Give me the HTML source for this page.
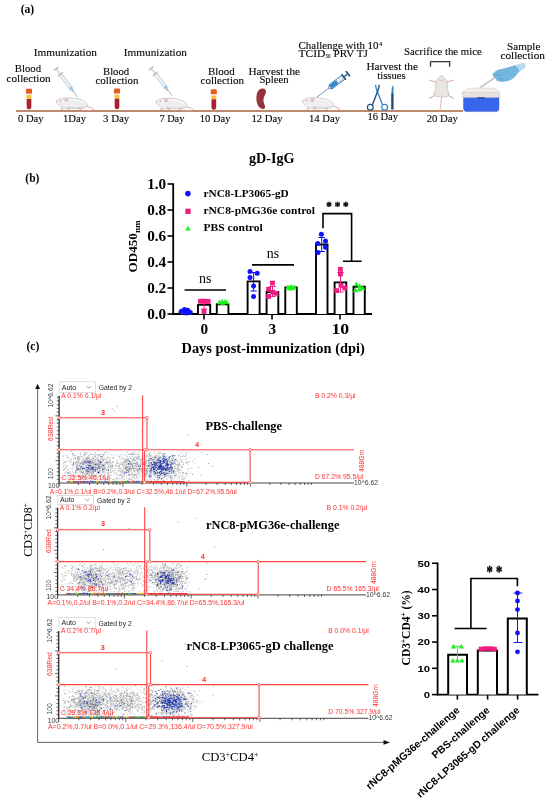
<!DOCTYPE html>
<html><head><meta charset="utf-8"><title>Figure</title>
<style>html,body{margin:0;padding:0;background:#fff;}svg{display:block;}</style></head>
<body><svg width="550" height="805" viewBox="0 0 550 805">
<rect width="550" height="805" fill="#fff"/>
<text x="20.7" y="13.2" font-family="'Liberation Serif', 'Times New Roman', serif" font-size="11.6" fill="#000" font-weight="bold" >(a)</text>
<g stroke="#222" stroke-width="0.12">
<line x1="16" y1="111.05" x2="463" y2="111.05" stroke="#a5643a" stroke-width="1.5" />
<text x="33.8" y="55.7" font-family="'Liberation Serif', 'Times New Roman', serif" font-size="10.2" fill="#000" textLength="63.2" lengthAdjust="spacingAndGlyphs" >Immunization</text>
<text x="123.8" y="55.7" font-family="'Liberation Serif', 'Times New Roman', serif" font-size="10.2" fill="#000" textLength="63.2" lengthAdjust="spacingAndGlyphs" >Immunization</text>
<text x="14.8" y="72" font-family="'Liberation Serif', 'Times New Roman', serif" font-size="10.2" fill="#000" textLength="26.2" lengthAdjust="spacingAndGlyphs" >Blood</text>
<text x="6.5" y="81.9" font-family="'Liberation Serif', 'Times New Roman', serif" font-size="10.2" fill="#000" textLength="44.1" lengthAdjust="spacingAndGlyphs" >collection</text>
<text x="103" y="75" font-family="'Liberation Serif', 'Times New Roman', serif" font-size="10.2" fill="#000" textLength="26.2" lengthAdjust="spacingAndGlyphs" >Blood</text>
<text x="95.5" y="84.3" font-family="'Liberation Serif', 'Times New Roman', serif" font-size="10.2" fill="#000" textLength="43.0" lengthAdjust="spacingAndGlyphs" >collection</text>
<text x="207.9" y="75.3" font-family="'Liberation Serif', 'Times New Roman', serif" font-size="10.2" fill="#000" textLength="26.8" lengthAdjust="spacingAndGlyphs" >Blood</text>
<text x="200.5" y="84.3" font-family="'Liberation Serif', 'Times New Roman', serif" font-size="10.2" fill="#000" textLength="43.5" lengthAdjust="spacingAndGlyphs" >collection</text>
<text x="248.5" y="74.5" font-family="'Liberation Serif', 'Times New Roman', serif" font-size="10.2" fill="#000" textLength="51.5" lengthAdjust="spacingAndGlyphs" >Harvest the</text>
<text x="259.4" y="83" font-family="'Liberation Serif', 'Times New Roman', serif" font-size="10.2" fill="#000" textLength="29.2" lengthAdjust="spacingAndGlyphs" >Spleen</text>
<text x="298.6" y="49.1" font-family="'Liberation Serif', 'Times New Roman', serif" font-size="10.2" fill="#000" textLength="79.9" lengthAdjust="spacingAndGlyphs" >Challenge with 10</text>
<text x="378.9" y="45.8" font-family="'Liberation Serif', 'Times New Roman', serif" font-size="6.4" fill="#000" >4</text>
<text x="298.6" y="56.9" font-family="'Liberation Serif', 'Times New Roman', serif" font-size="10.2" fill="#000" textLength="26.7" lengthAdjust="spacingAndGlyphs" >TCID</text>
<text x="325.4" y="57.9" font-family="'Liberation Serif', 'Times New Roman', serif" font-size="6.2" fill="#000" textLength="5.0" lengthAdjust="spacingAndGlyphs" >50</text>
<text x="333.5" y="56.9" font-family="'Liberation Serif', 'Times New Roman', serif" font-size="10.2" fill="#000" textLength="34.3" lengthAdjust="spacingAndGlyphs" >PRV TJ</text>
<text x="366.4" y="70.4" font-family="'Liberation Serif', 'Times New Roman', serif" font-size="10.2" fill="#000" textLength="51.5" lengthAdjust="spacingAndGlyphs" >Harvest the</text>
<text x="377.3" y="79" font-family="'Liberation Serif', 'Times New Roman', serif" font-size="10.2" fill="#000" textLength="28.3" lengthAdjust="spacingAndGlyphs" >tissues</text>
<text x="404" y="54.5" font-family="'Liberation Serif', 'Times New Roman', serif" font-size="10.2" fill="#000" textLength="77.8" lengthAdjust="spacingAndGlyphs" >Sacrifice the mice</text>
<text x="507" y="49.6" font-family="'Liberation Serif', 'Times New Roman', serif" font-size="10.2" fill="#000" textLength="33.4" lengthAdjust="spacingAndGlyphs" >Sample</text>
<text x="500.4" y="58.6" font-family="'Liberation Serif', 'Times New Roman', serif" font-size="10.2" fill="#000" textLength="44.6" lengthAdjust="spacingAndGlyphs" >collection</text>
<text x="18" y="121.9" font-family="'Liberation Serif', 'Times New Roman', serif" font-size="10.2" fill="#000" textLength="25.6" lengthAdjust="spacingAndGlyphs" >0 Day</text>
<text x="63" y="121.9" font-family="'Liberation Serif', 'Times New Roman', serif" font-size="10.2" fill="#000" textLength="23" lengthAdjust="spacingAndGlyphs" >1Day</text>
<text x="103" y="121.9" font-family="'Liberation Serif', 'Times New Roman', serif" font-size="10.2" fill="#000" textLength="26.3" lengthAdjust="spacingAndGlyphs" >3 Day</text>
<text x="159.4" y="121.9" font-family="'Liberation Serif', 'Times New Roman', serif" font-size="10.2" fill="#000" textLength="25" lengthAdjust="spacingAndGlyphs" >7 Day</text>
<text x="199.8" y="121.9" font-family="'Liberation Serif', 'Times New Roman', serif" font-size="10.2" fill="#000" textLength="30.6" lengthAdjust="spacingAndGlyphs" >10 Day</text>
<text x="251.5" y="121.9" font-family="'Liberation Serif', 'Times New Roman', serif" font-size="10.2" fill="#000" textLength="31.2" lengthAdjust="spacingAndGlyphs" >12 Day</text>
<text x="309" y="121.9" font-family="'Liberation Serif', 'Times New Roman', serif" font-size="10.2" fill="#000" textLength="31" lengthAdjust="spacingAndGlyphs" >14 Day</text>
<text x="367.5" y="120.2" font-family="'Liberation Serif', 'Times New Roman', serif" font-size="10.2" fill="#000" textLength="30.5" lengthAdjust="spacingAndGlyphs" >16 Day</text>
<text x="426.7" y="121.9" font-family="'Liberation Serif', 'Times New Roman', serif" font-size="10.2" fill="#000" textLength="31.1" lengthAdjust="spacingAndGlyphs" >20 Day</text>
</g>
<g>
<rect x="26" y="88.8" width="6" height="5" rx="0.8" fill="#ea5a1c"/>
<rect x="26.6" y="95.0" width="4.8" height="4" fill="#f3c430"/>
<path d="M26.6,98.89999999999999 h4.8 v8.2 a2.4,2.4 0 0 1 -4.8,0 z" fill="#ac1f2c"/>
<rect x="26.4" y="94.2" width="5.2" height="15.4" rx="2.2" fill="none" stroke="#e8d8d8" stroke-width="0.4"/>
</g>
<g>
<rect x="114" y="88.6" width="6" height="5" rx="0.8" fill="#ea5a1c"/>
<rect x="114.6" y="94.8" width="4.8" height="4" fill="#f3c430"/>
<path d="M114.6,98.69999999999999 h4.8 v8.2 a2.4,2.4 0 0 1 -4.8,0 z" fill="#ac1f2c"/>
<rect x="114.4" y="94.0" width="5.2" height="15.4" rx="2.2" fill="none" stroke="#e8d8d8" stroke-width="0.4"/>
</g>
<g>
<rect x="210.8" y="89.2" width="6" height="5" rx="0.8" fill="#ea5a1c"/>
<rect x="211.4" y="95.4" width="4.8" height="4" fill="#f3c430"/>
<path d="M211.4,99.3 h4.8 v8.2 a2.4,2.4 0 0 1 -4.8,0 z" fill="#ac1f2c"/>
<rect x="211.20000000000002" y="94.60000000000001" width="5.2" height="15.4" rx="2.2" fill="none" stroke="#e8d8d8" stroke-width="0.4"/>
</g>
<g transform="translate(56,68.5) rotate(53.03)">
<rect x="-0.2" y="-2.6" width="1.2" height="5.2" rx="0.5" fill="#c9d0d7" stroke="#97a1ab" stroke-width="0.35"/>
<rect x="1" y="-0.6" width="6" height="1.2" fill="#dde2e6" stroke="#9aa4ae" stroke-width="0.25"/>
<rect x="6.6" y="-3" width="1.1" height="6" rx="0.4" fill="#c9d0d7" stroke="#97a1ab" stroke-width="0.35"/>
<rect x="7.7" y="-1.6" width="19.22" height="3.2" fill="#edf1f4" stroke="#98a3ad" stroke-width="0.45"/>
<rect x="23.32" y="-1.4" width="2.6" height="2.8" fill="#8cc4ea"/>
<rect x="26.92" y="-0.9" width="1.4" height="1.8" fill="#a3acb5"/>
<line x1="28.32" y1="0" x2="35.42" y2="0" stroke="#6e7780" stroke-width="0.55"/>
</g>
<g transform="translate(151,68) rotate(52.73)">
<rect x="-0.2" y="-2.6" width="1.2" height="5.2" rx="0.5" fill="#c9d0d7" stroke="#97a1ab" stroke-width="0.35"/>
<rect x="1" y="-0.6" width="6" height="1.2" fill="#dde2e6" stroke="#9aa4ae" stroke-width="0.25"/>
<rect x="6.6" y="-3" width="1.1" height="6" rx="0.4" fill="#c9d0d7" stroke="#97a1ab" stroke-width="0.35"/>
<rect x="7.7" y="-1.6" width="18.66" height="3.2" fill="#edf1f4" stroke="#98a3ad" stroke-width="0.45"/>
<rect x="22.76" y="-1.4" width="2.6" height="2.8" fill="#8cc4ea"/>
<rect x="26.36" y="-0.9" width="1.4" height="1.8" fill="#a3acb5"/>
<line x1="27.76" y1="0" x2="34.68" y2="0" stroke="#6e7780" stroke-width="0.55"/>
</g>
<g transform="translate(56,97.6) scale(1.0)">
<path d="M29.5,8.4 C33.5,9.5 37,10.5 37.6,11.8 C36.2,13.2 31,13.3 26,12.9" fill="none" stroke="#e0959a" stroke-width="0.85"/>
<path d="M0,3.7 C1.6,2 4.5,0.6 8,0.3 C12,0 17,0.2 22,1.2 C27.5,2.4 31.5,5 31.4,8 C31.3,10.2 27,10.9 23,10.8 L9.5,10.8 C6,10.4 3.2,8 1.2,5.6 Z" fill="#efefef" stroke="#b4b4b4" stroke-width="0.55"/>
<path d="M11,8.6 C17,10.2 24,10 29.5,8.2 C30.5,9.6 28,10.6 23,10.6 L10,10.6 Z" fill="#d6d6d6"/>
<path d="M14,2 C19,1.6 25,3 28.5,5.5" fill="none" stroke="#fbfbfb" stroke-width="1.2"/>
<ellipse cx="10.3" cy="2.3" rx="2" ry="1.9" fill="#eeeeee" stroke="#bdbdbd" stroke-width="0.45"/>
<ellipse cx="10.4" cy="2.5" rx="1.2" ry="1.1" fill="#eea2aa"/>
<circle cx="4.6" cy="3.3" r="0.6" fill="#c86a74"/>
<circle cx="0.5" cy="4" r="0.55" fill="#e69aa0"/>
<path d="M6.5,10 l-1.8,1.6 h2.6 M12.5,10.6 l-0.6,1.1 h2.3 M23,10.6 l0.6,1.1 h2.3" fill="none" stroke="#e0959a" stroke-width="0.7"/>
</g>
<g transform="translate(155.7,97.9) scale(1.0)">
<path d="M29.5,8.4 C33.5,9.5 37,10.5 37.6,11.8 C36.2,13.2 31,13.3 26,12.9" fill="none" stroke="#e0959a" stroke-width="0.85"/>
<path d="M0,3.7 C1.6,2 4.5,0.6 8,0.3 C12,0 17,0.2 22,1.2 C27.5,2.4 31.5,5 31.4,8 C31.3,10.2 27,10.9 23,10.8 L9.5,10.8 C6,10.4 3.2,8 1.2,5.6 Z" fill="#efefef" stroke="#b4b4b4" stroke-width="0.55"/>
<path d="M11,8.6 C17,10.2 24,10 29.5,8.2 C30.5,9.6 28,10.6 23,10.6 L10,10.6 Z" fill="#d6d6d6"/>
<path d="M14,2 C19,1.6 25,3 28.5,5.5" fill="none" stroke="#fbfbfb" stroke-width="1.2"/>
<ellipse cx="10.3" cy="2.3" rx="2" ry="1.9" fill="#eeeeee" stroke="#bdbdbd" stroke-width="0.45"/>
<ellipse cx="10.4" cy="2.5" rx="1.2" ry="1.1" fill="#eea2aa"/>
<circle cx="4.6" cy="3.3" r="0.6" fill="#c86a74"/>
<circle cx="0.5" cy="4" r="0.55" fill="#e69aa0"/>
<path d="M6.5,10 l-1.8,1.6 h2.6 M12.5,10.6 l-0.6,1.1 h2.3 M23,10.6 l0.6,1.1 h2.3" fill="none" stroke="#e0959a" stroke-width="0.7"/>
</g>
<g transform="translate(302,97.5) scale(1.0)">
<path d="M29.5,8.4 C33.5,9.5 37,10.5 37.6,11.8 C36.2,13.2 31,13.3 26,12.9" fill="none" stroke="#e0959a" stroke-width="0.85"/>
<path d="M0,3.7 C1.6,2 4.5,0.6 8,0.3 C12,0 17,0.2 22,1.2 C27.5,2.4 31.5,5 31.4,8 C31.3,10.2 27,10.9 23,10.8 L9.5,10.8 C6,10.4 3.2,8 1.2,5.6 Z" fill="#efefef" stroke="#b4b4b4" stroke-width="0.55"/>
<path d="M11,8.6 C17,10.2 24,10 29.5,8.2 C30.5,9.6 28,10.6 23,10.6 L10,10.6 Z" fill="#d6d6d6"/>
<path d="M14,2 C19,1.6 25,3 28.5,5.5" fill="none" stroke="#fbfbfb" stroke-width="1.2"/>
<ellipse cx="10.3" cy="2.3" rx="2" ry="1.9" fill="#eeeeee" stroke="#bdbdbd" stroke-width="0.45"/>
<ellipse cx="10.4" cy="2.5" rx="1.2" ry="1.1" fill="#eea2aa"/>
<circle cx="4.6" cy="3.3" r="0.6" fill="#c86a74"/>
<circle cx="0.5" cy="4" r="0.55" fill="#e69aa0"/>
<path d="M6.5,10 l-1.8,1.6 h2.6 M12.5,10.6 l-0.6,1.1 h2.3 M23,10.6 l0.6,1.1 h2.3" fill="none" stroke="#e0959a" stroke-width="0.7"/>
</g>
<path d="M263,88.5 C265.6,88.7 266.6,91 265.6,93.6 C264.2,96.6 262.8,99.2 263.7,102.6 C264.6,105.6 266,107.8 264.3,108.7 C261.5,109.6 258.4,107.6 257.2,103.6 C255.9,99 256.2,93.5 258.4,90.5 C259.7,89 261.3,88.3 263,88.5 Z" fill="#93323a"/>
<path d="M259.2,93.5 C258.4,96.5 258.6,100.5 259.8,104" fill="none" stroke="#a84a50" stroke-width="0.7"/>
<g transform="translate(348.2,73.6) rotate(143.13)">
<rect x="-0.5" y="-3.4" width="1.6" height="6.8" rx="0.5" fill="#1f4f7d"/>
<rect x="1" y="-0.7" width="4.2" height="1.4" fill="#1f4f7d"/>
<rect x="4.8" y="-3.6" width="1.5" height="7.2" rx="0.4" fill="#1f4f7d"/>
<rect x="6.3" y="-2.5" width="16" height="5" fill="#e6f1fa" stroke="#1f4f7d" stroke-width="0.7"/>
<rect x="13.6" y="-2" width="8.2" height="4" fill="#2c86d6"/>
<path d="M8.2,-2.5 v1.6 M9.9,-2.5 v1.6 M11.6,-2.5 v1.6" stroke="#1f4f7d" stroke-width="0.4"/>
<rect x="22.3" y="-1.3" width="2" height="2.6" fill="#e6f1fa" stroke="#1f4f7d" stroke-width="0.5"/>
<line x1="24.3" y1="0" x2="39.00" y2="0" stroke="#3b78b0" stroke-width="0.7"/>
</g>
<circle cx="370.3" cy="107.2" r="2.9" fill="none" stroke="#1f4f7d" stroke-width="1.2"/>
<circle cx="384.6" cy="107.2" r="2.9" fill="none" stroke="#2f86c8" stroke-width="1.2"/>
<path d="M382.6,105 L376.2,88.5 L375.6,84.8" fill="none" stroke="#2f86c8" stroke-width="1.3"/>
<path d="M372.4,105 L378.6,88.5 L379.2,84.8" fill="none" stroke="#1f4f7d" stroke-width="1.4"/>
<path d="M391.2,109.6 L391.2,93.5 Q392.4,92.2 393.6,93.5 L393.6,109.6 Z" fill="#1f4f7d"/>
<path d="M391.4,93 L391.8,88 L393.2,84.6 L393.6,88.5 L393.4,93 Z" fill="#2f86c8"/>
<path d="M430.5,61.6 V66.8 M430.5,61.6 H449.6 V66.8" fill="none" stroke="#333" stroke-width="1.3"/>
<path d="M441.6,96.5 C441.2,101 440.6,106 439.8,111.6" fill="none" stroke="#dcaaa6" stroke-width="0.9"/>
<path d="M436.5,82 L429.6,80.2 M446.5,82 L453.5,80.2 M435.5,95 L429.6,98.2 M447.6,95 L453.3,98.2" fill="none" stroke="#dcb0a8" stroke-width="1.1" stroke-linecap="round"/>
<path d="M441.3,75.5 C443,76.5 445,78 446,80 C447.5,81.5 448,84 447.5,87 C447.2,89.5 448.5,91.5 449,93.5 C449.5,96 446.5,97 443,96.8 L441.5,97.2 L440,96.8 C436.5,97 433.5,96 434,93.5 C434.5,91.5 435.8,89.5 435.5,87 C435,84 435.5,81.5 437,80 C438,78 439.6,76.5 441.3,75.5 Z" fill="#e9e5e3" stroke="#bfaea6" stroke-width="0.55"/>
<path d="M438,79.5 C440,80.5 443,80.5 445,79.5" fill="none" stroke="#d4b4ac" stroke-width="0.6"/>
<path d="M463.5,97 H499 V108.5 Q499,111.6 495.5,111.6 H467 Q463.5,111.6 463.5,108.5 Z" fill="#3765ec" stroke="#2a52c8" stroke-width="0.4"/>
<path d="M462.4,92.4 H499.8 V97.4 H462.4 Z" fill="#e6e2de" stroke="#c2bcb6" stroke-width="0.45"/>
<path d="M468.4,88.2 H494.6 L499.8,92.4 H462.4 Z" fill="#f3f1ee" stroke="#c2bcb6" stroke-width="0.45"/>
<rect x="477.5" y="97.3" width="7" height="1.5" fill="#2447b0"/>
<path d="M480.2,87.6 L496.6,76.4" stroke="#a0a8b0" stroke-width="1.4" stroke-linecap="round"/>
<path d="M480.2,87.6 L496.6,76.4" stroke="#f6f8fa" stroke-width="0.6" stroke-linecap="round"/>
<path d="M511.5,66.8 C515.5,65 520,63.2 524.5,62.6 L526,67.6 C522.5,69.4 519.5,71.6 517,74 Z" fill="#a9d3ec" opacity="0.85"/>
<path d="M493,74 C495,71 499,69.6 503,69 C507,68.2 511,66.6 515,65.6 L519,70.4 C517,74 514.5,77.5 511,79.6 C507,81.6 501,82 497.5,80.8 C496,80.2 496,79.2 497,78.5 C494.5,78 492.5,76 493,74 Z" fill="#74b7de" stroke="#5a9cc6" stroke-width="0.45"/>
<path d="M497,78.5 C499.5,78 502,78.6 503.6,79.8 M495,74.6 C497.6,74.2 500,74.8 501.6,76.2" fill="none" stroke="#4f8fba" stroke-width="0.45"/>
<text x="25.3" y="182.2" font-family="'Liberation Serif', 'Times New Roman', serif" font-size="11.6" fill="#000" font-weight="bold" >(b)</text>
<text x="249" y="162.7" font-family="'Liberation Serif', 'Times New Roman', serif" font-size="14.5" fill="#000" font-weight="bold" textLength="45.5" lengthAdjust="spacingAndGlyphs" >gD-IgG</text>
<line x1="173.2" y1="183.3" x2="173.2" y2="314.8" stroke="#000" stroke-width="1.8" />
<line x1="172.3" y1="314" x2="372" y2="314" stroke="#000" stroke-width="1.8" />
<line x1="167.5" y1="314.0" x2="173.2" y2="314.0" stroke="#000" stroke-width="1.6" />
<text x="166.2" y="319.2" font-family="'Liberation Serif', 'Times New Roman', serif" font-size="13.9" fill="#000" font-weight="bold" text-anchor="end" textLength="19.0" lengthAdjust="spacingAndGlyphs" >0.0</text>
<line x1="167.5" y1="288.0" x2="173.2" y2="288.0" stroke="#000" stroke-width="1.6" />
<text x="166.2" y="293.2" font-family="'Liberation Serif', 'Times New Roman', serif" font-size="13.9" fill="#000" font-weight="bold" text-anchor="end" textLength="19.0" lengthAdjust="spacingAndGlyphs" >0.2</text>
<line x1="167.5" y1="262.0" x2="173.2" y2="262.0" stroke="#000" stroke-width="1.6" />
<text x="166.2" y="267.2" font-family="'Liberation Serif', 'Times New Roman', serif" font-size="13.9" fill="#000" font-weight="bold" text-anchor="end" textLength="19.0" lengthAdjust="spacingAndGlyphs" >0.4</text>
<line x1="167.5" y1="236.0" x2="173.2" y2="236.0" stroke="#000" stroke-width="1.6" />
<text x="166.2" y="241.2" font-family="'Liberation Serif', 'Times New Roman', serif" font-size="13.9" fill="#000" font-weight="bold" text-anchor="end" textLength="19.0" lengthAdjust="spacingAndGlyphs" >0.6</text>
<line x1="167.5" y1="210.0" x2="173.2" y2="210.0" stroke="#000" stroke-width="1.6" />
<text x="166.2" y="215.2" font-family="'Liberation Serif', 'Times New Roman', serif" font-size="13.9" fill="#000" font-weight="bold" text-anchor="end" textLength="19.0" lengthAdjust="spacingAndGlyphs" >0.8</text>
<line x1="167.5" y1="184.0" x2="173.2" y2="184.0" stroke="#000" stroke-width="1.6" />
<text x="166.2" y="189.2" font-family="'Liberation Serif', 'Times New Roman', serif" font-size="13.9" fill="#000" font-weight="bold" text-anchor="end" textLength="19.0" lengthAdjust="spacingAndGlyphs" >1.0</text>
<line x1="204" y1="314" x2="204" y2="319.6" stroke="#000" stroke-width="1.6" />
<text x="204.3" y="333.6" font-family="'Liberation Serif', 'Times New Roman', serif" font-size="14" fill="#000" font-weight="bold" text-anchor="middle" textLength="7.6" lengthAdjust="spacingAndGlyphs" >0</text>
<line x1="272" y1="314" x2="272" y2="319.6" stroke="#000" stroke-width="1.6" />
<text x="272.3" y="333.6" font-family="'Liberation Serif', 'Times New Roman', serif" font-size="14" fill="#000" font-weight="bold" text-anchor="middle" textLength="7.6" lengthAdjust="spacingAndGlyphs" >3</text>
<line x1="340" y1="314" x2="340" y2="319.6" stroke="#000" stroke-width="1.6" />
<text x="340.3" y="333.6" font-family="'Liberation Serif', 'Times New Roman', serif" font-size="14" fill="#000" font-weight="bold" text-anchor="middle" textLength="17.8" lengthAdjust="spacingAndGlyphs" >10</text>
<text x="181.5" y="353.3" font-family="'Liberation Serif', 'Times New Roman', serif" font-size="14.2" fill="#000" font-weight="bold" textLength="183.3" lengthAdjust="spacingAndGlyphs" >Days post-immunization (dpi)</text>
<text transform="translate(136.8,272.6) rotate(-90)" font-family="'Liberation Serif', 'Times New Roman', serif" font-size="13.2" fill="#000" font-weight="bold" >OD450<tspan font-size="9.2" dy="3">nm</tspan></text>
<path d="M179.6,314 V311.6 H191.4 V314" fill="#fff" stroke="#000" stroke-width="1.9"/>
<path d="M198,314 V304.9 H210.2 V314" fill="#fff" stroke="#000" stroke-width="1.9"/>
<path d="M216.8,314 V304.2 H228.4 V314" fill="#fff" stroke="#000" stroke-width="1.9"/>
<path d="M247.6,314 V281.4 H259.6 V314" fill="#fff" stroke="#000" stroke-width="1.9"/>
<path d="M266.6,314 V292.0 H278.3 V314" fill="#fff" stroke="#000" stroke-width="1.9"/>
<path d="M285.3,314 V287.5 H296.8 V314" fill="#fff" stroke="#000" stroke-width="1.9"/>
<path d="M316,314 V244.5 H327.5 V314" fill="#fff" stroke="#000" stroke-width="1.9"/>
<path d="M334.6,314 V282.4 H346.3 V314" fill="#fff" stroke="#000" stroke-width="1.9"/>
<path d="M353.5,314 V286.8 H364.8 V314" fill="#fff" stroke="#000" stroke-width="1.9"/>
<line x1="185.5" y1="309.5" x2="185.5" y2="313.5" stroke="#1010ff" stroke-width="1" />
<line x1="182.3" y1="309.5" x2="188.7" y2="309.5" stroke="#1010ff" stroke-width="1" />
<line x1="182.3" y1="313.5" x2="188.7" y2="313.5" stroke="#1010ff" stroke-width="1" />
<circle cx="181.5" cy="311.2" r="2.5" fill="#1010ff"/>
<circle cx="184.5" cy="309.6" r="2.5" fill="#1010ff"/>
<circle cx="187.8" cy="310.2" r="2.5" fill="#1010ff"/>
<circle cx="186.4" cy="313" r="2.5" fill="#1010ff"/>
<circle cx="190" cy="312.6" r="2.5" fill="#1010ff"/>
<line x1="204.1" y1="301.5" x2="204.1" y2="309" stroke="#f01c82" stroke-width="1" />
<line x1="200.9" y1="301.5" x2="207.29999999999998" y2="301.5" stroke="#f01c82" stroke-width="1" />
<line x1="200.9" y1="309" x2="207.29999999999998" y2="309" stroke="#f01c82" stroke-width="1" />
<rect x="198.0" y="298.90000000000003" width="4.8" height="4.8" fill="#f01c82"/>
<rect x="200.9" y="298.8" width="4.8" height="4.8" fill="#f01c82"/>
<rect x="203.79999999999998" y="298.90000000000003" width="4.8" height="4.8" fill="#f01c82"/>
<rect x="205.79999999999998" y="299.1" width="4.8" height="4.8" fill="#f01c82"/>
<rect x="201.6" y="309.1" width="4.8" height="4.8" fill="#f01c82"/>
<path d="M219.5,299.48 L222.20,304.18 L216.80,304.18 Z" fill="#1ef01e"/>
<path d="M222,298.88 L224.70,303.58 L219.30,303.58 Z" fill="#1ef01e"/>
<path d="M224.5,299.18 L227.20,303.88 L221.80,303.88 Z" fill="#1ef01e"/>
<path d="M226.5,299.58 L229.20,304.28 L223.80,304.28 Z" fill="#1ef01e"/>
<path d="M222.5,299.98 L225.20,304.68 L219.80,304.68 Z" fill="#1ef01e"/>
<line x1="253.6" y1="272.5" x2="253.6" y2="291" stroke="#1010ff" stroke-width="1" />
<line x1="250.4" y1="272.5" x2="256.8" y2="272.5" stroke="#1010ff" stroke-width="1" />
<line x1="250.4" y1="291" x2="256.8" y2="291" stroke="#1010ff" stroke-width="1" />
<circle cx="250" cy="271.5" r="2.5" fill="#1010ff"/>
<circle cx="257.2" cy="273.3" r="2.5" fill="#1010ff"/>
<circle cx="250" cy="277.5" r="2.5" fill="#1010ff"/>
<circle cx="253.6" cy="286" r="2.5" fill="#1010ff"/>
<circle cx="253.6" cy="296.5" r="2.5" fill="#1010ff"/>
<line x1="272.5" y1="286.5" x2="272.5" y2="296.5" stroke="#f01c82" stroke-width="1" />
<line x1="269.3" y1="286.5" x2="275.7" y2="286.5" stroke="#f01c82" stroke-width="1" />
<line x1="269.3" y1="296.5" x2="275.7" y2="296.5" stroke="#f01c82" stroke-width="1" />
<rect x="270.1" y="280.70000000000005" width="4.8" height="4.8" fill="#f01c82"/>
<rect x="266.20000000000005" y="286.8" width="4.8" height="4.8" fill="#f01c82"/>
<rect x="270.3" y="289.8" width="4.8" height="4.8" fill="#f01c82"/>
<rect x="273.6" y="290.90000000000003" width="4.8" height="4.8" fill="#f01c82"/>
<rect x="266.20000000000005" y="294.1" width="4.8" height="4.8" fill="#f01c82"/>
<path d="M288,284.58 L290.70,289.28 L285.30,289.28 Z" fill="#1ef01e"/>
<path d="M291,283.78 L293.70,288.48 L288.30,288.48 Z" fill="#1ef01e"/>
<path d="M294,284.38 L296.70,289.08 L291.30,289.08 Z" fill="#1ef01e"/>
<path d="M289.8,285.78 L292.50,290.48 L287.10,290.48 Z" fill="#1ef01e"/>
<path d="M292.6,285.58 L295.30,290.28 L289.90,290.28 Z" fill="#1ef01e"/>
<line x1="321.7" y1="237.5" x2="321.7" y2="251.5" stroke="#1010ff" stroke-width="1" />
<line x1="318.5" y1="237.5" x2="324.9" y2="237.5" stroke="#1010ff" stroke-width="1" />
<line x1="318.5" y1="251.5" x2="324.9" y2="251.5" stroke="#1010ff" stroke-width="1" />
<circle cx="321.4" cy="234.3" r="2.5" fill="#1010ff"/>
<circle cx="325.5" cy="241.1" r="2.5" fill="#1010ff"/>
<circle cx="317.7" cy="243.6" r="2.5" fill="#1010ff"/>
<circle cx="325.5" cy="247.3" r="2.5" fill="#1010ff"/>
<circle cx="318" cy="252.5" r="2.5" fill="#1010ff"/>
<line x1="340.5" y1="272.5" x2="340.5" y2="292" stroke="#f01c82" stroke-width="1" />
<line x1="337.3" y1="272.5" x2="343.7" y2="272.5" stroke="#f01c82" stroke-width="1" />
<line x1="337.3" y1="292" x2="343.7" y2="292" stroke="#f01c82" stroke-width="1" />
<rect x="338.0" y="266.90000000000003" width="4.8" height="4.8" fill="#f01c82"/>
<rect x="338.0" y="271.6" width="4.8" height="4.8" fill="#f01c82"/>
<rect x="338.6" y="283.0" width="4.8" height="4.8" fill="#f01c82"/>
<rect x="342.40000000000003" y="285.6" width="4.8" height="4.8" fill="#f01c82"/>
<rect x="334.3" y="288.20000000000005" width="4.8" height="4.8" fill="#f01c82"/>
<path d="M356.4,281.48 L359.10,286.18 L353.70,286.18 Z" fill="#1ef01e"/>
<path d="M359.7,283.38 L362.40,288.08 L357.00,288.08 Z" fill="#1ef01e"/>
<path d="M362.6,285.18 L365.30,289.88 L359.90,289.88 Z" fill="#1ef01e"/>
<path d="M355.5,287.58 L358.20,292.28 L352.80,292.28 Z" fill="#1ef01e"/>
<path d="M359.5,286.58 L362.20,291.28 L356.80,291.28 Z" fill="#1ef01e"/>
<line x1="184.6" y1="290" x2="226" y2="290" stroke="#000" stroke-width="1.6" />
<text x="205.3" y="282.7" font-family="'Liberation Serif', 'Times New Roman', serif" font-size="14.5" fill="#000" text-anchor="middle" textLength="12.4" lengthAdjust="spacingAndGlyphs" >ns</text>
<line x1="252" y1="264.9" x2="294" y2="264.9" stroke="#000" stroke-width="1.6" />
<text x="273" y="257.8" font-family="'Liberation Serif', 'Times New Roman', serif" font-size="14.5" fill="#000" text-anchor="middle" textLength="12.4" lengthAdjust="spacingAndGlyphs" >ns</text>
<path d="M323,228.2 V213.6 H351.6 V261.2 M343,261.2 H361.6" fill="none" stroke="#000" stroke-width="1.6"/>
<text x="337.5" y="209.8" font-family="'Liberation Serif', 'Times New Roman', serif" font-size="13.5" fill="#000" font-weight="bold" text-anchor="middle" textLength="22.4" lengthAdjust="spacingAndGlyphs" stroke="#000" stroke-width="0.45">* * *</text>
<circle cx="187.9" cy="193.6" r="2.8" fill="#1010ff"/>
<rect x="185.35" y="208.65" width="5.3" height="5.3" fill="#f01c82"/>
<path d="M188,225.68 L190.80,230.55 L185.20,230.55 Z" fill="#1ef01e"/>
<text x="203.5" y="196.5" font-family="'Liberation Serif', 'Times New Roman', serif" font-size="9.6" fill="#000" font-weight="bold" textLength="85.2" lengthAdjust="spacingAndGlyphs" >rNC8-LP3065-gD</text>
<text x="203.5" y="213.6" font-family="'Liberation Serif', 'Times New Roman', serif" font-size="9.6" fill="#000" font-weight="bold" textLength="111.5" lengthAdjust="spacingAndGlyphs" >rNC8-pMG36e control</text>
<text x="203.5" y="230.5" font-family="'Liberation Serif', 'Times New Roman', serif" font-size="9.6" fill="#000" font-weight="bold" textLength="59.2" lengthAdjust="spacingAndGlyphs" >PBS control</text>
<text x="26.4" y="349.6" font-family="'Liberation Serif', 'Times New Roman', serif" font-size="11.6" fill="#000" font-weight="bold" >(c)</text>
<path d="M37.6,387 V742.4 H387" fill="none" stroke="#555" stroke-width="0.9"/>
<path d="M37.6,383.8 L35.2,389 L40,389 Z" fill="#111"/>
<path d="M390,742.4 L383.5,740 L383.5,744.8 Z" fill="#111"/>
<text transform="translate(32.2,556.7) rotate(-90)" font-family="'Liberation Serif', 'Times New Roman', serif" font-size="12.2" fill="#000" textLength="53.5" lengthAdjust="spacingAndGlyphs" >CD3<tspan font-size="7.5" dy="-4.5">+</tspan><tspan dy="4.5">CD8</tspan><tspan font-size="7.5" dy="-4.5">+</tspan></text>
<text x="201.8" y="761" font-family="'Liberation Serif', 'Times New Roman', serif" font-size="12.2" fill="#000" textLength="56.6" lengthAdjust="spacingAndGlyphs" >CD3<tspan font-size="7.5" dy="-4.5">+</tspan><tspan dy="4.5">CD4</tspan><tspan font-size="7.5" dy="-4.5">+</tspan></text>
<rect x="59.2" y="381.8" width="36.2" height="10.7" fill="#fff" stroke="#c8c8c8" stroke-width="0.6" />
<text x="61.800000000000004" y="389.65000000000003" font-family="'Liberation Sans', Arial, sans-serif" font-size="7" fill="#222" >Auto</text>
<path d="M86.7,385.95000000000005 l2.2,2.2 l2.2,-2.2" fill="none" stroke="#666" stroke-width="0.6"/>
<text x="98.80000000000001" y="390.05" font-family="'Liberation Sans', Arial, sans-serif" font-size="7" fill="#222" textLength="33.2" lengthAdjust="spacingAndGlyphs" >Gated by 2</text>
<path d="M87.2,469.3h1.0v1.0h-1.0zM102.2,469.5h1.0v1.0h-1.0zM92.6,475.0h1.0v1.0h-1.0zM80.2,463.0h1.0v1.0h-1.0zM110.8,469.7h1.0v1.0h-1.0zM92.8,462.2h1.0v1.0h-1.0zM83.2,461.2h1.0v1.0h-1.0zM85.1,459.8h1.0v1.0h-1.0zM79.6,462.3h1.0v1.0h-1.0zM78.0,462.4h1.0v1.0h-1.0zM88.8,460.7h1.0v1.0h-1.0zM98.4,470.6h1.0v1.0h-1.0zM80.8,456.4h1.0v1.0h-1.0zM96.8,462.0h1.0v1.0h-1.0zM78.0,461.2h1.0v1.0h-1.0zM104.2,452.8h1.0v1.0h-1.0zM88.0,464.0h1.0v1.0h-1.0zM93.9,461.2h1.0v1.0h-1.0zM88.9,464.8h1.0v1.0h-1.0zM76.8,468.6h1.0v1.0h-1.0zM99.3,454.2h1.0v1.0h-1.0zM81.1,469.1h1.0v1.0h-1.0zM90.9,470.7h1.0v1.0h-1.0zM80.8,469.0h1.0v1.0h-1.0zM106.1,463.1h1.0v1.0h-1.0zM105.5,459.3h1.0v1.0h-1.0zM93.3,459.8h1.0v1.0h-1.0zM93.0,468.4h1.0v1.0h-1.0zM112.1,468.1h1.0v1.0h-1.0zM95.0,470.0h1.0v1.0h-1.0zM86.3,468.5h1.0v1.0h-1.0zM102.3,465.7h1.0v1.0h-1.0zM94.4,467.6h1.0v1.0h-1.0zM116.7,468.3h1.0v1.0h-1.0zM85.5,468.9h1.0v1.0h-1.0zM71.3,463.7h1.0v1.0h-1.0zM93.4,477.7h1.0v1.0h-1.0zM102.0,456.6h1.0v1.0h-1.0zM89.5,461.3h1.0v1.0h-1.0zM88.4,470.9h1.0v1.0h-1.0zM101.5,464.1h1.0v1.0h-1.0zM117.3,464.8h1.0v1.0h-1.0zM94.4,474.7h1.0v1.0h-1.0zM96.8,459.7h1.0v1.0h-1.0zM91.4,463.4h1.0v1.0h-1.0zM106.2,459.9h1.0v1.0h-1.0zM83.2,466.6h1.0v1.0h-1.0zM80.2,476.1h1.0v1.0h-1.0zM81.2,470.0h1.0v1.0h-1.0zM103.9,477.5h1.0v1.0h-1.0zM102.5,475.7h1.0v1.0h-1.0zM84.4,461.0h1.0v1.0h-1.0zM91.3,466.8h1.0v1.0h-1.0zM82.1,459.6h1.0v1.0h-1.0zM69.6,471.3h1.0v1.0h-1.0zM84.9,467.7h1.0v1.0h-1.0zM82.6,471.7h1.0v1.0h-1.0zM99.5,462.2h1.0v1.0h-1.0zM76.4,465.9h1.0v1.0h-1.0zM72.6,467.7h1.0v1.0h-1.0zM83.9,473.0h1.0v1.0h-1.0zM91.1,463.0h1.0v1.0h-1.0zM90.1,471.2h1.0v1.0h-1.0zM75.9,465.6h1.0v1.0h-1.0zM100.2,462.3h1.0v1.0h-1.0zM76.8,465.7h1.0v1.0h-1.0zM77.0,468.4h1.0v1.0h-1.0zM105.9,462.4h1.0v1.0h-1.0zM98.0,464.2h1.0v1.0h-1.0zM90.3,468.5h1.0v1.0h-1.0zM100.6,464.1h1.0v1.0h-1.0zM78.0,469.3h1.0v1.0h-1.0zM93.2,471.4h1.0v1.0h-1.0zM103.9,467.0h1.0v1.0h-1.0zM99.8,466.7h1.0v1.0h-1.0zM86.0,465.8h1.0v1.0h-1.0zM68.6,472.7h1.0v1.0h-1.0zM89.7,469.7h1.0v1.0h-1.0zM105.7,469.5h1.0v1.0h-1.0zM113.3,472.7h1.0v1.0h-1.0zM91.5,463.4h1.0v1.0h-1.0zM110.0,471.3h1.0v1.0h-1.0zM82.6,473.0h1.0v1.0h-1.0zM89.4,469.4h1.0v1.0h-1.0zM83.7,476.3h1.0v1.0h-1.0zM83.1,466.0h1.0v1.0h-1.0zM94.9,459.7h1.0v1.0h-1.0zM95.6,460.4h1.0v1.0h-1.0zM78.6,476.3h1.0v1.0h-1.0zM82.6,461.0h1.0v1.0h-1.0zM108.2,472.3h1.0v1.0h-1.0zM81.9,467.7h1.0v1.0h-1.0zM99.2,464.8h1.0v1.0h-1.0zM100.8,466.0h1.0v1.0h-1.0zM82.6,465.9h1.0v1.0h-1.0zM87.3,470.5h1.0v1.0h-1.0zM72.0,464.0h1.0v1.0h-1.0zM85.2,452.9h1.0v1.0h-1.0zM100.4,474.4h1.0v1.0h-1.0zM110.1,469.4h1.0v1.0h-1.0zM77.5,458.4h1.0v1.0h-1.0zM98.6,472.1h1.0v1.0h-1.0zM100.1,455.9h1.0v1.0h-1.0zM69.9,459.1h1.0v1.0h-1.0zM97.2,458.9h1.0v1.0h-1.0zM78.3,459.0h1.0v1.0h-1.0zM109.7,466.2h1.0v1.0h-1.0zM76.4,465.8h1.0v1.0h-1.0zM97.7,468.3h1.0v1.0h-1.0zM95.0,476.2h1.0v1.0h-1.0zM79.2,466.2h1.0v1.0h-1.0zM82.4,455.9h1.0v1.0h-1.0zM89.6,476.7h1.0v1.0h-1.0zM88.1,475.6h1.0v1.0h-1.0zM85.9,461.2h1.0v1.0h-1.0zM95.8,463.3h1.0v1.0h-1.0zM91.9,465.5h1.0v1.0h-1.0zM97.1,464.5h1.0v1.0h-1.0zM98.4,472.2h1.0v1.0h-1.0zM103.7,474.9h1.0v1.0h-1.0zM102.8,466.2h1.0v1.0h-1.0zM88.1,469.4h1.0v1.0h-1.0zM105.6,461.4h1.0v1.0h-1.0zM87.4,472.1h1.0v1.0h-1.0zM104.7,465.9h1.0v1.0h-1.0zM106.8,473.4h1.0v1.0h-1.0zM82.9,465.7h1.0v1.0h-1.0zM112.0,462.3h1.0v1.0h-1.0zM73.4,455.5h1.0v1.0h-1.0zM88.7,458.9h1.0v1.0h-1.0zM95.1,464.5h1.0v1.0h-1.0zM84.9,470.5h1.0v1.0h-1.0zM98.4,465.3h1.0v1.0h-1.0zM85.6,473.9h1.0v1.0h-1.0zM120.7,453.9h1.0v1.0h-1.0zM89.3,474.4h1.0v1.0h-1.0zM90.0,459.3h1.0v1.0h-1.0zM79.4,465.0h1.0v1.0h-1.0zM98.2,468.0h1.0v1.0h-1.0zM99.2,471.5h1.0v1.0h-1.0zM90.1,472.6h1.0v1.0h-1.0zM110.5,462.4h1.0v1.0h-1.0zM92.8,466.2h1.0v1.0h-1.0zM99.9,461.5h1.0v1.0h-1.0zM101.0,466.0h1.0v1.0h-1.0zM99.9,454.6h1.0v1.0h-1.0zM73.5,464.6h1.0v1.0h-1.0zM87.2,456.8h1.0v1.0h-1.0zM91.6,461.4h1.0v1.0h-1.0zM89.8,475.2h1.0v1.0h-1.0zM93.2,467.6h1.0v1.0h-1.0zM63.0,470.0h1.0v1.0h-1.0zM73.5,466.1h1.0v1.0h-1.0zM89.3,475.6h1.0v1.0h-1.0zM95.3,455.8h1.0v1.0h-1.0zM93.3,476.8h1.0v1.0h-1.0zM91.9,472.7h1.0v1.0h-1.0zM95.9,464.8h1.0v1.0h-1.0zM71.6,474.6h1.0v1.0h-1.0zM84.5,460.6h1.0v1.0h-1.0zM88.1,471.9h1.0v1.0h-1.0zM77.3,475.5h1.0v1.0h-1.0zM86.8,466.9h1.0v1.0h-1.0zM73.0,472.3h1.0v1.0h-1.0zM97.4,463.6h1.0v1.0h-1.0zM108.5,466.3h1.0v1.0h-1.0zM91.3,473.3h1.0v1.0h-1.0zM78.4,469.2h1.0v1.0h-1.0zM98.1,476.7h1.0v1.0h-1.0zM98.4,456.0h1.0v1.0h-1.0zM85.5,471.0h1.0v1.0h-1.0zM103.6,467.7h1.0v1.0h-1.0zM112.6,464.3h1.0v1.0h-1.0zM72.7,466.1h1.0v1.0h-1.0zM91.1,472.7h1.0v1.0h-1.0zM81.6,456.4h1.0v1.0h-1.0zM87.1,463.2h1.0v1.0h-1.0zM86.1,474.1h1.0v1.0h-1.0zM90.2,469.7h1.0v1.0h-1.0zM81.4,463.3h1.0v1.0h-1.0zM95.7,457.2h1.0v1.0h-1.0zM100.0,470.4h1.0v1.0h-1.0zM104.3,464.5h1.0v1.0h-1.0zM74.7,475.4h1.0v1.0h-1.0zM88.8,477.3h1.0v1.0h-1.0zM101.7,471.4h1.0v1.0h-1.0zM92.4,470.8h1.0v1.0h-1.0zM87.2,470.1h1.0v1.0h-1.0zM79.0,471.0h1.0v1.0h-1.0zM95.5,468.1h1.0v1.0h-1.0zM99.1,464.4h1.0v1.0h-1.0zM82.9,471.3h1.0v1.0h-1.0zM99.4,462.0h1.0v1.0h-1.0zM71.1,473.5h1.0v1.0h-1.0zM91.0,467.0h1.0v1.0h-1.0zM82.4,461.7h1.0v1.0h-1.0zM95.5,470.2h1.0v1.0h-1.0zM94.7,464.6h1.0v1.0h-1.0zM91.9,469.2h1.0v1.0h-1.0zM99.7,463.1h1.0v1.0h-1.0zM91.7,461.5h1.0v1.0h-1.0zM92.2,472.4h1.0v1.0h-1.0zM92.9,463.2h1.0v1.0h-1.0zM75.3,463.2h1.0v1.0h-1.0zM77.3,470.1h1.0v1.0h-1.0zM83.5,460.1h1.0v1.0h-1.0zM105.1,467.3h1.0v1.0h-1.0zM91.7,477.0h1.0v1.0h-1.0zM83.3,467.1h1.0v1.0h-1.0zM94.5,468.1h1.0v1.0h-1.0zM100.0,469.8h1.0v1.0h-1.0zM88.0,454.8h1.0v1.0h-1.0zM102.3,468.6h1.0v1.0h-1.0zM95.7,464.9h1.0v1.0h-1.0zM107.8,465.7h1.0v1.0h-1.0zM62.5,466.8h1.0v1.0h-1.0zM99.9,475.9h1.0v1.0h-1.0zM99.4,468.4h1.0v1.0h-1.0zM102.7,477.6h1.0v1.0h-1.0zM92.5,462.7h1.0v1.0h-1.0zM92.7,469.5h1.0v1.0h-1.0zM91.2,462.9h1.0v1.0h-1.0zM83.2,461.4h1.0v1.0h-1.0zM76.4,463.1h1.0v1.0h-1.0zM117.4,478.5h1.0v1.0h-1.0zM74.5,473.2h1.0v1.0h-1.0zM104.4,465.5h1.0v1.0h-1.0zM89.9,464.0h1.0v1.0h-1.0zM89.6,475.3h1.0v1.0h-1.0zM76.1,461.1h1.0v1.0h-1.0zM81.3,461.4h1.0v1.0h-1.0zM86.8,468.4h1.0v1.0h-1.0zM92.3,474.5h1.0v1.0h-1.0zM94.4,474.7h1.0v1.0h-1.0zM107.1,477.4h1.0v1.0h-1.0zM92.9,468.4h1.0v1.0h-1.0zM103.3,457.8h1.0v1.0h-1.0zM89.9,467.0h1.0v1.0h-1.0zM80.6,463.7h1.0v1.0h-1.0zM65.7,471.3h1.0v1.0h-1.0zM94.7,474.5h1.0v1.0h-1.0zM104.8,458.7h1.0v1.0h-1.0zM111.2,466.5h1.0v1.0h-1.0zM72.3,468.3h1.0v1.0h-1.0zM99.7,467.4h1.0v1.0h-1.0zM82.8,454.2h1.0v1.0h-1.0zM88.6,474.2h1.0v1.0h-1.0zM91.6,476.7h1.0v1.0h-1.0zM89.8,460.2h1.0v1.0h-1.0zM86.1,470.2h1.0v1.0h-1.0zM78.5,458.7h1.0v1.0h-1.0zM102.3,465.0h1.0v1.0h-1.0zM83.0,453.9h1.0v1.0h-1.0zM87.7,457.7h1.0v1.0h-1.0zM109.8,475.3h1.0v1.0h-1.0zM84.5,457.4h1.0v1.0h-1.0zM89.7,463.6h1.0v1.0h-1.0zM76.7,475.1h1.0v1.0h-1.0zM93.2,464.5h1.0v1.0h-1.0zM101.6,456.3h1.0v1.0h-1.0zM97.1,457.8h1.0v1.0h-1.0zM94.0,467.7h1.0v1.0h-1.0zM92.7,471.5h1.0v1.0h-1.0zM87.8,459.9h1.0v1.0h-1.0zM102.7,464.3h1.0v1.0h-1.0zM88.0,464.9h1.0v1.0h-1.0zM72.5,470.4h1.0v1.0h-1.0zM93.1,463.8h1.0v1.0h-1.0zM102.8,466.2h1.0v1.0h-1.0zM92.0,462.0h1.0v1.0h-1.0zM78.1,476.1h1.0v1.0h-1.0zM87.0,464.0h1.0v1.0h-1.0zM83.7,455.2h1.0v1.0h-1.0zM83.1,471.2h1.0v1.0h-1.0zM93.6,464.2h1.0v1.0h-1.0zM100.6,461.5h1.0v1.0h-1.0zM96.0,462.8h1.0v1.0h-1.0zM71.9,463.9h1.0v1.0h-1.0zM83.8,461.2h1.0v1.0h-1.0zM101.9,476.4h1.0v1.0h-1.0zM89.7,462.0h1.0v1.0h-1.0zM93.3,471.1h1.0v1.0h-1.0zM90.1,471.8h1.0v1.0h-1.0zM95.0,465.3h1.0v1.0h-1.0zM109.5,464.8h1.0v1.0h-1.0zM83.3,467.7h1.0v1.0h-1.0zM95.9,468.8h1.0v1.0h-1.0zM100.8,467.4h1.0v1.0h-1.0zM85.5,458.8h1.0v1.0h-1.0zM84.1,466.8h1.0v1.0h-1.0zM75.1,472.0h1.0v1.0h-1.0zM77.0,469.6h1.0v1.0h-1.0zM83.0,468.2h1.0v1.0h-1.0zM103.8,458.3h1.0v1.0h-1.0zM100.0,458.2h1.0v1.0h-1.0zM80.9,467.6h1.0v1.0h-1.0zM99.4,469.9h1.0v1.0h-1.0zM79.2,469.3h1.0v1.0h-1.0zM76.1,471.3h1.0v1.0h-1.0zM96.5,474.7h1.0v1.0h-1.0zM80.2,470.9h1.0v1.0h-1.0zM85.0,465.6h1.0v1.0h-1.0zM73.1,463.4h1.0v1.0h-1.0zM76.7,456.6h1.0v1.0h-1.0zM85.6,460.1h1.0v1.0h-1.0zM112.8,479.0h1.0v1.0h-1.0zM98.3,467.8h1.0v1.0h-1.0zM101.4,466.6h1.0v1.0h-1.0zM92.9,476.6h1.0v1.0h-1.0zM82.4,465.2h1.0v1.0h-1.0zM93.3,454.3h1.0v1.0h-1.0zM100.0,464.6h1.0v1.0h-1.0zM98.5,455.1h1.0v1.0h-1.0zM95.2,460.7h1.0v1.0h-1.0zM86.0,473.0h1.0v1.0h-1.0zM79.5,458.8h1.0v1.0h-1.0zM101.2,453.5h1.0v1.0h-1.0zM103.2,475.5h1.0v1.0h-1.0zM91.7,466.1h1.0v1.0h-1.0zM95.0,469.7h1.0v1.0h-1.0zM86.4,469.1h1.0v1.0h-1.0zM91.7,462.2h1.0v1.0h-1.0zM75.1,458.9h1.0v1.0h-1.0zM105.2,458.9h1.0v1.0h-1.0zM95.5,475.4h1.0v1.0h-1.0zM89.4,459.0h1.0v1.0h-1.0zM84.0,466.7h1.0v1.0h-1.0zM76.3,466.1h1.0v1.0h-1.0zM111.1,466.5h1.0v1.0h-1.0zM75.0,462.3h1.0v1.0h-1.0zM81.9,470.8h1.0v1.0h-1.0zM103.9,470.2h1.0v1.0h-1.0zM104.8,467.6h1.0v1.0h-1.0zM99.0,463.6h1.0v1.0h-1.0zM77.4,465.5h1.0v1.0h-1.0zM107.1,468.2h1.0v1.0h-1.0zM78.4,477.0h1.0v1.0h-1.0zM76.7,467.3h1.0v1.0h-1.0zM92.9,472.7h1.0v1.0h-1.0zM70.6,461.9h1.0v1.0h-1.0zM95.2,460.2h1.0v1.0h-1.0zM88.2,473.7h1.0v1.0h-1.0zM79.0,456.5h1.0v1.0h-1.0zM86.2,471.0h1.0v1.0h-1.0zM86.1,452.7h1.0v1.0h-1.0zM99.1,479.6h1.0v1.0h-1.0zM79.4,456.4h1.0v1.0h-1.0zM78.4,460.2h1.0v1.0h-1.0zM85.1,457.7h1.0v1.0h-1.0zM93.8,475.4h1.0v1.0h-1.0zM108.5,468.6h1.0v1.0h-1.0zM84.1,460.8h1.0v1.0h-1.0zM86.3,472.4h1.0v1.0h-1.0zM75.7,469.9h1.0v1.0h-1.0zM104.7,474.1h1.0v1.0h-1.0zM78.8,471.7h1.0v1.0h-1.0zM102.4,465.1h1.0v1.0h-1.0zM87.7,463.0h1.0v1.0h-1.0zM92.6,455.8h1.0v1.0h-1.0zM89.4,463.3h1.0v1.0h-1.0zM86.9,459.0h1.0v1.0h-1.0zM80.3,472.3h1.0v1.0h-1.0zM87.3,462.7h1.0v1.0h-1.0zM79.7,473.1h1.0v1.0h-1.0zM80.6,469.2h1.0v1.0h-1.0zM108.1,462.1h1.0v1.0h-1.0zM89.0,468.2h1.0v1.0h-1.0zM84.0,454.3h1.0v1.0h-1.0zM66.2,455.0h1.0v1.0h-1.0zM82.4,462.7h1.0v1.0h-1.0zM98.2,461.9h1.0v1.0h-1.0zM71.2,457.7h1.0v1.0h-1.0zM77.1,470.0h1.0v1.0h-1.0zM92.5,464.8h1.0v1.0h-1.0zM98.4,453.9h1.0v1.0h-1.0zM86.8,478.5h1.0v1.0h-1.0zM80.3,452.8h1.0v1.0h-1.0zM102.0,470.2h1.0v1.0h-1.0zM95.6,476.3h1.0v1.0h-1.0zM91.5,474.8h1.0v1.0h-1.0zM90.1,454.5h1.0v1.0h-1.0zM107.0,472.2h1.0v1.0h-1.0zM91.6,474.5h1.0v1.0h-1.0zM100.0,460.8h1.0v1.0h-1.0zM97.2,475.2h1.0v1.0h-1.0zM79.7,463.4h1.0v1.0h-1.0zM92.0,467.6h1.0v1.0h-1.0zM86.3,468.2h1.0v1.0h-1.0zM91.5,462.3h1.0v1.0h-1.0zM122.8,470.1h1.0v1.0h-1.0zM92.1,459.3h1.0v1.0h-1.0zM92.2,454.1h1.0v1.0h-1.0zM69.2,461.4h1.0v1.0h-1.0zM98.2,464.7h1.0v1.0h-1.0zM72.5,453.4h1.0v1.0h-1.0zM98.2,467.2h1.0v1.0h-1.0zM109.5,457.9h1.0v1.0h-1.0zM108.5,469.3h1.0v1.0h-1.0zM101.3,474.6h1.0v1.0h-1.0zM85.9,461.1h1.0v1.0h-1.0zM89.8,469.3h1.0v1.0h-1.0zM89.2,465.1h1.0v1.0h-1.0zM91.0,467.7h1.0v1.0h-1.0zM94.7,480.9h1.0v1.0h-1.0zM94.6,463.7h1.0v1.0h-1.0zM110.7,474.6h1.0v1.0h-1.0zM81.6,460.9h1.0v1.0h-1.0zM95.6,459.4h1.0v1.0h-1.0zM96.0,462.3h1.0v1.0h-1.0zM94.9,470.3h1.0v1.0h-1.0zM86.6,469.4h1.0v1.0h-1.0zM93.7,465.7h1.0v1.0h-1.0zM86.3,462.1h1.0v1.0h-1.0zM88.6,460.6h1.0v1.0h-1.0zM109.9,467.2h1.0v1.0h-1.0zM90.4,466.3h1.0v1.0h-1.0zM83.0,465.3h1.0v1.0h-1.0zM96.6,463.6h1.0v1.0h-1.0zM94.5,469.1h1.0v1.0h-1.0zM102.8,470.6h1.0v1.0h-1.0zM88.9,470.4h1.0v1.0h-1.0zM84.7,454.5h1.0v1.0h-1.0zM91.2,468.3h1.0v1.0h-1.0zM93.7,460.5h1.0v1.0h-1.0zM100.6,462.0h1.0v1.0h-1.0zM89.3,470.1h1.0v1.0h-1.0zM85.6,468.9h1.0v1.0h-1.0zM89.1,465.6h1.0v1.0h-1.0zM85.5,454.3h1.0v1.0h-1.0zM82.5,475.2h1.0v1.0h-1.0zM90.0,463.7h1.0v1.0h-1.0zM102.3,463.8h1.0v1.0h-1.0zM96.7,469.0h1.0v1.0h-1.0zM94.9,466.5h1.0v1.0h-1.0zM90.7,467.2h1.0v1.0h-1.0zM78.1,462.3h1.0v1.0h-1.0zM107.7,473.9h1.0v1.0h-1.0zM95.4,466.9h1.0v1.0h-1.0zM85.0,468.0h1.0v1.0h-1.0zM94.0,463.2h1.0v1.0h-1.0zM89.9,462.1h1.0v1.0h-1.0zM100.1,463.5h1.0v1.0h-1.0zM97.2,459.3h1.0v1.0h-1.0zM107.8,461.9h1.0v1.0h-1.0zM90.6,471.9h1.0v1.0h-1.0zM109.7,464.6h1.0v1.0h-1.0zM62.5,464.2h1.0v1.0h-1.0zM90.1,472.8h1.0v1.0h-1.0zM108.6,479.2h1.0v1.0h-1.0zM104.4,462.4h1.0v1.0h-1.0zM84.6,462.0h1.0v1.0h-1.0zM88.0,474.0h1.0v1.0h-1.0zM84.0,462.6h1.0v1.0h-1.0zM65.3,472.5h1.0v1.0h-1.0zM67.2,456.9h1.0v1.0h-1.0zM88.6,473.2h1.0v1.0h-1.0zM90.2,468.8h1.0v1.0h-1.0zM98.1,458.5h1.0v1.0h-1.0zM85.7,462.5h1.0v1.0h-1.0zM76.6,468.0h1.0v1.0h-1.0zM92.3,473.7h1.0v1.0h-1.0zM88.5,465.5h1.0v1.0h-1.0zM95.2,462.3h1.0v1.0h-1.0zM81.0,466.3h1.0v1.0h-1.0zM110.3,471.4h1.0v1.0h-1.0zM100.1,468.4h1.0v1.0h-1.0zM84.7,471.2h1.0v1.0h-1.0zM74.0,457.5h1.0v1.0h-1.0zM72.1,464.8h1.0v1.0h-1.0zM90.8,458.6h1.0v1.0h-1.0zM90.7,465.6h1.0v1.0h-1.0zM78.9,462.1h1.0v1.0h-1.0zM79.7,463.0h1.0v1.0h-1.0zM100.5,459.6h1.0v1.0h-1.0zM78.4,468.1h1.0v1.0h-1.0zM87.1,472.2h1.0v1.0h-1.0zM82.7,469.8h1.0v1.0h-1.0zM97.6,459.8h1.0v1.0h-1.0zM98.5,463.2h1.0v1.0h-1.0zM103.6,468.5h1.0v1.0h-1.0zM106.6,460.6h1.0v1.0h-1.0zM103.3,465.9h1.0v1.0h-1.0zM85.7,460.1h1.0v1.0h-1.0zM81.5,462.6h1.0v1.0h-1.0zM82.2,470.7h1.0v1.0h-1.0zM69.8,460.0h1.0v1.0h-1.0zM78.2,466.6h1.0v1.0h-1.0zM100.1,465.9h1.0v1.0h-1.0zM110.4,464.4h1.0v1.0h-1.0zM107.9,474.8h1.0v1.0h-1.0zM86.7,473.5h1.0v1.0h-1.0zM92.6,469.8h1.0v1.0h-1.0zM81.8,462.3h1.0v1.0h-1.0zM87.9,464.6h1.0v1.0h-1.0zM92.2,460.6h1.0v1.0h-1.0zM99.4,466.1h1.0v1.0h-1.0zM81.8,459.6h1.0v1.0h-1.0zM95.4,468.3h1.0v1.0h-1.0zM96.7,458.0h1.0v1.0h-1.0zM91.6,466.4h1.0v1.0h-1.0zM82.3,475.2h1.0v1.0h-1.0zM102.0,461.1h1.0v1.0h-1.0zM101.2,460.5h1.0v1.0h-1.0zM114.5,470.1h1.0v1.0h-1.0zM80.7,478.8h1.0v1.0h-1.0zM85.1,474.3h1.0v1.0h-1.0zM63.1,466.4h1.0v1.0h-1.0zM81.8,478.4h1.0v1.0h-1.0zM85.5,469.2h1.0v1.0h-1.0zM79.4,464.6h1.0v1.0h-1.0zM95.2,467.3h1.0v1.0h-1.0zM92.9,463.1h1.0v1.0h-1.0zM79.4,474.3h1.0v1.0h-1.0zM97.3,464.9h1.0v1.0h-1.0zM123.0,465.9h1.0v1.0h-1.0zM135.5,473.5h1.0v1.0h-1.0zM135.5,460.9h1.0v1.0h-1.0zM130.5,463.6h1.0v1.0h-1.0zM122.6,464.6h1.0v1.0h-1.0zM120.3,472.3h1.0v1.0h-1.0zM134.0,477.4h1.0v1.0h-1.0zM126.2,463.3h1.0v1.0h-1.0zM122.7,471.9h1.0v1.0h-1.0zM135.8,473.4h1.0v1.0h-1.0zM115.4,474.1h1.0v1.0h-1.0zM127.7,467.6h1.0v1.0h-1.0zM124.6,460.8h1.0v1.0h-1.0zM131.7,461.0h1.0v1.0h-1.0zM129.4,468.9h1.0v1.0h-1.0zM132.8,458.9h1.0v1.0h-1.0zM127.8,472.9h1.0v1.0h-1.0zM127.8,466.2h1.0v1.0h-1.0zM128.1,469.2h1.0v1.0h-1.0zM131.8,480.0h1.0v1.0h-1.0zM137.2,471.2h1.0v1.0h-1.0zM127.8,453.8h1.0v1.0h-1.0zM142.3,474.4h1.0v1.0h-1.0zM137.7,461.8h1.0v1.0h-1.0zM132.7,458.0h1.0v1.0h-1.0zM138.2,469.4h1.0v1.0h-1.0zM128.2,464.1h1.0v1.0h-1.0zM129.9,461.2h1.0v1.0h-1.0zM137.8,464.2h1.0v1.0h-1.0zM128.0,468.3h1.0v1.0h-1.0zM124.0,468.3h1.0v1.0h-1.0zM135.2,473.7h1.0v1.0h-1.0zM128.4,470.8h1.0v1.0h-1.0zM112.6,471.2h1.0v1.0h-1.0zM122.2,463.7h1.0v1.0h-1.0zM123.3,458.4h1.0v1.0h-1.0zM124.4,472.5h1.0v1.0h-1.0zM124.9,464.8h1.0v1.0h-1.0zM123.8,467.7h1.0v1.0h-1.0zM143.7,466.8h1.0v1.0h-1.0zM116.6,455.1h1.0v1.0h-1.0zM139.9,467.9h1.0v1.0h-1.0zM126.7,470.0h1.0v1.0h-1.0zM130.8,454.0h1.0v1.0h-1.0zM125.9,469.7h1.0v1.0h-1.0zM125.1,471.6h1.0v1.0h-1.0zM136.8,468.2h1.0v1.0h-1.0zM132.6,456.8h1.0v1.0h-1.0zM135.7,463.4h1.0v1.0h-1.0zM131.2,470.6h1.0v1.0h-1.0zM127.9,465.5h1.0v1.0h-1.0zM135.6,457.0h1.0v1.0h-1.0zM125.9,475.4h1.0v1.0h-1.0zM122.4,468.8h1.0v1.0h-1.0zM121.4,455.5h1.0v1.0h-1.0zM131.0,470.7h1.0v1.0h-1.0zM133.3,468.9h1.0v1.0h-1.0zM143.1,463.4h1.0v1.0h-1.0zM145.7,463.3h1.0v1.0h-1.0zM128.9,463.9h1.0v1.0h-1.0zM123.5,462.5h1.0v1.0h-1.0zM135.7,463.8h1.0v1.0h-1.0zM126.0,471.7h1.0v1.0h-1.0zM132.5,466.7h1.0v1.0h-1.0zM125.2,466.9h1.0v1.0h-1.0zM121.6,472.2h1.0v1.0h-1.0zM119.1,464.4h1.0v1.0h-1.0zM131.3,468.7h1.0v1.0h-1.0zM124.7,465.1h1.0v1.0h-1.0zM127.9,468.9h1.0v1.0h-1.0zM127.9,473.5h1.0v1.0h-1.0zM125.7,467.4h1.0v1.0h-1.0zM133.8,459.8h1.0v1.0h-1.0zM128.1,462.8h1.0v1.0h-1.0zM127.4,463.0h1.0v1.0h-1.0zM124.7,468.5h1.0v1.0h-1.0zM127.1,466.8h1.0v1.0h-1.0zM129.4,471.3h1.0v1.0h-1.0zM114.9,472.1h1.0v1.0h-1.0zM134.3,460.0h1.0v1.0h-1.0zM130.9,463.1h1.0v1.0h-1.0zM121.5,475.3h1.0v1.0h-1.0zM129.6,463.0h1.0v1.0h-1.0zM127.6,464.1h1.0v1.0h-1.0zM135.2,470.8h1.0v1.0h-1.0zM140.1,475.7h1.0v1.0h-1.0zM127.9,470.3h1.0v1.0h-1.0zM131.4,466.4h1.0v1.0h-1.0zM131.5,473.6h1.0v1.0h-1.0zM134.2,460.3h1.0v1.0h-1.0zM125.8,469.1h1.0v1.0h-1.0zM133.3,476.9h1.0v1.0h-1.0zM131.9,460.6h1.0v1.0h-1.0zM125.9,464.3h1.0v1.0h-1.0zM131.1,479.5h1.0v1.0h-1.0zM132.1,467.1h1.0v1.0h-1.0zM119.0,467.7h1.0v1.0h-1.0zM127.5,466.6h1.0v1.0h-1.0zM127.3,467.1h1.0v1.0h-1.0zM122.5,466.0h1.0v1.0h-1.0zM110.7,463.1h1.0v1.0h-1.0zM136.8,467.8h1.0v1.0h-1.0zM136.4,457.9h1.0v1.0h-1.0zM132.0,453.3h1.0v1.0h-1.0zM125.5,461.0h1.0v1.0h-1.0zM127.5,458.3h1.0v1.0h-1.0zM122.8,472.6h1.0v1.0h-1.0zM133.9,468.2h1.0v1.0h-1.0zM136.0,465.5h1.0v1.0h-1.0zM128.2,470.8h1.0v1.0h-1.0zM128.6,466.6h1.0v1.0h-1.0zM120.7,468.0h1.0v1.0h-1.0zM126.1,471.3h1.0v1.0h-1.0zM112.4,461.2h1.0v1.0h-1.0zM132.0,473.7h1.0v1.0h-1.0zM120.5,474.8h1.0v1.0h-1.0zM129.8,464.2h1.0v1.0h-1.0zM126.6,461.6h1.0v1.0h-1.0zM130.9,474.4h1.0v1.0h-1.0zM125.2,462.5h1.0v1.0h-1.0zM133.2,453.6h1.0v1.0h-1.0zM131.0,469.2h1.0v1.0h-1.0zM135.1,459.4h1.0v1.0h-1.0zM129.5,471.6h1.0v1.0h-1.0zM123.8,460.7h1.0v1.0h-1.0zM126.7,467.9h1.0v1.0h-1.0zM137.4,468.6h1.0v1.0h-1.0zM126.9,466.2h1.0v1.0h-1.0zM119.5,459.2h1.0v1.0h-1.0zM128.3,463.2h1.0v1.0h-1.0zM120.3,469.8h1.0v1.0h-1.0zM118.4,462.8h1.0v1.0h-1.0zM122.4,475.3h1.0v1.0h-1.0zM125.1,455.3h1.0v1.0h-1.0zM123.6,476.4h1.0v1.0h-1.0zM122.6,467.5h1.0v1.0h-1.0zM117.9,467.4h1.0v1.0h-1.0zM129.6,467.7h1.0v1.0h-1.0zM123.8,464.6h1.0v1.0h-1.0zM136.2,465.2h1.0v1.0h-1.0zM121.0,475.7h1.0v1.0h-1.0zM127.7,463.6h1.0v1.0h-1.0zM121.4,463.4h1.0v1.0h-1.0zM127.9,471.1h1.0v1.0h-1.0zM128.6,470.4h1.0v1.0h-1.0zM124.3,461.7h1.0v1.0h-1.0zM137.2,456.1h1.0v1.0h-1.0zM128.1,453.9h1.0v1.0h-1.0zM124.0,472.5h1.0v1.0h-1.0zM133.6,474.4h1.0v1.0h-1.0zM119.2,468.5h1.0v1.0h-1.0zM131.6,479.1h1.0v1.0h-1.0zM129.0,465.9h1.0v1.0h-1.0zM119.6,478.3h1.0v1.0h-1.0zM129.2,477.5h1.0v1.0h-1.0zM134.1,465.7h1.0v1.0h-1.0zM124.0,467.8h1.0v1.0h-1.0zM134.9,474.5h1.0v1.0h-1.0zM133.0,469.9h1.0v1.0h-1.0zM142.2,463.3h1.0v1.0h-1.0zM129.9,466.8h1.0v1.0h-1.0zM120.5,470.5h1.0v1.0h-1.0zM138.7,466.7h1.0v1.0h-1.0zM119.5,463.8h1.0v1.0h-1.0zM142.2,464.5h1.0v1.0h-1.0zM123.1,469.4h1.0v1.0h-1.0zM134.8,464.9h1.0v1.0h-1.0zM124.7,467.9h1.0v1.0h-1.0zM137.6,466.3h1.0v1.0h-1.0zM127.7,474.9h1.0v1.0h-1.0zM134.8,456.5h1.0v1.0h-1.0zM138.3,469.1h1.0v1.0h-1.0zM122.6,459.5h1.0v1.0h-1.0zM128.3,466.0h1.0v1.0h-1.0zM133.1,459.8h1.0v1.0h-1.0zM133.1,465.8h1.0v1.0h-1.0zM127.7,459.7h1.0v1.0h-1.0zM121.3,470.9h1.0v1.0h-1.0zM125.3,460.9h1.0v1.0h-1.0zM123.2,464.8h1.0v1.0h-1.0zM126.6,480.2h1.0v1.0h-1.0zM126.5,458.2h1.0v1.0h-1.0zM128.7,469.5h1.0v1.0h-1.0zM119.6,464.6h1.0v1.0h-1.0zM131.4,459.5h1.0v1.0h-1.0zM134.9,453.8h1.0v1.0h-1.0zM134.6,467.7h1.0v1.0h-1.0zM128.0,469.0h1.0v1.0h-1.0zM130.8,458.5h1.0v1.0h-1.0zM134.0,469.4h1.0v1.0h-1.0zM125.4,459.3h1.0v1.0h-1.0zM125.2,460.4h1.0v1.0h-1.0zM128.5,472.2h1.0v1.0h-1.0zM126.9,460.9h1.0v1.0h-1.0zM117.0,471.4h1.0v1.0h-1.0zM126.5,467.4h1.0v1.0h-1.0zM120.6,473.6h1.0v1.0h-1.0zM119.5,471.1h1.0v1.0h-1.0zM123.9,471.1h1.0v1.0h-1.0zM132.1,464.1h1.0v1.0h-1.0zM126.4,459.9h1.0v1.0h-1.0zM126.7,468.2h1.0v1.0h-1.0zM121.8,471.5h1.0v1.0h-1.0zM121.5,462.0h1.0v1.0h-1.0zM131.9,460.3h1.0v1.0h-1.0zM133.8,461.6h1.0v1.0h-1.0zM115.0,465.1h1.0v1.0h-1.0zM124.2,458.5h1.0v1.0h-1.0zM138.0,471.7h1.0v1.0h-1.0zM138.0,469.3h1.0v1.0h-1.0zM125.7,466.2h1.0v1.0h-1.0zM119.9,470.2h1.0v1.0h-1.0zM125.9,470.6h1.0v1.0h-1.0zM120.1,463.3h1.0v1.0h-1.0zM133.7,467.7h1.0v1.0h-1.0zM132.4,453.9h1.0v1.0h-1.0zM128.7,468.0h1.0v1.0h-1.0zM122.5,471.2h1.0v1.0h-1.0zM122.2,462.9h1.0v1.0h-1.0zM132.8,479.9h1.0v1.0h-1.0zM133.8,467.8h1.0v1.0h-1.0zM120.4,470.5h1.0v1.0h-1.0zM126.2,477.5h1.0v1.0h-1.0zM124.9,454.7h1.0v1.0h-1.0zM112.3,470.3h1.0v1.0h-1.0zM129.7,464.4h1.0v1.0h-1.0zM126.6,464.4h1.0v1.0h-1.0zM135.9,462.1h1.0v1.0h-1.0zM117.5,466.1h1.0v1.0h-1.0zM126.7,470.3h1.0v1.0h-1.0zM130.5,467.7h1.0v1.0h-1.0zM134.9,464.0h1.0v1.0h-1.0zM127.3,480.1h1.0v1.0h-1.0zM129.3,467.8h1.0v1.0h-1.0zM140.9,469.2h1.0v1.0h-1.0zM129.0,474.5h1.0v1.0h-1.0zM124.2,464.6h1.0v1.0h-1.0zM126.6,467.1h1.0v1.0h-1.0zM124.8,462.4h1.0v1.0h-1.0zM134.5,470.0h1.0v1.0h-1.0zM129.7,463.1h1.0v1.0h-1.0zM144.6,465.6h1.0v1.0h-1.0zM126.4,471.8h1.0v1.0h-1.0zM139.1,467.2h1.0v1.0h-1.0zM157.1,479.6h1.0v1.0h-1.0zM137.7,456.1h1.0v1.0h-1.0zM159.7,461.9h1.0v1.0h-1.0zM171.0,470.7h1.0v1.0h-1.0zM155.3,465.8h1.0v1.0h-1.0zM172.1,479.6h1.0v1.0h-1.0zM171.7,454.9h1.0v1.0h-1.0zM162.8,468.3h1.0v1.0h-1.0zM169.1,471.1h1.0v1.0h-1.0zM165.4,469.4h1.0v1.0h-1.0zM171.4,463.4h1.0v1.0h-1.0zM170.3,467.3h1.0v1.0h-1.0zM153.2,463.8h1.0v1.0h-1.0zM160.4,474.8h1.0v1.0h-1.0zM174.1,468.3h1.0v1.0h-1.0zM163.8,460.5h1.0v1.0h-1.0zM166.7,468.6h1.0v1.0h-1.0zM178.6,465.8h1.0v1.0h-1.0zM141.8,466.2h1.0v1.0h-1.0zM145.7,457.1h1.0v1.0h-1.0zM174.0,471.7h1.0v1.0h-1.0zM174.3,480.4h1.0v1.0h-1.0zM159.8,462.5h1.0v1.0h-1.0zM181.0,460.6h1.0v1.0h-1.0zM169.4,455.8h1.0v1.0h-1.0zM142.0,470.8h1.0v1.0h-1.0zM166.1,462.0h1.0v1.0h-1.0zM173.4,460.6h1.0v1.0h-1.0zM145.7,473.1h1.0v1.0h-1.0zM149.7,451.9h1.0v1.0h-1.0zM156.3,467.5h1.0v1.0h-1.0zM164.9,460.9h1.0v1.0h-1.0zM164.2,459.7h1.0v1.0h-1.0zM147.7,476.0h1.0v1.0h-1.0zM156.6,459.3h1.0v1.0h-1.0zM161.9,462.9h1.0v1.0h-1.0zM155.1,469.5h1.0v1.0h-1.0zM142.9,457.2h1.0v1.0h-1.0zM133.8,466.0h1.0v1.0h-1.0zM166.8,465.7h1.0v1.0h-1.0zM171.4,480.0h1.0v1.0h-1.0zM170.7,470.9h1.0v1.0h-1.0zM149.8,465.5h1.0v1.0h-1.0zM151.9,461.1h1.0v1.0h-1.0zM150.0,473.3h1.0v1.0h-1.0zM150.9,471.6h1.0v1.0h-1.0zM163.6,465.7h1.0v1.0h-1.0zM154.6,458.4h1.0v1.0h-1.0zM160.1,452.3h1.0v1.0h-1.0zM176.9,478.2h1.0v1.0h-1.0zM168.6,472.8h1.0v1.0h-1.0zM170.0,467.9h1.0v1.0h-1.0zM154.6,461.9h1.0v1.0h-1.0zM156.6,473.9h1.0v1.0h-1.0zM175.0,464.7h1.0v1.0h-1.0zM155.4,460.3h1.0v1.0h-1.0zM167.2,473.2h1.0v1.0h-1.0zM169.6,462.1h1.0v1.0h-1.0zM170.2,474.9h1.0v1.0h-1.0zM145.4,462.5h1.0v1.0h-1.0zM158.4,472.1h1.0v1.0h-1.0zM151.5,465.0h1.0v1.0h-1.0zM172.0,469.5h1.0v1.0h-1.0zM155.3,460.0h1.0v1.0h-1.0zM166.9,469.6h1.0v1.0h-1.0zM174.6,464.1h1.0v1.0h-1.0zM161.6,459.6h1.0v1.0h-1.0zM169.0,460.2h1.0v1.0h-1.0zM139.5,465.8h1.0v1.0h-1.0zM150.6,462.9h1.0v1.0h-1.0zM157.0,478.4h1.0v1.0h-1.0zM163.2,462.8h1.0v1.0h-1.0zM160.3,458.3h1.0v1.0h-1.0zM173.9,459.6h1.0v1.0h-1.0zM155.3,456.3h1.0v1.0h-1.0zM159.4,468.4h1.0v1.0h-1.0zM160.8,468.8h1.0v1.0h-1.0zM178.7,464.2h1.0v1.0h-1.0zM158.7,463.6h1.0v1.0h-1.0zM159.6,466.5h1.0v1.0h-1.0zM147.4,468.8h1.0v1.0h-1.0zM161.9,461.7h1.0v1.0h-1.0zM156.6,467.1h1.0v1.0h-1.0zM157.8,457.5h1.0v1.0h-1.0zM144.8,468.8h1.0v1.0h-1.0zM158.9,458.2h1.0v1.0h-1.0zM158.7,474.3h1.0v1.0h-1.0zM177.2,464.2h1.0v1.0h-1.0zM174.7,461.0h1.0v1.0h-1.0zM171.0,458.1h1.0v1.0h-1.0zM138.1,451.2h1.0v1.0h-1.0zM175.3,459.0h1.0v1.0h-1.0zM162.0,458.8h1.0v1.0h-1.0zM175.9,459.9h1.0v1.0h-1.0zM160.0,467.3h1.0v1.0h-1.0zM171.2,465.2h1.0v1.0h-1.0zM145.7,473.9h1.0v1.0h-1.0zM168.9,456.0h1.0v1.0h-1.0zM181.2,469.7h1.0v1.0h-1.0zM168.4,468.5h1.0v1.0h-1.0zM169.1,461.1h1.0v1.0h-1.0zM162.2,470.7h1.0v1.0h-1.0zM156.4,468.0h1.0v1.0h-1.0zM147.2,461.3h1.0v1.0h-1.0zM156.4,466.9h1.0v1.0h-1.0zM150.5,457.9h1.0v1.0h-1.0zM174.5,477.1h1.0v1.0h-1.0zM167.2,467.8h1.0v1.0h-1.0zM161.4,472.4h1.0v1.0h-1.0zM166.7,457.8h1.0v1.0h-1.0zM164.5,466.7h1.0v1.0h-1.0zM148.6,452.8h1.0v1.0h-1.0zM174.5,473.1h1.0v1.0h-1.0zM160.6,465.8h1.0v1.0h-1.0zM141.7,461.8h1.0v1.0h-1.0zM149.7,460.0h1.0v1.0h-1.0zM159.9,464.6h1.0v1.0h-1.0zM182.1,477.4h1.0v1.0h-1.0zM157.2,468.3h1.0v1.0h-1.0zM154.0,470.1h1.0v1.0h-1.0zM168.6,473.1h1.0v1.0h-1.0zM172.2,472.5h1.0v1.0h-1.0zM148.4,460.0h1.0v1.0h-1.0zM158.0,454.5h1.0v1.0h-1.0zM151.4,454.5h1.0v1.0h-1.0zM164.8,463.2h1.0v1.0h-1.0zM169.4,469.9h1.0v1.0h-1.0zM146.2,453.6h1.0v1.0h-1.0zM177.9,456.4h1.0v1.0h-1.0zM162.3,454.9h1.0v1.0h-1.0zM164.2,461.0h1.0v1.0h-1.0zM151.2,472.0h1.0v1.0h-1.0zM166.8,472.8h1.0v1.0h-1.0zM136.0,462.3h1.0v1.0h-1.0zM173.8,460.9h1.0v1.0h-1.0zM165.0,472.2h1.0v1.0h-1.0zM153.7,456.0h1.0v1.0h-1.0zM174.7,463.9h1.0v1.0h-1.0zM152.1,458.7h1.0v1.0h-1.0zM169.3,470.9h1.0v1.0h-1.0zM156.8,461.2h1.0v1.0h-1.0zM146.5,471.4h1.0v1.0h-1.0zM159.4,463.1h1.0v1.0h-1.0zM163.6,461.9h1.0v1.0h-1.0zM166.8,466.3h1.0v1.0h-1.0zM168.4,474.0h1.0v1.0h-1.0zM184.5,476.6h1.0v1.0h-1.0zM161.7,466.4h1.0v1.0h-1.0zM178.5,478.2h1.0v1.0h-1.0zM159.0,462.5h1.0v1.0h-1.0zM159.9,472.2h1.0v1.0h-1.0zM166.1,469.2h1.0v1.0h-1.0zM157.7,472.2h1.0v1.0h-1.0zM152.5,470.1h1.0v1.0h-1.0zM163.0,476.6h1.0v1.0h-1.0zM178.4,453.9h1.0v1.0h-1.0zM179.4,475.9h1.0v1.0h-1.0zM160.4,470.0h1.0v1.0h-1.0zM170.4,462.7h1.0v1.0h-1.0zM182.1,478.8h1.0v1.0h-1.0zM160.7,466.9h1.0v1.0h-1.0zM145.7,466.1h1.0v1.0h-1.0zM171.6,475.3h1.0v1.0h-1.0zM158.7,453.2h1.0v1.0h-1.0zM164.3,469.3h1.0v1.0h-1.0zM138.5,458.3h1.0v1.0h-1.0zM159.3,465.1h1.0v1.0h-1.0zM161.3,473.4h1.0v1.0h-1.0zM171.6,463.6h1.0v1.0h-1.0zM154.7,462.9h1.0v1.0h-1.0zM152.8,467.3h1.0v1.0h-1.0zM160.3,469.3h1.0v1.0h-1.0zM160.6,469.9h1.0v1.0h-1.0zM149.7,468.0h1.0v1.0h-1.0zM149.0,455.0h1.0v1.0h-1.0zM157.1,467.2h1.0v1.0h-1.0zM167.5,461.1h1.0v1.0h-1.0zM171.1,456.4h1.0v1.0h-1.0zM152.4,458.8h1.0v1.0h-1.0zM179.9,472.4h1.0v1.0h-1.0zM160.8,472.2h1.0v1.0h-1.0zM158.2,463.7h1.0v1.0h-1.0zM151.6,460.8h1.0v1.0h-1.0zM152.8,456.8h1.0v1.0h-1.0zM171.2,480.8h1.0v1.0h-1.0zM161.2,472.9h1.0v1.0h-1.0zM162.9,472.4h1.0v1.0h-1.0zM166.2,463.2h1.0v1.0h-1.0zM150.1,473.4h1.0v1.0h-1.0zM138.2,458.3h1.0v1.0h-1.0zM149.9,474.0h1.0v1.0h-1.0zM177.4,463.4h1.0v1.0h-1.0zM150.7,458.8h1.0v1.0h-1.0zM166.8,465.1h1.0v1.0h-1.0zM157.5,470.7h1.0v1.0h-1.0zM143.5,458.5h1.0v1.0h-1.0zM158.4,476.2h1.0v1.0h-1.0zM165.1,466.4h1.0v1.0h-1.0zM164.4,455.9h1.0v1.0h-1.0zM153.2,466.2h1.0v1.0h-1.0zM156.3,460.0h1.0v1.0h-1.0zM162.4,477.5h1.0v1.0h-1.0zM155.0,454.7h1.0v1.0h-1.0zM160.5,468.9h1.0v1.0h-1.0zM155.6,464.5h1.0v1.0h-1.0zM149.7,458.3h1.0v1.0h-1.0zM162.7,477.0h1.0v1.0h-1.0zM159.4,463.8h1.0v1.0h-1.0zM174.1,478.3h1.0v1.0h-1.0zM157.3,458.2h1.0v1.0h-1.0zM152.0,466.5h1.0v1.0h-1.0zM155.8,455.2h1.0v1.0h-1.0zM137.3,470.9h1.0v1.0h-1.0zM175.9,470.5h1.0v1.0h-1.0zM168.2,475.8h1.0v1.0h-1.0zM158.7,452.3h1.0v1.0h-1.0zM134.1,468.8h1.0v1.0h-1.0zM157.2,473.1h1.0v1.0h-1.0zM164.8,465.2h1.0v1.0h-1.0zM143.0,471.9h1.0v1.0h-1.0zM158.6,465.6h1.0v1.0h-1.0zM142.4,457.4h1.0v1.0h-1.0zM150.5,477.2h1.0v1.0h-1.0zM163.3,480.1h1.0v1.0h-1.0zM145.6,455.8h1.0v1.0h-1.0zM160.8,480.6h1.0v1.0h-1.0zM176.9,465.4h1.0v1.0h-1.0zM163.1,461.4h1.0v1.0h-1.0zM150.8,464.6h1.0v1.0h-1.0zM148.6,476.3h1.0v1.0h-1.0zM164.2,463.5h1.0v1.0h-1.0zM159.4,456.2h1.0v1.0h-1.0zM180.3,469.9h1.0v1.0h-1.0zM150.8,467.6h1.0v1.0h-1.0zM158.9,467.3h1.0v1.0h-1.0zM144.6,472.8h1.0v1.0h-1.0zM154.5,474.6h1.0v1.0h-1.0zM137.9,468.6h1.0v1.0h-1.0zM151.9,478.3h1.0v1.0h-1.0zM171.0,471.3h1.0v1.0h-1.0zM153.5,470.7h1.0v1.0h-1.0zM158.2,462.8h1.0v1.0h-1.0zM173.7,467.9h1.0v1.0h-1.0zM140.8,464.2h1.0v1.0h-1.0zM155.4,469.6h1.0v1.0h-1.0zM162.4,461.7h1.0v1.0h-1.0zM157.0,471.5h1.0v1.0h-1.0zM165.1,473.5h1.0v1.0h-1.0zM157.1,462.8h1.0v1.0h-1.0zM173.5,466.0h1.0v1.0h-1.0zM169.4,479.0h1.0v1.0h-1.0zM161.3,452.9h1.0v1.0h-1.0zM137.5,465.8h1.0v1.0h-1.0zM172.1,463.8h1.0v1.0h-1.0zM154.6,464.7h1.0v1.0h-1.0zM163.6,459.6h1.0v1.0h-1.0zM169.6,466.2h1.0v1.0h-1.0zM153.5,465.6h1.0v1.0h-1.0zM165.8,463.5h1.0v1.0h-1.0zM156.8,455.4h1.0v1.0h-1.0zM157.9,461.0h1.0v1.0h-1.0zM163.1,465.0h1.0v1.0h-1.0zM145.5,468.3h1.0v1.0h-1.0zM148.8,466.9h1.0v1.0h-1.0zM134.8,467.4h1.0v1.0h-1.0zM162.0,468.2h1.0v1.0h-1.0zM151.3,468.7h1.0v1.0h-1.0zM155.3,468.3h1.0v1.0h-1.0zM158.9,465.7h1.0v1.0h-1.0zM158.7,460.0h1.0v1.0h-1.0zM156.0,473.9h1.0v1.0h-1.0zM166.1,470.9h1.0v1.0h-1.0zM163.6,457.6h1.0v1.0h-1.0zM146.4,479.2h1.0v1.0h-1.0zM154.7,472.7h1.0v1.0h-1.0zM145.4,476.4h1.0v1.0h-1.0zM136.3,463.0h1.0v1.0h-1.0zM158.3,455.7h1.0v1.0h-1.0zM172.6,463.3h1.0v1.0h-1.0zM180.2,473.9h1.0v1.0h-1.0zM166.1,476.1h1.0v1.0h-1.0zM156.5,467.9h1.0v1.0h-1.0zM160.3,457.2h1.0v1.0h-1.0zM176.3,467.4h1.0v1.0h-1.0zM147.9,459.8h1.0v1.0h-1.0zM141.3,479.9h1.0v1.0h-1.0zM193.7,462.6h1.0v1.0h-1.0zM142.7,470.3h1.0v1.0h-1.0zM139.3,470.0h1.0v1.0h-1.0zM154.5,471.6h1.0v1.0h-1.0zM174.8,454.9h1.0v1.0h-1.0zM159.6,465.4h1.0v1.0h-1.0zM163.2,459.6h1.0v1.0h-1.0zM144.7,461.5h1.0v1.0h-1.0zM185.4,462.0h1.0v1.0h-1.0zM157.3,480.0h1.0v1.0h-1.0zM164.6,454.3h1.0v1.0h-1.0zM156.5,460.7h1.0v1.0h-1.0zM163.9,464.7h1.0v1.0h-1.0zM160.3,462.3h1.0v1.0h-1.0zM139.5,459.7h1.0v1.0h-1.0zM176.1,474.6h1.0v1.0h-1.0zM158.8,461.0h1.0v1.0h-1.0zM158.7,461.6h1.0v1.0h-1.0zM158.2,472.2h1.0v1.0h-1.0zM194.5,458.0h1.0v1.0h-1.0zM142.8,460.9h1.0v1.0h-1.0zM139.8,469.5h1.0v1.0h-1.0zM160.0,462.4h1.0v1.0h-1.0zM189.6,472.4h1.0v1.0h-1.0zM159.7,462.6h1.0v1.0h-1.0zM154.3,469.4h1.0v1.0h-1.0zM148.5,467.6h1.0v1.0h-1.0zM158.7,460.1h1.0v1.0h-1.0zM162.3,469.2h1.0v1.0h-1.0zM156.8,469.3h1.0v1.0h-1.0zM166.3,463.6h1.0v1.0h-1.0zM138.8,454.7h1.0v1.0h-1.0zM151.2,460.1h1.0v1.0h-1.0zM155.5,467.0h1.0v1.0h-1.0zM165.4,456.8h1.0v1.0h-1.0zM161.3,473.2h1.0v1.0h-1.0zM154.6,458.4h1.0v1.0h-1.0zM143.2,462.3h1.0v1.0h-1.0zM171.5,477.5h1.0v1.0h-1.0zM136.2,457.6h1.0v1.0h-1.0zM150.7,459.9h1.0v1.0h-1.0zM156.1,460.3h1.0v1.0h-1.0zM151.2,459.9h1.0v1.0h-1.0zM155.2,460.6h1.0v1.0h-1.0zM168.1,457.7h1.0v1.0h-1.0zM189.3,457.0h1.0v1.0h-1.0zM135.2,473.6h1.0v1.0h-1.0zM171.5,461.0h1.0v1.0h-1.0zM162.4,463.4h1.0v1.0h-1.0zM157.6,479.3h1.0v1.0h-1.0zM166.0,471.0h1.0v1.0h-1.0zM192.1,460.0h1.0v1.0h-1.0zM163.3,469.1h1.0v1.0h-1.0zM148.0,462.2h1.0v1.0h-1.0zM153.2,468.2h1.0v1.0h-1.0zM150.4,455.2h1.0v1.0h-1.0zM136.2,465.7h1.0v1.0h-1.0zM157.8,468.4h1.0v1.0h-1.0zM152.0,468.6h1.0v1.0h-1.0zM156.8,471.4h1.0v1.0h-1.0zM165.1,466.9h1.0v1.0h-1.0zM156.3,463.0h1.0v1.0h-1.0zM173.8,472.4h1.0v1.0h-1.0zM153.6,465.7h1.0v1.0h-1.0zM155.8,470.4h1.0v1.0h-1.0zM161.8,472.5h1.0v1.0h-1.0zM129.1,460.7h1.0v1.0h-1.0zM170.0,470.5h1.0v1.0h-1.0zM165.4,475.1h1.0v1.0h-1.0zM163.1,461.0h1.0v1.0h-1.0zM154.6,466.3h1.0v1.0h-1.0zM155.5,457.9h1.0v1.0h-1.0zM176.0,468.9h1.0v1.0h-1.0zM145.4,460.8h1.0v1.0h-1.0zM156.6,460.1h1.0v1.0h-1.0zM156.9,453.1h1.0v1.0h-1.0zM171.9,476.9h1.0v1.0h-1.0zM167.7,470.2h1.0v1.0h-1.0zM150.4,478.9h1.0v1.0h-1.0zM169.3,459.5h1.0v1.0h-1.0zM144.2,453.6h1.0v1.0h-1.0zM164.2,473.4h1.0v1.0h-1.0zM154.7,471.4h1.0v1.0h-1.0zM156.5,462.4h1.0v1.0h-1.0zM157.1,477.0h1.0v1.0h-1.0zM157.3,472.4h1.0v1.0h-1.0zM165.0,459.2h1.0v1.0h-1.0zM156.6,471.8h1.0v1.0h-1.0zM163.3,456.7h1.0v1.0h-1.0zM172.4,464.1h1.0v1.0h-1.0zM157.4,468.7h1.0v1.0h-1.0zM158.5,473.5h1.0v1.0h-1.0zM176.2,458.3h1.0v1.0h-1.0zM155.4,480.4h1.0v1.0h-1.0zM149.9,477.1h1.0v1.0h-1.0zM153.8,467.9h1.0v1.0h-1.0zM156.3,468.3h1.0v1.0h-1.0zM150.2,468.4h1.0v1.0h-1.0zM160.7,460.2h1.0v1.0h-1.0zM166.4,478.2h1.0v1.0h-1.0zM161.5,474.6h1.0v1.0h-1.0zM151.2,459.0h1.0v1.0h-1.0zM151.4,469.1h1.0v1.0h-1.0zM183.0,478.7h1.0v1.0h-1.0zM164.9,462.2h1.0v1.0h-1.0zM157.9,467.3h1.0v1.0h-1.0zM163.1,461.2h1.0v1.0h-1.0zM154.5,469.2h1.0v1.0h-1.0zM163.5,453.7h1.0v1.0h-1.0zM158.9,476.8h1.0v1.0h-1.0zM151.3,465.7h1.0v1.0h-1.0zM164.6,462.6h1.0v1.0h-1.0zM154.1,470.6h1.0v1.0h-1.0zM150.4,477.1h1.0v1.0h-1.0zM137.1,474.1h1.0v1.0h-1.0zM154.9,468.2h1.0v1.0h-1.0zM162.0,477.4h1.0v1.0h-1.0zM165.0,460.5h1.0v1.0h-1.0zM167.3,466.8h1.0v1.0h-1.0zM153.5,457.1h1.0v1.0h-1.0zM156.5,463.2h1.0v1.0h-1.0zM154.3,458.6h1.0v1.0h-1.0zM141.5,470.3h1.0v1.0h-1.0zM179.2,463.7h1.0v1.0h-1.0zM185.7,459.0h1.0v1.0h-1.0zM168.7,461.5h1.0v1.0h-1.0zM155.1,458.6h1.0v1.0h-1.0zM166.5,479.3h1.0v1.0h-1.0zM180.0,459.2h1.0v1.0h-1.0zM171.3,465.6h1.0v1.0h-1.0zM155.4,480.6h1.0v1.0h-1.0zM171.9,462.3h1.0v1.0h-1.0zM163.8,463.2h1.0v1.0h-1.0zM142.0,468.6h1.0v1.0h-1.0zM156.6,476.5h1.0v1.0h-1.0zM160.2,476.0h1.0v1.0h-1.0zM161.2,470.5h1.0v1.0h-1.0zM151.5,471.7h1.0v1.0h-1.0zM177.3,467.8h1.0v1.0h-1.0zM150.2,474.6h1.0v1.0h-1.0zM170.3,462.4h1.0v1.0h-1.0zM161.6,461.8h1.0v1.0h-1.0zM157.6,475.1h1.0v1.0h-1.0zM159.4,466.2h1.0v1.0h-1.0zM159.5,478.2h1.0v1.0h-1.0zM161.5,460.7h1.0v1.0h-1.0zM163.6,456.5h1.0v1.0h-1.0zM145.5,469.8h1.0v1.0h-1.0zM147.1,467.3h1.0v1.0h-1.0zM161.5,457.6h1.0v1.0h-1.0zM158.9,461.4h1.0v1.0h-1.0zM154.0,461.0h1.0v1.0h-1.0zM173.8,469.7h1.0v1.0h-1.0zM167.6,472.8h1.0v1.0h-1.0zM176.2,473.4h1.0v1.0h-1.0zM147.2,474.3h1.0v1.0h-1.0zM157.6,468.7h1.0v1.0h-1.0zM160.7,467.7h1.0v1.0h-1.0zM139.4,473.9h1.0v1.0h-1.0zM158.4,468.3h1.0v1.0h-1.0zM162.3,453.8h1.0v1.0h-1.0zM164.7,472.0h1.0v1.0h-1.0zM147.1,471.2h1.0v1.0h-1.0zM145.3,475.8h1.0v1.0h-1.0zM174.7,466.8h1.0v1.0h-1.0zM154.9,475.8h1.0v1.0h-1.0zM164.2,474.9h1.0v1.0h-1.0zM162.3,460.6h1.0v1.0h-1.0zM161.9,463.0h1.0v1.0h-1.0zM153.4,474.4h1.0v1.0h-1.0zM149.0,465.2h1.0v1.0h-1.0zM166.2,463.1h1.0v1.0h-1.0zM167.7,463.2h1.0v1.0h-1.0zM159.1,463.7h1.0v1.0h-1.0zM166.9,469.5h1.0v1.0h-1.0zM159.8,463.1h1.0v1.0h-1.0zM148.1,470.8h1.0v1.0h-1.0zM163.1,467.4h1.0v1.0h-1.0zM169.4,471.1h1.0v1.0h-1.0zM166.6,462.8h1.0v1.0h-1.0zM184.9,453.6h1.0v1.0h-1.0zM159.1,477.9h1.0v1.0h-1.0zM148.5,456.5h1.0v1.0h-1.0zM154.3,455.9h1.0v1.0h-1.0zM148.9,470.9h1.0v1.0h-1.0zM169.8,480.7h1.0v1.0h-1.0zM159.2,455.7h1.0v1.0h-1.0zM147.3,474.6h1.0v1.0h-1.0zM158.5,461.5h1.0v1.0h-1.0zM150.3,477.1h1.0v1.0h-1.0zM164.8,466.5h1.0v1.0h-1.0zM138.0,480.1h1.0v1.0h-1.0zM155.4,454.5h1.0v1.0h-1.0zM165.9,475.5h1.0v1.0h-1.0zM162.7,457.0h1.0v1.0h-1.0zM176.9,460.4h1.0v1.0h-1.0zM148.9,479.2h1.0v1.0h-1.0zM167.6,469.5h1.0v1.0h-1.0zM173.7,462.1h1.0v1.0h-1.0zM176.8,461.7h1.0v1.0h-1.0zM171.3,471.8h1.0v1.0h-1.0zM160.2,475.9h1.0v1.0h-1.0zM147.0,479.7h1.0v1.0h-1.0zM142.4,469.9h1.0v1.0h-1.0zM170.4,464.1h1.0v1.0h-1.0zM170.3,468.3h1.0v1.0h-1.0zM167.2,458.6h1.0v1.0h-1.0zM173.6,472.3h1.0v1.0h-1.0zM155.8,464.1h1.0v1.0h-1.0zM181.3,452.2h1.0v1.0h-1.0zM180.7,469.8h1.0v1.0h-1.0zM156.1,480.4h1.0v1.0h-1.0zM166.3,463.0h1.0v1.0h-1.0zM153.6,469.8h1.0v1.0h-1.0zM153.0,462.1h1.0v1.0h-1.0zM172.2,462.3h1.0v1.0h-1.0zM147.1,468.1h1.0v1.0h-1.0zM174.4,464.2h1.0v1.0h-1.0zM151.4,460.0h1.0v1.0h-1.0zM162.6,464.4h1.0v1.0h-1.0zM174.9,467.8h1.0v1.0h-1.0zM156.4,458.3h1.0v1.0h-1.0zM153.6,473.7h1.0v1.0h-1.0zM143.1,462.0h1.0v1.0h-1.0zM165.8,464.5h1.0v1.0h-1.0zM149.4,470.9h1.0v1.0h-1.0zM166.0,470.1h1.0v1.0h-1.0zM155.3,464.4h1.0v1.0h-1.0zM154.2,465.8h1.0v1.0h-1.0zM163.2,461.9h1.0v1.0h-1.0zM161.9,454.9h1.0v1.0h-1.0zM150.7,476.9h1.0v1.0h-1.0zM153.8,475.1h1.0v1.0h-1.0zM167.0,469.1h1.0v1.0h-1.0zM167.6,469.7h1.0v1.0h-1.0zM162.2,468.2h1.0v1.0h-1.0zM160.3,475.6h1.0v1.0h-1.0zM155.8,470.1h1.0v1.0h-1.0zM155.9,454.9h1.0v1.0h-1.0zM157.7,471.1h1.0v1.0h-1.0zM169.8,459.0h1.0v1.0h-1.0zM142.7,476.1h1.0v1.0h-1.0zM147.1,468.6h1.0v1.0h-1.0zM130.8,474.2h1.0v1.0h-1.0zM145.2,474.4h1.0v1.0h-1.0zM156.2,468.3h1.0v1.0h-1.0zM158.6,451.3h1.0v1.0h-1.0zM148.9,468.4h1.0v1.0h-1.0zM179.9,457.7h1.0v1.0h-1.0zM165.6,465.2h1.0v1.0h-1.0zM146.4,455.8h1.0v1.0h-1.0zM162.4,465.9h1.0v1.0h-1.0zM164.3,460.3h1.0v1.0h-1.0zM164.0,476.6h1.0v1.0h-1.0zM154.1,468.3h1.0v1.0h-1.0zM159.5,463.2h1.0v1.0h-1.0zM140.4,459.7h1.0v1.0h-1.0zM171.5,469.3h1.0v1.0h-1.0zM131.8,472.0h1.0v1.0h-1.0zM173.0,462.8h1.0v1.0h-1.0zM148.6,466.3h1.0v1.0h-1.0zM165.2,471.0h1.0v1.0h-1.0zM165.9,462.9h1.0v1.0h-1.0zM147.8,468.9h1.0v1.0h-1.0zM163.7,466.6h1.0v1.0h-1.0zM156.2,460.1h1.0v1.0h-1.0zM168.1,476.9h1.0v1.0h-1.0zM157.9,460.1h1.0v1.0h-1.0zM147.4,460.6h1.0v1.0h-1.0zM153.7,464.4h1.0v1.0h-1.0zM153.9,458.9h1.0v1.0h-1.0zM172.4,457.7h1.0v1.0h-1.0zM157.6,470.5h1.0v1.0h-1.0zM154.9,475.9h1.0v1.0h-1.0zM160.9,457.5h1.0v1.0h-1.0zM170.2,465.4h1.0v1.0h-1.0zM150.0,464.2h1.0v1.0h-1.0zM157.1,470.1h1.0v1.0h-1.0zM143.2,462.6h1.0v1.0h-1.0zM151.0,456.5h1.0v1.0h-1.0zM144.0,469.7h1.0v1.0h-1.0zM163.5,473.7h1.0v1.0h-1.0zM159.4,462.8h1.0v1.0h-1.0zM151.7,465.5h1.0v1.0h-1.0zM179.9,460.9h1.0v1.0h-1.0zM156.2,471.9h1.0v1.0h-1.0zM132.5,460.2h1.0v1.0h-1.0zM181.3,478.8h1.0v1.0h-1.0zM63.7,462.2h1.0v1.0h-1.0zM102.4,458.7h1.0v1.0h-1.0zM116.1,477.3h1.0v1.0h-1.0zM65.1,475.6h1.0v1.0h-1.0zM100.9,453.8h1.0v1.0h-1.0zM175.0,460.6h1.0v1.0h-1.0zM88.7,456.5h1.0v1.0h-1.0zM108.2,456.6h1.0v1.0h-1.0zM84.7,460.1h1.0v1.0h-1.0zM134.7,465.3h1.0v1.0h-1.0zM100.4,467.4h1.0v1.0h-1.0zM159.3,472.7h1.0v1.0h-1.0zM105.2,477.8h1.0v1.0h-1.0zM161.4,468.3h1.0v1.0h-1.0zM121.8,462.2h1.0v1.0h-1.0zM78.9,477.0h1.0v1.0h-1.0zM138.4,456.0h1.0v1.0h-1.0zM178.3,477.0h1.0v1.0h-1.0zM66.3,472.0h1.0v1.0h-1.0zM92.0,467.6h1.0v1.0h-1.0zM166.8,462.7h1.0v1.0h-1.0zM124.6,471.1h1.0v1.0h-1.0zM86.2,470.1h1.0v1.0h-1.0zM115.5,479.5h1.0v1.0h-1.0zM85.7,472.3h1.0v1.0h-1.0zM67.3,460.7h1.0v1.0h-1.0zM76.9,457.4h1.0v1.0h-1.0zM128.4,458.0h1.0v1.0h-1.0zM161.8,456.0h1.0v1.0h-1.0zM140.3,476.3h1.0v1.0h-1.0zM78.0,459.2h1.0v1.0h-1.0zM158.1,465.9h1.0v1.0h-1.0zM179.1,462.4h1.0v1.0h-1.0zM112.0,478.9h1.0v1.0h-1.0zM105.3,479.1h1.0v1.0h-1.0zM173.9,458.7h1.0v1.0h-1.0zM130.6,478.4h1.0v1.0h-1.0zM76.8,476.0h1.0v1.0h-1.0zM159.3,473.3h1.0v1.0h-1.0zM137.5,456.1h1.0v1.0h-1.0zM182.4,456.1h1.0v1.0h-1.0zM160.4,472.6h1.0v1.0h-1.0zM101.9,471.6h1.0v1.0h-1.0zM113.6,473.4h1.0v1.0h-1.0zM67.5,478.2h1.0v1.0h-1.0zM110.3,474.8h1.0v1.0h-1.0zM121.3,475.0h1.0v1.0h-1.0zM99.9,467.9h1.0v1.0h-1.0zM65.3,466.4h1.0v1.0h-1.0zM72.0,476.3h1.0v1.0h-1.0zM147.1,464.7h1.0v1.0h-1.0zM184.4,478.6h1.0v1.0h-1.0zM182.2,455.6h1.0v1.0h-1.0zM150.5,472.8h1.0v1.0h-1.0zM138.1,453.8h1.0v1.0h-1.0zM178.0,465.1h1.0v1.0h-1.0zM136.8,475.1h1.0v1.0h-1.0zM96.6,454.2h1.0v1.0h-1.0zM178.0,460.6h1.0v1.0h-1.0zM67.3,457.0h1.0v1.0h-1.0zM186.9,473.1h1.0v1.0h-1.0zM88.4,457.3h1.0v1.0h-1.0zM174.8,471.1h1.0v1.0h-1.0zM135.3,456.9h1.0v1.0h-1.0zM114.0,478.6h1.0v1.0h-1.0zM62.5,464.5h1.0v1.0h-1.0zM69.3,479.9h1.0v1.0h-1.0zM75.2,478.8h1.0v1.0h-1.0zM167.7,472.9h1.0v1.0h-1.0zM67.4,471.9h1.0v1.0h-1.0zM124.0,466.5h1.0v1.0h-1.0zM80.3,467.0h1.0v1.0h-1.0zM162.8,456.9h1.0v1.0h-1.0zM172.1,464.6h1.0v1.0h-1.0zM95.5,459.8h1.0v1.0h-1.0zM119.8,470.6h1.0v1.0h-1.0zM133.6,477.1h1.0v1.0h-1.0zM126.3,467.0h1.0v1.0h-1.0zM186.2,459.1h1.0v1.0h-1.0zM64.2,462.1h1.0v1.0h-1.0zM101.4,456.7h1.0v1.0h-1.0zM114.6,454.3h1.0v1.0h-1.0zM177.7,466.3h1.0v1.0h-1.0zM172.4,472.0h1.0v1.0h-1.0zM153.7,473.6h1.0v1.0h-1.0zM100.0,472.8h1.0v1.0h-1.0zM88.0,468.2h1.0v1.0h-1.0zM136.8,474.0h1.0v1.0h-1.0zM83.2,462.6h1.0v1.0h-1.0zM165.5,474.8h1.0v1.0h-1.0zM184.8,456.5h1.0v1.0h-1.0zM88.5,456.2h1.0v1.0h-1.0zM152.9,473.2h1.0v1.0h-1.0zM143.4,474.1h1.0v1.0h-1.0zM126.9,468.4h1.0v1.0h-1.0zM177.7,470.6h1.0v1.0h-1.0zM144.4,469.1h1.0v1.0h-1.0zM124.1,473.5h1.0v1.0h-1.0zM134.0,456.8h1.0v1.0h-1.0zM115.5,464.6h1.0v1.0h-1.0zM116.4,468.3h1.0v1.0h-1.0zM107.5,463.8h1.0v1.0h-1.0zM115.7,463.3h1.0v1.0h-1.0zM184.1,455.8h1.0v1.0h-1.0zM64.2,472.6h1.0v1.0h-1.0zM111.7,465.3h1.0v1.0h-1.0zM136.4,463.2h1.0v1.0h-1.0zM92.1,453.8h1.0v1.0h-1.0zM171.8,478.4h1.0v1.0h-1.0zM98.0,465.8h1.0v1.0h-1.0zM102.7,455.0h1.0v1.0h-1.0zM174.1,475.6h1.0v1.0h-1.0zM92.4,460.2h1.0v1.0h-1.0zM149.7,474.6h1.0v1.0h-1.0zM121.0,463.7h1.0v1.0h-1.0zM91.4,474.6h1.0v1.0h-1.0zM170.5,476.2h1.0v1.0h-1.0zM76.5,469.2h1.0v1.0h-1.0zM185.7,472.4h1.0v1.0h-1.0zM119.7,457.3h1.0v1.0h-1.0zM69.7,472.9h1.0v1.0h-1.0zM70.7,474.9h1.0v1.0h-1.0zM145.6,466.0h1.0v1.0h-1.0zM174.0,478.2h1.0v1.0h-1.0zM139.5,456.1h1.0v1.0h-1.0zM136.0,464.6h1.0v1.0h-1.0zM93.4,478.1h1.0v1.0h-1.0zM153.7,456.6h1.0v1.0h-1.0zM90.8,462.5h1.0v1.0h-1.0zM134.0,462.0h1.0v1.0h-1.0zM117.3,475.0h1.0v1.0h-1.0zM84.9,472.6h1.0v1.0h-1.0zM103.6,478.5h1.0v1.0h-1.0zM181.5,462.1h1.0v1.0h-1.0zM138.2,456.3h1.0v1.0h-1.0zM113.6,470.0h1.0v1.0h-1.0zM142.2,462.5h1.0v1.0h-1.0zM66.4,456.7h1.0v1.0h-1.0zM132.4,458.0h1.0v1.0h-1.0zM100.5,469.8h1.0v1.0h-1.0zM175.1,467.1h1.0v1.0h-1.0zM94.1,469.0h1.0v1.0h-1.0zM96.7,474.2h1.0v1.0h-1.0zM81.7,460.4h1.0v1.0h-1.0zM117.1,477.6h1.0v1.0h-1.0zM82.9,458.5h1.0v1.0h-1.0zM78.6,459.1h1.0v1.0h-1.0zM103.8,463.9h1.0v1.0h-1.0zM157.4,464.1h1.0v1.0h-1.0zM121.7,463.9h1.0v1.0h-1.0zM159.3,477.4h1.0v1.0h-1.0zM115.5,477.9h1.0v1.0h-1.0zM93.6,479.4h1.0v1.0h-1.0zM128.0,471.5h1.0v1.0h-1.0zM110.0,460.6h1.0v1.0h-1.0zM79.1,476.9h1.0v1.0h-1.0zM107.2,472.0h1.0v1.0h-1.0zM119.9,467.4h1.0v1.0h-1.0zM88.1,458.1h1.0v1.0h-1.0zM104.3,471.5h1.0v1.0h-1.0zM130.3,453.5h1.0v1.0h-1.0zM151.3,464.9h1.0v1.0h-1.0zM70.8,460.3h1.0v1.0h-1.0zM88.7,475.3h1.0v1.0h-1.0zM131.1,462.1h1.0v1.0h-1.0zM93.3,461.1h1.0v1.0h-1.0zM97.3,462.6h1.0v1.0h-1.0zM161.3,474.4h1.0v1.0h-1.0zM149.7,476.9h1.0v1.0h-1.0zM144.2,456.4h1.0v1.0h-1.0zM67.7,457.8h1.0v1.0h-1.0zM94.5,467.5h1.0v1.0h-1.0zM165.3,469.0h1.0v1.0h-1.0zM116.0,459.8h1.0v1.0h-1.0zM185.3,473.4h1.0v1.0h-1.0zM104.9,454.6h1.0v1.0h-1.0zM185.3,460.2h1.0v1.0h-1.0zM168.5,456.5h1.0v1.0h-1.0zM144.1,462.9h1.0v1.0h-1.0zM173.7,461.3h1.0v1.0h-1.0zM74.7,458.7h1.0v1.0h-1.0zM163.2,479.4h1.0v1.0h-1.0zM142.8,471.5h1.0v1.0h-1.0zM97.5,460.6h1.0v1.0h-1.0zM73.0,479.6h1.0v1.0h-1.0zM67.5,469.7h1.0v1.0h-1.0zM106.0,458.4h1.0v1.0h-1.0zM116.8,478.2h1.0v1.0h-1.0zM93.2,457.8h1.0v1.0h-1.0zM141.1,470.9h1.0v1.0h-1.0zM126.2,458.2h1.0v1.0h-1.0zM171.8,456.3h1.0v1.0h-1.0zM83.9,459.8h1.0v1.0h-1.0zM126.6,466.1h1.0v1.0h-1.0zM131.6,472.7h1.0v1.0h-1.0zM174.3,465.9h1.0v1.0h-1.0zM67.4,475.5h1.0v1.0h-1.0zM64.4,461.9h1.0v1.0h-1.0zM80.1,469.4h1.0v1.0h-1.0zM160.2,456.8h1.0v1.0h-1.0zM99.0,476.0h1.0v1.0h-1.0zM148.6,456.3h1.0v1.0h-1.0zM148.2,474.5h1.0v1.0h-1.0zM113.4,457.5h1.0v1.0h-1.0zM144.8,461.9h1.0v1.0h-1.0zM78.9,457.8h1.0v1.0h-1.0zM112.6,456.8h1.0v1.0h-1.0zM110.4,468.1h1.0v1.0h-1.0zM131.4,464.1h1.0v1.0h-1.0zM162.5,455.7h1.0v1.0h-1.0zM103.5,478.2h1.0v1.0h-1.0zM170.6,477.9h1.0v1.0h-1.0zM158.1,467.7h1.0v1.0h-1.0zM160.9,468.6h1.0v1.0h-1.0zM76.9,460.2h1.0v1.0h-1.0zM74.3,476.7h1.0v1.0h-1.0zM102.5,464.2h1.0v1.0h-1.0zM129.6,456.1h1.0v1.0h-1.0zM150.7,474.6h1.0v1.0h-1.0zM162.0,476.8h1.0v1.0h-1.0zM101.9,457.3h1.0v1.0h-1.0zM157.7,471.8h1.0v1.0h-1.0zM108.7,462.5h1.0v1.0h-1.0zM81.4,475.5h1.0v1.0h-1.0zM119.9,475.0h1.0v1.0h-1.0zM104.7,461.9h1.0v1.0h-1.0zM126.5,473.2h1.0v1.0h-1.0zM172.9,462.8h1.0v1.0h-1.0zM149.1,464.1h1.0v1.0h-1.0zM170.2,473.6h1.0v1.0h-1.0zM131.8,463.0h1.0v1.0h-1.0zM96.5,476.9h1.0v1.0h-1.0zM162.6,461.5h1.0v1.0h-1.0zM72.7,458.6h1.0v1.0h-1.0zM183.1,454.4h1.0v1.0h-1.0zM163.8,467.5h1.0v1.0h-1.0zM131.6,467.8h1.0v1.0h-1.0zM113.6,468.2h1.0v1.0h-1.0zM73.4,477.9h1.0v1.0h-1.0zM75.0,457.1h1.0v1.0h-1.0zM146.5,470.4h1.0v1.0h-1.0zM163.3,471.8h1.0v1.0h-1.0zM178.9,454.8h1.0v1.0h-1.0zM63.4,459.7h1.0v1.0h-1.0zM159.9,457.5h1.0v1.0h-1.0zM128.8,473.9h1.0v1.0h-1.0zM81.7,467.4h1.0v1.0h-1.0zM175.1,473.3h1.0v1.0h-1.0zM112.0,466.1h1.0v1.0h-1.0zM97.0,479.0h1.0v1.0h-1.0zM160.3,471.5h1.0v1.0h-1.0zM100.3,472.9h1.0v1.0h-1.0zM123.2,474.6h1.0v1.0h-1.0zM107.8,476.8h1.0v1.0h-1.0zM148.0,465.4h1.0v1.0h-1.0zM132.7,474.8h1.0v1.0h-1.0zM128.5,478.9h1.0v1.0h-1.0zM63.0,477.3h1.0v1.0h-1.0zM151.7,466.4h1.0v1.0h-1.0zM168.8,457.4h1.0v1.0h-1.0zM104.5,472.4h1.0v1.0h-1.0zM165.4,463.3h1.0v1.0h-1.0zM186.9,470.7h1.0v1.0h-1.0zM67.8,456.7h1.0v1.0h-1.0zM71.7,468.6h1.0v1.0h-1.0zM102.5,460.3h1.0v1.0h-1.0zM118.3,455.5h1.0v1.0h-1.0zM176.2,475.7h1.0v1.0h-1.0zM132.2,465.2h1.0v1.0h-1.0zM100.8,469.4h1.0v1.0h-1.0zM105.6,479.3h1.0v1.0h-1.0zM182.1,472.7h1.0v1.0h-1.0zM165.8,455.4h1.0v1.0h-1.0zM77.6,462.6h1.0v1.0h-1.0zM77.9,464.6h1.0v1.0h-1.0zM185.9,475.6h1.0v1.0h-1.0zM182.4,459.3h1.0v1.0h-1.0zM89.9,454.0h1.0v1.0h-1.0zM96.4,454.9h1.0v1.0h-1.0zM128.4,461.4h1.0v1.0h-1.0zM146.7,468.3h1.0v1.0h-1.0zM137.1,461.4h1.0v1.0h-1.0zM154.3,471.7h1.0v1.0h-1.0zM151.7,465.9h1.0v1.0h-1.0zM120.3,461.0h1.0v1.0h-1.0zM67.1,465.8h1.0v1.0h-1.0zM139.4,458.4h1.0v1.0h-1.0zM170.0,476.8h1.0v1.0h-1.0zM169.2,475.1h1.0v1.0h-1.0zM123.4,458.1h1.0v1.0h-1.0zM96.1,473.0h1.0v1.0h-1.0zM185.7,456.4h1.0v1.0h-1.0zM62.9,462.8h1.0v1.0h-1.0zM105.9,469.3h1.0v1.0h-1.0zM76.2,475.8h1.0v1.0h-1.0zM104.5,477.6h1.0v1.0h-1.0zM103.4,461.5h1.0v1.0h-1.0zM84.2,479.1h1.0v1.0h-1.0zM136.1,475.4h1.0v1.0h-1.0zM70.0,467.8h1.0v1.0h-1.0zM154.1,479.6h1.0v1.0h-1.0zM179.6,456.2h1.0v1.0h-1.0zM108.9,480.0h1.0v1.0h-1.0zM129.2,478.9h1.0v1.0h-1.0zM93.9,454.1h1.0v1.0h-1.0zM180.8,460.4h1.0v1.0h-1.0zM132.5,463.0h1.0v1.0h-1.0zM134.6,478.2h1.0v1.0h-1.0zM180.9,476.7h1.0v1.0h-1.0zM94.3,475.2h1.0v1.0h-1.0zM64.4,464.5h1.0v1.0h-1.0zM180.6,460.2h1.0v1.0h-1.0zM108.2,468.9h1.0v1.0h-1.0zM91.8,472.2h1.0v1.0h-1.0zM144.0,455.9h1.0v1.0h-1.0zM177.6,455.3h1.0v1.0h-1.0zM149.5,462.7h1.0v1.0h-1.0zM80.1,455.5h1.0v1.0h-1.0zM187.3,474.7h1.0v1.0h-1.0zM119.7,474.5h1.0v1.0h-1.0zM183.8,478.0h1.0v1.0h-1.0zM128.9,460.7h1.0v1.0h-1.0zM127.2,479.5h1.0v1.0h-1.0zM153.7,471.2h1.0v1.0h-1.0zM167.9,464.3h1.0v1.0h-1.0zM132.2,476.0h1.0v1.0h-1.0zM87.1,476.2h1.0v1.0h-1.0zM65.2,467.7h1.0v1.0h-1.0zM134.2,457.3h1.0v1.0h-1.0zM177.8,465.1h1.0v1.0h-1.0zM85.3,464.3h1.0v1.0h-1.0zM136.3,464.8h1.0v1.0h-1.0zM62.5,455.9h1.0v1.0h-1.0zM151.6,456.9h1.0v1.0h-1.0zM94.2,474.9h1.0v1.0h-1.0zM170.2,476.9h1.0v1.0h-1.0zM84.0,453.5h1.0v1.0h-1.0zM156.8,469.3h1.0v1.0h-1.0zM107.8,453.9h1.0v1.0h-1.0zM116.3,459.7h1.0v1.0h-1.0zM135.9,479.5h1.0v1.0h-1.0zM88.4,455.4h1.0v1.0h-1.0zM149.3,456.3h1.0v1.0h-1.0zM90.1,465.1h1.0v1.0h-1.0zM185.9,462.0h1.0v1.0h-1.0zM101.7,466.0h1.0v1.0h-1.0zM82.5,464.1h1.0v1.0h-1.0zM150.0,462.0h1.0v1.0h-1.0zM162.0,458.3h1.0v1.0h-1.0zM74.8,470.1h1.0v1.0h-1.0zM118.9,477.8h1.0v1.0h-1.0zM75.3,473.2h1.0v1.0h-1.0zM146.2,463.3h1.0v1.0h-1.0zM78.2,469.7h1.0v1.0h-1.0zM157.3,466.0h1.0v1.0h-1.0zM121.4,471.6h1.0v1.0h-1.0zM138.6,464.7h1.0v1.0h-1.0zM85.5,465.7h1.0v1.0h-1.0zM131.1,477.2h1.0v1.0h-1.0zM186.9,468.2h1.0v1.0h-1.0zM103.3,459.3h1.0v1.0h-1.0zM141.2,473.0h1.0v1.0h-1.0zM93.2,471.8h1.0v1.0h-1.0zM187.5,463.8h1.0v1.0h-1.0zM179.9,465.0h1.0v1.0h-1.0zM143.9,476.5h1.0v1.0h-1.0zM87.6,462.6h1.0v1.0h-1.0zM185.6,455.1h1.0v1.0h-1.0zM100.5,466.1h1.0v1.0h-1.0zM155.6,470.2h1.0v1.0h-1.0zM178.8,471.2h1.0v1.0h-1.0zM62.3,455.3h1.0v1.0h-1.0zM66.7,464.9h1.0v1.0h-1.0zM65.5,467.4h1.0v1.0h-1.0zM141.5,458.8h1.0v1.0h-1.0zM169.5,464.4h1.0v1.0h-1.0z" fill="#c4c4c4"/>
<path d="M71.7,471.6h1.0v1.0h-1.0zM93.4,468.6h1.0v1.0h-1.0zM93.6,466.9h1.0v1.0h-1.0zM94.7,456.3h1.0v1.0h-1.0zM90.7,462.6h1.0v1.0h-1.0zM72.7,474.3h1.0v1.0h-1.0zM96.1,465.0h1.0v1.0h-1.0zM96.9,467.8h1.0v1.0h-1.0zM88.1,478.2h1.0v1.0h-1.0zM101.1,458.4h1.0v1.0h-1.0zM91.5,470.6h1.0v1.0h-1.0zM88.9,462.1h1.0v1.0h-1.0zM92.0,470.8h1.0v1.0h-1.0zM90.9,474.6h1.0v1.0h-1.0zM101.8,466.8h1.0v1.0h-1.0zM109.7,466.3h1.0v1.0h-1.0zM109.7,461.7h1.0v1.0h-1.0zM95.0,452.5h1.0v1.0h-1.0zM86.6,456.7h1.0v1.0h-1.0zM111.3,454.6h1.0v1.0h-1.0zM110.8,465.2h1.0v1.0h-1.0zM91.6,460.9h1.0v1.0h-1.0zM74.6,461.7h1.0v1.0h-1.0zM90.4,469.1h1.0v1.0h-1.0zM97.0,467.4h1.0v1.0h-1.0zM88.5,457.8h1.0v1.0h-1.0zM64.6,468.4h1.0v1.0h-1.0zM89.5,461.0h1.0v1.0h-1.0zM85.7,461.4h1.0v1.0h-1.0zM86.7,472.9h1.0v1.0h-1.0zM103.6,464.6h1.0v1.0h-1.0zM97.0,470.6h1.0v1.0h-1.0zM106.4,470.3h1.0v1.0h-1.0zM87.2,464.0h1.0v1.0h-1.0zM78.0,467.6h1.0v1.0h-1.0zM81.7,467.6h1.0v1.0h-1.0zM103.0,459.4h1.0v1.0h-1.0zM90.1,453.6h1.0v1.0h-1.0zM97.7,464.1h1.0v1.0h-1.0zM93.2,469.4h1.0v1.0h-1.0zM100.7,461.8h1.0v1.0h-1.0zM87.4,468.4h1.0v1.0h-1.0zM95.0,462.6h1.0v1.0h-1.0zM90.1,469.1h1.0v1.0h-1.0zM84.3,461.6h1.0v1.0h-1.0zM80.5,462.8h1.0v1.0h-1.0zM88.7,465.4h1.0v1.0h-1.0zM99.3,461.1h1.0v1.0h-1.0zM90.4,467.7h1.0v1.0h-1.0zM75.4,470.7h1.0v1.0h-1.0zM82.3,477.1h1.0v1.0h-1.0zM102.3,463.7h1.0v1.0h-1.0zM98.9,463.6h1.0v1.0h-1.0zM110.2,477.8h1.0v1.0h-1.0zM72.8,476.5h1.0v1.0h-1.0zM98.0,462.5h1.0v1.0h-1.0zM104.7,463.6h1.0v1.0h-1.0zM88.0,460.5h1.0v1.0h-1.0zM100.4,464.2h1.0v1.0h-1.0zM90.9,463.4h1.0v1.0h-1.0zM89.5,461.7h1.0v1.0h-1.0zM103.1,465.6h1.0v1.0h-1.0zM103.1,453.9h1.0v1.0h-1.0zM88.5,469.2h1.0v1.0h-1.0zM92.1,472.1h1.0v1.0h-1.0zM82.3,474.7h1.0v1.0h-1.0zM82.4,468.8h1.0v1.0h-1.0zM100.5,465.9h1.0v1.0h-1.0zM74.7,455.0h1.0v1.0h-1.0zM75.1,457.7h1.0v1.0h-1.0zM101.8,456.0h1.0v1.0h-1.0zM85.8,468.2h1.0v1.0h-1.0zM86.3,452.3h1.0v1.0h-1.0zM105.1,468.3h1.0v1.0h-1.0zM96.6,463.9h1.0v1.0h-1.0zM80.0,453.5h1.0v1.0h-1.0zM91.1,459.0h1.0v1.0h-1.0zM92.9,466.0h1.0v1.0h-1.0zM94.6,463.9h1.0v1.0h-1.0zM90.2,480.1h1.0v1.0h-1.0zM79.0,464.7h1.0v1.0h-1.0zM65.2,461.1h1.0v1.0h-1.0zM77.3,456.7h1.0v1.0h-1.0zM90.8,469.0h1.0v1.0h-1.0zM93.2,458.3h1.0v1.0h-1.0zM72.1,452.9h1.0v1.0h-1.0zM91.4,465.2h1.0v1.0h-1.0zM93.6,474.8h1.0v1.0h-1.0zM112.7,458.0h1.0v1.0h-1.0zM98.4,466.7h1.0v1.0h-1.0zM86.2,458.2h1.0v1.0h-1.0zM90.3,466.3h1.0v1.0h-1.0zM98.4,464.2h1.0v1.0h-1.0zM86.0,458.7h1.0v1.0h-1.0zM97.4,466.7h1.0v1.0h-1.0zM92.1,457.5h1.0v1.0h-1.0zM67.8,469.2h1.0v1.0h-1.0zM93.5,462.9h1.0v1.0h-1.0zM95.2,470.9h1.0v1.0h-1.0zM107.6,464.4h1.0v1.0h-1.0zM86.4,457.1h1.0v1.0h-1.0zM103.4,467.9h1.0v1.0h-1.0zM67.4,474.4h1.0v1.0h-1.0zM86.7,460.3h1.0v1.0h-1.0zM84.1,468.8h1.0v1.0h-1.0zM76.1,467.6h1.0v1.0h-1.0zM86.2,473.9h1.0v1.0h-1.0zM88.8,472.3h1.0v1.0h-1.0zM88.4,460.8h1.0v1.0h-1.0zM109.5,460.5h1.0v1.0h-1.0zM81.9,464.3h1.0v1.0h-1.0zM90.4,463.0h1.0v1.0h-1.0zM93.2,457.9h1.0v1.0h-1.0zM102.7,471.6h1.0v1.0h-1.0zM108.9,472.9h1.0v1.0h-1.0zM107.4,467.2h1.0v1.0h-1.0zM78.1,456.3h1.0v1.0h-1.0zM83.3,475.7h1.0v1.0h-1.0zM89.9,466.4h1.0v1.0h-1.0zM82.7,467.0h1.0v1.0h-1.0zM84.0,463.8h1.0v1.0h-1.0zM75.8,466.7h1.0v1.0h-1.0zM89.9,467.8h1.0v1.0h-1.0zM112.8,461.4h1.0v1.0h-1.0zM81.0,462.2h1.0v1.0h-1.0zM80.6,470.4h1.0v1.0h-1.0zM123.3,461.7h1.0v1.0h-1.0zM70.7,450.9h1.0v1.0h-1.0zM90.3,462.9h1.0v1.0h-1.0zM94.0,470.2h1.0v1.0h-1.0zM86.8,458.0h1.0v1.0h-1.0zM80.1,478.8h1.0v1.0h-1.0zM88.1,470.9h1.0v1.0h-1.0zM115.0,465.8h1.0v1.0h-1.0zM84.3,479.4h1.0v1.0h-1.0zM75.3,471.7h1.0v1.0h-1.0zM77.5,468.6h1.0v1.0h-1.0zM97.7,465.1h1.0v1.0h-1.0zM81.1,466.0h1.0v1.0h-1.0zM98.5,454.4h1.0v1.0h-1.0zM84.6,474.8h1.0v1.0h-1.0zM93.4,468.7h1.0v1.0h-1.0zM87.0,472.4h1.0v1.0h-1.0zM80.7,467.1h1.0v1.0h-1.0zM84.7,476.7h1.0v1.0h-1.0zM89.5,462.9h1.0v1.0h-1.0zM107.4,463.3h1.0v1.0h-1.0zM83.7,452.1h1.0v1.0h-1.0zM93.8,471.1h1.0v1.0h-1.0zM77.1,462.1h1.0v1.0h-1.0zM104.6,452.0h1.0v1.0h-1.0zM84.0,458.9h1.0v1.0h-1.0zM92.7,462.4h1.0v1.0h-1.0zM98.8,461.6h1.0v1.0h-1.0zM76.0,461.0h1.0v1.0h-1.0zM76.0,466.1h1.0v1.0h-1.0zM79.9,463.0h1.0v1.0h-1.0zM100.3,475.1h1.0v1.0h-1.0zM75.8,469.3h1.0v1.0h-1.0zM76.5,472.6h1.0v1.0h-1.0zM92.2,461.3h1.0v1.0h-1.0zM86.4,474.1h1.0v1.0h-1.0zM85.1,469.9h1.0v1.0h-1.0zM84.8,460.9h1.0v1.0h-1.0zM88.7,463.2h1.0v1.0h-1.0zM100.3,455.9h1.0v1.0h-1.0zM128.2,474.9h1.0v1.0h-1.0zM125.4,472.0h1.0v1.0h-1.0zM133.5,468.3h1.0v1.0h-1.0zM138.3,457.3h1.0v1.0h-1.0zM122.1,457.5h1.0v1.0h-1.0zM132.0,467.0h1.0v1.0h-1.0zM124.3,474.6h1.0v1.0h-1.0zM112.0,464.9h1.0v1.0h-1.0zM123.6,478.9h1.0v1.0h-1.0zM116.7,462.7h1.0v1.0h-1.0zM129.3,453.8h1.0v1.0h-1.0zM126.4,472.0h1.0v1.0h-1.0zM133.3,468.0h1.0v1.0h-1.0zM125.7,459.2h1.0v1.0h-1.0zM139.6,465.5h1.0v1.0h-1.0zM128.0,470.9h1.0v1.0h-1.0zM137.1,453.7h1.0v1.0h-1.0zM119.0,475.0h1.0v1.0h-1.0zM137.4,470.8h1.0v1.0h-1.0zM110.6,472.0h1.0v1.0h-1.0zM135.3,467.7h1.0v1.0h-1.0zM122.0,463.7h1.0v1.0h-1.0zM129.3,474.4h1.0v1.0h-1.0zM118.7,465.3h1.0v1.0h-1.0zM116.8,461.7h1.0v1.0h-1.0zM128.4,463.8h1.0v1.0h-1.0zM132.9,458.7h1.0v1.0h-1.0zM125.4,460.1h1.0v1.0h-1.0zM121.8,470.6h1.0v1.0h-1.0zM130.1,465.8h1.0v1.0h-1.0zM125.3,461.4h1.0v1.0h-1.0zM123.6,461.4h1.0v1.0h-1.0zM136.2,461.9h1.0v1.0h-1.0zM132.5,462.9h1.0v1.0h-1.0zM132.2,466.6h1.0v1.0h-1.0zM137.2,464.0h1.0v1.0h-1.0zM118.6,466.3h1.0v1.0h-1.0zM108.9,458.5h1.0v1.0h-1.0zM131.4,468.1h1.0v1.0h-1.0zM114.3,480.9h1.0v1.0h-1.0zM125.4,468.8h1.0v1.0h-1.0zM126.8,451.4h1.0v1.0h-1.0zM139.9,468.0h1.0v1.0h-1.0zM121.2,478.6h1.0v1.0h-1.0zM116.6,473.5h1.0v1.0h-1.0zM137.3,462.9h1.0v1.0h-1.0zM129.9,474.3h1.0v1.0h-1.0zM130.6,453.3h1.0v1.0h-1.0zM127.5,467.4h1.0v1.0h-1.0zM134.7,474.6h1.0v1.0h-1.0zM133.2,474.6h1.0v1.0h-1.0zM142.4,453.7h1.0v1.0h-1.0zM136.1,467.8h1.0v1.0h-1.0zM133.9,471.2h1.0v1.0h-1.0zM133.7,463.1h1.0v1.0h-1.0zM127.4,470.0h1.0v1.0h-1.0zM128.3,470.3h1.0v1.0h-1.0zM130.0,461.6h1.0v1.0h-1.0zM129.5,463.0h1.0v1.0h-1.0zM131.5,455.5h1.0v1.0h-1.0zM127.0,466.8h1.0v1.0h-1.0zM125.8,465.0h1.0v1.0h-1.0zM128.7,478.3h1.0v1.0h-1.0zM118.9,456.3h1.0v1.0h-1.0zM128.4,462.8h1.0v1.0h-1.0zM139.4,471.6h1.0v1.0h-1.0zM133.8,454.0h1.0v1.0h-1.0zM133.6,465.6h1.0v1.0h-1.0zM136.5,469.8h1.0v1.0h-1.0zM137.5,477.5h1.0v1.0h-1.0zM121.9,477.1h1.0v1.0h-1.0zM118.5,470.2h1.0v1.0h-1.0zM111.9,466.3h1.0v1.0h-1.0zM158.8,468.4h1.0v1.0h-1.0zM169.3,472.3h1.0v1.0h-1.0zM147.8,464.3h1.0v1.0h-1.0zM145.5,461.7h1.0v1.0h-1.0zM170.1,463.5h1.0v1.0h-1.0zM135.1,462.9h1.0v1.0h-1.0zM178.1,463.7h1.0v1.0h-1.0zM152.6,467.2h1.0v1.0h-1.0zM178.9,469.1h1.0v1.0h-1.0zM162.9,461.4h1.0v1.0h-1.0zM170.3,461.8h1.0v1.0h-1.0zM156.0,456.4h1.0v1.0h-1.0zM138.6,464.7h1.0v1.0h-1.0zM168.3,467.8h1.0v1.0h-1.0zM186.3,462.6h1.0v1.0h-1.0zM150.8,480.5h1.0v1.0h-1.0zM159.3,472.5h1.0v1.0h-1.0zM148.1,457.4h1.0v1.0h-1.0zM166.3,458.6h1.0v1.0h-1.0zM159.5,460.1h1.0v1.0h-1.0zM149.0,453.8h1.0v1.0h-1.0zM157.9,468.0h1.0v1.0h-1.0zM147.2,455.3h1.0v1.0h-1.0zM162.4,475.0h1.0v1.0h-1.0zM160.4,464.5h1.0v1.0h-1.0zM146.0,465.3h1.0v1.0h-1.0zM165.3,475.6h1.0v1.0h-1.0zM164.9,469.1h1.0v1.0h-1.0zM171.2,468.4h1.0v1.0h-1.0zM152.3,456.9h1.0v1.0h-1.0zM161.5,481.0h1.0v1.0h-1.0zM176.3,464.3h1.0v1.0h-1.0zM162.2,462.4h1.0v1.0h-1.0zM163.1,467.0h1.0v1.0h-1.0zM155.8,462.4h1.0v1.0h-1.0zM148.5,465.1h1.0v1.0h-1.0zM144.6,469.6h1.0v1.0h-1.0zM157.0,471.7h1.0v1.0h-1.0zM165.1,456.8h1.0v1.0h-1.0zM149.7,455.4h1.0v1.0h-1.0zM169.0,468.5h1.0v1.0h-1.0zM170.3,469.2h1.0v1.0h-1.0zM164.3,475.2h1.0v1.0h-1.0zM157.7,465.9h1.0v1.0h-1.0zM160.6,467.7h1.0v1.0h-1.0zM155.3,472.0h1.0v1.0h-1.0zM153.7,462.9h1.0v1.0h-1.0zM163.4,468.8h1.0v1.0h-1.0zM181.6,456.1h1.0v1.0h-1.0zM166.7,475.1h1.0v1.0h-1.0zM160.4,465.1h1.0v1.0h-1.0zM157.2,462.6h1.0v1.0h-1.0zM143.5,463.7h1.0v1.0h-1.0zM150.9,465.2h1.0v1.0h-1.0zM148.5,458.9h1.0v1.0h-1.0zM160.5,471.0h1.0v1.0h-1.0zM162.8,467.1h1.0v1.0h-1.0zM147.3,465.7h1.0v1.0h-1.0zM161.6,471.6h1.0v1.0h-1.0zM156.4,463.9h1.0v1.0h-1.0zM182.9,464.3h1.0v1.0h-1.0zM145.7,467.9h1.0v1.0h-1.0zM155.9,467.1h1.0v1.0h-1.0zM140.5,463.6h1.0v1.0h-1.0zM128.5,469.8h1.0v1.0h-1.0zM159.0,472.2h1.0v1.0h-1.0zM145.3,474.5h1.0v1.0h-1.0zM164.3,453.1h1.0v1.0h-1.0zM159.6,461.7h1.0v1.0h-1.0zM148.0,465.1h1.0v1.0h-1.0zM171.4,459.4h1.0v1.0h-1.0zM171.2,465.7h1.0v1.0h-1.0zM154.0,451.5h1.0v1.0h-1.0zM159.5,471.2h1.0v1.0h-1.0zM150.8,475.5h1.0v1.0h-1.0zM162.0,469.7h1.0v1.0h-1.0zM170.4,464.6h1.0v1.0h-1.0zM169.3,462.8h1.0v1.0h-1.0zM150.7,466.8h1.0v1.0h-1.0zM145.7,458.8h1.0v1.0h-1.0zM152.9,470.7h1.0v1.0h-1.0zM171.2,461.8h1.0v1.0h-1.0zM150.4,476.5h1.0v1.0h-1.0zM177.7,470.3h1.0v1.0h-1.0zM164.1,469.1h1.0v1.0h-1.0zM153.1,462.2h1.0v1.0h-1.0zM167.6,460.1h1.0v1.0h-1.0zM157.2,463.6h1.0v1.0h-1.0zM164.9,468.9h1.0v1.0h-1.0zM141.8,467.9h1.0v1.0h-1.0zM183.1,462.5h1.0v1.0h-1.0zM162.8,469.1h1.0v1.0h-1.0zM151.7,466.2h1.0v1.0h-1.0zM188.7,461.4h1.0v1.0h-1.0zM161.4,466.4h1.0v1.0h-1.0zM173.4,472.9h1.0v1.0h-1.0zM158.0,457.9h1.0v1.0h-1.0zM161.9,462.4h1.0v1.0h-1.0zM161.0,478.1h1.0v1.0h-1.0zM170.0,470.1h1.0v1.0h-1.0zM150.9,475.5h1.0v1.0h-1.0zM171.7,468.8h1.0v1.0h-1.0zM147.6,465.9h1.0v1.0h-1.0zM162.5,458.3h1.0v1.0h-1.0zM171.2,462.5h1.0v1.0h-1.0zM162.7,472.9h1.0v1.0h-1.0zM149.3,458.5h1.0v1.0h-1.0zM178.6,463.5h1.0v1.0h-1.0zM159.0,458.5h1.0v1.0h-1.0zM149.8,468.5h1.0v1.0h-1.0zM153.4,458.1h1.0v1.0h-1.0zM164.6,465.9h1.0v1.0h-1.0zM168.5,469.4h1.0v1.0h-1.0zM130.4,464.1h1.0v1.0h-1.0zM147.8,465.5h1.0v1.0h-1.0zM152.8,459.3h1.0v1.0h-1.0zM154.2,459.9h1.0v1.0h-1.0zM150.1,458.1h1.0v1.0h-1.0zM165.9,472.8h1.0v1.0h-1.0zM154.7,464.9h1.0v1.0h-1.0zM160.2,459.8h1.0v1.0h-1.0zM157.8,478.5h1.0v1.0h-1.0zM161.8,468.8h1.0v1.0h-1.0zM163.7,477.1h1.0v1.0h-1.0zM159.9,468.8h1.0v1.0h-1.0zM160.0,471.5h1.0v1.0h-1.0zM148.7,465.5h1.0v1.0h-1.0zM146.7,468.0h1.0v1.0h-1.0zM158.8,464.9h1.0v1.0h-1.0zM153.6,473.8h1.0v1.0h-1.0zM170.8,473.0h1.0v1.0h-1.0zM150.2,470.7h1.0v1.0h-1.0zM169.2,471.5h1.0v1.0h-1.0zM170.1,464.7h1.0v1.0h-1.0zM146.2,472.8h1.0v1.0h-1.0zM162.4,467.2h1.0v1.0h-1.0zM165.0,462.9h1.0v1.0h-1.0zM157.6,466.9h1.0v1.0h-1.0zM145.7,460.6h1.0v1.0h-1.0zM153.3,466.1h1.0v1.0h-1.0zM157.2,474.5h1.0v1.0h-1.0zM158.1,459.8h1.0v1.0h-1.0zM178.4,472.2h1.0v1.0h-1.0zM157.4,463.4h1.0v1.0h-1.0zM151.4,470.3h1.0v1.0h-1.0zM140.4,468.7h1.0v1.0h-1.0zM170.8,454.4h1.0v1.0h-1.0zM162.8,458.8h1.0v1.0h-1.0zM141.7,462.3h1.0v1.0h-1.0zM152.0,464.7h1.0v1.0h-1.0zM142.8,468.6h1.0v1.0h-1.0zM163.9,468.5h1.0v1.0h-1.0zM161.9,468.3h1.0v1.0h-1.0zM171.9,466.8h1.0v1.0h-1.0zM162.6,457.5h1.0v1.0h-1.0zM155.9,473.1h1.0v1.0h-1.0zM152.4,459.9h1.0v1.0h-1.0zM132.3,452.4h1.0v1.0h-1.0zM157.2,464.4h1.0v1.0h-1.0zM151.3,471.3h1.0v1.0h-1.0zM160.2,473.8h1.0v1.0h-1.0zM149.2,475.7h1.0v1.0h-1.0zM168.3,466.6h1.0v1.0h-1.0zM167.9,459.2h1.0v1.0h-1.0zM174.0,455.5h1.0v1.0h-1.0zM163.2,455.1h1.0v1.0h-1.0zM141.1,468.5h1.0v1.0h-1.0zM158.3,462.8h1.0v1.0h-1.0zM142.0,465.9h1.0v1.0h-1.0zM155.5,473.3h1.0v1.0h-1.0zM161.8,472.2h1.0v1.0h-1.0zM145.5,462.9h1.0v1.0h-1.0zM158.8,456.9h1.0v1.0h-1.0zM160.9,465.1h1.0v1.0h-1.0zM177.6,468.5h1.0v1.0h-1.0zM106.4,451.6h1.0v1.0h-1.0zM127.5,480.3h1.0v1.0h-1.0zM200.3,474.8h1.0v1.0h-1.0zM172.6,458.4h1.0v1.0h-1.0zM163.1,453.2h1.0v1.0h-1.0zM114.0,410.8h1.0v1.0h-1.0zM197.9,467.1h1.0v1.0h-1.0zM171.1,466.6h1.0v1.0h-1.0zM180.7,465.3h1.0v1.0h-1.0zM188.7,468.1h1.0v1.0h-1.0zM182.5,449.4h1.0v1.0h-1.0zM178.4,475.5h1.0v1.0h-1.0zM80.5,480.8h1.0v1.0h-1.0zM136.3,458.6h1.0v1.0h-1.0zM139.9,463.5h1.0v1.0h-1.0zM167.6,472.5h1.0v1.0h-1.0zM108.0,469.6h1.0v1.0h-1.0zM169.7,460.8h1.0v1.0h-1.0zM186.2,452.3h1.0v1.0h-1.0zM156.9,475.9h1.0v1.0h-1.0zM134.1,474.2h1.0v1.0h-1.0zM148.6,453.7h1.0v1.0h-1.0zM149.8,464.8h1.0v1.0h-1.0zM116.6,405.7h1.0v1.0h-1.0zM94.8,455.3h1.0v1.0h-1.0zM187.9,461.3h1.0v1.0h-1.0zM185.3,472.8h1.0v1.0h-1.0zM163.1,453.0h1.0v1.0h-1.0zM63.5,468.8h1.0v1.0h-1.0zM192.1,473.9h1.0v1.0h-1.0zM72.6,463.6h1.0v1.0h-1.0zM191.4,467.4h1.0v1.0h-1.0zM187.2,434.4h1.0v1.0h-1.0zM103.2,453.9h1.0v1.0h-1.0zM73.3,463.9h1.0v1.0h-1.0zM97.5,450.1h1.0v1.0h-1.0zM141.3,431.3h1.0v1.0h-1.0zM188.3,480.1h1.0v1.0h-1.0zM157.8,477.9h1.0v1.0h-1.0zM208.1,462.9h1.0v1.0h-1.0zM96.1,464.5h1.0v1.0h-1.0zM94.6,459.1h1.0v1.0h-1.0zM170.9,480.2h1.0v1.0h-1.0zM212.4,465.9h1.0v1.0h-1.0zM101.1,456.1h1.0v1.0h-1.0zM136.2,476.5h1.0v1.0h-1.0zM109.5,461.6h1.0v1.0h-1.0zM135.8,465.6h1.0v1.0h-1.0zM207.1,454.0h1.0v1.0h-1.0zM151.2,468.1h1.0v1.0h-1.0zM111.8,408.4h1.0v1.0h-1.0zM104.1,474.8h1.0v1.0h-1.0z" fill="#9d9d9d"/>
<path d="M77.8,459.4h1.0v1.0h-1.0zM102.4,471.6h1.0v1.0h-1.0zM98.6,470.9h1.0v1.0h-1.0zM98.6,466.2h1.0v1.0h-1.0zM73.3,462.8h1.0v1.0h-1.0zM74.6,476.4h1.0v1.0h-1.0zM72.4,454.4h1.0v1.0h-1.0zM72.9,461.8h1.0v1.0h-1.0zM85.4,461.9h1.0v1.0h-1.0zM77.2,457.5h1.0v1.0h-1.0zM81.1,472.0h1.0v1.0h-1.0zM107.1,457.0h1.0v1.0h-1.0zM94.2,470.5h1.0v1.0h-1.0zM126.9,455.8h1.0v1.0h-1.0zM133.8,458.9h1.0v1.0h-1.0zM134.1,451.2h1.0v1.0h-1.0zM136.8,457.6h1.0v1.0h-1.0zM137.6,459.6h1.0v1.0h-1.0zM154.3,472.2h1.0v1.0h-1.0zM149.1,472.8h1.0v1.0h-1.0zM154.2,479.2h1.0v1.0h-1.0zM157.4,462.6h1.0v1.0h-1.0zM160.1,456.8h1.0v1.0h-1.0zM159.5,462.0h1.0v1.0h-1.0zM179.1,469.0h1.0v1.0h-1.0zM153.4,473.4h1.0v1.0h-1.0zM166.3,467.1h1.0v1.0h-1.0zM148.5,463.0h1.0v1.0h-1.0zM177.5,467.2h1.0v1.0h-1.0zM172.0,455.8h1.0v1.0h-1.0zM152.1,459.1h1.0v1.0h-1.0zM159.2,457.9h1.0v1.0h-1.0zM141.5,457.9h1.0v1.0h-1.0zM158.9,464.8h1.0v1.0h-1.0zM144.7,462.1h1.0v1.0h-1.0zM140.9,459.4h1.0v1.0h-1.0zM165.9,465.3h1.0v1.0h-1.0zM171.6,470.8h1.0v1.0h-1.0zM158.8,461.5h1.0v1.0h-1.0zM165.8,463.5h1.0v1.0h-1.0zM162.5,460.6h1.0v1.0h-1.0zM163.1,467.5h1.0v1.0h-1.0zM182.4,475.3h1.0v1.0h-1.0zM155.8,476.8h1.0v1.0h-1.0zM164.6,456.6h1.0v1.0h-1.0zM158.9,474.9h1.0v1.0h-1.0zM138.1,472.7h1.0v1.0h-1.0zM158.7,465.6h1.0v1.0h-1.0zM149.1,459.4h1.0v1.0h-1.0zM163.1,466.0h1.0v1.0h-1.0zM159.9,467.3h1.0v1.0h-1.0zM158.9,466.7h1.0v1.0h-1.0zM165.2,469.1h1.0v1.0h-1.0zM129.3,468.5h1.0v1.0h-1.0zM145.7,473.6h1.0v1.0h-1.0zM162.6,457.7h1.0v1.0h-1.0zM164.7,470.6h1.0v1.0h-1.0zM148.4,475.5h1.0v1.0h-1.0zM150.1,472.0h1.0v1.0h-1.0zM165.6,473.8h1.0v1.0h-1.0zM140.3,461.4h1.0v1.0h-1.0zM164.7,459.9h1.0v1.0h-1.0zM163.9,458.8h1.0v1.0h-1.0zM159.2,475.0h1.0v1.0h-1.0zM168.8,458.0h1.0v1.0h-1.0zM167.6,473.0h1.0v1.0h-1.0zM149.2,462.2h1.0v1.0h-1.0zM170.3,466.5h1.0v1.0h-1.0zM130.1,457.8h1.0v1.0h-1.0zM173.2,457.0h1.0v1.0h-1.0zM162.1,471.6h1.0v1.0h-1.0zM152.9,468.2h1.0v1.0h-1.0zM159.1,461.7h1.0v1.0h-1.0zM157.4,468.4h1.0v1.0h-1.0zM158.2,457.5h1.0v1.0h-1.0z" fill="#5b9be6"/>
<path d="M102.2,468.8h1.0v1.0h-1.0zM86.2,467.0h1.0v1.0h-1.0zM97.4,472.1h1.0v1.0h-1.0zM92.7,468.8h1.0v1.0h-1.0zM82.7,463.3h1.0v1.0h-1.0zM88.1,467.8h1.0v1.0h-1.0zM98.3,472.5h1.0v1.0h-1.0zM88.4,467.2h1.0v1.0h-1.0zM96.8,469.1h1.0v1.0h-1.0zM98.3,466.6h1.0v1.0h-1.0zM95.5,467.1h1.0v1.0h-1.0zM87.4,467.1h1.0v1.0h-1.0zM87.2,461.6h1.0v1.0h-1.0zM88.4,465.6h1.0v1.0h-1.0zM100.2,461.5h1.0v1.0h-1.0zM81.5,477.4h1.0v1.0h-1.0zM82.1,468.3h1.0v1.0h-1.0zM84.4,461.8h1.0v1.0h-1.0zM94.6,469.3h1.0v1.0h-1.0zM76.6,468.2h1.0v1.0h-1.0zM87.3,460.7h1.0v1.0h-1.0zM92.3,467.7h1.0v1.0h-1.0zM106.8,461.8h1.0v1.0h-1.0zM86.7,469.4h1.0v1.0h-1.0zM92.8,466.4h1.0v1.0h-1.0zM90.2,461.1h1.0v1.0h-1.0zM89.6,468.7h1.0v1.0h-1.0zM85.7,462.4h1.0v1.0h-1.0zM86.2,465.3h1.0v1.0h-1.0zM89.0,461.7h1.0v1.0h-1.0zM102.5,464.9h1.0v1.0h-1.0zM80.4,465.8h1.0v1.0h-1.0zM88.7,464.9h1.0v1.0h-1.0zM107.8,470.0h1.0v1.0h-1.0zM86.6,471.1h1.0v1.0h-1.0zM95.2,464.1h1.0v1.0h-1.0zM91.7,467.2h1.0v1.0h-1.0zM91.5,469.0h1.0v1.0h-1.0zM83.7,467.9h1.0v1.0h-1.0zM98.2,471.8h1.0v1.0h-1.0zM98.8,467.7h1.0v1.0h-1.0zM103.4,468.8h1.0v1.0h-1.0zM100.4,462.5h1.0v1.0h-1.0zM91.1,466.9h1.0v1.0h-1.0zM89.3,461.8h1.0v1.0h-1.0zM89.7,465.0h1.0v1.0h-1.0zM98.2,460.2h1.0v1.0h-1.0zM82.5,472.5h1.0v1.0h-1.0zM91.9,468.5h1.0v1.0h-1.0zM94.9,469.6h1.0v1.0h-1.0zM88.3,461.8h1.0v1.0h-1.0zM98.4,460.3h1.0v1.0h-1.0zM76.6,464.5h1.0v1.0h-1.0zM78.1,469.1h1.0v1.0h-1.0zM68.4,472.4h1.0v1.0h-1.0zM79.7,468.0h1.0v1.0h-1.0zM88.3,470.7h1.0v1.0h-1.0zM125.8,472.0h1.0v1.0h-1.0zM129.0,460.7h1.0v1.0h-1.0zM129.3,468.2h1.0v1.0h-1.0zM126.6,469.7h1.0v1.0h-1.0zM131.5,464.7h1.0v1.0h-1.0zM128.1,463.2h1.0v1.0h-1.0zM125.0,467.3h1.0v1.0h-1.0zM127.6,459.4h1.0v1.0h-1.0zM123.7,472.8h1.0v1.0h-1.0zM155.6,465.3h1.0v1.0h-1.0zM163.4,480.6h1.0v1.0h-1.0zM174.4,462.7h1.0v1.0h-1.0zM150.4,461.9h1.0v1.0h-1.0zM168.7,470.9h1.0v1.0h-1.0zM163.4,472.3h1.0v1.0h-1.0zM137.9,465.8h1.0v1.0h-1.0zM160.0,462.2h1.0v1.0h-1.0zM163.5,456.0h1.0v1.0h-1.0zM137.0,469.5h1.0v1.0h-1.0zM164.4,469.3h1.0v1.0h-1.0zM164.0,462.0h1.0v1.0h-1.0zM169.6,456.1h1.0v1.0h-1.0zM158.1,466.1h1.0v1.0h-1.0zM150.8,467.6h1.0v1.0h-1.0zM158.8,468.7h1.0v1.0h-1.0zM166.7,472.8h1.0v1.0h-1.0zM172.2,460.0h1.0v1.0h-1.0zM160.0,464.3h1.0v1.0h-1.0zM162.6,460.2h1.0v1.0h-1.0zM155.1,472.3h1.0v1.0h-1.0zM168.1,464.8h1.0v1.0h-1.0zM158.9,477.1h1.0v1.0h-1.0zM167.7,464.1h1.0v1.0h-1.0zM163.3,460.3h1.0v1.0h-1.0zM163.8,461.4h1.0v1.0h-1.0zM165.4,470.0h1.0v1.0h-1.0zM164.7,458.5h1.0v1.0h-1.0zM170.8,469.2h1.0v1.0h-1.0zM150.8,467.7h1.0v1.0h-1.0zM153.0,469.0h1.0v1.0h-1.0zM166.6,467.7h1.0v1.0h-1.0zM159.1,472.1h1.0v1.0h-1.0zM164.0,467.8h1.0v1.0h-1.0zM162.4,462.9h1.0v1.0h-1.0zM161.1,466.8h1.0v1.0h-1.0zM151.2,462.8h1.0v1.0h-1.0zM161.0,464.3h1.0v1.0h-1.0zM167.2,463.5h1.0v1.0h-1.0zM157.3,472.3h1.0v1.0h-1.0zM164.4,459.3h1.0v1.0h-1.0zM160.1,465.2h1.0v1.0h-1.0zM168.7,457.2h1.0v1.0h-1.0zM160.1,460.8h1.0v1.0h-1.0zM158.2,466.7h1.0v1.0h-1.0zM163.6,458.3h1.0v1.0h-1.0zM166.1,468.4h1.0v1.0h-1.0zM161.4,465.4h1.0v1.0h-1.0zM160.1,471.0h1.0v1.0h-1.0zM157.4,461.8h1.0v1.0h-1.0zM158.7,468.2h1.0v1.0h-1.0zM169.9,466.6h1.0v1.0h-1.0zM162.1,468.7h1.0v1.0h-1.0zM149.1,476.3h1.0v1.0h-1.0zM156.5,462.5h1.0v1.0h-1.0zM161.1,470.2h1.0v1.0h-1.0zM139.1,468.3h1.0v1.0h-1.0zM171.1,467.3h1.0v1.0h-1.0zM144.0,468.6h1.0v1.0h-1.0zM168.9,471.0h1.0v1.0h-1.0zM161.4,473.0h1.0v1.0h-1.0zM172.3,462.8h1.0v1.0h-1.0zM161.0,468.6h1.0v1.0h-1.0zM165.4,463.6h1.0v1.0h-1.0zM170.3,476.4h1.0v1.0h-1.0zM161.6,466.7h1.0v1.0h-1.0zM154.8,465.7h1.0v1.0h-1.0zM165.2,469.3h1.0v1.0h-1.0zM159.7,467.7h1.0v1.0h-1.0zM150.9,469.8h1.0v1.0h-1.0zM165.4,472.6h1.0v1.0h-1.0zM154.1,463.7h1.0v1.0h-1.0zM160.9,466.3h1.0v1.0h-1.0zM159.7,465.5h1.0v1.0h-1.0zM152.0,466.7h1.0v1.0h-1.0zM165.4,467.9h1.0v1.0h-1.0zM156.8,465.2h1.0v1.0h-1.0zM154.7,464.6h1.0v1.0h-1.0zM143.5,463.8h1.0v1.0h-1.0zM155.7,461.7h1.0v1.0h-1.0zM153.2,467.0h1.0v1.0h-1.0zM154.5,462.0h1.0v1.0h-1.0zM163.2,467.5h1.0v1.0h-1.0zM157.2,468.8h1.0v1.0h-1.0zM165.2,465.4h1.0v1.0h-1.0zM159.4,462.6h1.0v1.0h-1.0zM155.8,470.2h1.0v1.0h-1.0zM165.6,461.5h1.0v1.0h-1.0zM159.7,460.1h1.0v1.0h-1.0zM153.8,471.1h1.0v1.0h-1.0zM155.7,470.1h1.0v1.0h-1.0zM160.6,468.5h1.0v1.0h-1.0zM157.7,459.3h1.0v1.0h-1.0zM166.4,464.0h1.0v1.0h-1.0zM148.2,465.4h1.0v1.0h-1.0zM159.9,461.2h1.0v1.0h-1.0zM155.8,467.0h1.0v1.0h-1.0zM153.4,462.3h1.0v1.0h-1.0zM160.9,468.7h1.0v1.0h-1.0zM155.0,473.1h1.0v1.0h-1.0zM164.5,474.2h1.0v1.0h-1.0zM154.5,468.4h1.0v1.0h-1.0zM175.1,459.0h1.0v1.0h-1.0zM159.2,464.7h1.0v1.0h-1.0zM160.5,468.2h1.0v1.0h-1.0zM163.5,466.5h1.0v1.0h-1.0zM164.8,468.5h1.0v1.0h-1.0zM153.8,469.1h1.0v1.0h-1.0zM163.0,469.6h1.0v1.0h-1.0zM149.8,474.6h1.0v1.0h-1.0zM144.4,464.1h1.0v1.0h-1.0zM162.8,458.4h1.0v1.0h-1.0zM160.8,463.0h1.0v1.0h-1.0zM171.3,463.7h1.0v1.0h-1.0zM171.7,467.5h1.0v1.0h-1.0zM173.2,454.9h1.0v1.0h-1.0zM151.3,464.3h1.0v1.0h-1.0zM161.5,469.2h1.0v1.0h-1.0zM163.4,473.4h1.0v1.0h-1.0zM159.9,465.6h1.0v1.0h-1.0zM167.0,466.4h1.0v1.0h-1.0zM146.6,471.6h1.0v1.0h-1.0zM166.5,463.1h1.0v1.0h-1.0zM158.2,465.7h1.0v1.0h-1.0zM161.7,468.2h1.0v1.0h-1.0zM167.2,464.1h1.0v1.0h-1.0zM157.0,459.4h1.0v1.0h-1.0zM145.9,469.9h1.0v1.0h-1.0zM160.7,465.7h1.0v1.0h-1.0zM154.4,468.6h1.0v1.0h-1.0zM154.5,467.6h1.0v1.0h-1.0zM164.7,459.2h1.0v1.0h-1.0zM167.0,469.7h1.0v1.0h-1.0zM159.2,466.2h1.0v1.0h-1.0zM153.7,463.6h1.0v1.0h-1.0zM159.3,461.6h1.0v1.0h-1.0zM169.2,468.3h1.0v1.0h-1.0zM166.6,465.3h1.0v1.0h-1.0zM155.2,463.0h1.0v1.0h-1.0zM158.8,467.6h1.0v1.0h-1.0zM160.2,466.4h1.0v1.0h-1.0zM152.1,463.9h1.0v1.0h-1.0zM169.7,464.3h1.0v1.0h-1.0zM153.1,466.7h1.0v1.0h-1.0zM155.8,463.7h1.0v1.0h-1.0zM171.3,471.5h1.0v1.0h-1.0zM166.0,459.0h1.0v1.0h-1.0zM169.4,467.0h1.0v1.0h-1.0zM173.2,470.0h1.0v1.0h-1.0zM159.2,461.4h1.0v1.0h-1.0zM167.0,461.7h1.0v1.0h-1.0zM149.4,470.4h1.0v1.0h-1.0zM148.2,460.6h1.0v1.0h-1.0zM154.0,465.8h1.0v1.0h-1.0zM167.0,461.2h1.0v1.0h-1.0zM140.0,465.7h1.0v1.0h-1.0zM166.3,464.2h1.0v1.0h-1.0zM167.5,467.5h1.0v1.0h-1.0zM165.6,469.0h1.0v1.0h-1.0zM166.5,459.9h1.0v1.0h-1.0zM182.4,472.3h1.0v1.0h-1.0zM158.4,459.8h1.0v1.0h-1.0zM160.7,460.8h1.0v1.0h-1.0zM170.1,466.8h1.0v1.0h-1.0zM158.2,466.2h1.0v1.0h-1.0zM160.7,468.6h1.0v1.0h-1.0zM164.3,473.4h1.0v1.0h-1.0zM161.1,478.4h1.0v1.0h-1.0zM157.7,475.2h1.0v1.0h-1.0zM143.9,468.4h1.0v1.0h-1.0zM150.5,458.0h1.0v1.0h-1.0zM157.5,468.6h1.0v1.0h-1.0zM158.8,472.5h1.0v1.0h-1.0zM150.6,468.5h1.0v1.0h-1.0zM166.6,461.2h1.0v1.0h-1.0zM167.3,464.8h1.0v1.0h-1.0zM174.5,474.9h1.0v1.0h-1.0zM159.2,466.9h1.0v1.0h-1.0zM161.7,465.6h1.0v1.0h-1.0zM160.8,472.4h1.0v1.0h-1.0zM168.6,468.3h1.0v1.0h-1.0zM162.8,461.6h1.0v1.0h-1.0zM159.9,474.1h1.0v1.0h-1.0zM154.9,456.8h1.0v1.0h-1.0zM173.1,471.2h1.0v1.0h-1.0zM150.3,469.8h1.0v1.0h-1.0zM159.7,471.0h1.0v1.0h-1.0zM153.3,461.4h1.0v1.0h-1.0zM153.5,471.4h1.0v1.0h-1.0zM153.4,464.3h1.0v1.0h-1.0zM163.8,461.0h1.0v1.0h-1.0zM171.7,468.0h1.0v1.0h-1.0zM152.8,467.6h1.0v1.0h-1.0zM167.7,469.5h1.0v1.0h-1.0zM181.5,466.8h1.0v1.0h-1.0zM159.7,466.0h1.0v1.0h-1.0zM162.8,468.3h1.0v1.0h-1.0z" fill="#2233b0"/>
<rect x="67.1" y="481.1" width="2.8" height="1.5" fill="#9040c0"/>
<rect x="69.9" y="481.1" width="3.0" height="1.5" fill="#f0c000"/>
<rect x="72.9" y="481.1" width="3.0" height="1.5" fill="#e03030"/>
<rect x="75.9" y="481.1" width="2.0" height="1.5" fill="#e03030"/>
<rect x="77.9" y="481.1" width="1.7" height="1.5" fill="#9040c0"/>
<rect x="79.6" y="481.1" width="3.3" height="1.5" fill="#e03030"/>
<rect x="82.9" y="481.1" width="2.0" height="1.5" fill="#2040e0"/>
<rect x="84.9" y="481.1" width="1.5" height="1.5" fill="#9040c0"/>
<rect x="86.5" y="481.1" width="1.5" height="1.5" fill="#2040e0"/>
<rect x="87.9" y="481.1" width="1.6" height="1.5" fill="#9040c0"/>
<rect x="89.5" y="481.1" width="1.7" height="1.5" fill="#9040c0"/>
<rect x="91.2" y="481.1" width="3.2" height="1.5" fill="#2040e0"/>
<rect x="94.4" y="481.1" width="1.7" height="1.5" fill="#30a030"/>
<rect x="96.1" y="481.1" width="2.3" height="1.5" fill="#f0c000"/>
<rect x="98.4" y="481.1" width="2.1" height="1.5" fill="#e03030"/>
<rect x="100.5" y="481.1" width="3.3" height="1.5" fill="#20b0b0"/>
<rect x="103.8" y="481.1" width="1.7" height="1.5" fill="#20b0b0"/>
<rect x="105.5" y="481.1" width="2.6" height="1.5" fill="#9040c0"/>
<rect x="108.1" y="481.1" width="1.4" height="1.5" fill="#9040c0"/>
<rect x="109.6" y="481.1" width="2.6" height="1.5" fill="#f0c000"/>
<rect x="112.2" y="481.1" width="1.8" height="1.5" fill="#e03030"/>
<rect x="113.9" y="481.1" width="1.6" height="1.5" fill="#20b0b0"/>
<rect x="115.5" y="481.1" width="2.7" height="1.5" fill="#30a030"/>
<rect x="118.2" y="481.1" width="2.4" height="1.5" fill="#e07020"/>
<rect x="120.6" y="481.1" width="3.4" height="1.5" fill="#e07020"/>
<rect x="124.0" y="481.1" width="2.3" height="1.5" fill="#30a030"/>
<rect x="126.2" y="481.1" width="1.7" height="1.5" fill="#30a030"/>
<rect x="127.9" y="481.1" width="2.4" height="1.5" fill="#9040c0"/>
<rect x="130.4" y="481.1" width="1.9" height="1.5" fill="#f0c000"/>
<rect x="132.2" y="481.1" width="3.3" height="1.5" fill="#e03030"/>
<rect x="135.5" y="481.1" width="1.4" height="1.5" fill="#2040e0"/>
<rect x="136.9" y="481.1" width="1.8" height="1.5" fill="#2040e0"/>
<rect x="138.7" y="481.1" width="1.8" height="1.5" fill="#30a030"/>
<rect x="140.5" y="481.1" width="3.2" height="1.5" fill="#20b0b0"/>
<rect x="143.7" y="481.1" width="1.8" height="1.5" fill="#e82020"/>
<rect x="145.4" y="481.1" width="3.2" height="1.5" fill="#30a030"/>
<rect x="148.7" y="481.1" width="1.4" height="1.5" fill="#e82020"/>
<rect x="150.1" y="481.1" width="2.4" height="1.5" fill="#e82020"/>
<rect x="152.5" y="481.1" width="1.6" height="1.5" fill="#e82020"/>
<rect x="154.2" y="481.1" width="3.5" height="1.5" fill="#e82020"/>
<rect x="157.6" y="481.1" width="2.6" height="1.5" fill="#e82020"/>
<rect x="160.2" y="481.1" width="2.9" height="1.5" fill="#e82020"/>
<rect x="163.1" y="481.1" width="3.3" height="1.5" fill="#e82020"/>
<rect x="166.5" y="481.1" width="3.2" height="1.5" fill="#e82020"/>
<rect x="169.7" y="481.1" width="1.3" height="1.5" fill="#e82020"/>
<rect x="171.0" y="481.1" width="1.4" height="1.5" fill="#e82020"/>
<rect x="172.4" y="481.1" width="3.4" height="1.5" fill="#e82020"/>
<rect x="175.8" y="481.1" width="2.8" height="1.5" fill="#e82020"/>
<rect x="178.7" y="481.1" width="2.4" height="1.5" fill="#e82020"/>
<rect x="181.0" y="481.1" width="1.4" height="1.5" fill="#e82020"/>
<rect x="182.5" y="481.1" width="2.2" height="1.5" fill="#e82020"/>
<line x1="59.1" y1="395.7" x2="59.1" y2="483.6" stroke="#2a2a2a" stroke-width="1.3" />
<line x1="58.5" y1="483" x2="354" y2="483" stroke="#444" stroke-width="1.0" />
<line x1="56.800000000000004" y1="479.3" x2="59.1" y2="479.3" stroke="#333" stroke-width="0.75" />
<line x1="56.800000000000004" y1="475.5" x2="59.1" y2="475.5" stroke="#333" stroke-width="0.75" />
<line x1="56.800000000000004" y1="471.8" x2="59.1" y2="471.8" stroke="#333" stroke-width="0.75" />
<line x1="56.800000000000004" y1="468.1" x2="59.1" y2="468.1" stroke="#333" stroke-width="0.75" />
<line x1="56.800000000000004" y1="464.3" x2="59.1" y2="464.3" stroke="#333" stroke-width="0.75" />
<line x1="55.5" y1="460.6" x2="59.1" y2="460.6" stroke="#333" stroke-width="0.75" />
<line x1="56.800000000000004" y1="456.9" x2="59.1" y2="456.9" stroke="#333" stroke-width="0.75" />
<line x1="56.800000000000004" y1="453.2" x2="59.1" y2="453.2" stroke="#333" stroke-width="0.75" />
<line x1="56.800000000000004" y1="449.4" x2="59.1" y2="449.4" stroke="#333" stroke-width="0.75" />
<line x1="56.800000000000004" y1="445.7" x2="59.1" y2="445.7" stroke="#333" stroke-width="0.75" />
<line x1="56.800000000000004" y1="442.0" x2="59.1" y2="442.0" stroke="#333" stroke-width="0.75" />
<line x1="55.5" y1="438.2" x2="59.1" y2="438.2" stroke="#333" stroke-width="0.75" />
<line x1="56.800000000000004" y1="434.5" x2="59.1" y2="434.5" stroke="#333" stroke-width="0.75" />
<line x1="56.800000000000004" y1="430.8" x2="59.1" y2="430.8" stroke="#333" stroke-width="0.75" />
<line x1="56.800000000000004" y1="427.0" x2="59.1" y2="427.0" stroke="#333" stroke-width="0.75" />
<line x1="56.800000000000004" y1="423.3" x2="59.1" y2="423.3" stroke="#333" stroke-width="0.75" />
<line x1="56.800000000000004" y1="419.6" x2="59.1" y2="419.6" stroke="#333" stroke-width="0.75" />
<line x1="55.5" y1="415.8" x2="59.1" y2="415.8" stroke="#333" stroke-width="0.75" />
<line x1="56.800000000000004" y1="412.1" x2="59.1" y2="412.1" stroke="#333" stroke-width="0.75" />
<line x1="56.800000000000004" y1="408.4" x2="59.1" y2="408.4" stroke="#333" stroke-width="0.75" />
<line x1="56.800000000000004" y1="404.7" x2="59.1" y2="404.7" stroke="#333" stroke-width="0.75" />
<line x1="56.800000000000004" y1="400.9" x2="59.1" y2="400.9" stroke="#333" stroke-width="0.75" />
<line x1="56.800000000000004" y1="397.2" x2="59.1" y2="397.2" stroke="#333" stroke-width="0.75" />
<line x1="59.1" y1="483" x2="59.1" y2="486.6" stroke="#333" stroke-width="0.75" />
<line x1="78.31318181818182" y1="483" x2="78.31318181818182" y2="485.0" stroke="#333" stroke-width="0.75" />
<line x1="89.54746753246752" y1="483" x2="89.54746753246752" y2="485.0" stroke="#333" stroke-width="0.75" />
<line x1="97.52636363636364" y1="483" x2="97.52636363636364" y2="485.0" stroke="#333" stroke-width="0.75" />
<line x1="103.71798701298701" y1="483" x2="103.71798701298701" y2="485.0" stroke="#333" stroke-width="0.75" />
<line x1="108.76064935064935" y1="483" x2="108.76064935064935" y2="485.0" stroke="#333" stroke-width="0.75" />
<line x1="113.03733766233765" y1="483" x2="113.03733766233765" y2="485.0" stroke="#333" stroke-width="0.75" />
<line x1="116.73954545454546" y1="483" x2="116.73954545454546" y2="485.0" stroke="#333" stroke-width="0.75" />
<line x1="119.99493506493505" y1="483" x2="119.99493506493505" y2="485.0" stroke="#333" stroke-width="0.75" />
<line x1="122.93116883116883" y1="483" x2="122.93116883116883" y2="486.6" stroke="#333" stroke-width="0.75" />
<line x1="142.14435064935063" y1="483" x2="142.14435064935063" y2="485.0" stroke="#333" stroke-width="0.75" />
<line x1="153.37863636363633" y1="483" x2="153.37863636363633" y2="485.0" stroke="#333" stroke-width="0.75" />
<line x1="161.35753246753245" y1="483" x2="161.35753246753245" y2="485.0" stroke="#333" stroke-width="0.75" />
<line x1="167.54915584415582" y1="483" x2="167.54915584415582" y2="485.0" stroke="#333" stroke-width="0.75" />
<line x1="172.59181818181816" y1="483" x2="172.59181818181816" y2="485.0" stroke="#333" stroke-width="0.75" />
<line x1="176.8685064935065" y1="483" x2="176.8685064935065" y2="485.0" stroke="#333" stroke-width="0.75" />
<line x1="180.57071428571427" y1="483" x2="180.57071428571427" y2="485.0" stroke="#333" stroke-width="0.75" />
<line x1="183.8261038961039" y1="483" x2="183.8261038961039" y2="485.0" stroke="#333" stroke-width="0.75" />
<line x1="186.76233766233764" y1="483" x2="186.76233766233764" y2="486.6" stroke="#333" stroke-width="0.75" />
<line x1="205.97551948051947" y1="483" x2="205.97551948051947" y2="485.0" stroke="#333" stroke-width="0.75" />
<line x1="217.20980519480517" y1="483" x2="217.20980519480517" y2="485.0" stroke="#333" stroke-width="0.75" />
<line x1="225.18870129870126" y1="483" x2="225.18870129870126" y2="485.0" stroke="#333" stroke-width="0.75" />
<line x1="231.38032467532466" y1="483" x2="231.38032467532466" y2="485.0" stroke="#333" stroke-width="0.75" />
<line x1="236.422987012987" y1="483" x2="236.422987012987" y2="485.0" stroke="#333" stroke-width="0.75" />
<line x1="240.69967532467527" y1="483" x2="240.69967532467527" y2="485.0" stroke="#333" stroke-width="0.75" />
<line x1="244.40188311688308" y1="483" x2="244.40188311688308" y2="485.0" stroke="#333" stroke-width="0.75" />
<line x1="247.65727272727267" y1="483" x2="247.65727272727267" y2="485.0" stroke="#333" stroke-width="0.75" />
<line x1="250.59350649350648" y1="483" x2="250.59350649350648" y2="486.6" stroke="#333" stroke-width="0.75" />
<line x1="269.80668831168833" y1="483" x2="269.80668831168833" y2="485.0" stroke="#333" stroke-width="0.75" />
<line x1="281.04097402597404" y1="483" x2="281.04097402597404" y2="485.0" stroke="#333" stroke-width="0.75" />
<line x1="289.0198701298701" y1="483" x2="289.0198701298701" y2="485.0" stroke="#333" stroke-width="0.75" />
<line x1="295.21149350649347" y1="483" x2="295.21149350649347" y2="485.0" stroke="#333" stroke-width="0.75" />
<line x1="300.25415584415583" y1="483" x2="300.25415584415583" y2="485.0" stroke="#333" stroke-width="0.75" />
<line x1="304.53084415584414" y1="483" x2="304.53084415584414" y2="485.0" stroke="#333" stroke-width="0.75" />
<line x1="308.2330519480519" y1="483" x2="308.2330519480519" y2="485.0" stroke="#333" stroke-width="0.75" />
<line x1="311.48844155844154" y1="483" x2="311.48844155844154" y2="485.0" stroke="#333" stroke-width="0.75" />
<line x1="142.6" y1="395.2" x2="142.6" y2="483" stroke="#ff4646" stroke-width="1.1" />
<path d="M59.1,417.7 H147 V449.7" fill="none" stroke="#ff4646" stroke-width="1.1"/>
<line x1="59.1" y1="449.7" x2="354" y2="449.7" stroke="#ff4646" stroke-width="1.1" />
<path d="M144.6,449.7 V482.4 H250.1 V449.7" fill="none" stroke="#ff4646" stroke-width="1.1"/>
<circle cx="59.1" cy="417.7" r="1.3" fill="#fff" stroke="#ff4646" stroke-width="0.7"/>
<circle cx="147" cy="417.7" r="1.3" fill="#fff" stroke="#ff4646" stroke-width="0.7"/>
<circle cx="59.1" cy="449.7" r="1.3" fill="#fff" stroke="#ff4646" stroke-width="0.7"/>
<circle cx="147" cy="449.7" r="1.3" fill="#fff" stroke="#ff4646" stroke-width="0.7"/>
<circle cx="250.1" cy="449.7" r="1.3" fill="#fff" stroke="#ff4646" stroke-width="0.7"/>
<circle cx="250.1" cy="482.4" r="1.3" fill="#fff" stroke="#ff4646" stroke-width="0.7"/>
<circle cx="144.6" cy="482.4" r="1.3" fill="#fff" stroke="#ff4646" stroke-width="0.7"/>
<circle cx="144.6" cy="449.7" r="1.3" fill="#fff" stroke="#ff4646" stroke-width="0.7"/>
<text x="100.8" y="414.7" font-family="'Liberation Sans', Arial, sans-serif" font-size="7.8" fill="#ff3030" font-weight="bold" >3</text>
<text x="194.89999999999998" y="447.3" font-family="'Liberation Sans', Arial, sans-serif" font-size="7.4" fill="#ff3030" font-weight="bold" >4</text>
<text x="61.300000000000004" y="397.7" font-family="'Liberation Sans', Arial, sans-serif" font-size="6.8" fill="#ff3030" >A 0.1% 0.1/µl</text>
<text x="315" y="397.59999999999997" font-family="'Liberation Sans', Arial, sans-serif" font-size="6.8" fill="#ff3030" >B 0.2% 0.3/µl</text>
<text x="61.300000000000004" y="479.5" font-family="'Liberation Sans', Arial, sans-serif" font-size="6.8" fill="#ff3030" >C 32.5% 46.1/µl</text>
<text x="315" y="479" font-family="'Liberation Sans', Arial, sans-serif" font-size="6.8" fill="#ff3030" >D 67.2% 95.5/µl</text>
<text x="354" y="485" font-family="'Liberation Sans', Arial, sans-serif" font-size="6.8" fill="#3a3a3a" >10^6.62</text>
<text x="48.1" y="487.5" font-family="'Liberation Sans', Arial, sans-serif" font-size="6.8" fill="#3a3a3a" >100</text>
<text transform="translate(52.800000000000004,479.2) rotate(-90)" font-family="'Liberation Sans', Arial, sans-serif" font-size="6.8" fill="#3a3a3a" >100</text>
<text transform="translate(52.800000000000004,407.5) rotate(-90)" font-family="'Liberation Sans', Arial, sans-serif" font-size="6.8" fill="#3a3a3a" >10^6.62</text>
<text transform="translate(52.800000000000004,440.9) rotate(-90)" font-family="'Liberation Sans', Arial, sans-serif" font-size="6.8" fill="#ff3030" >638Red</text>
<text transform="translate(363.5,472.09999999999997) rotate(-90)" font-family="'Liberation Sans', Arial, sans-serif" font-size="6.8" fill="#ff3030" >488Grn</text>
<text x="49.8" y="493.5" font-family="'Liberation Sans', Arial, sans-serif" font-size="6.8" fill="#ff3030" textLength="187" lengthAdjust="spacingAndGlyphs" >A=0.1%,0.1/ul B=0.2%,0.3/ul C=32.5%,46.1/ul D=67.2%,95.5/ul</text>
<text x="205.5" y="429.6" font-family="'Liberation Serif', 'Times New Roman', serif" font-size="11.9" fill="#000" font-weight="bold" textLength="76.5" lengthAdjust="spacingAndGlyphs" >PBS-challenge</text>
<rect x="57.5" y="495.4" width="36.2" height="9" fill="#fff" stroke="#c8c8c8" stroke-width="0.6" />
<text x="60.1" y="502.4" font-family="'Liberation Sans', Arial, sans-serif" font-size="7" fill="#222" >Auto</text>
<path d="M85.0,498.7 l2.2,2.2 l2.2,-2.2" fill="none" stroke="#666" stroke-width="0.6"/>
<text x="97.1" y="502.79999999999995" font-family="'Liberation Sans', Arial, sans-serif" font-size="7" fill="#222" textLength="33.2" lengthAdjust="spacingAndGlyphs" >Gated by 2</text>
<path d="M82.5,588.7h1.0v1.0h-1.0zM89.0,587.1h1.0v1.0h-1.0zM93.7,567.3h1.0v1.0h-1.0zM91.0,581.2h1.0v1.0h-1.0zM112.8,579.0h1.0v1.0h-1.0zM94.8,564.5h1.0v1.0h-1.0zM89.3,577.5h1.0v1.0h-1.0zM79.0,570.6h1.0v1.0h-1.0zM94.6,580.9h1.0v1.0h-1.0zM93.1,570.1h1.0v1.0h-1.0zM74.7,572.8h1.0v1.0h-1.0zM79.8,581.3h1.0v1.0h-1.0zM86.5,574.8h1.0v1.0h-1.0zM85.8,584.5h1.0v1.0h-1.0zM100.0,578.9h1.0v1.0h-1.0zM77.2,570.9h1.0v1.0h-1.0zM90.9,570.3h1.0v1.0h-1.0zM89.6,590.3h1.0v1.0h-1.0zM88.7,576.8h1.0v1.0h-1.0zM86.7,572.6h1.0v1.0h-1.0zM87.9,574.4h1.0v1.0h-1.0zM92.9,568.3h1.0v1.0h-1.0zM101.9,579.7h1.0v1.0h-1.0zM99.6,574.1h1.0v1.0h-1.0zM70.5,581.3h1.0v1.0h-1.0zM82.8,572.5h1.0v1.0h-1.0zM103.0,579.8h1.0v1.0h-1.0zM74.6,581.6h1.0v1.0h-1.0zM94.2,578.8h1.0v1.0h-1.0zM85.1,576.8h1.0v1.0h-1.0zM105.1,572.0h1.0v1.0h-1.0zM91.3,575.3h1.0v1.0h-1.0zM100.0,581.1h1.0v1.0h-1.0zM85.2,576.0h1.0v1.0h-1.0zM83.2,570.1h1.0v1.0h-1.0zM90.4,575.3h1.0v1.0h-1.0zM70.8,573.8h1.0v1.0h-1.0zM100.5,577.1h1.0v1.0h-1.0zM82.5,578.2h1.0v1.0h-1.0zM95.4,584.2h1.0v1.0h-1.0zM96.2,580.0h1.0v1.0h-1.0zM88.4,589.0h1.0v1.0h-1.0zM98.4,581.8h1.0v1.0h-1.0zM90.5,575.9h1.0v1.0h-1.0zM82.9,572.8h1.0v1.0h-1.0zM84.6,577.3h1.0v1.0h-1.0zM95.0,582.0h1.0v1.0h-1.0zM80.8,574.7h1.0v1.0h-1.0zM81.6,578.2h1.0v1.0h-1.0zM108.6,577.5h1.0v1.0h-1.0zM99.1,588.6h1.0v1.0h-1.0zM94.2,569.0h1.0v1.0h-1.0zM89.6,572.8h1.0v1.0h-1.0zM76.2,575.0h1.0v1.0h-1.0zM89.8,584.6h1.0v1.0h-1.0zM105.4,584.1h1.0v1.0h-1.0zM79.4,578.4h1.0v1.0h-1.0zM97.2,580.5h1.0v1.0h-1.0zM92.1,587.4h1.0v1.0h-1.0zM106.9,572.5h1.0v1.0h-1.0zM87.9,579.9h1.0v1.0h-1.0zM103.9,575.0h1.0v1.0h-1.0zM101.7,575.1h1.0v1.0h-1.0zM79.6,581.9h1.0v1.0h-1.0zM102.2,567.7h1.0v1.0h-1.0zM104.7,578.5h1.0v1.0h-1.0zM96.5,574.2h1.0v1.0h-1.0zM95.5,577.2h1.0v1.0h-1.0zM100.1,581.0h1.0v1.0h-1.0zM97.9,587.1h1.0v1.0h-1.0zM96.9,567.7h1.0v1.0h-1.0zM87.8,569.9h1.0v1.0h-1.0zM94.1,569.3h1.0v1.0h-1.0zM93.4,583.2h1.0v1.0h-1.0zM99.4,569.1h1.0v1.0h-1.0zM88.4,580.2h1.0v1.0h-1.0zM84.7,582.9h1.0v1.0h-1.0zM78.3,576.0h1.0v1.0h-1.0zM69.3,581.9h1.0v1.0h-1.0zM96.1,584.0h1.0v1.0h-1.0zM87.3,578.8h1.0v1.0h-1.0zM77.4,583.1h1.0v1.0h-1.0zM82.5,581.1h1.0v1.0h-1.0zM91.7,581.1h1.0v1.0h-1.0zM86.4,572.4h1.0v1.0h-1.0zM87.2,584.5h1.0v1.0h-1.0zM83.2,576.8h1.0v1.0h-1.0zM78.7,583.3h1.0v1.0h-1.0zM79.6,580.1h1.0v1.0h-1.0zM95.1,586.6h1.0v1.0h-1.0zM91.9,581.2h1.0v1.0h-1.0zM84.3,575.6h1.0v1.0h-1.0zM85.9,571.8h1.0v1.0h-1.0zM76.5,589.7h1.0v1.0h-1.0zM87.7,575.8h1.0v1.0h-1.0zM95.4,573.2h1.0v1.0h-1.0zM99.0,585.1h1.0v1.0h-1.0zM111.0,573.4h1.0v1.0h-1.0zM105.9,590.8h1.0v1.0h-1.0zM81.2,571.9h1.0v1.0h-1.0zM85.8,579.6h1.0v1.0h-1.0zM89.3,581.2h1.0v1.0h-1.0zM74.5,571.9h1.0v1.0h-1.0zM83.9,575.5h1.0v1.0h-1.0zM93.1,587.0h1.0v1.0h-1.0zM88.4,580.3h1.0v1.0h-1.0zM92.9,583.0h1.0v1.0h-1.0zM101.6,582.9h1.0v1.0h-1.0zM97.3,582.7h1.0v1.0h-1.0zM81.6,583.1h1.0v1.0h-1.0zM87.5,577.8h1.0v1.0h-1.0zM97.6,591.9h1.0v1.0h-1.0zM81.7,584.0h1.0v1.0h-1.0zM90.7,579.5h1.0v1.0h-1.0zM95.0,578.4h1.0v1.0h-1.0zM70.2,564.9h1.0v1.0h-1.0zM88.6,577.8h1.0v1.0h-1.0zM87.2,579.3h1.0v1.0h-1.0zM85.7,569.5h1.0v1.0h-1.0zM96.8,576.2h1.0v1.0h-1.0zM75.6,586.2h1.0v1.0h-1.0zM108.7,568.5h1.0v1.0h-1.0zM81.7,588.2h1.0v1.0h-1.0zM98.2,568.0h1.0v1.0h-1.0zM78.0,585.0h1.0v1.0h-1.0zM92.0,575.6h1.0v1.0h-1.0zM90.7,581.3h1.0v1.0h-1.0zM86.2,571.9h1.0v1.0h-1.0zM70.4,572.7h1.0v1.0h-1.0zM80.8,576.1h1.0v1.0h-1.0zM88.5,575.0h1.0v1.0h-1.0zM103.0,573.1h1.0v1.0h-1.0zM73.0,574.6h1.0v1.0h-1.0zM95.7,587.8h1.0v1.0h-1.0zM84.8,584.6h1.0v1.0h-1.0zM83.2,579.6h1.0v1.0h-1.0zM76.8,579.0h1.0v1.0h-1.0zM96.8,576.6h1.0v1.0h-1.0zM91.4,581.5h1.0v1.0h-1.0zM86.6,576.1h1.0v1.0h-1.0zM87.8,575.7h1.0v1.0h-1.0zM84.9,587.9h1.0v1.0h-1.0zM95.2,587.2h1.0v1.0h-1.0zM73.1,580.6h1.0v1.0h-1.0zM89.5,566.8h1.0v1.0h-1.0zM83.9,573.6h1.0v1.0h-1.0zM90.4,574.1h1.0v1.0h-1.0zM94.4,578.0h1.0v1.0h-1.0zM98.3,581.6h1.0v1.0h-1.0zM89.3,570.3h1.0v1.0h-1.0zM92.9,574.6h1.0v1.0h-1.0zM98.7,572.8h1.0v1.0h-1.0zM93.9,586.4h1.0v1.0h-1.0zM91.2,569.5h1.0v1.0h-1.0zM104.1,584.5h1.0v1.0h-1.0zM85.8,574.4h1.0v1.0h-1.0zM78.7,583.7h1.0v1.0h-1.0zM94.6,582.1h1.0v1.0h-1.0zM102.0,578.8h1.0v1.0h-1.0zM88.3,572.2h1.0v1.0h-1.0zM83.4,577.6h1.0v1.0h-1.0zM96.4,574.1h1.0v1.0h-1.0zM89.4,572.8h1.0v1.0h-1.0zM109.7,578.7h1.0v1.0h-1.0zM97.8,583.0h1.0v1.0h-1.0zM86.6,573.2h1.0v1.0h-1.0zM87.6,576.1h1.0v1.0h-1.0zM95.4,574.2h1.0v1.0h-1.0zM93.3,573.7h1.0v1.0h-1.0zM86.3,571.2h1.0v1.0h-1.0zM100.7,575.7h1.0v1.0h-1.0zM85.9,572.1h1.0v1.0h-1.0zM99.2,567.5h1.0v1.0h-1.0zM86.2,570.7h1.0v1.0h-1.0zM89.5,577.2h1.0v1.0h-1.0zM95.7,577.1h1.0v1.0h-1.0zM95.8,580.2h1.0v1.0h-1.0zM104.9,580.3h1.0v1.0h-1.0zM94.4,574.2h1.0v1.0h-1.0zM83.6,583.0h1.0v1.0h-1.0zM92.9,573.5h1.0v1.0h-1.0zM87.6,574.1h1.0v1.0h-1.0zM97.4,568.0h1.0v1.0h-1.0zM83.7,587.4h1.0v1.0h-1.0zM94.2,581.5h1.0v1.0h-1.0zM92.6,578.1h1.0v1.0h-1.0zM89.9,566.3h1.0v1.0h-1.0zM64.5,572.6h1.0v1.0h-1.0zM72.4,589.5h1.0v1.0h-1.0zM97.0,576.3h1.0v1.0h-1.0zM85.0,586.6h1.0v1.0h-1.0zM88.0,574.1h1.0v1.0h-1.0zM88.3,570.3h1.0v1.0h-1.0zM99.0,583.4h1.0v1.0h-1.0zM83.3,578.6h1.0v1.0h-1.0zM82.5,582.2h1.0v1.0h-1.0zM74.8,570.7h1.0v1.0h-1.0zM78.2,588.7h1.0v1.0h-1.0zM116.4,575.1h1.0v1.0h-1.0zM95.9,579.9h1.0v1.0h-1.0zM96.5,578.4h1.0v1.0h-1.0zM102.2,584.9h1.0v1.0h-1.0zM104.8,581.0h1.0v1.0h-1.0zM85.8,573.4h1.0v1.0h-1.0zM92.3,578.9h1.0v1.0h-1.0zM93.4,592.1h1.0v1.0h-1.0zM93.6,578.7h1.0v1.0h-1.0zM97.7,585.5h1.0v1.0h-1.0zM98.3,571.3h1.0v1.0h-1.0zM87.8,576.3h1.0v1.0h-1.0zM91.9,570.2h1.0v1.0h-1.0zM75.8,578.4h1.0v1.0h-1.0zM100.3,578.1h1.0v1.0h-1.0zM88.9,573.5h1.0v1.0h-1.0zM80.3,573.6h1.0v1.0h-1.0zM77.0,577.3h1.0v1.0h-1.0zM75.2,576.8h1.0v1.0h-1.0zM103.8,577.8h1.0v1.0h-1.0zM75.2,566.0h1.0v1.0h-1.0zM101.0,569.7h1.0v1.0h-1.0zM99.5,587.2h1.0v1.0h-1.0zM84.4,583.8h1.0v1.0h-1.0zM104.9,569.0h1.0v1.0h-1.0zM85.5,578.4h1.0v1.0h-1.0zM84.6,580.5h1.0v1.0h-1.0zM89.1,579.2h1.0v1.0h-1.0zM90.4,564.6h1.0v1.0h-1.0zM102.1,575.9h1.0v1.0h-1.0zM96.6,579.6h1.0v1.0h-1.0zM94.7,577.5h1.0v1.0h-1.0zM110.0,586.0h1.0v1.0h-1.0zM90.1,579.7h1.0v1.0h-1.0zM103.2,572.4h1.0v1.0h-1.0zM92.6,570.0h1.0v1.0h-1.0zM88.3,570.3h1.0v1.0h-1.0zM89.6,576.1h1.0v1.0h-1.0zM89.3,588.9h1.0v1.0h-1.0zM99.6,566.1h1.0v1.0h-1.0zM77.8,576.8h1.0v1.0h-1.0zM84.0,571.6h1.0v1.0h-1.0zM87.8,578.0h1.0v1.0h-1.0zM83.4,580.9h1.0v1.0h-1.0zM91.3,583.4h1.0v1.0h-1.0zM97.1,573.2h1.0v1.0h-1.0zM97.2,583.5h1.0v1.0h-1.0zM101.3,575.7h1.0v1.0h-1.0zM87.6,580.5h1.0v1.0h-1.0zM75.2,585.6h1.0v1.0h-1.0zM90.4,569.5h1.0v1.0h-1.0zM101.2,583.4h1.0v1.0h-1.0zM86.7,573.6h1.0v1.0h-1.0zM91.4,568.7h1.0v1.0h-1.0zM79.0,582.6h1.0v1.0h-1.0zM99.0,581.5h1.0v1.0h-1.0zM103.3,587.1h1.0v1.0h-1.0zM91.7,584.5h1.0v1.0h-1.0zM100.0,574.7h1.0v1.0h-1.0zM99.8,584.1h1.0v1.0h-1.0zM98.1,582.0h1.0v1.0h-1.0zM99.6,581.6h1.0v1.0h-1.0zM90.7,574.8h1.0v1.0h-1.0zM75.3,591.8h1.0v1.0h-1.0zM84.8,574.9h1.0v1.0h-1.0zM81.8,576.8h1.0v1.0h-1.0zM97.5,581.5h1.0v1.0h-1.0zM81.9,582.5h1.0v1.0h-1.0zM95.3,568.1h1.0v1.0h-1.0zM88.7,573.7h1.0v1.0h-1.0zM92.7,575.9h1.0v1.0h-1.0zM101.1,575.1h1.0v1.0h-1.0zM98.6,575.3h1.0v1.0h-1.0zM104.5,580.4h1.0v1.0h-1.0zM78.5,576.6h1.0v1.0h-1.0zM94.7,585.5h1.0v1.0h-1.0zM89.7,589.9h1.0v1.0h-1.0zM85.7,571.7h1.0v1.0h-1.0zM89.0,581.8h1.0v1.0h-1.0zM78.8,588.0h1.0v1.0h-1.0zM104.5,569.6h1.0v1.0h-1.0zM84.0,579.4h1.0v1.0h-1.0zM84.9,573.4h1.0v1.0h-1.0zM66.7,573.0h1.0v1.0h-1.0zM76.7,590.7h1.0v1.0h-1.0zM92.4,570.6h1.0v1.0h-1.0zM100.5,573.6h1.0v1.0h-1.0zM85.7,576.9h1.0v1.0h-1.0zM95.0,579.5h1.0v1.0h-1.0zM86.7,580.3h1.0v1.0h-1.0zM92.5,587.0h1.0v1.0h-1.0zM103.4,578.8h1.0v1.0h-1.0zM83.8,584.2h1.0v1.0h-1.0zM97.7,577.7h1.0v1.0h-1.0zM95.6,567.2h1.0v1.0h-1.0zM90.2,578.9h1.0v1.0h-1.0zM69.7,582.6h1.0v1.0h-1.0zM88.4,589.3h1.0v1.0h-1.0zM81.8,565.9h1.0v1.0h-1.0zM90.9,575.9h1.0v1.0h-1.0zM89.3,580.2h1.0v1.0h-1.0zM90.3,570.6h1.0v1.0h-1.0zM94.3,586.4h1.0v1.0h-1.0zM75.4,576.6h1.0v1.0h-1.0zM85.0,586.8h1.0v1.0h-1.0zM89.8,571.0h1.0v1.0h-1.0zM79.6,563.5h1.0v1.0h-1.0zM71.0,567.9h1.0v1.0h-1.0zM87.9,580.5h1.0v1.0h-1.0zM107.7,583.6h1.0v1.0h-1.0zM79.1,564.4h1.0v1.0h-1.0zM102.3,583.0h1.0v1.0h-1.0zM88.7,591.1h1.0v1.0h-1.0zM89.8,565.9h1.0v1.0h-1.0zM81.4,580.0h1.0v1.0h-1.0zM93.2,564.6h1.0v1.0h-1.0zM84.2,567.6h1.0v1.0h-1.0zM103.5,577.6h1.0v1.0h-1.0zM82.5,583.4h1.0v1.0h-1.0zM89.2,580.1h1.0v1.0h-1.0zM87.3,568.1h1.0v1.0h-1.0zM100.7,578.8h1.0v1.0h-1.0zM111.2,581.7h1.0v1.0h-1.0zM101.3,581.9h1.0v1.0h-1.0zM74.2,574.9h1.0v1.0h-1.0zM102.0,574.3h1.0v1.0h-1.0zM101.8,586.0h1.0v1.0h-1.0zM103.2,572.4h1.0v1.0h-1.0zM90.3,571.4h1.0v1.0h-1.0zM90.6,575.7h1.0v1.0h-1.0zM77.7,573.6h1.0v1.0h-1.0zM79.1,571.3h1.0v1.0h-1.0zM82.3,565.1h1.0v1.0h-1.0zM80.4,576.7h1.0v1.0h-1.0zM89.1,583.2h1.0v1.0h-1.0zM87.2,574.8h1.0v1.0h-1.0zM76.2,577.7h1.0v1.0h-1.0zM98.3,579.0h1.0v1.0h-1.0zM110.0,587.7h1.0v1.0h-1.0zM83.3,578.4h1.0v1.0h-1.0zM86.1,570.6h1.0v1.0h-1.0zM87.5,576.0h1.0v1.0h-1.0zM75.7,579.0h1.0v1.0h-1.0zM89.5,577.3h1.0v1.0h-1.0zM81.2,580.3h1.0v1.0h-1.0zM85.7,581.3h1.0v1.0h-1.0zM82.8,574.9h1.0v1.0h-1.0zM96.0,583.1h1.0v1.0h-1.0zM98.8,576.9h1.0v1.0h-1.0zM97.9,584.5h1.0v1.0h-1.0zM100.7,572.1h1.0v1.0h-1.0zM88.7,566.4h1.0v1.0h-1.0zM103.8,578.1h1.0v1.0h-1.0zM84.1,573.6h1.0v1.0h-1.0zM86.0,581.3h1.0v1.0h-1.0zM81.7,581.0h1.0v1.0h-1.0zM73.6,580.4h1.0v1.0h-1.0zM76.5,583.4h1.0v1.0h-1.0zM90.4,567.8h1.0v1.0h-1.0zM108.4,570.1h1.0v1.0h-1.0zM89.2,578.4h1.0v1.0h-1.0zM89.9,578.0h1.0v1.0h-1.0zM80.5,586.7h1.0v1.0h-1.0zM97.0,568.3h1.0v1.0h-1.0zM75.8,573.4h1.0v1.0h-1.0zM80.3,579.0h1.0v1.0h-1.0zM89.3,572.1h1.0v1.0h-1.0zM81.0,584.8h1.0v1.0h-1.0zM106.3,568.8h1.0v1.0h-1.0zM84.2,582.0h1.0v1.0h-1.0zM88.2,576.9h1.0v1.0h-1.0zM92.8,576.9h1.0v1.0h-1.0zM63.4,568.0h1.0v1.0h-1.0zM87.2,567.2h1.0v1.0h-1.0zM102.3,586.5h1.0v1.0h-1.0zM88.9,573.4h1.0v1.0h-1.0zM81.9,577.3h1.0v1.0h-1.0zM67.0,582.7h1.0v1.0h-1.0zM91.1,571.6h1.0v1.0h-1.0zM77.1,573.8h1.0v1.0h-1.0zM86.4,572.3h1.0v1.0h-1.0zM77.8,578.3h1.0v1.0h-1.0zM89.8,578.5h1.0v1.0h-1.0zM77.9,576.4h1.0v1.0h-1.0zM96.5,573.8h1.0v1.0h-1.0zM79.4,584.6h1.0v1.0h-1.0zM84.2,583.1h1.0v1.0h-1.0zM85.2,583.5h1.0v1.0h-1.0zM113.8,585.2h1.0v1.0h-1.0zM78.7,574.5h1.0v1.0h-1.0zM91.6,564.7h1.0v1.0h-1.0zM97.3,570.4h1.0v1.0h-1.0zM89.5,571.8h1.0v1.0h-1.0zM95.9,571.0h1.0v1.0h-1.0zM85.8,570.4h1.0v1.0h-1.0zM112.3,578.8h1.0v1.0h-1.0zM74.5,585.7h1.0v1.0h-1.0zM89.0,577.4h1.0v1.0h-1.0zM80.5,582.4h1.0v1.0h-1.0zM101.1,587.1h1.0v1.0h-1.0zM88.8,585.8h1.0v1.0h-1.0zM93.3,582.6h1.0v1.0h-1.0zM84.9,573.2h1.0v1.0h-1.0zM91.5,579.5h1.0v1.0h-1.0zM88.5,575.8h1.0v1.0h-1.0zM88.2,574.3h1.0v1.0h-1.0zM93.4,578.9h1.0v1.0h-1.0zM103.4,568.0h1.0v1.0h-1.0zM82.7,571.4h1.0v1.0h-1.0zM84.5,571.6h1.0v1.0h-1.0zM93.7,573.2h1.0v1.0h-1.0zM84.9,583.6h1.0v1.0h-1.0zM92.0,583.8h1.0v1.0h-1.0zM84.5,578.3h1.0v1.0h-1.0zM87.5,583.4h1.0v1.0h-1.0zM100.6,569.7h1.0v1.0h-1.0zM84.5,579.1h1.0v1.0h-1.0zM93.5,577.0h1.0v1.0h-1.0zM95.5,589.7h1.0v1.0h-1.0zM87.2,578.1h1.0v1.0h-1.0zM74.8,576.9h1.0v1.0h-1.0zM87.8,576.7h1.0v1.0h-1.0zM88.2,570.4h1.0v1.0h-1.0zM99.6,581.8h1.0v1.0h-1.0zM92.9,579.9h1.0v1.0h-1.0zM75.2,580.1h1.0v1.0h-1.0zM107.1,576.4h1.0v1.0h-1.0zM79.0,575.9h1.0v1.0h-1.0zM95.5,568.6h1.0v1.0h-1.0zM89.8,585.6h1.0v1.0h-1.0zM88.7,577.3h1.0v1.0h-1.0zM85.3,579.1h1.0v1.0h-1.0zM76.9,574.2h1.0v1.0h-1.0zM87.5,581.3h1.0v1.0h-1.0zM94.8,585.1h1.0v1.0h-1.0zM88.7,578.1h1.0v1.0h-1.0zM85.1,578.8h1.0v1.0h-1.0zM93.5,577.3h1.0v1.0h-1.0zM90.4,570.4h1.0v1.0h-1.0zM98.2,586.2h1.0v1.0h-1.0zM103.2,570.3h1.0v1.0h-1.0zM73.5,577.0h1.0v1.0h-1.0zM102.4,589.5h1.0v1.0h-1.0zM76.2,592.0h1.0v1.0h-1.0zM86.3,579.1h1.0v1.0h-1.0zM69.9,586.2h1.0v1.0h-1.0zM92.7,569.4h1.0v1.0h-1.0zM94.5,572.0h1.0v1.0h-1.0zM70.9,572.3h1.0v1.0h-1.0zM80.7,584.9h1.0v1.0h-1.0zM89.0,576.7h1.0v1.0h-1.0zM95.1,572.4h1.0v1.0h-1.0zM79.6,581.9h1.0v1.0h-1.0zM83.4,569.4h1.0v1.0h-1.0zM95.1,566.7h1.0v1.0h-1.0zM91.9,574.9h1.0v1.0h-1.0zM85.4,573.6h1.0v1.0h-1.0zM88.2,585.3h1.0v1.0h-1.0zM96.7,575.9h1.0v1.0h-1.0zM88.2,569.6h1.0v1.0h-1.0zM100.5,570.7h1.0v1.0h-1.0zM95.8,579.1h1.0v1.0h-1.0zM99.1,584.2h1.0v1.0h-1.0zM78.0,585.8h1.0v1.0h-1.0zM89.9,570.8h1.0v1.0h-1.0zM109.3,576.6h1.0v1.0h-1.0zM115.4,565.3h1.0v1.0h-1.0zM105.2,576.6h1.0v1.0h-1.0zM99.0,564.2h1.0v1.0h-1.0zM97.1,581.0h1.0v1.0h-1.0zM86.6,580.8h1.0v1.0h-1.0zM89.1,573.4h1.0v1.0h-1.0zM99.4,583.6h1.0v1.0h-1.0zM93.8,586.6h1.0v1.0h-1.0zM85.9,575.1h1.0v1.0h-1.0zM79.9,579.0h1.0v1.0h-1.0zM94.0,578.0h1.0v1.0h-1.0zM83.2,579.4h1.0v1.0h-1.0zM126.3,578.8h1.0v1.0h-1.0zM122.4,573.6h1.0v1.0h-1.0zM130.5,580.5h1.0v1.0h-1.0zM122.2,570.2h1.0v1.0h-1.0zM133.2,577.7h1.0v1.0h-1.0zM117.5,576.0h1.0v1.0h-1.0zM109.8,585.7h1.0v1.0h-1.0zM119.6,574.0h1.0v1.0h-1.0zM127.9,575.9h1.0v1.0h-1.0zM117.6,571.2h1.0v1.0h-1.0zM124.7,575.4h1.0v1.0h-1.0zM114.5,587.9h1.0v1.0h-1.0zM116.5,579.8h1.0v1.0h-1.0zM117.7,569.9h1.0v1.0h-1.0zM129.8,576.4h1.0v1.0h-1.0zM125.0,573.1h1.0v1.0h-1.0zM111.3,592.9h1.0v1.0h-1.0zM144.5,575.6h1.0v1.0h-1.0zM113.6,583.1h1.0v1.0h-1.0zM125.9,571.6h1.0v1.0h-1.0zM108.1,574.1h1.0v1.0h-1.0zM126.1,570.1h1.0v1.0h-1.0zM113.2,574.3h1.0v1.0h-1.0zM136.3,569.1h1.0v1.0h-1.0zM132.8,576.5h1.0v1.0h-1.0zM122.7,572.7h1.0v1.0h-1.0zM134.7,571.8h1.0v1.0h-1.0zM113.0,581.4h1.0v1.0h-1.0zM119.5,571.0h1.0v1.0h-1.0zM128.7,576.4h1.0v1.0h-1.0zM131.0,578.3h1.0v1.0h-1.0zM122.0,572.9h1.0v1.0h-1.0zM107.0,583.0h1.0v1.0h-1.0zM105.5,582.5h1.0v1.0h-1.0zM131.6,580.0h1.0v1.0h-1.0zM123.2,584.3h1.0v1.0h-1.0zM117.4,581.0h1.0v1.0h-1.0zM109.0,575.2h1.0v1.0h-1.0zM106.0,568.3h1.0v1.0h-1.0zM128.8,579.5h1.0v1.0h-1.0zM107.0,571.6h1.0v1.0h-1.0zM114.5,586.8h1.0v1.0h-1.0zM127.6,575.9h1.0v1.0h-1.0zM113.4,564.7h1.0v1.0h-1.0zM123.2,574.9h1.0v1.0h-1.0zM113.9,586.7h1.0v1.0h-1.0zM125.4,582.6h1.0v1.0h-1.0zM116.3,563.9h1.0v1.0h-1.0zM140.3,582.6h1.0v1.0h-1.0zM119.4,570.5h1.0v1.0h-1.0zM129.7,578.8h1.0v1.0h-1.0zM100.0,581.3h1.0v1.0h-1.0zM126.3,575.2h1.0v1.0h-1.0zM120.6,584.2h1.0v1.0h-1.0zM120.3,581.8h1.0v1.0h-1.0zM118.8,576.0h1.0v1.0h-1.0zM128.1,580.8h1.0v1.0h-1.0zM113.6,583.6h1.0v1.0h-1.0zM133.6,582.9h1.0v1.0h-1.0zM121.5,584.0h1.0v1.0h-1.0zM136.5,570.6h1.0v1.0h-1.0zM131.4,580.5h1.0v1.0h-1.0zM112.0,580.5h1.0v1.0h-1.0zM137.4,580.3h1.0v1.0h-1.0zM130.7,582.3h1.0v1.0h-1.0zM121.0,585.9h1.0v1.0h-1.0zM111.6,575.8h1.0v1.0h-1.0zM137.0,573.3h1.0v1.0h-1.0zM115.7,584.2h1.0v1.0h-1.0zM129.1,573.3h1.0v1.0h-1.0zM128.1,585.2h1.0v1.0h-1.0zM131.0,574.7h1.0v1.0h-1.0zM112.8,575.5h1.0v1.0h-1.0zM137.3,573.7h1.0v1.0h-1.0zM129.7,569.8h1.0v1.0h-1.0zM115.8,588.3h1.0v1.0h-1.0zM124.3,568.2h1.0v1.0h-1.0zM118.4,571.9h1.0v1.0h-1.0zM135.6,572.5h1.0v1.0h-1.0zM118.6,577.9h1.0v1.0h-1.0zM129.2,570.3h1.0v1.0h-1.0zM122.8,576.6h1.0v1.0h-1.0zM121.9,586.8h1.0v1.0h-1.0zM103.6,569.3h1.0v1.0h-1.0zM123.3,578.6h1.0v1.0h-1.0zM122.3,578.0h1.0v1.0h-1.0zM131.3,579.6h1.0v1.0h-1.0zM115.0,575.9h1.0v1.0h-1.0zM120.5,580.8h1.0v1.0h-1.0zM122.6,579.5h1.0v1.0h-1.0zM119.1,588.5h1.0v1.0h-1.0zM122.7,576.5h1.0v1.0h-1.0zM131.2,570.5h1.0v1.0h-1.0zM103.7,583.4h1.0v1.0h-1.0zM114.3,584.0h1.0v1.0h-1.0zM128.3,586.9h1.0v1.0h-1.0zM121.1,577.1h1.0v1.0h-1.0zM122.6,574.5h1.0v1.0h-1.0zM116.5,570.6h1.0v1.0h-1.0zM111.2,573.2h1.0v1.0h-1.0zM144.6,589.2h1.0v1.0h-1.0zM126.9,574.9h1.0v1.0h-1.0zM109.7,584.9h1.0v1.0h-1.0zM99.6,586.5h1.0v1.0h-1.0zM129.8,574.3h1.0v1.0h-1.0zM125.5,580.5h1.0v1.0h-1.0zM119.1,567.4h1.0v1.0h-1.0zM124.3,579.4h1.0v1.0h-1.0zM137.2,583.0h1.0v1.0h-1.0zM140.5,573.0h1.0v1.0h-1.0zM128.1,571.1h1.0v1.0h-1.0zM137.9,581.7h1.0v1.0h-1.0zM113.1,572.1h1.0v1.0h-1.0zM139.8,574.6h1.0v1.0h-1.0zM109.2,578.2h1.0v1.0h-1.0zM123.9,573.1h1.0v1.0h-1.0zM124.1,583.1h1.0v1.0h-1.0zM123.8,588.3h1.0v1.0h-1.0zM133.6,564.1h1.0v1.0h-1.0zM123.4,579.1h1.0v1.0h-1.0zM121.2,569.7h1.0v1.0h-1.0zM138.6,577.1h1.0v1.0h-1.0zM118.7,579.3h1.0v1.0h-1.0zM99.3,574.6h1.0v1.0h-1.0zM126.3,571.6h1.0v1.0h-1.0zM128.6,574.1h1.0v1.0h-1.0zM131.3,577.2h1.0v1.0h-1.0zM116.1,573.2h1.0v1.0h-1.0zM103.7,583.7h1.0v1.0h-1.0zM119.9,569.5h1.0v1.0h-1.0zM117.2,580.2h1.0v1.0h-1.0zM121.1,578.9h1.0v1.0h-1.0zM109.6,576.7h1.0v1.0h-1.0zM127.2,579.3h1.0v1.0h-1.0zM143.5,581.2h1.0v1.0h-1.0zM143.3,575.2h1.0v1.0h-1.0zM115.5,583.7h1.0v1.0h-1.0zM104.9,580.4h1.0v1.0h-1.0zM121.9,570.1h1.0v1.0h-1.0zM107.5,578.2h1.0v1.0h-1.0zM151.8,570.3h1.0v1.0h-1.0zM117.2,576.8h1.0v1.0h-1.0zM129.4,575.8h1.0v1.0h-1.0zM121.5,588.2h1.0v1.0h-1.0zM117.1,585.6h1.0v1.0h-1.0zM114.6,573.0h1.0v1.0h-1.0zM120.5,571.7h1.0v1.0h-1.0zM131.2,585.0h1.0v1.0h-1.0zM135.6,576.5h1.0v1.0h-1.0zM118.3,574.0h1.0v1.0h-1.0zM113.9,573.7h1.0v1.0h-1.0zM145.6,574.8h1.0v1.0h-1.0zM153.3,568.7h1.0v1.0h-1.0zM125.0,582.4h1.0v1.0h-1.0zM127.0,581.7h1.0v1.0h-1.0zM137.0,578.9h1.0v1.0h-1.0zM119.9,573.0h1.0v1.0h-1.0zM122.5,579.0h1.0v1.0h-1.0zM115.8,581.9h1.0v1.0h-1.0zM102.9,584.9h1.0v1.0h-1.0zM127.5,579.0h1.0v1.0h-1.0zM111.9,576.1h1.0v1.0h-1.0zM124.8,586.6h1.0v1.0h-1.0zM127.8,567.4h1.0v1.0h-1.0zM118.5,572.0h1.0v1.0h-1.0zM129.8,584.8h1.0v1.0h-1.0zM146.6,580.8h1.0v1.0h-1.0zM127.6,572.0h1.0v1.0h-1.0zM129.1,580.7h1.0v1.0h-1.0zM116.8,591.5h1.0v1.0h-1.0zM127.3,576.2h1.0v1.0h-1.0zM135.5,578.9h1.0v1.0h-1.0zM124.0,582.8h1.0v1.0h-1.0zM131.0,588.0h1.0v1.0h-1.0zM116.9,579.6h1.0v1.0h-1.0zM120.5,580.8h1.0v1.0h-1.0zM118.0,563.6h1.0v1.0h-1.0zM115.3,575.6h1.0v1.0h-1.0zM113.8,575.2h1.0v1.0h-1.0zM116.7,579.8h1.0v1.0h-1.0zM109.2,572.9h1.0v1.0h-1.0zM139.7,567.2h1.0v1.0h-1.0zM128.5,570.6h1.0v1.0h-1.0zM128.7,584.2h1.0v1.0h-1.0zM128.4,564.7h1.0v1.0h-1.0zM109.7,581.5h1.0v1.0h-1.0zM122.3,579.4h1.0v1.0h-1.0zM129.8,589.7h1.0v1.0h-1.0zM130.8,583.8h1.0v1.0h-1.0zM127.8,579.2h1.0v1.0h-1.0zM115.3,570.0h1.0v1.0h-1.0zM123.0,579.8h1.0v1.0h-1.0zM115.4,583.1h1.0v1.0h-1.0zM128.7,574.3h1.0v1.0h-1.0zM113.8,575.7h1.0v1.0h-1.0zM116.9,568.4h1.0v1.0h-1.0zM132.9,583.8h1.0v1.0h-1.0zM141.5,581.3h1.0v1.0h-1.0zM128.7,580.3h1.0v1.0h-1.0zM126.7,573.1h1.0v1.0h-1.0zM98.4,567.5h1.0v1.0h-1.0zM130.8,574.8h1.0v1.0h-1.0zM129.2,574.9h1.0v1.0h-1.0zM128.6,575.7h1.0v1.0h-1.0zM123.8,569.5h1.0v1.0h-1.0zM118.6,591.0h1.0v1.0h-1.0zM137.8,570.8h1.0v1.0h-1.0zM135.1,563.4h1.0v1.0h-1.0zM117.1,592.9h1.0v1.0h-1.0zM105.8,588.4h1.0v1.0h-1.0zM119.7,577.4h1.0v1.0h-1.0zM137.6,563.1h1.0v1.0h-1.0zM148.7,570.7h1.0v1.0h-1.0zM111.1,576.1h1.0v1.0h-1.0zM125.9,582.0h1.0v1.0h-1.0zM89.6,572.4h1.0v1.0h-1.0zM132.9,578.1h1.0v1.0h-1.0zM133.0,582.4h1.0v1.0h-1.0zM127.2,573.0h1.0v1.0h-1.0zM150.2,572.8h1.0v1.0h-1.0zM113.6,585.9h1.0v1.0h-1.0zM115.0,569.1h1.0v1.0h-1.0zM120.1,583.3h1.0v1.0h-1.0zM96.2,586.7h1.0v1.0h-1.0zM111.4,575.9h1.0v1.0h-1.0zM127.2,570.6h1.0v1.0h-1.0zM122.4,570.8h1.0v1.0h-1.0zM104.3,582.8h1.0v1.0h-1.0zM132.1,583.5h1.0v1.0h-1.0zM132.7,580.0h1.0v1.0h-1.0zM113.8,567.6h1.0v1.0h-1.0zM130.7,578.1h1.0v1.0h-1.0zM133.2,572.4h1.0v1.0h-1.0zM119.2,576.4h1.0v1.0h-1.0zM122.3,577.5h1.0v1.0h-1.0zM109.1,582.5h1.0v1.0h-1.0zM116.9,571.7h1.0v1.0h-1.0zM113.4,572.8h1.0v1.0h-1.0zM107.6,576.3h1.0v1.0h-1.0zM109.3,578.7h1.0v1.0h-1.0zM89.8,564.1h1.0v1.0h-1.0zM92.2,578.5h1.0v1.0h-1.0zM112.0,581.4h1.0v1.0h-1.0zM121.5,585.3h1.0v1.0h-1.0zM134.9,583.6h1.0v1.0h-1.0zM105.8,579.6h1.0v1.0h-1.0zM134.3,580.5h1.0v1.0h-1.0zM118.7,571.1h1.0v1.0h-1.0zM132.7,584.8h1.0v1.0h-1.0zM118.4,579.6h1.0v1.0h-1.0zM117.0,567.1h1.0v1.0h-1.0zM128.5,591.0h1.0v1.0h-1.0zM129.7,580.7h1.0v1.0h-1.0zM119.5,578.1h1.0v1.0h-1.0zM98.9,571.4h1.0v1.0h-1.0zM136.1,567.6h1.0v1.0h-1.0zM130.9,579.9h1.0v1.0h-1.0zM132.8,570.7h1.0v1.0h-1.0zM116.5,574.5h1.0v1.0h-1.0zM130.3,562.9h1.0v1.0h-1.0zM112.3,577.6h1.0v1.0h-1.0zM149.9,572.9h1.0v1.0h-1.0zM132.7,573.8h1.0v1.0h-1.0zM131.8,574.1h1.0v1.0h-1.0zM124.6,572.8h1.0v1.0h-1.0zM123.8,580.8h1.0v1.0h-1.0zM142.4,577.7h1.0v1.0h-1.0zM121.6,568.0h1.0v1.0h-1.0zM116.3,583.0h1.0v1.0h-1.0zM122.4,582.7h1.0v1.0h-1.0zM127.1,563.1h1.0v1.0h-1.0zM126.3,585.0h1.0v1.0h-1.0zM124.7,573.5h1.0v1.0h-1.0zM121.1,568.3h1.0v1.0h-1.0zM109.8,574.5h1.0v1.0h-1.0zM137.6,583.4h1.0v1.0h-1.0zM104.7,582.3h1.0v1.0h-1.0zM114.8,566.9h1.0v1.0h-1.0zM147.4,581.7h1.0v1.0h-1.0zM117.9,576.4h1.0v1.0h-1.0zM116.3,583.3h1.0v1.0h-1.0zM127.8,569.2h1.0v1.0h-1.0zM121.6,573.7h1.0v1.0h-1.0zM107.1,571.1h1.0v1.0h-1.0zM180.0,577.0h1.0v1.0h-1.0zM161.7,588.8h1.0v1.0h-1.0zM179.6,575.8h1.0v1.0h-1.0zM156.5,584.1h1.0v1.0h-1.0zM180.2,574.1h1.0v1.0h-1.0zM166.5,579.8h1.0v1.0h-1.0zM148.8,578.3h1.0v1.0h-1.0zM166.4,566.9h1.0v1.0h-1.0zM161.7,575.1h1.0v1.0h-1.0zM147.9,569.3h1.0v1.0h-1.0zM155.7,589.1h1.0v1.0h-1.0zM173.6,590.4h1.0v1.0h-1.0zM168.9,573.6h1.0v1.0h-1.0zM168.2,589.6h1.0v1.0h-1.0zM173.6,581.8h1.0v1.0h-1.0zM180.4,576.1h1.0v1.0h-1.0zM161.8,578.5h1.0v1.0h-1.0zM160.0,585.9h1.0v1.0h-1.0zM169.8,586.7h1.0v1.0h-1.0zM182.0,591.5h1.0v1.0h-1.0zM160.0,583.9h1.0v1.0h-1.0zM163.1,583.4h1.0v1.0h-1.0zM157.9,578.6h1.0v1.0h-1.0zM172.1,584.8h1.0v1.0h-1.0zM157.1,576.7h1.0v1.0h-1.0zM178.0,578.3h1.0v1.0h-1.0zM167.7,589.4h1.0v1.0h-1.0zM165.0,586.1h1.0v1.0h-1.0zM176.4,585.7h1.0v1.0h-1.0zM185.6,577.1h1.0v1.0h-1.0zM166.7,581.0h1.0v1.0h-1.0zM173.9,572.1h1.0v1.0h-1.0zM164.7,571.7h1.0v1.0h-1.0zM166.2,582.1h1.0v1.0h-1.0zM159.1,583.6h1.0v1.0h-1.0zM164.8,574.5h1.0v1.0h-1.0zM181.8,572.7h1.0v1.0h-1.0zM157.6,584.9h1.0v1.0h-1.0zM181.2,574.2h1.0v1.0h-1.0zM174.7,577.2h1.0v1.0h-1.0zM167.4,589.1h1.0v1.0h-1.0zM174.2,578.5h1.0v1.0h-1.0zM165.9,583.2h1.0v1.0h-1.0zM178.7,570.2h1.0v1.0h-1.0zM164.5,586.2h1.0v1.0h-1.0zM163.4,576.4h1.0v1.0h-1.0zM165.9,587.2h1.0v1.0h-1.0zM179.9,563.3h1.0v1.0h-1.0zM166.9,572.2h1.0v1.0h-1.0zM165.7,588.2h1.0v1.0h-1.0zM172.3,576.0h1.0v1.0h-1.0zM156.7,581.4h1.0v1.0h-1.0zM175.6,582.0h1.0v1.0h-1.0zM170.4,567.6h1.0v1.0h-1.0zM173.0,582.7h1.0v1.0h-1.0zM178.3,575.2h1.0v1.0h-1.0zM158.4,572.7h1.0v1.0h-1.0zM160.0,574.2h1.0v1.0h-1.0zM167.7,583.0h1.0v1.0h-1.0zM166.5,574.2h1.0v1.0h-1.0zM177.1,590.1h1.0v1.0h-1.0zM163.0,589.2h1.0v1.0h-1.0zM167.2,587.8h1.0v1.0h-1.0zM177.4,587.8h1.0v1.0h-1.0zM167.4,584.8h1.0v1.0h-1.0zM162.5,581.5h1.0v1.0h-1.0zM142.6,579.9h1.0v1.0h-1.0zM168.2,581.3h1.0v1.0h-1.0zM189.1,577.2h1.0v1.0h-1.0zM172.5,574.9h1.0v1.0h-1.0zM179.3,588.2h1.0v1.0h-1.0zM161.6,577.5h1.0v1.0h-1.0zM167.6,569.6h1.0v1.0h-1.0zM166.0,569.1h1.0v1.0h-1.0zM162.1,584.1h1.0v1.0h-1.0zM166.7,584.2h1.0v1.0h-1.0zM163.5,580.2h1.0v1.0h-1.0zM164.7,576.2h1.0v1.0h-1.0zM159.2,577.0h1.0v1.0h-1.0zM173.2,581.7h1.0v1.0h-1.0zM175.7,581.8h1.0v1.0h-1.0zM163.2,576.1h1.0v1.0h-1.0zM160.0,567.4h1.0v1.0h-1.0zM160.4,575.0h1.0v1.0h-1.0zM165.7,575.5h1.0v1.0h-1.0zM154.7,578.8h1.0v1.0h-1.0zM176.3,573.7h1.0v1.0h-1.0zM168.2,568.7h1.0v1.0h-1.0zM180.4,574.9h1.0v1.0h-1.0zM171.2,581.9h1.0v1.0h-1.0zM152.2,571.6h1.0v1.0h-1.0zM164.4,581.4h1.0v1.0h-1.0zM156.9,583.4h1.0v1.0h-1.0zM164.8,576.4h1.0v1.0h-1.0zM161.8,564.3h1.0v1.0h-1.0zM156.2,567.1h1.0v1.0h-1.0zM163.6,565.6h1.0v1.0h-1.0zM169.2,584.7h1.0v1.0h-1.0zM163.0,579.7h1.0v1.0h-1.0zM172.8,579.0h1.0v1.0h-1.0zM172.6,572.6h1.0v1.0h-1.0zM181.1,570.9h1.0v1.0h-1.0zM157.7,574.7h1.0v1.0h-1.0zM178.5,571.4h1.0v1.0h-1.0zM147.1,569.9h1.0v1.0h-1.0zM174.1,570.1h1.0v1.0h-1.0zM163.1,587.0h1.0v1.0h-1.0zM176.8,571.2h1.0v1.0h-1.0zM143.8,575.8h1.0v1.0h-1.0zM169.9,574.5h1.0v1.0h-1.0zM169.6,583.5h1.0v1.0h-1.0zM167.1,575.5h1.0v1.0h-1.0zM178.2,574.5h1.0v1.0h-1.0zM166.9,575.6h1.0v1.0h-1.0zM162.8,580.9h1.0v1.0h-1.0zM172.0,579.1h1.0v1.0h-1.0zM164.2,589.4h1.0v1.0h-1.0zM176.1,565.0h1.0v1.0h-1.0zM164.8,577.6h1.0v1.0h-1.0zM179.5,570.9h1.0v1.0h-1.0zM165.6,576.6h1.0v1.0h-1.0zM165.3,574.0h1.0v1.0h-1.0zM168.1,580.2h1.0v1.0h-1.0zM176.6,586.6h1.0v1.0h-1.0zM170.8,563.8h1.0v1.0h-1.0zM169.9,583.7h1.0v1.0h-1.0zM157.1,591.2h1.0v1.0h-1.0zM162.4,574.3h1.0v1.0h-1.0zM165.1,584.6h1.0v1.0h-1.0zM170.4,588.7h1.0v1.0h-1.0zM161.7,574.9h1.0v1.0h-1.0zM169.2,584.7h1.0v1.0h-1.0zM169.2,587.3h1.0v1.0h-1.0zM170.8,578.8h1.0v1.0h-1.0zM172.6,569.1h1.0v1.0h-1.0zM159.5,568.2h1.0v1.0h-1.0zM161.5,581.3h1.0v1.0h-1.0zM170.2,573.4h1.0v1.0h-1.0zM169.8,574.2h1.0v1.0h-1.0zM173.0,565.7h1.0v1.0h-1.0zM168.7,578.5h1.0v1.0h-1.0zM161.5,582.1h1.0v1.0h-1.0zM177.1,584.7h1.0v1.0h-1.0zM172.9,579.0h1.0v1.0h-1.0zM166.0,585.4h1.0v1.0h-1.0zM168.7,574.6h1.0v1.0h-1.0zM180.3,573.0h1.0v1.0h-1.0zM164.0,585.0h1.0v1.0h-1.0zM173.4,570.3h1.0v1.0h-1.0zM149.2,576.6h1.0v1.0h-1.0zM186.2,588.0h1.0v1.0h-1.0zM169.8,571.1h1.0v1.0h-1.0zM169.8,591.4h1.0v1.0h-1.0zM155.4,583.9h1.0v1.0h-1.0zM176.7,577.8h1.0v1.0h-1.0zM168.1,571.9h1.0v1.0h-1.0zM165.6,580.9h1.0v1.0h-1.0zM169.1,567.9h1.0v1.0h-1.0zM171.6,584.7h1.0v1.0h-1.0zM169.4,569.4h1.0v1.0h-1.0zM168.4,579.8h1.0v1.0h-1.0zM163.0,568.3h1.0v1.0h-1.0zM177.8,575.8h1.0v1.0h-1.0zM173.9,583.7h1.0v1.0h-1.0zM176.8,585.2h1.0v1.0h-1.0zM162.4,569.3h1.0v1.0h-1.0zM173.2,591.5h1.0v1.0h-1.0zM175.6,577.1h1.0v1.0h-1.0zM161.6,572.7h1.0v1.0h-1.0zM176.4,588.5h1.0v1.0h-1.0zM176.5,572.2h1.0v1.0h-1.0zM153.8,576.5h1.0v1.0h-1.0zM162.8,582.3h1.0v1.0h-1.0zM176.0,566.1h1.0v1.0h-1.0zM159.7,581.1h1.0v1.0h-1.0zM174.6,579.2h1.0v1.0h-1.0zM176.2,580.4h1.0v1.0h-1.0zM155.3,565.0h1.0v1.0h-1.0zM152.5,572.1h1.0v1.0h-1.0zM176.7,586.0h1.0v1.0h-1.0zM162.6,578.6h1.0v1.0h-1.0zM155.0,573.3h1.0v1.0h-1.0zM181.2,583.5h1.0v1.0h-1.0zM160.3,580.9h1.0v1.0h-1.0zM179.0,588.5h1.0v1.0h-1.0zM177.5,576.9h1.0v1.0h-1.0zM176.0,587.1h1.0v1.0h-1.0zM165.5,581.6h1.0v1.0h-1.0zM172.8,575.8h1.0v1.0h-1.0zM167.7,578.2h1.0v1.0h-1.0zM176.3,580.2h1.0v1.0h-1.0zM165.1,580.5h1.0v1.0h-1.0zM170.2,585.3h1.0v1.0h-1.0zM153.0,578.1h1.0v1.0h-1.0zM171.6,580.0h1.0v1.0h-1.0zM150.8,580.1h1.0v1.0h-1.0zM167.1,582.6h1.0v1.0h-1.0zM168.0,586.6h1.0v1.0h-1.0zM158.3,579.4h1.0v1.0h-1.0zM179.7,566.6h1.0v1.0h-1.0zM176.4,574.1h1.0v1.0h-1.0zM173.0,576.6h1.0v1.0h-1.0zM187.1,577.5h1.0v1.0h-1.0zM151.3,579.3h1.0v1.0h-1.0zM147.2,576.7h1.0v1.0h-1.0zM170.9,574.8h1.0v1.0h-1.0zM176.6,573.7h1.0v1.0h-1.0zM170.3,571.3h1.0v1.0h-1.0zM163.7,571.4h1.0v1.0h-1.0zM173.5,565.4h1.0v1.0h-1.0zM158.4,585.1h1.0v1.0h-1.0zM170.8,574.0h1.0v1.0h-1.0zM166.4,589.6h1.0v1.0h-1.0zM154.7,571.8h1.0v1.0h-1.0zM176.9,582.0h1.0v1.0h-1.0zM168.7,589.7h1.0v1.0h-1.0zM164.7,587.4h1.0v1.0h-1.0zM163.2,563.7h1.0v1.0h-1.0zM164.9,586.3h1.0v1.0h-1.0zM170.2,582.5h1.0v1.0h-1.0zM154.9,564.5h1.0v1.0h-1.0zM169.1,578.4h1.0v1.0h-1.0zM170.5,584.1h1.0v1.0h-1.0zM163.8,573.1h1.0v1.0h-1.0zM175.2,574.1h1.0v1.0h-1.0zM160.2,565.8h1.0v1.0h-1.0zM180.3,572.9h1.0v1.0h-1.0zM172.7,581.9h1.0v1.0h-1.0zM165.0,583.3h1.0v1.0h-1.0zM181.2,576.7h1.0v1.0h-1.0zM172.9,572.4h1.0v1.0h-1.0zM175.9,580.0h1.0v1.0h-1.0zM166.2,567.7h1.0v1.0h-1.0zM179.6,581.1h1.0v1.0h-1.0zM168.5,580.3h1.0v1.0h-1.0zM169.2,580.2h1.0v1.0h-1.0zM165.0,579.9h1.0v1.0h-1.0zM170.9,582.9h1.0v1.0h-1.0zM159.5,570.1h1.0v1.0h-1.0zM170.9,587.3h1.0v1.0h-1.0zM180.8,584.5h1.0v1.0h-1.0zM170.7,586.9h1.0v1.0h-1.0zM169.8,581.6h1.0v1.0h-1.0zM169.8,585.3h1.0v1.0h-1.0zM172.7,585.4h1.0v1.0h-1.0zM156.3,579.5h1.0v1.0h-1.0zM181.0,564.8h1.0v1.0h-1.0zM175.4,590.9h1.0v1.0h-1.0zM170.5,575.4h1.0v1.0h-1.0zM161.3,583.0h1.0v1.0h-1.0zM175.3,575.3h1.0v1.0h-1.0zM173.5,578.1h1.0v1.0h-1.0zM170.9,568.5h1.0v1.0h-1.0zM178.3,577.8h1.0v1.0h-1.0zM159.2,581.3h1.0v1.0h-1.0zM172.4,574.5h1.0v1.0h-1.0zM172.8,584.1h1.0v1.0h-1.0zM164.7,580.4h1.0v1.0h-1.0zM169.0,585.8h1.0v1.0h-1.0zM176.9,578.6h1.0v1.0h-1.0zM177.2,571.8h1.0v1.0h-1.0zM163.8,573.9h1.0v1.0h-1.0zM167.4,570.4h1.0v1.0h-1.0zM184.7,582.2h1.0v1.0h-1.0zM181.3,588.3h1.0v1.0h-1.0zM171.2,573.8h1.0v1.0h-1.0zM167.2,586.6h1.0v1.0h-1.0zM170.7,573.9h1.0v1.0h-1.0zM156.3,580.2h1.0v1.0h-1.0zM154.1,568.9h1.0v1.0h-1.0zM159.8,590.5h1.0v1.0h-1.0zM165.0,574.4h1.0v1.0h-1.0zM162.7,572.4h1.0v1.0h-1.0zM177.5,585.1h1.0v1.0h-1.0zM170.9,577.9h1.0v1.0h-1.0zM162.8,577.0h1.0v1.0h-1.0zM170.0,585.2h1.0v1.0h-1.0zM189.1,582.1h1.0v1.0h-1.0zM164.2,582.8h1.0v1.0h-1.0zM170.7,589.0h1.0v1.0h-1.0zM165.0,571.5h1.0v1.0h-1.0zM172.0,576.3h1.0v1.0h-1.0zM169.5,571.5h1.0v1.0h-1.0zM166.2,580.2h1.0v1.0h-1.0zM175.4,581.2h1.0v1.0h-1.0zM157.5,575.1h1.0v1.0h-1.0zM171.5,584.3h1.0v1.0h-1.0zM147.1,575.3h1.0v1.0h-1.0zM165.7,579.3h1.0v1.0h-1.0zM164.6,580.6h1.0v1.0h-1.0zM161.1,573.9h1.0v1.0h-1.0zM155.6,576.5h1.0v1.0h-1.0zM168.0,583.8h1.0v1.0h-1.0zM167.4,566.2h1.0v1.0h-1.0zM179.4,574.3h1.0v1.0h-1.0zM165.7,588.0h1.0v1.0h-1.0zM165.1,580.8h1.0v1.0h-1.0zM181.7,568.1h1.0v1.0h-1.0zM166.2,586.2h1.0v1.0h-1.0zM160.1,585.7h1.0v1.0h-1.0zM179.4,571.8h1.0v1.0h-1.0zM149.9,574.1h1.0v1.0h-1.0zM161.4,576.3h1.0v1.0h-1.0zM170.2,591.5h1.0v1.0h-1.0zM165.5,580.8h1.0v1.0h-1.0zM159.7,576.9h1.0v1.0h-1.0zM152.2,582.0h1.0v1.0h-1.0zM167.2,579.5h1.0v1.0h-1.0zM151.1,575.1h1.0v1.0h-1.0zM162.4,566.9h1.0v1.0h-1.0zM178.2,570.8h1.0v1.0h-1.0zM164.6,574.6h1.0v1.0h-1.0zM184.3,571.8h1.0v1.0h-1.0zM180.8,573.5h1.0v1.0h-1.0zM167.5,577.0h1.0v1.0h-1.0zM164.4,579.6h1.0v1.0h-1.0zM149.1,580.0h1.0v1.0h-1.0zM169.4,579.1h1.0v1.0h-1.0zM180.1,577.6h1.0v1.0h-1.0zM171.2,590.1h1.0v1.0h-1.0zM164.8,566.6h1.0v1.0h-1.0zM162.5,572.9h1.0v1.0h-1.0zM157.2,573.4h1.0v1.0h-1.0zM147.2,571.1h1.0v1.0h-1.0zM172.0,581.3h1.0v1.0h-1.0zM170.6,576.3h1.0v1.0h-1.0zM158.3,576.4h1.0v1.0h-1.0zM177.7,581.5h1.0v1.0h-1.0zM171.1,585.7h1.0v1.0h-1.0zM176.1,572.2h1.0v1.0h-1.0zM167.0,570.8h1.0v1.0h-1.0zM159.5,583.8h1.0v1.0h-1.0zM157.1,573.4h1.0v1.0h-1.0zM159.7,585.6h1.0v1.0h-1.0zM160.8,571.4h1.0v1.0h-1.0zM160.3,583.9h1.0v1.0h-1.0zM178.1,573.7h1.0v1.0h-1.0zM174.4,572.9h1.0v1.0h-1.0zM163.2,570.3h1.0v1.0h-1.0zM169.2,579.5h1.0v1.0h-1.0zM167.9,582.5h1.0v1.0h-1.0zM180.7,576.3h1.0v1.0h-1.0zM185.0,589.1h1.0v1.0h-1.0zM181.2,585.3h1.0v1.0h-1.0zM176.1,577.2h1.0v1.0h-1.0zM171.4,574.8h1.0v1.0h-1.0zM159.3,588.1h1.0v1.0h-1.0zM177.2,574.4h1.0v1.0h-1.0zM164.7,583.3h1.0v1.0h-1.0zM177.0,578.2h1.0v1.0h-1.0zM166.8,573.9h1.0v1.0h-1.0zM172.7,587.7h1.0v1.0h-1.0zM156.2,584.0h1.0v1.0h-1.0zM178.4,575.9h1.0v1.0h-1.0zM169.0,582.0h1.0v1.0h-1.0zM168.5,577.7h1.0v1.0h-1.0zM168.1,580.4h1.0v1.0h-1.0zM180.5,584.9h1.0v1.0h-1.0zM165.9,581.4h1.0v1.0h-1.0zM167.0,576.1h1.0v1.0h-1.0zM182.6,570.4h1.0v1.0h-1.0zM156.5,579.5h1.0v1.0h-1.0zM151.4,582.2h1.0v1.0h-1.0zM165.5,565.1h1.0v1.0h-1.0zM172.4,580.0h1.0v1.0h-1.0zM168.3,567.4h1.0v1.0h-1.0zM159.4,578.5h1.0v1.0h-1.0zM175.8,573.4h1.0v1.0h-1.0zM165.5,570.1h1.0v1.0h-1.0zM181.5,574.5h1.0v1.0h-1.0zM171.8,577.6h1.0v1.0h-1.0zM171.9,581.4h1.0v1.0h-1.0zM178.2,564.4h1.0v1.0h-1.0zM165.5,576.2h1.0v1.0h-1.0zM170.9,587.4h1.0v1.0h-1.0zM169.6,584.9h1.0v1.0h-1.0zM158.7,576.2h1.0v1.0h-1.0zM175.6,586.3h1.0v1.0h-1.0zM166.6,576.8h1.0v1.0h-1.0zM153.8,576.0h1.0v1.0h-1.0zM170.5,575.3h1.0v1.0h-1.0zM162.3,579.6h1.0v1.0h-1.0zM168.6,577.4h1.0v1.0h-1.0zM150.0,574.4h1.0v1.0h-1.0zM171.2,576.1h1.0v1.0h-1.0zM178.8,581.0h1.0v1.0h-1.0zM178.0,577.5h1.0v1.0h-1.0zM174.9,572.1h1.0v1.0h-1.0zM177.5,570.7h1.0v1.0h-1.0zM174.9,588.5h1.0v1.0h-1.0zM169.8,588.7h1.0v1.0h-1.0zM164.2,572.0h1.0v1.0h-1.0zM166.1,588.5h1.0v1.0h-1.0zM166.7,572.2h1.0v1.0h-1.0zM162.7,585.4h1.0v1.0h-1.0zM176.4,588.2h1.0v1.0h-1.0zM166.9,566.1h1.0v1.0h-1.0zM168.5,572.3h1.0v1.0h-1.0zM165.5,577.1h1.0v1.0h-1.0zM175.2,570.9h1.0v1.0h-1.0zM167.3,572.5h1.0v1.0h-1.0zM166.1,576.9h1.0v1.0h-1.0zM163.9,582.3h1.0v1.0h-1.0zM163.0,574.6h1.0v1.0h-1.0zM169.6,578.9h1.0v1.0h-1.0zM185.5,571.0h1.0v1.0h-1.0zM166.4,569.5h1.0v1.0h-1.0zM147.1,574.5h1.0v1.0h-1.0zM161.8,579.6h1.0v1.0h-1.0zM153.3,583.4h1.0v1.0h-1.0zM164.4,576.1h1.0v1.0h-1.0zM174.3,583.7h1.0v1.0h-1.0zM182.6,572.4h1.0v1.0h-1.0zM179.1,581.0h1.0v1.0h-1.0zM174.8,585.2h1.0v1.0h-1.0zM154.2,582.5h1.0v1.0h-1.0zM170.5,582.3h1.0v1.0h-1.0zM161.0,569.9h1.0v1.0h-1.0zM157.9,586.6h1.0v1.0h-1.0zM166.9,581.3h1.0v1.0h-1.0zM179.0,564.8h1.0v1.0h-1.0zM171.3,580.7h1.0v1.0h-1.0zM172.1,577.6h1.0v1.0h-1.0zM152.2,571.1h1.0v1.0h-1.0zM178.9,584.3h1.0v1.0h-1.0zM186.6,581.9h1.0v1.0h-1.0zM156.9,579.7h1.0v1.0h-1.0zM164.2,576.9h1.0v1.0h-1.0zM163.2,577.5h1.0v1.0h-1.0zM170.4,584.3h1.0v1.0h-1.0zM164.6,581.7h1.0v1.0h-1.0zM173.7,577.5h1.0v1.0h-1.0zM163.0,576.9h1.0v1.0h-1.0zM162.4,570.0h1.0v1.0h-1.0zM168.3,575.8h1.0v1.0h-1.0zM148.7,573.9h1.0v1.0h-1.0zM167.6,584.3h1.0v1.0h-1.0zM164.8,579.5h1.0v1.0h-1.0zM148.1,571.8h1.0v1.0h-1.0zM161.2,575.0h1.0v1.0h-1.0zM157.3,582.5h1.0v1.0h-1.0zM161.4,575.1h1.0v1.0h-1.0zM157.1,574.0h1.0v1.0h-1.0zM159.6,574.5h1.0v1.0h-1.0zM175.2,574.2h1.0v1.0h-1.0zM177.7,590.7h1.0v1.0h-1.0zM169.3,569.9h1.0v1.0h-1.0zM158.0,571.6h1.0v1.0h-1.0zM172.1,586.2h1.0v1.0h-1.0zM154.9,579.9h1.0v1.0h-1.0zM150.4,565.5h1.0v1.0h-1.0zM153.4,584.0h1.0v1.0h-1.0zM157.7,587.2h1.0v1.0h-1.0zM175.4,574.1h1.0v1.0h-1.0zM178.2,567.3h1.0v1.0h-1.0zM145.0,581.7h1.0v1.0h-1.0zM165.4,581.2h1.0v1.0h-1.0zM170.4,570.4h1.0v1.0h-1.0zM156.7,567.3h1.0v1.0h-1.0zM169.0,587.6h1.0v1.0h-1.0zM176.5,584.2h1.0v1.0h-1.0zM156.6,570.4h1.0v1.0h-1.0zM169.9,574.3h1.0v1.0h-1.0zM158.5,572.8h1.0v1.0h-1.0zM162.4,581.1h1.0v1.0h-1.0zM176.0,570.9h1.0v1.0h-1.0zM173.3,576.6h1.0v1.0h-1.0zM148.0,589.3h1.0v1.0h-1.0zM156.0,575.5h1.0v1.0h-1.0zM149.5,581.7h1.0v1.0h-1.0zM162.0,589.8h1.0v1.0h-1.0zM162.5,579.0h1.0v1.0h-1.0zM164.4,575.3h1.0v1.0h-1.0zM181.5,583.3h1.0v1.0h-1.0zM153.3,578.7h1.0v1.0h-1.0zM184.1,573.2h1.0v1.0h-1.0zM181.8,568.8h1.0v1.0h-1.0zM169.5,566.8h1.0v1.0h-1.0zM163.9,571.3h1.0v1.0h-1.0zM169.1,570.9h1.0v1.0h-1.0zM168.0,582.9h1.0v1.0h-1.0zM177.3,573.3h1.0v1.0h-1.0zM154.6,572.6h1.0v1.0h-1.0zM171.3,583.8h1.0v1.0h-1.0zM166.1,571.9h1.0v1.0h-1.0zM166.6,579.3h1.0v1.0h-1.0zM155.7,586.2h1.0v1.0h-1.0zM155.3,581.4h1.0v1.0h-1.0zM164.3,581.7h1.0v1.0h-1.0zM163.7,579.1h1.0v1.0h-1.0zM161.4,581.2h1.0v1.0h-1.0zM166.8,575.5h1.0v1.0h-1.0zM178.6,577.5h1.0v1.0h-1.0zM151.5,577.8h1.0v1.0h-1.0zM181.0,580.6h1.0v1.0h-1.0zM166.9,578.7h1.0v1.0h-1.0zM172.9,562.9h1.0v1.0h-1.0zM176.6,567.7h1.0v1.0h-1.0zM173.8,579.6h1.0v1.0h-1.0zM167.5,585.6h1.0v1.0h-1.0zM180.6,578.9h1.0v1.0h-1.0zM184.6,580.5h1.0v1.0h-1.0zM184.4,587.8h1.0v1.0h-1.0zM157.4,588.7h1.0v1.0h-1.0zM176.7,584.7h1.0v1.0h-1.0zM147.8,571.2h1.0v1.0h-1.0zM164.2,584.5h1.0v1.0h-1.0zM159.6,588.3h1.0v1.0h-1.0zM163.4,580.7h1.0v1.0h-1.0zM172.1,569.9h1.0v1.0h-1.0zM179.2,574.7h1.0v1.0h-1.0zM175.4,573.4h1.0v1.0h-1.0zM159.1,569.2h1.0v1.0h-1.0zM176.7,577.5h1.0v1.0h-1.0zM161.1,582.8h1.0v1.0h-1.0zM170.1,581.5h1.0v1.0h-1.0zM152.0,582.2h1.0v1.0h-1.0zM160.8,584.2h1.0v1.0h-1.0zM154.7,574.3h1.0v1.0h-1.0zM153.7,587.5h1.0v1.0h-1.0zM161.5,579.4h1.0v1.0h-1.0zM172.7,575.9h1.0v1.0h-1.0zM176.6,563.7h1.0v1.0h-1.0zM169.3,572.7h1.0v1.0h-1.0zM173.4,591.3h1.0v1.0h-1.0zM154.3,571.7h1.0v1.0h-1.0zM153.6,578.5h1.0v1.0h-1.0zM158.2,574.0h1.0v1.0h-1.0zM169.7,576.5h1.0v1.0h-1.0zM181.0,576.8h1.0v1.0h-1.0zM158.2,584.1h1.0v1.0h-1.0zM170.9,568.0h1.0v1.0h-1.0zM159.1,587.8h1.0v1.0h-1.0zM174.3,576.5h1.0v1.0h-1.0zM176.2,569.5h1.0v1.0h-1.0zM165.7,576.5h1.0v1.0h-1.0zM154.1,574.8h1.0v1.0h-1.0zM167.5,580.6h1.0v1.0h-1.0zM150.9,570.1h1.0v1.0h-1.0zM118.7,572.9h1.0v1.0h-1.0zM171.8,589.1h1.0v1.0h-1.0zM85.0,591.9h1.0v1.0h-1.0zM184.8,575.5h1.0v1.0h-1.0zM173.5,590.5h1.0v1.0h-1.0zM155.4,575.0h1.0v1.0h-1.0zM141.9,585.7h1.0v1.0h-1.0zM104.4,577.9h1.0v1.0h-1.0zM72.1,569.5h1.0v1.0h-1.0zM163.3,573.5h1.0v1.0h-1.0zM151.3,576.7h1.0v1.0h-1.0zM152.4,572.9h1.0v1.0h-1.0zM71.8,583.1h1.0v1.0h-1.0zM93.8,570.7h1.0v1.0h-1.0zM120.4,578.5h1.0v1.0h-1.0zM175.6,583.8h1.0v1.0h-1.0zM116.8,577.0h1.0v1.0h-1.0zM138.0,568.7h1.0v1.0h-1.0zM99.1,581.4h1.0v1.0h-1.0zM181.9,581.3h1.0v1.0h-1.0zM87.7,591.0h1.0v1.0h-1.0zM163.4,571.2h1.0v1.0h-1.0zM108.1,566.2h1.0v1.0h-1.0zM159.0,571.1h1.0v1.0h-1.0zM167.3,584.4h1.0v1.0h-1.0zM160.8,580.3h1.0v1.0h-1.0zM91.9,566.3h1.0v1.0h-1.0zM137.3,565.6h1.0v1.0h-1.0zM127.6,585.9h1.0v1.0h-1.0zM78.7,576.9h1.0v1.0h-1.0zM130.5,569.3h1.0v1.0h-1.0zM86.6,581.5h1.0v1.0h-1.0zM83.0,569.4h1.0v1.0h-1.0zM89.1,590.2h1.0v1.0h-1.0zM176.5,568.3h1.0v1.0h-1.0zM134.6,576.2h1.0v1.0h-1.0zM64.6,572.0h1.0v1.0h-1.0zM144.6,565.8h1.0v1.0h-1.0zM184.3,572.9h1.0v1.0h-1.0zM105.5,590.5h1.0v1.0h-1.0zM78.6,568.8h1.0v1.0h-1.0zM121.6,573.6h1.0v1.0h-1.0zM101.8,580.8h1.0v1.0h-1.0zM183.3,576.3h1.0v1.0h-1.0zM66.3,575.2h1.0v1.0h-1.0zM170.7,576.8h1.0v1.0h-1.0zM68.5,571.9h1.0v1.0h-1.0zM89.9,574.6h1.0v1.0h-1.0zM101.7,583.1h1.0v1.0h-1.0zM153.4,566.5h1.0v1.0h-1.0zM79.4,587.2h1.0v1.0h-1.0zM173.6,586.3h1.0v1.0h-1.0zM83.5,583.7h1.0v1.0h-1.0zM70.3,583.3h1.0v1.0h-1.0zM89.2,587.6h1.0v1.0h-1.0zM169.5,577.7h1.0v1.0h-1.0zM154.3,590.4h1.0v1.0h-1.0zM175.9,582.5h1.0v1.0h-1.0zM140.1,574.8h1.0v1.0h-1.0zM148.8,569.0h1.0v1.0h-1.0zM119.7,567.6h1.0v1.0h-1.0zM72.5,583.1h1.0v1.0h-1.0zM115.6,570.8h1.0v1.0h-1.0zM183.1,573.0h1.0v1.0h-1.0zM130.2,578.3h1.0v1.0h-1.0zM84.4,591.7h1.0v1.0h-1.0zM158.5,589.0h1.0v1.0h-1.0zM99.3,589.5h1.0v1.0h-1.0zM178.1,590.3h1.0v1.0h-1.0zM83.6,569.4h1.0v1.0h-1.0zM71.4,567.7h1.0v1.0h-1.0zM151.2,566.6h1.0v1.0h-1.0zM120.6,574.7h1.0v1.0h-1.0zM154.6,566.5h1.0v1.0h-1.0zM153.6,590.8h1.0v1.0h-1.0zM98.9,576.0h1.0v1.0h-1.0zM156.2,573.4h1.0v1.0h-1.0zM169.9,591.8h1.0v1.0h-1.0zM89.3,577.8h1.0v1.0h-1.0zM79.5,580.1h1.0v1.0h-1.0zM111.4,591.2h1.0v1.0h-1.0zM154.5,591.7h1.0v1.0h-1.0zM165.2,587.2h1.0v1.0h-1.0zM110.0,583.0h1.0v1.0h-1.0zM75.2,574.6h1.0v1.0h-1.0zM179.5,591.4h1.0v1.0h-1.0zM83.0,578.5h1.0v1.0h-1.0zM112.9,581.8h1.0v1.0h-1.0zM137.3,572.2h1.0v1.0h-1.0zM174.2,577.3h1.0v1.0h-1.0zM160.7,584.5h1.0v1.0h-1.0zM187.1,579.0h1.0v1.0h-1.0zM136.6,585.8h1.0v1.0h-1.0zM90.2,566.5h1.0v1.0h-1.0zM165.6,583.8h1.0v1.0h-1.0zM157.4,586.6h1.0v1.0h-1.0zM86.5,588.7h1.0v1.0h-1.0zM143.2,590.4h1.0v1.0h-1.0zM132.4,588.3h1.0v1.0h-1.0zM67.9,569.7h1.0v1.0h-1.0zM132.0,583.1h1.0v1.0h-1.0zM110.4,567.2h1.0v1.0h-1.0zM175.0,567.2h1.0v1.0h-1.0zM175.3,571.5h1.0v1.0h-1.0zM151.7,581.1h1.0v1.0h-1.0zM91.1,574.0h1.0v1.0h-1.0zM91.7,579.5h1.0v1.0h-1.0zM96.5,579.8h1.0v1.0h-1.0zM97.0,568.5h1.0v1.0h-1.0zM150.6,572.3h1.0v1.0h-1.0zM183.1,576.1h1.0v1.0h-1.0zM94.5,584.4h1.0v1.0h-1.0zM177.0,575.1h1.0v1.0h-1.0zM155.3,574.1h1.0v1.0h-1.0zM188.9,573.3h1.0v1.0h-1.0zM65.3,565.4h1.0v1.0h-1.0zM130.7,581.9h1.0v1.0h-1.0zM97.6,576.3h1.0v1.0h-1.0zM113.4,575.0h1.0v1.0h-1.0zM85.1,579.8h1.0v1.0h-1.0zM146.6,566.0h1.0v1.0h-1.0zM174.4,572.2h1.0v1.0h-1.0zM122.0,571.1h1.0v1.0h-1.0zM147.5,576.1h1.0v1.0h-1.0zM135.6,576.2h1.0v1.0h-1.0zM126.2,567.6h1.0v1.0h-1.0zM187.3,576.6h1.0v1.0h-1.0zM103.3,587.8h1.0v1.0h-1.0zM98.6,586.3h1.0v1.0h-1.0zM115.4,568.4h1.0v1.0h-1.0zM134.7,572.8h1.0v1.0h-1.0zM86.6,591.6h1.0v1.0h-1.0zM181.6,577.8h1.0v1.0h-1.0zM164.9,583.1h1.0v1.0h-1.0zM99.7,568.7h1.0v1.0h-1.0zM135.6,570.4h1.0v1.0h-1.0zM158.1,581.1h1.0v1.0h-1.0zM89.0,586.0h1.0v1.0h-1.0zM185.5,578.1h1.0v1.0h-1.0zM185.8,577.3h1.0v1.0h-1.0zM62.9,577.6h1.0v1.0h-1.0zM106.1,589.7h1.0v1.0h-1.0zM128.1,590.9h1.0v1.0h-1.0zM81.6,575.5h1.0v1.0h-1.0zM62.4,566.7h1.0v1.0h-1.0zM152.4,566.2h1.0v1.0h-1.0zM89.3,576.9h1.0v1.0h-1.0zM179.5,571.6h1.0v1.0h-1.0zM61.2,584.0h1.0v1.0h-1.0zM150.5,569.0h1.0v1.0h-1.0zM180.4,588.3h1.0v1.0h-1.0zM181.5,587.2h1.0v1.0h-1.0zM131.2,584.0h1.0v1.0h-1.0zM76.6,582.4h1.0v1.0h-1.0zM106.4,574.2h1.0v1.0h-1.0zM101.0,567.5h1.0v1.0h-1.0zM165.2,585.6h1.0v1.0h-1.0zM61.8,578.9h1.0v1.0h-1.0zM63.6,579.8h1.0v1.0h-1.0zM82.2,590.9h1.0v1.0h-1.0zM101.8,579.2h1.0v1.0h-1.0zM94.5,589.3h1.0v1.0h-1.0zM61.7,573.4h1.0v1.0h-1.0zM89.7,585.2h1.0v1.0h-1.0zM108.6,588.2h1.0v1.0h-1.0zM102.9,568.6h1.0v1.0h-1.0zM119.3,567.6h1.0v1.0h-1.0zM80.3,579.2h1.0v1.0h-1.0zM134.7,571.0h1.0v1.0h-1.0zM83.8,579.2h1.0v1.0h-1.0zM118.1,578.1h1.0v1.0h-1.0zM147.2,569.0h1.0v1.0h-1.0zM62.1,567.0h1.0v1.0h-1.0zM163.2,584.0h1.0v1.0h-1.0zM80.4,574.1h1.0v1.0h-1.0zM100.4,589.8h1.0v1.0h-1.0zM113.8,584.3h1.0v1.0h-1.0zM71.7,566.4h1.0v1.0h-1.0zM89.7,582.4h1.0v1.0h-1.0zM118.3,588.5h1.0v1.0h-1.0zM166.8,583.0h1.0v1.0h-1.0zM189.3,590.8h1.0v1.0h-1.0zM174.6,567.7h1.0v1.0h-1.0zM112.2,569.2h1.0v1.0h-1.0zM139.6,578.7h1.0v1.0h-1.0zM72.5,567.4h1.0v1.0h-1.0zM120.6,581.9h1.0v1.0h-1.0zM113.0,577.8h1.0v1.0h-1.0zM142.5,583.9h1.0v1.0h-1.0zM152.0,576.3h1.0v1.0h-1.0zM82.8,588.4h1.0v1.0h-1.0zM65.9,570.8h1.0v1.0h-1.0zM85.2,581.1h1.0v1.0h-1.0zM140.9,568.0h1.0v1.0h-1.0zM127.0,580.6h1.0v1.0h-1.0zM149.2,567.3h1.0v1.0h-1.0zM154.5,572.5h1.0v1.0h-1.0zM110.3,568.6h1.0v1.0h-1.0zM169.3,581.7h1.0v1.0h-1.0zM165.5,579.0h1.0v1.0h-1.0zM74.8,576.0h1.0v1.0h-1.0zM70.8,567.9h1.0v1.0h-1.0zM164.7,565.3h1.0v1.0h-1.0zM110.8,566.4h1.0v1.0h-1.0zM159.3,591.7h1.0v1.0h-1.0zM64.8,575.0h1.0v1.0h-1.0zM186.6,572.0h1.0v1.0h-1.0zM100.6,591.6h1.0v1.0h-1.0zM179.6,575.6h1.0v1.0h-1.0zM147.2,586.4h1.0v1.0h-1.0zM106.4,565.4h1.0v1.0h-1.0zM108.9,583.7h1.0v1.0h-1.0zM185.1,577.0h1.0v1.0h-1.0zM113.6,575.4h1.0v1.0h-1.0zM139.0,565.9h1.0v1.0h-1.0zM178.5,590.7h1.0v1.0h-1.0zM64.6,565.5h1.0v1.0h-1.0zM101.1,569.2h1.0v1.0h-1.0zM159.9,588.4h1.0v1.0h-1.0zM131.1,590.4h1.0v1.0h-1.0zM90.0,570.5h1.0v1.0h-1.0zM110.1,577.3h1.0v1.0h-1.0zM86.2,589.8h1.0v1.0h-1.0zM157.5,573.0h1.0v1.0h-1.0zM89.8,572.8h1.0v1.0h-1.0zM111.6,582.7h1.0v1.0h-1.0zM160.8,590.6h1.0v1.0h-1.0zM71.1,570.5h1.0v1.0h-1.0zM109.6,590.6h1.0v1.0h-1.0zM119.6,584.4h1.0v1.0h-1.0zM167.7,577.6h1.0v1.0h-1.0zM109.3,585.9h1.0v1.0h-1.0zM143.2,591.7h1.0v1.0h-1.0zM95.5,590.7h1.0v1.0h-1.0zM123.4,588.4h1.0v1.0h-1.0zM143.4,580.3h1.0v1.0h-1.0zM171.0,567.4h1.0v1.0h-1.0zM96.8,578.3h1.0v1.0h-1.0zM166.4,570.3h1.0v1.0h-1.0zM161.3,567.6h1.0v1.0h-1.0zM105.8,577.6h1.0v1.0h-1.0zM152.9,579.2h1.0v1.0h-1.0zM170.3,583.7h1.0v1.0h-1.0zM110.1,579.2h1.0v1.0h-1.0zM110.8,588.5h1.0v1.0h-1.0zM99.8,570.1h1.0v1.0h-1.0zM92.2,572.0h1.0v1.0h-1.0zM165.1,583.6h1.0v1.0h-1.0zM92.3,576.5h1.0v1.0h-1.0zM176.1,590.9h1.0v1.0h-1.0zM89.4,590.4h1.0v1.0h-1.0zM68.1,591.9h1.0v1.0h-1.0zM102.0,590.7h1.0v1.0h-1.0zM64.6,583.6h1.0v1.0h-1.0zM179.9,587.1h1.0v1.0h-1.0zM134.5,569.4h1.0v1.0h-1.0zM91.2,590.4h1.0v1.0h-1.0zM172.5,571.2h1.0v1.0h-1.0zM105.0,581.6h1.0v1.0h-1.0zM99.8,571.0h1.0v1.0h-1.0zM172.8,568.3h1.0v1.0h-1.0zM142.3,576.1h1.0v1.0h-1.0zM121.3,588.5h1.0v1.0h-1.0zM156.9,585.9h1.0v1.0h-1.0zM62.7,586.9h1.0v1.0h-1.0zM162.9,565.3h1.0v1.0h-1.0zM89.7,584.7h1.0v1.0h-1.0zM172.8,579.6h1.0v1.0h-1.0zM175.4,567.6h1.0v1.0h-1.0zM94.1,587.1h1.0v1.0h-1.0zM163.1,571.2h1.0v1.0h-1.0zM134.1,577.0h1.0v1.0h-1.0zM156.0,575.9h1.0v1.0h-1.0zM101.8,585.6h1.0v1.0h-1.0zM150.4,574.9h1.0v1.0h-1.0zM152.8,572.3h1.0v1.0h-1.0zM125.2,570.3h1.0v1.0h-1.0zM105.0,576.4h1.0v1.0h-1.0zM72.0,573.6h1.0v1.0h-1.0zM106.0,574.0h1.0v1.0h-1.0zM126.0,589.2h1.0v1.0h-1.0zM170.3,573.2h1.0v1.0h-1.0zM78.0,567.6h1.0v1.0h-1.0zM174.9,585.5h1.0v1.0h-1.0zM156.0,589.4h1.0v1.0h-1.0zM112.4,569.9h1.0v1.0h-1.0zM72.4,575.9h1.0v1.0h-1.0zM159.8,567.6h1.0v1.0h-1.0zM117.1,567.5h1.0v1.0h-1.0zM88.3,580.0h1.0v1.0h-1.0zM144.5,590.4h1.0v1.0h-1.0zM102.0,571.5h1.0v1.0h-1.0zM68.6,570.3h1.0v1.0h-1.0zM65.1,565.3h1.0v1.0h-1.0zM75.5,579.6h1.0v1.0h-1.0zM119.6,589.4h1.0v1.0h-1.0zM123.3,567.6h1.0v1.0h-1.0zM79.4,583.9h1.0v1.0h-1.0zM187.1,585.2h1.0v1.0h-1.0zM90.9,574.5h1.0v1.0h-1.0zM117.1,576.8h1.0v1.0h-1.0zM97.1,569.4h1.0v1.0h-1.0zM64.0,588.7h1.0v1.0h-1.0zM186.5,591.3h1.0v1.0h-1.0zM109.7,583.6h1.0v1.0h-1.0zM87.3,568.3h1.0v1.0h-1.0zM60.9,574.2h1.0v1.0h-1.0zM163.6,579.3h1.0v1.0h-1.0zM90.8,578.1h1.0v1.0h-1.0zM130.4,570.5h1.0v1.0h-1.0zM118.4,590.0h1.0v1.0h-1.0zM118.4,591.6h1.0v1.0h-1.0zM153.9,568.7h1.0v1.0h-1.0zM179.2,583.7h1.0v1.0h-1.0zM117.8,570.3h1.0v1.0h-1.0zM145.6,570.4h1.0v1.0h-1.0zM120.2,569.3h1.0v1.0h-1.0zM114.0,591.0h1.0v1.0h-1.0zM137.8,578.9h1.0v1.0h-1.0zM140.4,582.7h1.0v1.0h-1.0zM138.4,572.9h1.0v1.0h-1.0zM88.0,581.4h1.0v1.0h-1.0zM180.6,588.5h1.0v1.0h-1.0zM123.6,573.1h1.0v1.0h-1.0zM136.4,566.5h1.0v1.0h-1.0zM124.7,586.1h1.0v1.0h-1.0zM185.5,567.7h1.0v1.0h-1.0zM86.5,578.1h1.0v1.0h-1.0zM139.2,590.9h1.0v1.0h-1.0zM74.5,568.7h1.0v1.0h-1.0zM123.2,586.4h1.0v1.0h-1.0zM64.3,575.4h1.0v1.0h-1.0zM152.4,576.5h1.0v1.0h-1.0zM83.7,567.2h1.0v1.0h-1.0zM158.8,578.9h1.0v1.0h-1.0zM130.1,583.5h1.0v1.0h-1.0zM159.1,576.0h1.0v1.0h-1.0zM107.8,589.7h1.0v1.0h-1.0zM70.4,586.0h1.0v1.0h-1.0zM120.1,579.5h1.0v1.0h-1.0zM93.0,590.4h1.0v1.0h-1.0zM99.8,573.8h1.0v1.0h-1.0zM68.3,589.0h1.0v1.0h-1.0zM167.7,566.6h1.0v1.0h-1.0zM79.7,573.0h1.0v1.0h-1.0zM64.3,578.5h1.0v1.0h-1.0zM170.1,584.5h1.0v1.0h-1.0zM125.5,591.3h1.0v1.0h-1.0zM99.9,573.8h1.0v1.0h-1.0zM94.9,581.3h1.0v1.0h-1.0zM120.8,568.6h1.0v1.0h-1.0zM124.2,591.0h1.0v1.0h-1.0zM173.8,581.9h1.0v1.0h-1.0zM171.9,578.2h1.0v1.0h-1.0zM124.7,583.8h1.0v1.0h-1.0zM86.7,581.1h1.0v1.0h-1.0zM125.4,573.2h1.0v1.0h-1.0zM124.8,570.0h1.0v1.0h-1.0zM143.6,568.3h1.0v1.0h-1.0zM118.3,566.8h1.0v1.0h-1.0zM130.3,567.9h1.0v1.0h-1.0zM167.0,565.8h1.0v1.0h-1.0zM164.8,573.3h1.0v1.0h-1.0zM183.8,574.0h1.0v1.0h-1.0zM79.3,583.1h1.0v1.0h-1.0zM92.0,586.9h1.0v1.0h-1.0zM122.3,572.4h1.0v1.0h-1.0zM136.9,571.2h1.0v1.0h-1.0zM94.8,567.5h1.0v1.0h-1.0zM91.3,571.1h1.0v1.0h-1.0zM81.1,576.4h1.0v1.0h-1.0zM118.6,581.1h1.0v1.0h-1.0zM131.8,583.4h1.0v1.0h-1.0zM139.8,577.8h1.0v1.0h-1.0zM170.9,569.1h1.0v1.0h-1.0zM96.1,565.6h1.0v1.0h-1.0zM178.1,588.7h1.0v1.0h-1.0zM113.2,587.7h1.0v1.0h-1.0zM133.2,590.1h1.0v1.0h-1.0zM177.0,574.1h1.0v1.0h-1.0z" fill="#c4c4c4"/>
<path d="M106.7,575.4h1.0v1.0h-1.0zM101.5,577.7h1.0v1.0h-1.0zM88.5,590.9h1.0v1.0h-1.0zM93.5,579.4h1.0v1.0h-1.0zM100.9,576.0h1.0v1.0h-1.0zM85.2,574.0h1.0v1.0h-1.0zM79.5,577.4h1.0v1.0h-1.0zM94.7,580.6h1.0v1.0h-1.0zM79.9,579.4h1.0v1.0h-1.0zM97.9,578.0h1.0v1.0h-1.0zM102.9,573.0h1.0v1.0h-1.0zM92.9,572.4h1.0v1.0h-1.0zM77.2,568.9h1.0v1.0h-1.0zM101.6,582.9h1.0v1.0h-1.0zM87.6,570.9h1.0v1.0h-1.0zM78.2,582.8h1.0v1.0h-1.0zM80.3,576.3h1.0v1.0h-1.0zM88.3,585.6h1.0v1.0h-1.0zM86.8,592.7h1.0v1.0h-1.0zM99.4,567.3h1.0v1.0h-1.0zM80.4,576.7h1.0v1.0h-1.0zM101.5,588.2h1.0v1.0h-1.0zM87.2,574.9h1.0v1.0h-1.0zM93.6,580.3h1.0v1.0h-1.0zM95.2,575.3h1.0v1.0h-1.0zM84.9,572.1h1.0v1.0h-1.0zM83.5,577.5h1.0v1.0h-1.0zM74.5,576.2h1.0v1.0h-1.0zM83.1,575.0h1.0v1.0h-1.0zM73.2,578.8h1.0v1.0h-1.0zM94.9,571.5h1.0v1.0h-1.0zM92.6,587.8h1.0v1.0h-1.0zM91.0,569.1h1.0v1.0h-1.0zM99.5,578.5h1.0v1.0h-1.0zM73.3,579.5h1.0v1.0h-1.0zM83.1,582.2h1.0v1.0h-1.0zM87.5,577.7h1.0v1.0h-1.0zM84.8,577.6h1.0v1.0h-1.0zM97.6,573.9h1.0v1.0h-1.0zM99.8,573.1h1.0v1.0h-1.0zM98.2,580.5h1.0v1.0h-1.0zM77.6,576.1h1.0v1.0h-1.0zM92.7,574.6h1.0v1.0h-1.0zM76.0,589.8h1.0v1.0h-1.0zM93.6,582.9h1.0v1.0h-1.0zM76.0,579.5h1.0v1.0h-1.0zM89.7,582.3h1.0v1.0h-1.0zM101.2,567.6h1.0v1.0h-1.0zM84.1,577.7h1.0v1.0h-1.0zM77.7,575.2h1.0v1.0h-1.0zM87.2,572.4h1.0v1.0h-1.0zM101.9,588.1h1.0v1.0h-1.0zM101.2,566.1h1.0v1.0h-1.0zM87.9,574.5h1.0v1.0h-1.0zM91.1,585.2h1.0v1.0h-1.0zM88.2,585.6h1.0v1.0h-1.0zM94.8,581.3h1.0v1.0h-1.0zM84.0,583.9h1.0v1.0h-1.0zM84.0,563.8h1.0v1.0h-1.0zM92.4,583.5h1.0v1.0h-1.0zM88.9,587.9h1.0v1.0h-1.0zM95.4,567.9h1.0v1.0h-1.0zM94.8,579.9h1.0v1.0h-1.0zM94.9,577.2h1.0v1.0h-1.0zM78.7,585.9h1.0v1.0h-1.0zM92.2,582.9h1.0v1.0h-1.0zM97.8,569.7h1.0v1.0h-1.0zM91.6,571.6h1.0v1.0h-1.0zM80.0,573.6h1.0v1.0h-1.0zM86.8,581.6h1.0v1.0h-1.0zM91.5,574.9h1.0v1.0h-1.0zM92.7,577.9h1.0v1.0h-1.0zM95.5,578.3h1.0v1.0h-1.0zM79.2,576.5h1.0v1.0h-1.0zM100.8,581.2h1.0v1.0h-1.0zM73.6,577.9h1.0v1.0h-1.0zM81.7,582.1h1.0v1.0h-1.0zM90.2,570.0h1.0v1.0h-1.0zM91.8,576.6h1.0v1.0h-1.0zM61.3,581.1h1.0v1.0h-1.0zM91.5,577.4h1.0v1.0h-1.0zM83.9,589.6h1.0v1.0h-1.0zM90.9,581.1h1.0v1.0h-1.0zM89.0,569.4h1.0v1.0h-1.0zM95.7,577.3h1.0v1.0h-1.0zM99.3,580.2h1.0v1.0h-1.0zM89.7,569.2h1.0v1.0h-1.0zM97.7,583.8h1.0v1.0h-1.0zM91.0,565.4h1.0v1.0h-1.0zM97.7,574.2h1.0v1.0h-1.0zM88.0,578.3h1.0v1.0h-1.0zM83.6,585.9h1.0v1.0h-1.0zM80.1,588.1h1.0v1.0h-1.0zM88.0,576.3h1.0v1.0h-1.0zM96.3,575.7h1.0v1.0h-1.0zM94.4,577.5h1.0v1.0h-1.0zM94.4,584.1h1.0v1.0h-1.0zM81.9,565.9h1.0v1.0h-1.0zM94.1,578.4h1.0v1.0h-1.0zM93.5,575.5h1.0v1.0h-1.0zM85.4,571.2h1.0v1.0h-1.0zM108.4,575.8h1.0v1.0h-1.0zM84.0,577.9h1.0v1.0h-1.0zM83.1,584.5h1.0v1.0h-1.0zM82.7,576.4h1.0v1.0h-1.0zM93.7,584.7h1.0v1.0h-1.0zM77.1,572.6h1.0v1.0h-1.0zM87.4,573.8h1.0v1.0h-1.0zM89.8,572.8h1.0v1.0h-1.0zM76.5,567.9h1.0v1.0h-1.0zM95.0,583.2h1.0v1.0h-1.0zM89.9,579.5h1.0v1.0h-1.0zM107.4,582.0h1.0v1.0h-1.0zM99.7,581.2h1.0v1.0h-1.0zM89.1,571.1h1.0v1.0h-1.0zM88.1,575.4h1.0v1.0h-1.0zM106.1,584.6h1.0v1.0h-1.0zM99.2,584.3h1.0v1.0h-1.0zM90.3,568.0h1.0v1.0h-1.0zM96.1,583.6h1.0v1.0h-1.0zM96.1,570.2h1.0v1.0h-1.0zM81.2,589.4h1.0v1.0h-1.0zM136.2,577.8h1.0v1.0h-1.0zM132.9,585.2h1.0v1.0h-1.0zM95.1,563.8h1.0v1.0h-1.0zM124.8,585.6h1.0v1.0h-1.0zM133.5,588.6h1.0v1.0h-1.0zM101.0,576.0h1.0v1.0h-1.0zM108.6,581.7h1.0v1.0h-1.0zM114.0,584.0h1.0v1.0h-1.0zM143.9,583.6h1.0v1.0h-1.0zM111.0,582.6h1.0v1.0h-1.0zM108.0,574.2h1.0v1.0h-1.0zM101.6,563.5h1.0v1.0h-1.0zM139.1,579.0h1.0v1.0h-1.0zM104.9,580.0h1.0v1.0h-1.0zM122.7,584.9h1.0v1.0h-1.0zM131.3,574.8h1.0v1.0h-1.0zM133.7,577.3h1.0v1.0h-1.0zM111.6,581.9h1.0v1.0h-1.0zM122.1,572.2h1.0v1.0h-1.0zM131.0,582.3h1.0v1.0h-1.0zM106.3,571.6h1.0v1.0h-1.0zM129.2,571.2h1.0v1.0h-1.0zM123.8,580.1h1.0v1.0h-1.0zM123.4,587.5h1.0v1.0h-1.0zM123.1,568.1h1.0v1.0h-1.0zM112.6,583.8h1.0v1.0h-1.0zM132.1,564.8h1.0v1.0h-1.0zM134.2,586.5h1.0v1.0h-1.0zM114.9,579.2h1.0v1.0h-1.0zM116.2,581.7h1.0v1.0h-1.0zM122.9,571.0h1.0v1.0h-1.0zM126.4,575.2h1.0v1.0h-1.0zM126.8,573.0h1.0v1.0h-1.0zM113.8,576.0h1.0v1.0h-1.0zM118.8,577.4h1.0v1.0h-1.0zM107.3,570.9h1.0v1.0h-1.0zM121.7,583.4h1.0v1.0h-1.0zM142.1,585.5h1.0v1.0h-1.0zM111.0,580.8h1.0v1.0h-1.0zM121.8,578.2h1.0v1.0h-1.0zM118.1,573.1h1.0v1.0h-1.0zM125.5,582.5h1.0v1.0h-1.0zM113.4,575.5h1.0v1.0h-1.0zM111.9,572.4h1.0v1.0h-1.0zM119.8,572.0h1.0v1.0h-1.0zM133.3,582.7h1.0v1.0h-1.0zM117.8,581.2h1.0v1.0h-1.0zM109.6,582.2h1.0v1.0h-1.0zM121.8,571.6h1.0v1.0h-1.0zM153.4,581.9h1.0v1.0h-1.0zM120.1,580.4h1.0v1.0h-1.0zM126.0,576.1h1.0v1.0h-1.0zM125.4,578.9h1.0v1.0h-1.0zM113.2,576.1h1.0v1.0h-1.0zM109.3,573.2h1.0v1.0h-1.0zM115.3,580.2h1.0v1.0h-1.0zM100.1,580.4h1.0v1.0h-1.0zM119.6,574.3h1.0v1.0h-1.0zM116.3,577.5h1.0v1.0h-1.0zM120.6,577.4h1.0v1.0h-1.0zM125.1,567.4h1.0v1.0h-1.0zM157.7,573.4h1.0v1.0h-1.0zM160.3,585.8h1.0v1.0h-1.0zM160.4,581.9h1.0v1.0h-1.0zM170.2,587.5h1.0v1.0h-1.0zM175.4,577.4h1.0v1.0h-1.0zM174.1,582.8h1.0v1.0h-1.0zM145.8,586.6h1.0v1.0h-1.0zM160.7,582.3h1.0v1.0h-1.0zM177.1,584.1h1.0v1.0h-1.0zM181.7,575.9h1.0v1.0h-1.0zM164.6,582.2h1.0v1.0h-1.0zM182.2,578.1h1.0v1.0h-1.0zM157.2,569.2h1.0v1.0h-1.0zM158.6,584.5h1.0v1.0h-1.0zM183.1,581.3h1.0v1.0h-1.0zM164.7,585.5h1.0v1.0h-1.0zM186.2,577.9h1.0v1.0h-1.0zM161.8,576.5h1.0v1.0h-1.0zM159.5,576.0h1.0v1.0h-1.0zM144.2,577.0h1.0v1.0h-1.0zM182.1,586.1h1.0v1.0h-1.0zM181.0,580.7h1.0v1.0h-1.0zM174.6,580.4h1.0v1.0h-1.0zM165.4,571.1h1.0v1.0h-1.0zM179.2,578.4h1.0v1.0h-1.0zM149.0,574.9h1.0v1.0h-1.0zM167.8,571.2h1.0v1.0h-1.0zM164.7,574.5h1.0v1.0h-1.0zM167.4,577.9h1.0v1.0h-1.0zM170.1,581.1h1.0v1.0h-1.0zM161.8,577.1h1.0v1.0h-1.0zM180.1,587.4h1.0v1.0h-1.0zM173.2,583.7h1.0v1.0h-1.0zM165.7,579.8h1.0v1.0h-1.0zM174.6,582.8h1.0v1.0h-1.0zM170.7,588.3h1.0v1.0h-1.0zM173.7,573.6h1.0v1.0h-1.0zM175.7,578.9h1.0v1.0h-1.0zM148.6,567.5h1.0v1.0h-1.0zM171.0,573.5h1.0v1.0h-1.0zM159.8,571.7h1.0v1.0h-1.0zM174.0,579.3h1.0v1.0h-1.0zM174.9,584.0h1.0v1.0h-1.0zM159.8,570.9h1.0v1.0h-1.0zM174.3,576.9h1.0v1.0h-1.0zM163.8,566.3h1.0v1.0h-1.0zM166.2,577.9h1.0v1.0h-1.0zM158.4,573.4h1.0v1.0h-1.0zM166.6,581.1h1.0v1.0h-1.0zM171.1,570.1h1.0v1.0h-1.0zM171.1,571.8h1.0v1.0h-1.0zM159.8,578.7h1.0v1.0h-1.0zM173.5,578.5h1.0v1.0h-1.0zM173.1,575.7h1.0v1.0h-1.0zM184.5,583.0h1.0v1.0h-1.0zM167.7,573.5h1.0v1.0h-1.0zM173.9,584.0h1.0v1.0h-1.0zM154.9,573.4h1.0v1.0h-1.0zM160.6,579.2h1.0v1.0h-1.0zM175.2,584.1h1.0v1.0h-1.0zM167.7,583.4h1.0v1.0h-1.0zM169.2,571.6h1.0v1.0h-1.0zM149.3,586.0h1.0v1.0h-1.0zM169.6,581.4h1.0v1.0h-1.0zM164.0,578.8h1.0v1.0h-1.0zM162.3,563.4h1.0v1.0h-1.0zM168.4,584.6h1.0v1.0h-1.0zM163.7,573.8h1.0v1.0h-1.0zM161.5,574.2h1.0v1.0h-1.0zM164.1,572.1h1.0v1.0h-1.0zM166.2,581.9h1.0v1.0h-1.0zM173.4,574.2h1.0v1.0h-1.0zM160.9,580.1h1.0v1.0h-1.0zM164.6,569.9h1.0v1.0h-1.0zM171.3,576.0h1.0v1.0h-1.0zM171.5,580.4h1.0v1.0h-1.0zM159.1,571.5h1.0v1.0h-1.0zM167.0,587.6h1.0v1.0h-1.0zM174.1,580.2h1.0v1.0h-1.0zM158.8,578.4h1.0v1.0h-1.0zM186.4,575.2h1.0v1.0h-1.0zM151.9,582.3h1.0v1.0h-1.0zM164.2,574.6h1.0v1.0h-1.0zM175.9,579.0h1.0v1.0h-1.0zM159.9,581.3h1.0v1.0h-1.0zM157.3,576.2h1.0v1.0h-1.0zM166.1,579.9h1.0v1.0h-1.0zM152.4,574.8h1.0v1.0h-1.0zM172.8,576.7h1.0v1.0h-1.0zM156.9,574.1h1.0v1.0h-1.0zM156.5,573.9h1.0v1.0h-1.0zM154.2,576.5h1.0v1.0h-1.0zM168.2,581.1h1.0v1.0h-1.0zM156.0,585.9h1.0v1.0h-1.0zM159.4,587.0h1.0v1.0h-1.0zM163.1,580.8h1.0v1.0h-1.0zM161.6,576.8h1.0v1.0h-1.0zM158.7,582.7h1.0v1.0h-1.0zM163.4,567.1h1.0v1.0h-1.0zM170.4,586.8h1.0v1.0h-1.0zM171.0,585.9h1.0v1.0h-1.0zM157.0,575.9h1.0v1.0h-1.0zM163.6,577.4h1.0v1.0h-1.0zM178.7,587.9h1.0v1.0h-1.0zM169.6,580.2h1.0v1.0h-1.0zM160.9,572.4h1.0v1.0h-1.0zM170.8,574.1h1.0v1.0h-1.0zM161.0,577.1h1.0v1.0h-1.0zM165.1,578.4h1.0v1.0h-1.0zM165.7,578.0h1.0v1.0h-1.0zM164.2,578.1h1.0v1.0h-1.0zM159.3,580.2h1.0v1.0h-1.0zM154.7,568.4h1.0v1.0h-1.0zM158.1,587.2h1.0v1.0h-1.0zM160.0,576.9h1.0v1.0h-1.0zM178.1,578.3h1.0v1.0h-1.0zM174.1,586.3h1.0v1.0h-1.0zM168.3,581.2h1.0v1.0h-1.0zM175.1,576.7h1.0v1.0h-1.0zM169.1,583.3h1.0v1.0h-1.0zM167.0,589.4h1.0v1.0h-1.0zM176.2,581.8h1.0v1.0h-1.0zM154.8,577.2h1.0v1.0h-1.0zM152.0,571.5h1.0v1.0h-1.0zM187.1,566.5h1.0v1.0h-1.0zM157.7,575.5h1.0v1.0h-1.0zM164.0,577.9h1.0v1.0h-1.0zM143.5,567.8h1.0v1.0h-1.0zM181.8,582.8h1.0v1.0h-1.0zM167.1,590.6h1.0v1.0h-1.0zM175.2,588.9h1.0v1.0h-1.0zM151.1,569.5h1.0v1.0h-1.0zM165.2,570.7h1.0v1.0h-1.0zM170.5,581.7h1.0v1.0h-1.0zM175.2,575.1h1.0v1.0h-1.0zM159.9,578.8h1.0v1.0h-1.0zM175.7,579.6h1.0v1.0h-1.0zM160.4,581.7h1.0v1.0h-1.0zM172.0,570.1h1.0v1.0h-1.0zM162.1,590.3h1.0v1.0h-1.0zM167.1,574.0h1.0v1.0h-1.0zM178.7,576.1h1.0v1.0h-1.0zM179.8,582.4h1.0v1.0h-1.0zM168.6,579.5h1.0v1.0h-1.0zM176.5,583.5h1.0v1.0h-1.0zM185.6,579.3h1.0v1.0h-1.0zM168.7,581.9h1.0v1.0h-1.0zM165.9,580.3h1.0v1.0h-1.0zM165.0,576.9h1.0v1.0h-1.0zM178.0,576.5h1.0v1.0h-1.0zM168.9,587.4h1.0v1.0h-1.0zM156.0,582.0h1.0v1.0h-1.0zM171.9,578.8h1.0v1.0h-1.0zM165.4,574.7h1.0v1.0h-1.0zM151.4,577.1h1.0v1.0h-1.0zM157.4,583.1h1.0v1.0h-1.0zM168.6,581.6h1.0v1.0h-1.0zM172.8,584.7h1.0v1.0h-1.0zM167.9,591.8h1.0v1.0h-1.0zM178.5,580.6h1.0v1.0h-1.0zM163.9,575.1h1.0v1.0h-1.0zM164.4,572.4h1.0v1.0h-1.0zM167.7,582.5h1.0v1.0h-1.0zM167.5,581.7h1.0v1.0h-1.0zM171.3,581.6h1.0v1.0h-1.0zM170.4,580.2h1.0v1.0h-1.0zM163.3,568.0h1.0v1.0h-1.0zM177.9,579.7h1.0v1.0h-1.0zM165.3,576.1h1.0v1.0h-1.0zM169.4,575.9h1.0v1.0h-1.0zM154.5,575.0h1.0v1.0h-1.0zM165.0,582.9h1.0v1.0h-1.0zM171.2,569.8h1.0v1.0h-1.0zM158.5,582.4h1.0v1.0h-1.0zM170.9,574.8h1.0v1.0h-1.0zM169.3,571.8h1.0v1.0h-1.0zM169.1,576.3h1.0v1.0h-1.0zM166.2,580.1h1.0v1.0h-1.0zM154.9,581.5h1.0v1.0h-1.0zM170.0,580.9h1.0v1.0h-1.0zM171.1,580.8h1.0v1.0h-1.0zM172.5,582.4h1.0v1.0h-1.0zM102.9,549.0h1.0v1.0h-1.0zM119.3,587.3h1.0v1.0h-1.0zM124.6,577.5h1.0v1.0h-1.0zM198.7,588.2h1.0v1.0h-1.0zM205.5,578.2h1.0v1.0h-1.0zM148.4,578.7h1.0v1.0h-1.0zM172.6,575.2h1.0v1.0h-1.0zM182.5,590.4h1.0v1.0h-1.0zM113.5,580.4h1.0v1.0h-1.0zM144.4,570.1h1.0v1.0h-1.0zM186.6,570.1h1.0v1.0h-1.0zM145.2,590.0h1.0v1.0h-1.0zM141.5,571.7h1.0v1.0h-1.0zM136.3,575.4h1.0v1.0h-1.0zM165.7,570.5h1.0v1.0h-1.0zM77.2,578.1h1.0v1.0h-1.0zM122.5,588.8h1.0v1.0h-1.0zM122.4,592.1h1.0v1.0h-1.0zM122.0,577.6h1.0v1.0h-1.0zM90.6,582.7h1.0v1.0h-1.0zM143.7,566.9h1.0v1.0h-1.0zM96.7,575.8h1.0v1.0h-1.0zM160.3,592.7h1.0v1.0h-1.0zM99.7,575.3h1.0v1.0h-1.0zM180.4,565.7h1.0v1.0h-1.0zM119.1,569.0h1.0v1.0h-1.0zM140.4,565.5h1.0v1.0h-1.0zM128.5,528.0h1.0v1.0h-1.0zM107.9,579.1h1.0v1.0h-1.0zM204.3,579.1h1.0v1.0h-1.0zM214.2,546.5h1.0v1.0h-1.0zM164.0,566.3h1.0v1.0h-1.0zM132.8,577.5h1.0v1.0h-1.0zM195.3,517.8h1.0v1.0h-1.0zM64.6,565.8h1.0v1.0h-1.0zM70.9,574.6h1.0v1.0h-1.0zM98.0,585.5h1.0v1.0h-1.0zM82.1,529.3h1.0v1.0h-1.0zM177.3,563.5h1.0v1.0h-1.0zM145.4,580.4h1.0v1.0h-1.0zM116.0,588.1h1.0v1.0h-1.0zM112.9,562.1h1.0v1.0h-1.0zM146.8,572.5h1.0v1.0h-1.0zM206.4,562.7h1.0v1.0h-1.0zM168.2,582.7h1.0v1.0h-1.0zM177.6,521.5h1.0v1.0h-1.0zM62.1,575.6h1.0v1.0h-1.0zM132.6,587.5h1.0v1.0h-1.0zM206.5,573.9h1.0v1.0h-1.0zM72.5,566.3h1.0v1.0h-1.0z" fill="#9d9d9d"/>
<path d="M81.9,586.3h1.0v1.0h-1.0zM84.8,572.3h1.0v1.0h-1.0zM105.2,573.7h1.0v1.0h-1.0zM73.2,574.6h1.0v1.0h-1.0zM96.7,578.1h1.0v1.0h-1.0zM85.7,585.1h1.0v1.0h-1.0zM92.1,568.3h1.0v1.0h-1.0zM89.2,582.0h1.0v1.0h-1.0zM88.2,580.4h1.0v1.0h-1.0zM82.6,572.2h1.0v1.0h-1.0zM88.4,578.6h1.0v1.0h-1.0zM84.0,589.2h1.0v1.0h-1.0zM91.0,577.0h1.0v1.0h-1.0zM83.0,592.0h1.0v1.0h-1.0zM90.4,579.4h1.0v1.0h-1.0zM125.0,576.6h1.0v1.0h-1.0zM126.4,582.6h1.0v1.0h-1.0zM91.3,574.0h1.0v1.0h-1.0zM110.4,579.3h1.0v1.0h-1.0zM135.9,578.4h1.0v1.0h-1.0zM129.6,580.7h1.0v1.0h-1.0zM124.8,582.5h1.0v1.0h-1.0zM169.2,589.5h1.0v1.0h-1.0zM170.6,577.0h1.0v1.0h-1.0zM168.4,580.4h1.0v1.0h-1.0zM170.6,580.9h1.0v1.0h-1.0zM162.3,580.1h1.0v1.0h-1.0zM161.1,575.5h1.0v1.0h-1.0zM159.5,570.9h1.0v1.0h-1.0zM162.6,571.4h1.0v1.0h-1.0zM169.0,573.8h1.0v1.0h-1.0zM173.5,569.6h1.0v1.0h-1.0zM169.6,585.2h1.0v1.0h-1.0z" fill="#5b9be6"/>
<path d="M92.9,580.0h1.0v1.0h-1.0zM78.1,568.9h1.0v1.0h-1.0zM95.9,576.0h1.0v1.0h-1.0zM84.2,571.6h1.0v1.0h-1.0zM98.8,570.3h1.0v1.0h-1.0zM95.6,583.8h1.0v1.0h-1.0zM97.8,578.7h1.0v1.0h-1.0zM88.1,575.8h1.0v1.0h-1.0zM93.0,577.8h1.0v1.0h-1.0zM91.3,587.1h1.0v1.0h-1.0zM95.7,585.1h1.0v1.0h-1.0zM87.7,580.2h1.0v1.0h-1.0zM84.8,571.4h1.0v1.0h-1.0zM95.6,576.8h1.0v1.0h-1.0zM95.5,576.7h1.0v1.0h-1.0zM93.7,583.5h1.0v1.0h-1.0zM88.7,579.5h1.0v1.0h-1.0zM87.7,574.0h1.0v1.0h-1.0zM81.7,570.2h1.0v1.0h-1.0zM102.4,583.9h1.0v1.0h-1.0zM78.8,582.1h1.0v1.0h-1.0zM79.8,576.6h1.0v1.0h-1.0zM81.7,586.4h1.0v1.0h-1.0zM90.8,574.3h1.0v1.0h-1.0zM85.7,578.6h1.0v1.0h-1.0zM81.1,578.5h1.0v1.0h-1.0zM88.6,573.5h1.0v1.0h-1.0zM91.5,585.8h1.0v1.0h-1.0zM100.8,581.6h1.0v1.0h-1.0zM86.5,574.7h1.0v1.0h-1.0zM90.0,571.6h1.0v1.0h-1.0zM90.0,579.7h1.0v1.0h-1.0zM89.3,574.5h1.0v1.0h-1.0zM89.9,580.7h1.0v1.0h-1.0zM95.3,573.9h1.0v1.0h-1.0zM90.4,573.6h1.0v1.0h-1.0zM95.9,574.3h1.0v1.0h-1.0zM130.5,580.9h1.0v1.0h-1.0zM125.3,576.0h1.0v1.0h-1.0zM115.5,580.5h1.0v1.0h-1.0zM132.0,575.8h1.0v1.0h-1.0zM106.7,574.9h1.0v1.0h-1.0zM129.6,573.6h1.0v1.0h-1.0zM130.3,573.7h1.0v1.0h-1.0zM113.6,576.9h1.0v1.0h-1.0zM159.3,580.8h1.0v1.0h-1.0zM162.1,580.7h1.0v1.0h-1.0zM155.0,579.5h1.0v1.0h-1.0zM160.1,581.5h1.0v1.0h-1.0zM166.2,575.8h1.0v1.0h-1.0zM172.9,569.7h1.0v1.0h-1.0zM157.8,577.9h1.0v1.0h-1.0zM166.0,576.6h1.0v1.0h-1.0zM170.4,578.8h1.0v1.0h-1.0zM163.6,584.5h1.0v1.0h-1.0zM156.9,583.7h1.0v1.0h-1.0zM160.8,575.9h1.0v1.0h-1.0zM181.5,571.3h1.0v1.0h-1.0zM177.4,572.0h1.0v1.0h-1.0zM161.1,571.8h1.0v1.0h-1.0zM162.3,579.6h1.0v1.0h-1.0zM171.1,579.7h1.0v1.0h-1.0zM165.4,576.5h1.0v1.0h-1.0zM167.2,574.5h1.0v1.0h-1.0zM161.0,586.4h1.0v1.0h-1.0zM162.9,572.7h1.0v1.0h-1.0zM165.2,576.1h1.0v1.0h-1.0zM168.3,572.4h1.0v1.0h-1.0zM157.1,572.6h1.0v1.0h-1.0zM170.4,589.1h1.0v1.0h-1.0zM169.2,574.8h1.0v1.0h-1.0zM167.3,580.6h1.0v1.0h-1.0zM168.0,580.2h1.0v1.0h-1.0zM167.3,578.7h1.0v1.0h-1.0zM159.5,576.8h1.0v1.0h-1.0zM172.5,581.9h1.0v1.0h-1.0zM159.3,579.9h1.0v1.0h-1.0zM165.2,578.0h1.0v1.0h-1.0zM167.9,578.8h1.0v1.0h-1.0zM160.2,582.8h1.0v1.0h-1.0zM164.0,571.9h1.0v1.0h-1.0zM161.3,577.0h1.0v1.0h-1.0zM167.4,581.5h1.0v1.0h-1.0zM162.5,579.8h1.0v1.0h-1.0zM160.3,580.4h1.0v1.0h-1.0zM169.6,580.9h1.0v1.0h-1.0zM161.4,579.4h1.0v1.0h-1.0zM167.4,579.9h1.0v1.0h-1.0zM171.1,578.0h1.0v1.0h-1.0zM172.0,582.9h1.0v1.0h-1.0zM162.6,588.4h1.0v1.0h-1.0zM168.4,575.8h1.0v1.0h-1.0zM172.3,579.7h1.0v1.0h-1.0zM167.8,575.5h1.0v1.0h-1.0zM151.1,574.6h1.0v1.0h-1.0zM170.3,580.2h1.0v1.0h-1.0zM173.4,583.5h1.0v1.0h-1.0zM157.8,579.7h1.0v1.0h-1.0zM165.5,577.9h1.0v1.0h-1.0zM168.6,577.5h1.0v1.0h-1.0zM176.4,578.7h1.0v1.0h-1.0zM171.3,582.6h1.0v1.0h-1.0zM167.3,574.3h1.0v1.0h-1.0zM164.9,576.2h1.0v1.0h-1.0zM160.3,572.5h1.0v1.0h-1.0zM164.3,572.7h1.0v1.0h-1.0zM178.8,577.5h1.0v1.0h-1.0zM166.1,590.1h1.0v1.0h-1.0zM182.3,585.5h1.0v1.0h-1.0zM166.0,581.7h1.0v1.0h-1.0zM164.4,587.5h1.0v1.0h-1.0zM179.8,576.2h1.0v1.0h-1.0zM173.0,578.2h1.0v1.0h-1.0zM162.5,572.3h1.0v1.0h-1.0zM168.0,582.8h1.0v1.0h-1.0zM166.5,582.6h1.0v1.0h-1.0zM165.6,580.6h1.0v1.0h-1.0zM167.1,575.4h1.0v1.0h-1.0zM172.2,573.7h1.0v1.0h-1.0zM156.5,584.8h1.0v1.0h-1.0zM172.9,582.3h1.0v1.0h-1.0zM168.3,572.5h1.0v1.0h-1.0zM159.9,576.1h1.0v1.0h-1.0zM170.7,583.8h1.0v1.0h-1.0zM173.6,581.7h1.0v1.0h-1.0zM164.3,572.9h1.0v1.0h-1.0zM169.6,579.3h1.0v1.0h-1.0zM167.6,575.1h1.0v1.0h-1.0zM156.3,578.7h1.0v1.0h-1.0zM167.8,575.2h1.0v1.0h-1.0zM162.0,574.8h1.0v1.0h-1.0zM164.7,575.2h1.0v1.0h-1.0zM168.5,578.3h1.0v1.0h-1.0zM164.8,563.8h1.0v1.0h-1.0zM164.5,575.1h1.0v1.0h-1.0zM162.5,578.9h1.0v1.0h-1.0zM169.4,580.4h1.0v1.0h-1.0zM161.8,576.5h1.0v1.0h-1.0zM176.2,580.7h1.0v1.0h-1.0zM171.7,571.8h1.0v1.0h-1.0zM169.4,589.4h1.0v1.0h-1.0zM173.0,582.7h1.0v1.0h-1.0zM172.8,569.5h1.0v1.0h-1.0zM176.3,580.3h1.0v1.0h-1.0zM167.9,576.9h1.0v1.0h-1.0zM169.4,578.7h1.0v1.0h-1.0zM157.1,585.0h1.0v1.0h-1.0zM156.9,573.3h1.0v1.0h-1.0zM182.1,587.4h1.0v1.0h-1.0zM164.6,577.0h1.0v1.0h-1.0zM172.8,579.5h1.0v1.0h-1.0zM163.1,574.5h1.0v1.0h-1.0zM176.8,584.5h1.0v1.0h-1.0zM166.8,586.5h1.0v1.0h-1.0zM149.7,580.1h1.0v1.0h-1.0zM170.5,578.0h1.0v1.0h-1.0zM164.2,583.4h1.0v1.0h-1.0zM165.2,580.6h1.0v1.0h-1.0zM159.5,576.9h1.0v1.0h-1.0zM160.2,583.2h1.0v1.0h-1.0zM167.3,582.7h1.0v1.0h-1.0zM160.6,575.4h1.0v1.0h-1.0zM165.6,577.2h1.0v1.0h-1.0z" fill="#2233b0"/>
<rect x="65.6" y="593.0" width="1.4" height="1.5" fill="#f0c000"/>
<rect x="67.0" y="593.0" width="1.9" height="1.5" fill="#9040c0"/>
<rect x="68.9" y="593.0" width="2.0" height="1.5" fill="#9040c0"/>
<rect x="70.9" y="593.0" width="1.8" height="1.5" fill="#20b0b0"/>
<rect x="72.7" y="593.0" width="2.3" height="1.5" fill="#30a030"/>
<rect x="75.0" y="593.0" width="1.9" height="1.5" fill="#f0c000"/>
<rect x="76.9" y="593.0" width="1.4" height="1.5" fill="#f0c000"/>
<rect x="78.3" y="593.0" width="2.7" height="1.5" fill="#30a030"/>
<rect x="81.0" y="593.0" width="1.4" height="1.5" fill="#2040e0"/>
<rect x="82.4" y="593.0" width="3.1" height="1.5" fill="#9040c0"/>
<rect x="85.6" y="593.0" width="3.0" height="1.5" fill="#2040e0"/>
<rect x="88.5" y="593.0" width="2.9" height="1.5" fill="#30a030"/>
<rect x="91.4" y="593.0" width="2.5" height="1.5" fill="#f0c000"/>
<rect x="94.0" y="593.0" width="3.0" height="1.5" fill="#e07020"/>
<rect x="96.9" y="593.0" width="1.5" height="1.5" fill="#e03030"/>
<rect x="98.5" y="593.0" width="3.2" height="1.5" fill="#e07020"/>
<rect x="101.6" y="593.0" width="2.7" height="1.5" fill="#e07020"/>
<rect x="104.4" y="593.0" width="3.0" height="1.5" fill="#e07020"/>
<rect x="107.4" y="593.0" width="1.9" height="1.5" fill="#2040e0"/>
<rect x="109.3" y="593.0" width="3.0" height="1.5" fill="#30a030"/>
<rect x="112.3" y="593.0" width="1.7" height="1.5" fill="#9040c0"/>
<rect x="114.0" y="593.0" width="2.3" height="1.5" fill="#30a030"/>
<rect x="116.3" y="593.0" width="1.8" height="1.5" fill="#e03030"/>
<rect x="118.1" y="593.0" width="2.5" height="1.5" fill="#9040c0"/>
<rect x="120.5" y="593.0" width="3.0" height="1.5" fill="#e03030"/>
<rect x="123.6" y="593.0" width="3.5" height="1.5" fill="#30a030"/>
<rect x="127.0" y="593.0" width="1.2" height="1.5" fill="#2040e0"/>
<rect x="128.3" y="593.0" width="2.2" height="1.5" fill="#20b0b0"/>
<rect x="130.5" y="593.0" width="3.5" height="1.5" fill="#30a030"/>
<rect x="134.0" y="593.0" width="2.5" height="1.5" fill="#2040e0"/>
<rect x="136.6" y="593.0" width="3.2" height="1.5" fill="#f0c000"/>
<rect x="139.7" y="593.0" width="3.4" height="1.5" fill="#f0c000"/>
<rect x="143.2" y="593.0" width="1.9" height="1.5" fill="#f0c000"/>
<rect x="145.0" y="593.0" width="1.8" height="1.5" fill="#e82020"/>
<rect x="146.9" y="593.0" width="2.6" height="1.5" fill="#e82020"/>
<rect x="149.4" y="593.0" width="3.3" height="1.5" fill="#e82020"/>
<rect x="152.7" y="593.0" width="2.9" height="1.5" fill="#e82020"/>
<rect x="155.6" y="593.0" width="2.2" height="1.5" fill="#e03030"/>
<rect x="157.9" y="593.0" width="1.8" height="1.5" fill="#e82020"/>
<rect x="159.7" y="593.0" width="3.4" height="1.5" fill="#e82020"/>
<rect x="163.1" y="593.0" width="2.1" height="1.5" fill="#e82020"/>
<rect x="165.1" y="593.0" width="1.8" height="1.5" fill="#20b0b0"/>
<rect x="166.9" y="593.0" width="2.9" height="1.5" fill="#e82020"/>
<rect x="169.8" y="593.0" width="1.8" height="1.5" fill="#e82020"/>
<rect x="171.6" y="593.0" width="2.6" height="1.5" fill="#e82020"/>
<rect x="174.3" y="593.0" width="1.7" height="1.5" fill="#e82020"/>
<rect x="176.0" y="593.0" width="1.9" height="1.5" fill="#e82020"/>
<rect x="177.9" y="593.0" width="2.6" height="1.5" fill="#e82020"/>
<rect x="180.5" y="593.0" width="1.7" height="1.5" fill="#e82020"/>
<rect x="182.2" y="593.0" width="3.5" height="1.5" fill="#e82020"/>
<rect x="185.6" y="593.0" width="1.7" height="1.5" fill="#e82020"/>
<line x1="57.6" y1="507.7" x2="57.6" y2="595.5" stroke="#2a2a2a" stroke-width="1.3" />
<line x1="57.0" y1="594.9" x2="366" y2="594.9" stroke="#444" stroke-width="1.0" />
<line x1="55.300000000000004" y1="591.2" x2="57.6" y2="591.2" stroke="#333" stroke-width="0.75" />
<line x1="55.300000000000004" y1="587.4" x2="57.6" y2="587.4" stroke="#333" stroke-width="0.75" />
<line x1="55.300000000000004" y1="583.7" x2="57.6" y2="583.7" stroke="#333" stroke-width="0.75" />
<line x1="55.300000000000004" y1="580.0" x2="57.6" y2="580.0" stroke="#333" stroke-width="0.75" />
<line x1="55.300000000000004" y1="576.3" x2="57.6" y2="576.3" stroke="#333" stroke-width="0.75" />
<line x1="54.0" y1="572.5" x2="57.6" y2="572.5" stroke="#333" stroke-width="0.75" />
<line x1="55.300000000000004" y1="568.8" x2="57.6" y2="568.8" stroke="#333" stroke-width="0.75" />
<line x1="55.300000000000004" y1="565.1" x2="57.6" y2="565.1" stroke="#333" stroke-width="0.75" />
<line x1="55.300000000000004" y1="561.4" x2="57.6" y2="561.4" stroke="#333" stroke-width="0.75" />
<line x1="55.300000000000004" y1="557.6" x2="57.6" y2="557.6" stroke="#333" stroke-width="0.75" />
<line x1="55.300000000000004" y1="553.9" x2="57.6" y2="553.9" stroke="#333" stroke-width="0.75" />
<line x1="54.0" y1="550.2" x2="57.6" y2="550.2" stroke="#333" stroke-width="0.75" />
<line x1="55.300000000000004" y1="546.5" x2="57.6" y2="546.5" stroke="#333" stroke-width="0.75" />
<line x1="55.300000000000004" y1="542.7" x2="57.6" y2="542.7" stroke="#333" stroke-width="0.75" />
<line x1="55.300000000000004" y1="539.0" x2="57.6" y2="539.0" stroke="#333" stroke-width="0.75" />
<line x1="55.300000000000004" y1="535.3" x2="57.6" y2="535.3" stroke="#333" stroke-width="0.75" />
<line x1="55.300000000000004" y1="531.5" x2="57.6" y2="531.5" stroke="#333" stroke-width="0.75" />
<line x1="54.0" y1="527.8" x2="57.6" y2="527.8" stroke="#333" stroke-width="0.75" />
<line x1="55.300000000000004" y1="524.1" x2="57.6" y2="524.1" stroke="#333" stroke-width="0.75" />
<line x1="55.300000000000004" y1="520.4" x2="57.6" y2="520.4" stroke="#333" stroke-width="0.75" />
<line x1="55.300000000000004" y1="516.6" x2="57.6" y2="516.6" stroke="#333" stroke-width="0.75" />
<line x1="55.300000000000004" y1="512.9" x2="57.6" y2="512.9" stroke="#333" stroke-width="0.75" />
<line x1="55.300000000000004" y1="509.2" x2="57.6" y2="509.2" stroke="#333" stroke-width="0.75" />
<line x1="57.6" y1="594.9" x2="57.6" y2="598.5" stroke="#333" stroke-width="0.75" />
<line x1="77.69272727272727" y1="594.9" x2="77.69272727272727" y2="596.9" stroke="#333" stroke-width="0.75" />
<line x1="89.4412987012987" y1="594.9" x2="89.4412987012987" y2="596.9" stroke="#333" stroke-width="0.75" />
<line x1="97.78545454545454" y1="594.9" x2="97.78545454545454" y2="596.9" stroke="#333" stroke-width="0.75" />
<line x1="104.26051948051948" y1="594.9" x2="104.26051948051948" y2="596.9" stroke="#333" stroke-width="0.75" />
<line x1="109.53402597402598" y1="594.9" x2="109.53402597402598" y2="596.9" stroke="#333" stroke-width="0.75" />
<line x1="114.00649350649351" y1="594.9" x2="114.00649350649351" y2="596.9" stroke="#333" stroke-width="0.75" />
<line x1="117.87818181818182" y1="594.9" x2="117.87818181818182" y2="596.9" stroke="#333" stroke-width="0.75" />
<line x1="121.28259740259739" y1="594.9" x2="121.28259740259739" y2="596.9" stroke="#333" stroke-width="0.75" />
<line x1="124.35324675324674" y1="594.9" x2="124.35324675324674" y2="598.5" stroke="#333" stroke-width="0.75" />
<line x1="144.445974025974" y1="594.9" x2="144.445974025974" y2="596.9" stroke="#333" stroke-width="0.75" />
<line x1="156.19454545454542" y1="594.9" x2="156.19454545454542" y2="596.9" stroke="#333" stroke-width="0.75" />
<line x1="164.53870129870128" y1="594.9" x2="164.53870129870128" y2="596.9" stroke="#333" stroke-width="0.75" />
<line x1="171.0137662337662" y1="594.9" x2="171.0137662337662" y2="596.9" stroke="#333" stroke-width="0.75" />
<line x1="176.28727272727272" y1="594.9" x2="176.28727272727272" y2="596.9" stroke="#333" stroke-width="0.75" />
<line x1="180.75974025974025" y1="594.9" x2="180.75974025974025" y2="596.9" stroke="#333" stroke-width="0.75" />
<line x1="184.63142857142856" y1="594.9" x2="184.63142857142856" y2="596.9" stroke="#333" stroke-width="0.75" />
<line x1="188.03584415584413" y1="594.9" x2="188.03584415584413" y2="596.9" stroke="#333" stroke-width="0.75" />
<line x1="191.10649350649348" y1="594.9" x2="191.10649350649348" y2="598.5" stroke="#333" stroke-width="0.75" />
<line x1="211.19922077922078" y1="594.9" x2="211.19922077922078" y2="596.9" stroke="#333" stroke-width="0.75" />
<line x1="222.9477922077922" y1="594.9" x2="222.9477922077922" y2="596.9" stroke="#333" stroke-width="0.75" />
<line x1="231.29194805194803" y1="594.9" x2="231.29194805194803" y2="596.9" stroke="#333" stroke-width="0.75" />
<line x1="237.76701298701295" y1="594.9" x2="237.76701298701295" y2="596.9" stroke="#333" stroke-width="0.75" />
<line x1="243.04051948051946" y1="594.9" x2="243.04051948051946" y2="596.9" stroke="#333" stroke-width="0.75" />
<line x1="247.51298701298697" y1="594.9" x2="247.51298701298697" y2="596.9" stroke="#333" stroke-width="0.75" />
<line x1="251.3846753246753" y1="594.9" x2="251.3846753246753" y2="596.9" stroke="#333" stroke-width="0.75" />
<line x1="254.78909090909085" y1="594.9" x2="254.78909090909085" y2="596.9" stroke="#333" stroke-width="0.75" />
<line x1="257.85974025974025" y1="594.9" x2="257.85974025974025" y2="598.5" stroke="#333" stroke-width="0.75" />
<line x1="277.95246753246755" y1="594.9" x2="277.95246753246755" y2="596.9" stroke="#333" stroke-width="0.75" />
<line x1="289.70103896103893" y1="594.9" x2="289.70103896103893" y2="596.9" stroke="#333" stroke-width="0.75" />
<line x1="298.0451948051948" y1="594.9" x2="298.0451948051948" y2="596.9" stroke="#333" stroke-width="0.75" />
<line x1="304.52025974025975" y1="594.9" x2="304.52025974025975" y2="596.9" stroke="#333" stroke-width="0.75" />
<line x1="309.79376623376623" y1="594.9" x2="309.79376623376623" y2="596.9" stroke="#333" stroke-width="0.75" />
<line x1="314.2662337662337" y1="594.9" x2="314.2662337662337" y2="596.9" stroke="#333" stroke-width="0.75" />
<line x1="318.1379220779221" y1="594.9" x2="318.1379220779221" y2="596.9" stroke="#333" stroke-width="0.75" />
<line x1="321.5423376623376" y1="594.9" x2="321.5423376623376" y2="596.9" stroke="#333" stroke-width="0.75" />
<line x1="144.7" y1="507.2" x2="144.7" y2="594.9" stroke="#ff4646" stroke-width="1.1" />
<path d="M57.6,529.8 H149.8 V561.6" fill="none" stroke="#ff4646" stroke-width="1.1"/>
<line x1="57.6" y1="561.6" x2="366" y2="561.6" stroke="#ff4646" stroke-width="1.1" />
<path d="M146.7,561.6 V594.3 H258.2 V561.6" fill="none" stroke="#ff4646" stroke-width="1.1"/>
<circle cx="57.6" cy="529.8" r="1.3" fill="#fff" stroke="#ff4646" stroke-width="0.7"/>
<circle cx="149.8" cy="529.8" r="1.3" fill="#fff" stroke="#ff4646" stroke-width="0.7"/>
<circle cx="57.6" cy="561.6" r="1.3" fill="#fff" stroke="#ff4646" stroke-width="0.7"/>
<circle cx="149.8" cy="561.6" r="1.3" fill="#fff" stroke="#ff4646" stroke-width="0.7"/>
<circle cx="258.2" cy="561.6" r="1.3" fill="#fff" stroke="#ff4646" stroke-width="0.7"/>
<circle cx="258.2" cy="594.3" r="1.3" fill="#fff" stroke="#ff4646" stroke-width="0.7"/>
<circle cx="146.7" cy="594.3" r="1.3" fill="#fff" stroke="#ff4646" stroke-width="0.7"/>
<circle cx="146.7" cy="561.6" r="1.3" fill="#fff" stroke="#ff4646" stroke-width="0.7"/>
<text x="100.7" y="526.2" font-family="'Liberation Sans', Arial, sans-serif" font-size="7.8" fill="#ff3030" font-weight="bold" >3</text>
<text x="200.7" y="558.7" font-family="'Liberation Sans', Arial, sans-serif" font-size="7.4" fill="#ff3030" font-weight="bold" >4</text>
<text x="59.800000000000004" y="509.7" font-family="'Liberation Sans', Arial, sans-serif" font-size="6.8" fill="#ff3030" >A 0.1% 0.2/µl</text>
<text x="326.6" y="509.59999999999997" font-family="'Liberation Sans', Arial, sans-serif" font-size="6.8" fill="#ff3030" >B 0.1% 0.2/µl</text>
<text x="59.800000000000004" y="591.4" font-family="'Liberation Sans', Arial, sans-serif" font-size="6.8" fill="#ff3030" >C 34.4% 86.7/µl</text>
<text x="326.6" y="590.9" font-family="'Liberation Sans', Arial, sans-serif" font-size="6.8" fill="#ff3030" >D 65.5% 165.3/µl</text>
<text x="366" y="596.9" font-family="'Liberation Sans', Arial, sans-serif" font-size="6.8" fill="#3a3a3a" >10^6.62</text>
<text x="46.6" y="599.4" font-family="'Liberation Sans', Arial, sans-serif" font-size="6.8" fill="#3a3a3a" >100</text>
<text transform="translate(51.300000000000004,591.1) rotate(-90)" font-family="'Liberation Sans', Arial, sans-serif" font-size="6.8" fill="#3a3a3a" >100</text>
<text transform="translate(51.300000000000004,519.5) rotate(-90)" font-family="'Liberation Sans', Arial, sans-serif" font-size="6.8" fill="#3a3a3a" >10^6.62</text>
<text transform="translate(51.300000000000004,553.0) rotate(-90)" font-family="'Liberation Sans', Arial, sans-serif" font-size="6.8" fill="#ff3030" >638Red</text>
<text transform="translate(375.5,584.0) rotate(-90)" font-family="'Liberation Sans', Arial, sans-serif" font-size="6.8" fill="#ff3030" >488Grn</text>
<text x="47.6" y="604.6" font-family="'Liberation Sans', Arial, sans-serif" font-size="6.8" fill="#ff3030" textLength="196.7" lengthAdjust="spacingAndGlyphs" >A=0.1%,0.2/ul B=0.1%,0.2/ul C=34.4%,86.7/ul D=65.5%,165.3/ul</text>
<text x="206" y="529.2" font-family="'Liberation Serif', 'Times New Roman', serif" font-size="11.9" fill="#000" font-weight="bold" textLength="133.4" lengthAdjust="spacingAndGlyphs" >rNC8-pMG36e-challenge</text>
<rect x="58.9" y="617.4" width="36.2" height="10.7" fill="#fff" stroke="#c8c8c8" stroke-width="0.6" />
<text x="61.5" y="625.25" font-family="'Liberation Sans', Arial, sans-serif" font-size="7" fill="#222" >Auto</text>
<path d="M86.4,621.55 l2.2,2.2 l2.2,-2.2" fill="none" stroke="#666" stroke-width="0.6"/>
<text x="98.5" y="625.65" font-family="'Liberation Sans', Arial, sans-serif" font-size="7" fill="#222" textLength="33.2" lengthAdjust="spacingAndGlyphs" >Gated by 2</text>
<path d="M103.5,688.6h1.0v1.0h-1.0zM93.5,692.5h1.0v1.0h-1.0zM102.5,695.8h1.0v1.0h-1.0zM106.6,701.8h1.0v1.0h-1.0zM110.0,689.1h1.0v1.0h-1.0zM82.2,702.8h1.0v1.0h-1.0zM90.1,689.0h1.0v1.0h-1.0zM89.5,689.7h1.0v1.0h-1.0zM83.1,709.1h1.0v1.0h-1.0zM84.6,699.4h1.0v1.0h-1.0zM91.1,704.3h1.0v1.0h-1.0zM75.8,715.7h1.0v1.0h-1.0zM78.2,697.4h1.0v1.0h-1.0zM91.7,697.4h1.0v1.0h-1.0zM95.2,686.6h1.0v1.0h-1.0zM73.2,711.0h1.0v1.0h-1.0zM84.1,709.2h1.0v1.0h-1.0zM88.6,703.8h1.0v1.0h-1.0zM89.6,701.8h1.0v1.0h-1.0zM86.0,686.1h1.0v1.0h-1.0zM91.7,688.7h1.0v1.0h-1.0zM97.6,702.4h1.0v1.0h-1.0zM89.4,702.7h1.0v1.0h-1.0zM93.3,697.4h1.0v1.0h-1.0zM86.2,700.4h1.0v1.0h-1.0zM91.6,696.8h1.0v1.0h-1.0zM86.8,693.1h1.0v1.0h-1.0zM72.7,700.6h1.0v1.0h-1.0zM87.5,690.5h1.0v1.0h-1.0zM86.7,704.7h1.0v1.0h-1.0zM77.7,709.7h1.0v1.0h-1.0zM68.6,711.1h1.0v1.0h-1.0zM87.6,699.2h1.0v1.0h-1.0zM89.9,705.4h1.0v1.0h-1.0zM91.7,695.1h1.0v1.0h-1.0zM98.7,701.3h1.0v1.0h-1.0zM89.4,702.9h1.0v1.0h-1.0zM103.2,707.0h1.0v1.0h-1.0zM96.5,707.3h1.0v1.0h-1.0zM108.1,706.5h1.0v1.0h-1.0zM79.2,697.8h1.0v1.0h-1.0zM74.7,701.3h1.0v1.0h-1.0zM72.6,695.6h1.0v1.0h-1.0zM82.8,708.6h1.0v1.0h-1.0zM98.4,713.7h1.0v1.0h-1.0zM77.4,705.1h1.0v1.0h-1.0zM92.3,704.9h1.0v1.0h-1.0zM92.3,707.2h1.0v1.0h-1.0zM82.2,697.9h1.0v1.0h-1.0zM88.3,701.3h1.0v1.0h-1.0zM83.1,690.0h1.0v1.0h-1.0zM102.1,702.1h1.0v1.0h-1.0zM69.8,705.4h1.0v1.0h-1.0zM71.1,698.4h1.0v1.0h-1.0zM83.9,704.3h1.0v1.0h-1.0zM86.2,698.2h1.0v1.0h-1.0zM104.0,692.3h1.0v1.0h-1.0zM80.0,707.3h1.0v1.0h-1.0zM110.2,699.3h1.0v1.0h-1.0zM94.2,701.3h1.0v1.0h-1.0zM83.5,705.2h1.0v1.0h-1.0zM82.9,703.9h1.0v1.0h-1.0zM90.9,703.8h1.0v1.0h-1.0zM98.0,690.8h1.0v1.0h-1.0zM84.0,703.3h1.0v1.0h-1.0zM89.4,696.7h1.0v1.0h-1.0zM88.5,692.2h1.0v1.0h-1.0zM98.7,701.5h1.0v1.0h-1.0zM93.9,708.2h1.0v1.0h-1.0zM85.7,704.0h1.0v1.0h-1.0zM83.0,693.1h1.0v1.0h-1.0zM79.9,706.9h1.0v1.0h-1.0zM75.1,710.2h1.0v1.0h-1.0zM96.8,712.4h1.0v1.0h-1.0zM78.9,711.1h1.0v1.0h-1.0zM95.7,697.0h1.0v1.0h-1.0zM102.2,691.1h1.0v1.0h-1.0zM86.0,689.4h1.0v1.0h-1.0zM108.8,694.8h1.0v1.0h-1.0zM98.3,695.2h1.0v1.0h-1.0zM103.8,693.4h1.0v1.0h-1.0zM87.3,699.8h1.0v1.0h-1.0zM87.5,705.5h1.0v1.0h-1.0zM76.4,702.3h1.0v1.0h-1.0zM96.9,711.9h1.0v1.0h-1.0zM70.1,709.5h1.0v1.0h-1.0zM86.3,689.9h1.0v1.0h-1.0zM81.4,707.8h1.0v1.0h-1.0zM96.9,710.3h1.0v1.0h-1.0zM105.2,697.8h1.0v1.0h-1.0zM79.0,695.3h1.0v1.0h-1.0zM74.0,699.7h1.0v1.0h-1.0zM82.5,708.0h1.0v1.0h-1.0zM73.4,698.5h1.0v1.0h-1.0zM82.9,709.4h1.0v1.0h-1.0zM93.3,701.0h1.0v1.0h-1.0zM98.4,699.3h1.0v1.0h-1.0zM75.0,706.1h1.0v1.0h-1.0zM88.6,701.0h1.0v1.0h-1.0zM85.7,711.8h1.0v1.0h-1.0zM78.5,693.2h1.0v1.0h-1.0zM83.8,696.1h1.0v1.0h-1.0zM77.4,687.1h1.0v1.0h-1.0zM73.4,701.1h1.0v1.0h-1.0zM83.5,705.3h1.0v1.0h-1.0zM84.2,708.4h1.0v1.0h-1.0zM61.2,695.3h1.0v1.0h-1.0zM91.5,707.8h1.0v1.0h-1.0zM90.7,712.6h1.0v1.0h-1.0zM98.8,711.2h1.0v1.0h-1.0zM93.0,695.8h1.0v1.0h-1.0zM97.0,691.3h1.0v1.0h-1.0zM80.1,700.0h1.0v1.0h-1.0zM105.8,704.3h1.0v1.0h-1.0zM77.2,703.3h1.0v1.0h-1.0zM72.2,702.1h1.0v1.0h-1.0zM87.0,704.4h1.0v1.0h-1.0zM103.8,693.2h1.0v1.0h-1.0zM103.8,694.1h1.0v1.0h-1.0zM102.6,706.8h1.0v1.0h-1.0zM99.2,699.2h1.0v1.0h-1.0zM101.5,692.5h1.0v1.0h-1.0zM116.3,702.3h1.0v1.0h-1.0zM91.2,697.1h1.0v1.0h-1.0zM89.3,690.9h1.0v1.0h-1.0zM95.0,693.7h1.0v1.0h-1.0zM92.4,712.6h1.0v1.0h-1.0zM89.1,716.3h1.0v1.0h-1.0zM94.1,697.7h1.0v1.0h-1.0zM96.6,707.7h1.0v1.0h-1.0zM108.3,710.2h1.0v1.0h-1.0zM80.3,700.7h1.0v1.0h-1.0zM98.8,697.7h1.0v1.0h-1.0zM98.8,698.2h1.0v1.0h-1.0zM88.3,704.0h1.0v1.0h-1.0zM104.3,694.1h1.0v1.0h-1.0zM99.2,706.4h1.0v1.0h-1.0zM88.9,700.9h1.0v1.0h-1.0zM80.9,691.3h1.0v1.0h-1.0zM80.8,699.5h1.0v1.0h-1.0zM96.9,701.8h1.0v1.0h-1.0zM84.7,702.2h1.0v1.0h-1.0zM78.5,693.8h1.0v1.0h-1.0zM109.6,703.7h1.0v1.0h-1.0zM87.6,707.2h1.0v1.0h-1.0zM82.7,697.2h1.0v1.0h-1.0zM69.6,706.5h1.0v1.0h-1.0zM100.7,696.1h1.0v1.0h-1.0zM83.5,696.4h1.0v1.0h-1.0zM87.3,708.9h1.0v1.0h-1.0zM90.4,696.5h1.0v1.0h-1.0zM84.2,700.8h1.0v1.0h-1.0zM91.8,695.1h1.0v1.0h-1.0zM79.0,695.4h1.0v1.0h-1.0zM98.2,693.0h1.0v1.0h-1.0zM84.5,692.2h1.0v1.0h-1.0zM100.7,704.0h1.0v1.0h-1.0zM84.4,705.5h1.0v1.0h-1.0zM84.4,705.6h1.0v1.0h-1.0zM116.6,710.2h1.0v1.0h-1.0zM91.6,700.5h1.0v1.0h-1.0zM98.6,697.2h1.0v1.0h-1.0zM102.5,696.5h1.0v1.0h-1.0zM70.0,704.2h1.0v1.0h-1.0zM87.1,706.8h1.0v1.0h-1.0zM84.0,696.2h1.0v1.0h-1.0zM98.1,696.6h1.0v1.0h-1.0zM77.5,715.9h1.0v1.0h-1.0zM67.2,707.4h1.0v1.0h-1.0zM101.6,704.1h1.0v1.0h-1.0zM105.6,691.9h1.0v1.0h-1.0zM85.5,690.8h1.0v1.0h-1.0zM104.3,709.5h1.0v1.0h-1.0zM91.1,710.8h1.0v1.0h-1.0zM78.6,698.5h1.0v1.0h-1.0zM80.0,699.2h1.0v1.0h-1.0zM97.1,709.1h1.0v1.0h-1.0zM91.0,709.9h1.0v1.0h-1.0zM81.7,701.0h1.0v1.0h-1.0zM81.3,702.1h1.0v1.0h-1.0zM71.8,689.0h1.0v1.0h-1.0zM91.5,692.3h1.0v1.0h-1.0zM98.2,702.6h1.0v1.0h-1.0zM93.8,702.1h1.0v1.0h-1.0zM80.4,702.7h1.0v1.0h-1.0zM83.4,702.1h1.0v1.0h-1.0zM98.3,710.5h1.0v1.0h-1.0zM100.8,697.6h1.0v1.0h-1.0zM94.2,689.8h1.0v1.0h-1.0zM103.3,694.7h1.0v1.0h-1.0zM74.7,710.4h1.0v1.0h-1.0zM71.1,711.6h1.0v1.0h-1.0zM84.8,710.9h1.0v1.0h-1.0zM90.1,704.9h1.0v1.0h-1.0zM91.5,705.0h1.0v1.0h-1.0zM97.8,694.9h1.0v1.0h-1.0zM86.9,701.5h1.0v1.0h-1.0zM90.3,701.0h1.0v1.0h-1.0zM93.8,689.0h1.0v1.0h-1.0zM120.8,700.7h1.0v1.0h-1.0zM95.2,697.8h1.0v1.0h-1.0zM98.6,705.9h1.0v1.0h-1.0zM85.6,694.4h1.0v1.0h-1.0zM74.7,701.9h1.0v1.0h-1.0zM79.5,697.6h1.0v1.0h-1.0zM67.9,702.4h1.0v1.0h-1.0zM73.0,695.7h1.0v1.0h-1.0zM91.4,686.9h1.0v1.0h-1.0zM90.1,704.7h1.0v1.0h-1.0zM83.5,699.7h1.0v1.0h-1.0zM108.2,700.1h1.0v1.0h-1.0zM95.1,700.0h1.0v1.0h-1.0zM86.4,712.4h1.0v1.0h-1.0zM63.8,703.6h1.0v1.0h-1.0zM94.8,698.8h1.0v1.0h-1.0zM78.6,691.1h1.0v1.0h-1.0zM87.7,703.3h1.0v1.0h-1.0zM100.3,708.1h1.0v1.0h-1.0zM92.6,696.0h1.0v1.0h-1.0zM92.3,703.1h1.0v1.0h-1.0zM92.5,705.7h1.0v1.0h-1.0zM74.7,708.5h1.0v1.0h-1.0zM93.9,703.1h1.0v1.0h-1.0zM65.7,707.3h1.0v1.0h-1.0zM88.3,704.7h1.0v1.0h-1.0zM92.9,697.3h1.0v1.0h-1.0zM70.8,713.6h1.0v1.0h-1.0zM98.1,711.8h1.0v1.0h-1.0zM78.9,706.4h1.0v1.0h-1.0zM74.9,702.3h1.0v1.0h-1.0zM90.1,700.8h1.0v1.0h-1.0zM88.4,711.2h1.0v1.0h-1.0zM88.6,689.3h1.0v1.0h-1.0zM94.9,704.4h1.0v1.0h-1.0zM93.3,694.6h1.0v1.0h-1.0zM95.8,695.5h1.0v1.0h-1.0zM100.3,703.5h1.0v1.0h-1.0zM86.7,696.7h1.0v1.0h-1.0zM82.7,708.2h1.0v1.0h-1.0zM115.3,692.0h1.0v1.0h-1.0zM79.3,712.3h1.0v1.0h-1.0zM90.4,690.8h1.0v1.0h-1.0zM86.0,691.5h1.0v1.0h-1.0zM79.8,696.5h1.0v1.0h-1.0zM74.1,702.7h1.0v1.0h-1.0zM81.8,708.4h1.0v1.0h-1.0zM63.6,702.4h1.0v1.0h-1.0zM71.8,713.4h1.0v1.0h-1.0zM103.8,707.2h1.0v1.0h-1.0zM92.2,695.0h1.0v1.0h-1.0zM91.1,706.3h1.0v1.0h-1.0zM104.7,688.7h1.0v1.0h-1.0zM86.4,695.3h1.0v1.0h-1.0zM105.3,696.6h1.0v1.0h-1.0zM95.6,706.8h1.0v1.0h-1.0zM107.2,696.0h1.0v1.0h-1.0zM87.4,701.6h1.0v1.0h-1.0zM92.9,707.6h1.0v1.0h-1.0zM78.8,689.3h1.0v1.0h-1.0zM85.6,706.8h1.0v1.0h-1.0zM88.5,713.8h1.0v1.0h-1.0zM80.8,693.3h1.0v1.0h-1.0zM81.4,700.0h1.0v1.0h-1.0zM74.5,692.4h1.0v1.0h-1.0zM99.7,693.9h1.0v1.0h-1.0zM103.2,692.2h1.0v1.0h-1.0zM92.6,710.0h1.0v1.0h-1.0zM76.2,705.6h1.0v1.0h-1.0zM70.2,702.5h1.0v1.0h-1.0zM93.3,697.8h1.0v1.0h-1.0zM86.6,700.8h1.0v1.0h-1.0zM83.5,700.4h1.0v1.0h-1.0zM76.6,702.0h1.0v1.0h-1.0zM71.3,710.3h1.0v1.0h-1.0zM88.8,697.5h1.0v1.0h-1.0zM88.8,697.5h1.0v1.0h-1.0zM105.7,695.5h1.0v1.0h-1.0zM81.8,703.4h1.0v1.0h-1.0zM99.4,692.6h1.0v1.0h-1.0zM73.0,699.3h1.0v1.0h-1.0zM91.2,708.7h1.0v1.0h-1.0zM76.9,689.5h1.0v1.0h-1.0zM105.9,708.9h1.0v1.0h-1.0zM97.3,708.3h1.0v1.0h-1.0zM87.0,692.7h1.0v1.0h-1.0zM112.8,712.4h1.0v1.0h-1.0zM90.2,701.9h1.0v1.0h-1.0zM90.8,695.0h1.0v1.0h-1.0zM78.3,701.9h1.0v1.0h-1.0zM77.0,711.8h1.0v1.0h-1.0zM95.9,704.1h1.0v1.0h-1.0zM78.8,700.7h1.0v1.0h-1.0zM86.7,704.2h1.0v1.0h-1.0zM86.7,695.7h1.0v1.0h-1.0zM94.6,707.7h1.0v1.0h-1.0zM76.4,704.1h1.0v1.0h-1.0zM76.9,705.9h1.0v1.0h-1.0zM85.7,707.8h1.0v1.0h-1.0zM64.3,710.6h1.0v1.0h-1.0zM73.5,698.3h1.0v1.0h-1.0zM93.1,695.5h1.0v1.0h-1.0zM81.4,704.4h1.0v1.0h-1.0zM98.3,702.7h1.0v1.0h-1.0zM94.4,690.3h1.0v1.0h-1.0zM87.2,700.3h1.0v1.0h-1.0zM81.1,704.1h1.0v1.0h-1.0zM89.4,697.5h1.0v1.0h-1.0zM90.6,704.6h1.0v1.0h-1.0zM103.5,695.6h1.0v1.0h-1.0zM87.8,703.9h1.0v1.0h-1.0zM110.2,700.8h1.0v1.0h-1.0zM79.5,694.0h1.0v1.0h-1.0zM102.8,686.7h1.0v1.0h-1.0zM74.2,714.6h1.0v1.0h-1.0zM110.7,688.6h1.0v1.0h-1.0zM94.6,706.4h1.0v1.0h-1.0zM81.0,695.4h1.0v1.0h-1.0zM78.2,713.8h1.0v1.0h-1.0zM78.8,699.1h1.0v1.0h-1.0zM78.5,703.9h1.0v1.0h-1.0zM92.9,710.6h1.0v1.0h-1.0zM92.3,707.1h1.0v1.0h-1.0zM106.2,700.7h1.0v1.0h-1.0zM71.6,697.3h1.0v1.0h-1.0zM84.9,695.6h1.0v1.0h-1.0zM105.3,715.5h1.0v1.0h-1.0zM95.8,706.1h1.0v1.0h-1.0zM95.4,710.6h1.0v1.0h-1.0zM110.8,687.2h1.0v1.0h-1.0zM88.5,703.9h1.0v1.0h-1.0zM82.6,696.6h1.0v1.0h-1.0zM80.4,701.3h1.0v1.0h-1.0zM106.5,701.8h1.0v1.0h-1.0zM95.0,707.3h1.0v1.0h-1.0zM81.4,691.0h1.0v1.0h-1.0zM89.1,695.2h1.0v1.0h-1.0zM74.7,700.9h1.0v1.0h-1.0zM94.7,708.1h1.0v1.0h-1.0zM92.0,704.3h1.0v1.0h-1.0zM86.2,695.7h1.0v1.0h-1.0zM81.7,710.4h1.0v1.0h-1.0zM74.0,703.3h1.0v1.0h-1.0zM71.8,696.1h1.0v1.0h-1.0zM90.6,708.5h1.0v1.0h-1.0zM87.8,701.3h1.0v1.0h-1.0zM94.3,698.9h1.0v1.0h-1.0zM86.0,709.2h1.0v1.0h-1.0zM85.8,704.8h1.0v1.0h-1.0zM91.5,708.5h1.0v1.0h-1.0zM71.1,699.1h1.0v1.0h-1.0zM117.9,703.4h1.0v1.0h-1.0zM103.8,699.4h1.0v1.0h-1.0zM100.2,714.9h1.0v1.0h-1.0zM84.7,702.6h1.0v1.0h-1.0zM81.7,702.1h1.0v1.0h-1.0zM110.3,697.4h1.0v1.0h-1.0zM86.3,705.8h1.0v1.0h-1.0zM90.0,700.5h1.0v1.0h-1.0zM83.0,711.5h1.0v1.0h-1.0zM99.5,705.0h1.0v1.0h-1.0zM67.0,710.8h1.0v1.0h-1.0zM90.8,700.5h1.0v1.0h-1.0zM83.9,692.9h1.0v1.0h-1.0zM86.6,691.3h1.0v1.0h-1.0zM87.2,698.7h1.0v1.0h-1.0zM110.6,697.6h1.0v1.0h-1.0zM104.5,710.6h1.0v1.0h-1.0zM114.6,703.6h1.0v1.0h-1.0zM99.4,705.0h1.0v1.0h-1.0zM78.9,696.1h1.0v1.0h-1.0zM105.5,690.7h1.0v1.0h-1.0zM96.3,699.9h1.0v1.0h-1.0zM97.0,701.1h1.0v1.0h-1.0zM99.5,689.9h1.0v1.0h-1.0zM85.0,703.4h1.0v1.0h-1.0zM95.0,697.1h1.0v1.0h-1.0zM87.8,708.6h1.0v1.0h-1.0zM98.9,687.0h1.0v1.0h-1.0zM74.6,708.2h1.0v1.0h-1.0zM91.1,696.3h1.0v1.0h-1.0zM90.3,692.6h1.0v1.0h-1.0zM88.3,698.9h1.0v1.0h-1.0zM72.8,706.7h1.0v1.0h-1.0zM83.0,705.7h1.0v1.0h-1.0zM94.6,705.1h1.0v1.0h-1.0zM97.3,715.0h1.0v1.0h-1.0zM114.2,697.8h1.0v1.0h-1.0zM105.2,698.1h1.0v1.0h-1.0zM72.6,687.6h1.0v1.0h-1.0zM100.7,700.1h1.0v1.0h-1.0zM106.6,701.3h1.0v1.0h-1.0zM98.6,695.3h1.0v1.0h-1.0zM76.6,711.0h1.0v1.0h-1.0zM93.5,713.2h1.0v1.0h-1.0zM97.9,693.3h1.0v1.0h-1.0zM90.1,699.9h1.0v1.0h-1.0zM94.7,697.5h1.0v1.0h-1.0zM95.5,699.5h1.0v1.0h-1.0zM109.8,706.2h1.0v1.0h-1.0zM96.0,690.2h1.0v1.0h-1.0zM98.1,702.4h1.0v1.0h-1.0zM95.4,694.7h1.0v1.0h-1.0zM75.0,703.7h1.0v1.0h-1.0zM95.7,713.8h1.0v1.0h-1.0zM85.0,706.2h1.0v1.0h-1.0zM82.6,700.9h1.0v1.0h-1.0zM82.6,706.5h1.0v1.0h-1.0zM111.0,705.1h1.0v1.0h-1.0zM81.6,705.4h1.0v1.0h-1.0zM101.7,698.5h1.0v1.0h-1.0zM96.4,704.8h1.0v1.0h-1.0zM82.8,696.1h1.0v1.0h-1.0zM93.4,697.1h1.0v1.0h-1.0zM96.8,704.7h1.0v1.0h-1.0zM92.4,697.6h1.0v1.0h-1.0zM82.9,700.9h1.0v1.0h-1.0zM85.5,697.1h1.0v1.0h-1.0zM90.5,695.5h1.0v1.0h-1.0zM85.3,713.8h1.0v1.0h-1.0zM80.9,698.3h1.0v1.0h-1.0zM98.7,703.5h1.0v1.0h-1.0zM72.4,695.0h1.0v1.0h-1.0zM95.1,700.2h1.0v1.0h-1.0zM82.9,704.0h1.0v1.0h-1.0zM80.0,706.6h1.0v1.0h-1.0zM94.1,690.2h1.0v1.0h-1.0zM99.7,689.4h1.0v1.0h-1.0zM64.9,700.7h1.0v1.0h-1.0zM85.8,700.2h1.0v1.0h-1.0zM92.6,708.3h1.0v1.0h-1.0zM89.7,703.6h1.0v1.0h-1.0zM83.3,694.1h1.0v1.0h-1.0zM118.6,701.1h1.0v1.0h-1.0zM106.5,697.2h1.0v1.0h-1.0zM79.2,706.3h1.0v1.0h-1.0zM95.8,704.3h1.0v1.0h-1.0zM88.2,703.6h1.0v1.0h-1.0zM81.1,695.3h1.0v1.0h-1.0zM84.6,695.9h1.0v1.0h-1.0zM93.6,697.4h1.0v1.0h-1.0zM68.4,715.4h1.0v1.0h-1.0zM96.6,702.4h1.0v1.0h-1.0zM76.0,694.1h1.0v1.0h-1.0zM85.7,694.7h1.0v1.0h-1.0zM77.6,691.9h1.0v1.0h-1.0zM81.1,702.5h1.0v1.0h-1.0zM101.6,686.9h1.0v1.0h-1.0zM95.2,703.1h1.0v1.0h-1.0zM67.0,700.5h1.0v1.0h-1.0zM84.5,708.3h1.0v1.0h-1.0zM91.5,708.9h1.0v1.0h-1.0zM99.9,707.5h1.0v1.0h-1.0zM79.4,699.6h1.0v1.0h-1.0zM74.9,708.9h1.0v1.0h-1.0zM77.0,698.3h1.0v1.0h-1.0zM80.0,700.4h1.0v1.0h-1.0zM82.5,701.7h1.0v1.0h-1.0zM71.5,701.5h1.0v1.0h-1.0zM83.7,697.4h1.0v1.0h-1.0zM92.8,693.6h1.0v1.0h-1.0zM75.6,709.0h1.0v1.0h-1.0zM78.2,704.3h1.0v1.0h-1.0zM101.6,704.0h1.0v1.0h-1.0zM92.1,703.2h1.0v1.0h-1.0zM80.8,697.2h1.0v1.0h-1.0zM120.9,693.2h1.0v1.0h-1.0zM101.7,696.4h1.0v1.0h-1.0zM105.7,707.3h1.0v1.0h-1.0zM100.3,694.2h1.0v1.0h-1.0zM79.1,710.2h1.0v1.0h-1.0zM66.4,712.6h1.0v1.0h-1.0zM64.8,705.9h1.0v1.0h-1.0zM83.7,705.8h1.0v1.0h-1.0zM87.4,713.2h1.0v1.0h-1.0zM81.4,692.6h1.0v1.0h-1.0zM86.6,700.9h1.0v1.0h-1.0zM90.1,714.0h1.0v1.0h-1.0zM82.6,692.1h1.0v1.0h-1.0zM99.0,688.0h1.0v1.0h-1.0zM88.5,712.1h1.0v1.0h-1.0zM89.3,693.0h1.0v1.0h-1.0zM107.0,708.9h1.0v1.0h-1.0zM81.9,707.1h1.0v1.0h-1.0zM87.4,698.7h1.0v1.0h-1.0zM94.3,701.9h1.0v1.0h-1.0zM81.5,709.5h1.0v1.0h-1.0zM75.8,702.3h1.0v1.0h-1.0zM73.5,707.5h1.0v1.0h-1.0zM91.6,701.5h1.0v1.0h-1.0zM96.1,714.3h1.0v1.0h-1.0zM76.6,705.5h1.0v1.0h-1.0zM84.7,701.4h1.0v1.0h-1.0zM73.8,696.0h1.0v1.0h-1.0zM92.5,705.1h1.0v1.0h-1.0zM96.1,693.7h1.0v1.0h-1.0zM64.0,701.4h1.0v1.0h-1.0zM100.3,708.4h1.0v1.0h-1.0zM94.8,693.8h1.0v1.0h-1.0zM106.3,706.1h1.0v1.0h-1.0zM77.4,708.9h1.0v1.0h-1.0zM94.5,698.4h1.0v1.0h-1.0zM105.6,703.4h1.0v1.0h-1.0zM71.1,699.5h1.0v1.0h-1.0zM89.4,702.2h1.0v1.0h-1.0zM80.6,701.9h1.0v1.0h-1.0zM92.0,695.5h1.0v1.0h-1.0zM92.4,702.5h1.0v1.0h-1.0zM96.5,699.3h1.0v1.0h-1.0zM90.7,716.3h1.0v1.0h-1.0zM62.5,700.3h1.0v1.0h-1.0zM107.7,707.0h1.0v1.0h-1.0zM68.9,708.0h1.0v1.0h-1.0zM81.7,711.4h1.0v1.0h-1.0zM84.7,705.8h1.0v1.0h-1.0zM82.3,706.5h1.0v1.0h-1.0zM94.8,705.3h1.0v1.0h-1.0zM84.5,714.8h1.0v1.0h-1.0zM80.1,702.7h1.0v1.0h-1.0zM89.8,703.3h1.0v1.0h-1.0zM87.0,707.7h1.0v1.0h-1.0zM86.9,702.1h1.0v1.0h-1.0zM84.5,712.9h1.0v1.0h-1.0zM96.1,704.8h1.0v1.0h-1.0zM94.0,706.5h1.0v1.0h-1.0zM76.3,690.5h1.0v1.0h-1.0zM76.3,698.6h1.0v1.0h-1.0zM92.1,701.9h1.0v1.0h-1.0zM84.2,705.3h1.0v1.0h-1.0zM90.6,698.5h1.0v1.0h-1.0zM81.4,691.7h1.0v1.0h-1.0zM98.0,710.2h1.0v1.0h-1.0zM94.5,698.5h1.0v1.0h-1.0zM83.0,706.4h1.0v1.0h-1.0zM94.3,707.2h1.0v1.0h-1.0zM89.5,704.0h1.0v1.0h-1.0zM77.4,692.2h1.0v1.0h-1.0zM96.2,701.7h1.0v1.0h-1.0zM82.3,696.2h1.0v1.0h-1.0zM84.2,702.6h1.0v1.0h-1.0zM96.1,708.8h1.0v1.0h-1.0zM86.4,711.0h1.0v1.0h-1.0zM88.7,700.4h1.0v1.0h-1.0zM86.9,705.2h1.0v1.0h-1.0zM86.4,690.0h1.0v1.0h-1.0zM77.8,703.3h1.0v1.0h-1.0zM80.8,701.5h1.0v1.0h-1.0zM71.8,705.5h1.0v1.0h-1.0zM90.1,698.9h1.0v1.0h-1.0zM98.7,713.0h1.0v1.0h-1.0zM82.7,692.5h1.0v1.0h-1.0zM95.8,703.4h1.0v1.0h-1.0zM81.8,704.8h1.0v1.0h-1.0zM105.9,703.5h1.0v1.0h-1.0zM98.4,700.1h1.0v1.0h-1.0zM109.2,696.4h1.0v1.0h-1.0zM102.2,699.1h1.0v1.0h-1.0zM82.7,699.4h1.0v1.0h-1.0zM69.7,701.0h1.0v1.0h-1.0zM93.5,706.7h1.0v1.0h-1.0zM78.1,702.7h1.0v1.0h-1.0zM67.3,692.7h1.0v1.0h-1.0zM89.3,705.8h1.0v1.0h-1.0zM86.5,716.2h1.0v1.0h-1.0zM103.4,707.5h1.0v1.0h-1.0zM88.2,700.5h1.0v1.0h-1.0zM79.7,703.8h1.0v1.0h-1.0zM79.8,703.0h1.0v1.0h-1.0zM124.9,706.5h1.0v1.0h-1.0zM123.5,707.4h1.0v1.0h-1.0zM132.4,703.9h1.0v1.0h-1.0zM120.2,696.7h1.0v1.0h-1.0zM122.9,695.1h1.0v1.0h-1.0zM129.8,699.3h1.0v1.0h-1.0zM126.4,709.6h1.0v1.0h-1.0zM111.5,691.3h1.0v1.0h-1.0zM122.3,709.2h1.0v1.0h-1.0zM122.1,714.0h1.0v1.0h-1.0zM116.3,702.5h1.0v1.0h-1.0zM131.3,710.5h1.0v1.0h-1.0zM131.4,699.4h1.0v1.0h-1.0zM118.7,704.7h1.0v1.0h-1.0zM122.0,705.5h1.0v1.0h-1.0zM121.3,702.5h1.0v1.0h-1.0zM111.2,698.5h1.0v1.0h-1.0zM123.7,713.0h1.0v1.0h-1.0zM125.3,705.2h1.0v1.0h-1.0zM103.4,708.0h1.0v1.0h-1.0zM123.2,706.4h1.0v1.0h-1.0zM133.9,694.9h1.0v1.0h-1.0zM134.1,700.1h1.0v1.0h-1.0zM145.6,698.2h1.0v1.0h-1.0zM108.8,705.2h1.0v1.0h-1.0zM121.7,708.1h1.0v1.0h-1.0zM126.7,695.9h1.0v1.0h-1.0zM132.5,705.6h1.0v1.0h-1.0zM124.5,702.2h1.0v1.0h-1.0zM127.7,702.1h1.0v1.0h-1.0zM131.6,702.3h1.0v1.0h-1.0zM144.5,693.1h1.0v1.0h-1.0zM125.0,702.7h1.0v1.0h-1.0zM132.5,697.8h1.0v1.0h-1.0zM129.4,693.6h1.0v1.0h-1.0zM122.0,693.6h1.0v1.0h-1.0zM103.5,702.9h1.0v1.0h-1.0zM120.6,693.8h1.0v1.0h-1.0zM123.3,706.1h1.0v1.0h-1.0zM123.1,696.5h1.0v1.0h-1.0zM113.8,703.6h1.0v1.0h-1.0zM133.1,700.2h1.0v1.0h-1.0zM131.9,696.5h1.0v1.0h-1.0zM126.3,693.2h1.0v1.0h-1.0zM123.4,692.9h1.0v1.0h-1.0zM127.2,705.2h1.0v1.0h-1.0zM128.9,697.4h1.0v1.0h-1.0zM138.1,702.5h1.0v1.0h-1.0zM132.0,692.1h1.0v1.0h-1.0zM110.4,712.7h1.0v1.0h-1.0zM120.4,702.2h1.0v1.0h-1.0zM120.3,694.1h1.0v1.0h-1.0zM125.8,692.3h1.0v1.0h-1.0zM116.0,692.0h1.0v1.0h-1.0zM137.4,698.2h1.0v1.0h-1.0zM110.6,709.6h1.0v1.0h-1.0zM112.0,698.3h1.0v1.0h-1.0zM131.6,701.0h1.0v1.0h-1.0zM122.8,708.1h1.0v1.0h-1.0zM128.5,695.8h1.0v1.0h-1.0zM113.8,699.9h1.0v1.0h-1.0zM124.5,702.2h1.0v1.0h-1.0zM112.0,713.0h1.0v1.0h-1.0zM129.8,703.9h1.0v1.0h-1.0zM126.5,704.2h1.0v1.0h-1.0zM119.3,701.5h1.0v1.0h-1.0zM116.9,690.1h1.0v1.0h-1.0zM125.7,703.1h1.0v1.0h-1.0zM93.2,697.7h1.0v1.0h-1.0zM136.6,703.9h1.0v1.0h-1.0zM132.3,694.3h1.0v1.0h-1.0zM133.4,691.6h1.0v1.0h-1.0zM112.1,713.8h1.0v1.0h-1.0zM118.4,687.5h1.0v1.0h-1.0zM126.8,695.8h1.0v1.0h-1.0zM128.8,704.5h1.0v1.0h-1.0zM118.8,707.2h1.0v1.0h-1.0zM128.9,705.2h1.0v1.0h-1.0zM130.6,686.4h1.0v1.0h-1.0zM127.0,695.9h1.0v1.0h-1.0zM140.0,698.5h1.0v1.0h-1.0zM121.4,704.7h1.0v1.0h-1.0zM139.3,697.1h1.0v1.0h-1.0zM122.9,703.6h1.0v1.0h-1.0zM138.4,701.2h1.0v1.0h-1.0zM118.9,695.9h1.0v1.0h-1.0zM125.5,707.8h1.0v1.0h-1.0zM137.1,697.0h1.0v1.0h-1.0zM118.6,709.7h1.0v1.0h-1.0zM127.1,701.7h1.0v1.0h-1.0zM124.5,696.5h1.0v1.0h-1.0zM125.6,697.8h1.0v1.0h-1.0zM127.8,695.6h1.0v1.0h-1.0zM135.7,704.6h1.0v1.0h-1.0zM131.4,706.7h1.0v1.0h-1.0zM149.9,705.0h1.0v1.0h-1.0zM131.2,690.1h1.0v1.0h-1.0zM105.4,689.7h1.0v1.0h-1.0zM129.1,694.3h1.0v1.0h-1.0zM130.5,701.2h1.0v1.0h-1.0zM124.8,697.3h1.0v1.0h-1.0zM140.5,703.9h1.0v1.0h-1.0zM126.8,686.8h1.0v1.0h-1.0zM122.2,687.3h1.0v1.0h-1.0zM120.8,704.3h1.0v1.0h-1.0zM142.2,709.9h1.0v1.0h-1.0zM129.8,700.9h1.0v1.0h-1.0zM117.4,697.5h1.0v1.0h-1.0zM124.8,702.9h1.0v1.0h-1.0zM116.4,699.9h1.0v1.0h-1.0zM131.8,704.6h1.0v1.0h-1.0zM133.3,694.6h1.0v1.0h-1.0zM108.7,690.5h1.0v1.0h-1.0zM125.5,710.8h1.0v1.0h-1.0zM125.2,701.6h1.0v1.0h-1.0zM132.8,693.6h1.0v1.0h-1.0zM98.9,703.6h1.0v1.0h-1.0zM138.7,698.3h1.0v1.0h-1.0zM131.5,699.2h1.0v1.0h-1.0zM116.9,698.9h1.0v1.0h-1.0zM105.3,693.9h1.0v1.0h-1.0zM127.4,701.6h1.0v1.0h-1.0zM136.3,693.2h1.0v1.0h-1.0zM120.7,698.9h1.0v1.0h-1.0zM137.0,697.5h1.0v1.0h-1.0zM138.5,707.0h1.0v1.0h-1.0zM132.3,701.1h1.0v1.0h-1.0zM118.4,697.9h1.0v1.0h-1.0zM137.6,707.7h1.0v1.0h-1.0zM129.2,705.5h1.0v1.0h-1.0zM135.4,695.2h1.0v1.0h-1.0zM140.4,703.8h1.0v1.0h-1.0zM143.2,696.9h1.0v1.0h-1.0zM131.3,701.1h1.0v1.0h-1.0zM145.8,697.4h1.0v1.0h-1.0zM134.0,706.2h1.0v1.0h-1.0zM122.6,705.9h1.0v1.0h-1.0zM128.3,705.2h1.0v1.0h-1.0zM126.8,702.5h1.0v1.0h-1.0zM111.3,698.0h1.0v1.0h-1.0zM126.5,700.7h1.0v1.0h-1.0zM127.6,710.1h1.0v1.0h-1.0zM134.0,706.9h1.0v1.0h-1.0zM113.0,706.3h1.0v1.0h-1.0zM121.8,703.6h1.0v1.0h-1.0zM147.7,703.4h1.0v1.0h-1.0zM119.8,700.1h1.0v1.0h-1.0zM122.1,709.2h1.0v1.0h-1.0zM123.8,700.0h1.0v1.0h-1.0zM113.7,707.0h1.0v1.0h-1.0zM128.4,698.5h1.0v1.0h-1.0zM143.8,707.4h1.0v1.0h-1.0zM120.1,692.2h1.0v1.0h-1.0zM126.1,696.2h1.0v1.0h-1.0zM111.8,695.7h1.0v1.0h-1.0zM115.2,699.7h1.0v1.0h-1.0zM123.4,703.3h1.0v1.0h-1.0zM136.8,704.5h1.0v1.0h-1.0zM137.0,703.6h1.0v1.0h-1.0zM124.5,701.0h1.0v1.0h-1.0zM109.6,709.6h1.0v1.0h-1.0zM128.4,704.2h1.0v1.0h-1.0zM126.7,710.0h1.0v1.0h-1.0zM121.7,707.1h1.0v1.0h-1.0zM119.2,705.8h1.0v1.0h-1.0zM141.0,686.9h1.0v1.0h-1.0zM125.7,695.0h1.0v1.0h-1.0zM125.0,701.7h1.0v1.0h-1.0zM122.7,695.8h1.0v1.0h-1.0zM129.6,710.1h1.0v1.0h-1.0zM134.8,700.7h1.0v1.0h-1.0zM136.5,700.1h1.0v1.0h-1.0zM136.6,697.0h1.0v1.0h-1.0zM142.0,701.4h1.0v1.0h-1.0zM122.3,693.5h1.0v1.0h-1.0zM121.0,705.9h1.0v1.0h-1.0zM134.6,695.8h1.0v1.0h-1.0zM117.5,697.0h1.0v1.0h-1.0zM137.1,705.0h1.0v1.0h-1.0zM115.6,709.4h1.0v1.0h-1.0zM122.6,697.6h1.0v1.0h-1.0zM130.2,703.9h1.0v1.0h-1.0zM131.8,708.0h1.0v1.0h-1.0zM121.3,694.9h1.0v1.0h-1.0zM104.3,698.6h1.0v1.0h-1.0zM109.5,699.1h1.0v1.0h-1.0zM121.5,692.6h1.0v1.0h-1.0zM134.8,706.8h1.0v1.0h-1.0zM120.8,701.3h1.0v1.0h-1.0zM106.8,700.0h1.0v1.0h-1.0zM138.8,699.9h1.0v1.0h-1.0zM121.1,703.4h1.0v1.0h-1.0zM128.1,711.0h1.0v1.0h-1.0zM113.6,704.0h1.0v1.0h-1.0zM124.1,691.6h1.0v1.0h-1.0zM135.4,698.7h1.0v1.0h-1.0zM130.0,703.0h1.0v1.0h-1.0zM121.5,693.2h1.0v1.0h-1.0zM114.1,710.3h1.0v1.0h-1.0zM131.7,704.0h1.0v1.0h-1.0zM119.5,699.7h1.0v1.0h-1.0zM125.5,698.5h1.0v1.0h-1.0zM120.9,694.9h1.0v1.0h-1.0zM111.5,703.0h1.0v1.0h-1.0zM117.4,701.1h1.0v1.0h-1.0zM134.4,693.7h1.0v1.0h-1.0zM140.7,704.9h1.0v1.0h-1.0zM130.0,700.8h1.0v1.0h-1.0zM130.4,696.9h1.0v1.0h-1.0zM124.9,702.5h1.0v1.0h-1.0zM134.4,696.9h1.0v1.0h-1.0zM122.5,705.8h1.0v1.0h-1.0zM130.3,713.1h1.0v1.0h-1.0zM121.4,700.4h1.0v1.0h-1.0zM145.2,697.1h1.0v1.0h-1.0zM117.3,695.0h1.0v1.0h-1.0zM131.9,702.9h1.0v1.0h-1.0zM116.4,700.7h1.0v1.0h-1.0zM112.1,701.5h1.0v1.0h-1.0zM117.6,708.3h1.0v1.0h-1.0zM116.3,708.6h1.0v1.0h-1.0zM138.5,695.5h1.0v1.0h-1.0zM118.9,698.0h1.0v1.0h-1.0zM150.2,696.7h1.0v1.0h-1.0zM121.3,701.1h1.0v1.0h-1.0zM109.7,700.5h1.0v1.0h-1.0zM138.5,695.4h1.0v1.0h-1.0zM117.2,705.4h1.0v1.0h-1.0zM126.1,699.9h1.0v1.0h-1.0zM123.5,698.3h1.0v1.0h-1.0zM127.7,688.6h1.0v1.0h-1.0zM109.1,696.9h1.0v1.0h-1.0zM106.0,695.2h1.0v1.0h-1.0zM131.7,700.5h1.0v1.0h-1.0zM105.0,694.7h1.0v1.0h-1.0zM128.6,706.4h1.0v1.0h-1.0zM119.6,699.6h1.0v1.0h-1.0zM110.3,702.3h1.0v1.0h-1.0zM115.7,698.9h1.0v1.0h-1.0zM129.9,708.6h1.0v1.0h-1.0zM128.5,704.0h1.0v1.0h-1.0zM111.2,700.2h1.0v1.0h-1.0zM148.6,709.2h1.0v1.0h-1.0zM124.6,705.3h1.0v1.0h-1.0zM137.3,706.0h1.0v1.0h-1.0zM130.2,700.5h1.0v1.0h-1.0zM128.7,703.7h1.0v1.0h-1.0zM126.4,697.6h1.0v1.0h-1.0zM131.3,690.1h1.0v1.0h-1.0zM121.8,698.5h1.0v1.0h-1.0zM140.8,712.3h1.0v1.0h-1.0zM121.3,690.5h1.0v1.0h-1.0zM131.2,700.5h1.0v1.0h-1.0zM111.5,702.8h1.0v1.0h-1.0zM125.0,707.0h1.0v1.0h-1.0zM108.7,692.3h1.0v1.0h-1.0zM132.7,698.4h1.0v1.0h-1.0zM129.2,698.3h1.0v1.0h-1.0zM131.6,698.1h1.0v1.0h-1.0zM130.8,695.8h1.0v1.0h-1.0zM110.0,695.3h1.0v1.0h-1.0zM130.4,698.2h1.0v1.0h-1.0zM143.3,702.1h1.0v1.0h-1.0zM126.4,694.6h1.0v1.0h-1.0zM132.8,697.5h1.0v1.0h-1.0zM120.7,707.6h1.0v1.0h-1.0zM118.2,704.2h1.0v1.0h-1.0zM130.1,699.9h1.0v1.0h-1.0zM136.7,695.3h1.0v1.0h-1.0zM122.0,715.6h1.0v1.0h-1.0zM120.3,694.7h1.0v1.0h-1.0zM122.6,699.5h1.0v1.0h-1.0zM126.7,705.0h1.0v1.0h-1.0zM138.6,696.5h1.0v1.0h-1.0zM121.4,700.5h1.0v1.0h-1.0zM109.0,708.5h1.0v1.0h-1.0zM125.5,698.6h1.0v1.0h-1.0zM120.8,709.3h1.0v1.0h-1.0zM130.6,692.8h1.0v1.0h-1.0zM126.3,706.8h1.0v1.0h-1.0zM130.0,705.4h1.0v1.0h-1.0zM118.7,704.8h1.0v1.0h-1.0zM122.0,686.8h1.0v1.0h-1.0zM113.3,697.0h1.0v1.0h-1.0zM115.7,712.5h1.0v1.0h-1.0zM127.0,690.0h1.0v1.0h-1.0zM106.6,712.1h1.0v1.0h-1.0zM135.4,708.6h1.0v1.0h-1.0zM121.0,699.1h1.0v1.0h-1.0zM112.6,704.0h1.0v1.0h-1.0zM141.2,703.6h1.0v1.0h-1.0zM161.8,710.0h1.0v1.0h-1.0zM171.2,702.2h1.0v1.0h-1.0zM174.5,691.6h1.0v1.0h-1.0zM176.4,704.8h1.0v1.0h-1.0zM151.9,694.2h1.0v1.0h-1.0zM169.2,692.1h1.0v1.0h-1.0zM178.5,706.6h1.0v1.0h-1.0zM164.8,686.7h1.0v1.0h-1.0zM179.3,703.9h1.0v1.0h-1.0zM167.9,693.9h1.0v1.0h-1.0zM176.9,709.3h1.0v1.0h-1.0zM178.4,701.2h1.0v1.0h-1.0zM156.7,703.9h1.0v1.0h-1.0zM148.9,704.7h1.0v1.0h-1.0zM166.2,686.3h1.0v1.0h-1.0zM166.0,698.9h1.0v1.0h-1.0zM160.0,700.8h1.0v1.0h-1.0zM162.6,709.9h1.0v1.0h-1.0zM159.6,698.8h1.0v1.0h-1.0zM178.2,694.6h1.0v1.0h-1.0zM153.1,702.5h1.0v1.0h-1.0zM185.1,708.0h1.0v1.0h-1.0zM169.8,697.3h1.0v1.0h-1.0zM171.1,702.2h1.0v1.0h-1.0zM163.7,690.8h1.0v1.0h-1.0zM172.5,702.1h1.0v1.0h-1.0zM170.6,695.3h1.0v1.0h-1.0zM162.0,706.3h1.0v1.0h-1.0zM163.5,690.8h1.0v1.0h-1.0zM196.7,700.8h1.0v1.0h-1.0zM160.8,692.2h1.0v1.0h-1.0zM173.9,693.9h1.0v1.0h-1.0zM165.1,697.8h1.0v1.0h-1.0zM168.1,699.7h1.0v1.0h-1.0zM160.4,689.1h1.0v1.0h-1.0zM178.5,686.9h1.0v1.0h-1.0zM165.5,688.9h1.0v1.0h-1.0zM175.4,696.4h1.0v1.0h-1.0zM163.8,708.5h1.0v1.0h-1.0zM157.0,705.2h1.0v1.0h-1.0zM174.9,700.1h1.0v1.0h-1.0zM182.4,695.1h1.0v1.0h-1.0zM171.9,707.7h1.0v1.0h-1.0zM182.0,710.7h1.0v1.0h-1.0zM155.2,703.8h1.0v1.0h-1.0zM173.3,701.2h1.0v1.0h-1.0zM176.3,692.8h1.0v1.0h-1.0zM183.0,704.3h1.0v1.0h-1.0zM181.1,704.8h1.0v1.0h-1.0zM165.4,695.7h1.0v1.0h-1.0zM177.3,691.5h1.0v1.0h-1.0zM197.4,700.3h1.0v1.0h-1.0zM173.2,714.1h1.0v1.0h-1.0zM167.0,703.7h1.0v1.0h-1.0zM184.0,695.1h1.0v1.0h-1.0zM166.8,696.6h1.0v1.0h-1.0zM182.4,708.0h1.0v1.0h-1.0zM162.9,711.6h1.0v1.0h-1.0zM166.4,702.1h1.0v1.0h-1.0zM186.6,706.5h1.0v1.0h-1.0zM170.3,711.4h1.0v1.0h-1.0zM164.7,705.0h1.0v1.0h-1.0zM188.0,692.0h1.0v1.0h-1.0zM187.2,703.8h1.0v1.0h-1.0zM151.7,686.4h1.0v1.0h-1.0zM166.3,713.1h1.0v1.0h-1.0zM158.4,712.1h1.0v1.0h-1.0zM174.2,709.9h1.0v1.0h-1.0zM162.7,690.4h1.0v1.0h-1.0zM165.0,701.2h1.0v1.0h-1.0zM147.9,714.7h1.0v1.0h-1.0zM178.9,691.0h1.0v1.0h-1.0zM167.8,698.9h1.0v1.0h-1.0zM169.8,704.2h1.0v1.0h-1.0zM176.3,697.1h1.0v1.0h-1.0zM178.8,695.0h1.0v1.0h-1.0zM169.7,710.2h1.0v1.0h-1.0zM199.4,701.8h1.0v1.0h-1.0zM152.4,700.0h1.0v1.0h-1.0zM191.3,715.3h1.0v1.0h-1.0zM170.2,697.6h1.0v1.0h-1.0zM180.0,705.2h1.0v1.0h-1.0zM181.6,702.6h1.0v1.0h-1.0zM178.9,705.4h1.0v1.0h-1.0zM176.8,694.6h1.0v1.0h-1.0zM155.5,698.8h1.0v1.0h-1.0zM155.2,701.9h1.0v1.0h-1.0zM153.1,705.6h1.0v1.0h-1.0zM174.4,704.5h1.0v1.0h-1.0zM166.1,691.5h1.0v1.0h-1.0zM162.3,700.3h1.0v1.0h-1.0zM170.0,702.5h1.0v1.0h-1.0zM191.3,715.7h1.0v1.0h-1.0zM156.7,715.9h1.0v1.0h-1.0zM162.1,699.8h1.0v1.0h-1.0zM167.3,706.8h1.0v1.0h-1.0zM157.6,697.0h1.0v1.0h-1.0zM182.6,704.7h1.0v1.0h-1.0zM190.2,708.7h1.0v1.0h-1.0zM196.8,703.2h1.0v1.0h-1.0zM165.3,711.1h1.0v1.0h-1.0zM159.8,702.2h1.0v1.0h-1.0zM160.5,699.6h1.0v1.0h-1.0zM182.9,706.9h1.0v1.0h-1.0zM178.7,703.2h1.0v1.0h-1.0zM167.7,693.2h1.0v1.0h-1.0zM172.4,706.9h1.0v1.0h-1.0zM168.6,703.7h1.0v1.0h-1.0zM153.3,695.7h1.0v1.0h-1.0zM167.8,700.8h1.0v1.0h-1.0zM164.4,709.9h1.0v1.0h-1.0zM162.3,704.6h1.0v1.0h-1.0zM177.4,687.9h1.0v1.0h-1.0zM163.7,707.8h1.0v1.0h-1.0zM161.2,690.5h1.0v1.0h-1.0zM169.8,712.5h1.0v1.0h-1.0zM163.3,709.9h1.0v1.0h-1.0zM165.1,701.9h1.0v1.0h-1.0zM162.2,695.9h1.0v1.0h-1.0zM168.4,692.2h1.0v1.0h-1.0zM168.8,700.2h1.0v1.0h-1.0zM150.6,711.3h1.0v1.0h-1.0zM169.5,696.4h1.0v1.0h-1.0zM147.3,709.5h1.0v1.0h-1.0zM173.6,714.8h1.0v1.0h-1.0zM161.3,688.4h1.0v1.0h-1.0zM193.5,697.7h1.0v1.0h-1.0zM169.3,703.2h1.0v1.0h-1.0zM177.7,699.5h1.0v1.0h-1.0zM168.4,693.9h1.0v1.0h-1.0zM172.8,698.5h1.0v1.0h-1.0zM188.6,700.2h1.0v1.0h-1.0zM167.9,705.8h1.0v1.0h-1.0zM169.7,705.6h1.0v1.0h-1.0zM178.5,697.4h1.0v1.0h-1.0zM161.4,706.2h1.0v1.0h-1.0zM178.2,704.1h1.0v1.0h-1.0zM149.7,700.0h1.0v1.0h-1.0zM162.6,692.9h1.0v1.0h-1.0zM172.1,696.0h1.0v1.0h-1.0zM182.1,708.8h1.0v1.0h-1.0zM154.7,712.9h1.0v1.0h-1.0zM176.4,701.0h1.0v1.0h-1.0zM161.4,702.3h1.0v1.0h-1.0zM177.0,705.1h1.0v1.0h-1.0zM164.8,699.4h1.0v1.0h-1.0zM168.6,698.7h1.0v1.0h-1.0zM163.6,709.5h1.0v1.0h-1.0zM162.7,692.8h1.0v1.0h-1.0zM182.8,691.3h1.0v1.0h-1.0zM166.1,706.5h1.0v1.0h-1.0zM173.2,703.8h1.0v1.0h-1.0zM182.6,691.4h1.0v1.0h-1.0zM183.9,698.0h1.0v1.0h-1.0zM174.8,700.8h1.0v1.0h-1.0zM168.9,704.3h1.0v1.0h-1.0zM179.1,702.7h1.0v1.0h-1.0zM164.2,711.8h1.0v1.0h-1.0zM170.7,705.3h1.0v1.0h-1.0zM175.9,710.3h1.0v1.0h-1.0zM173.7,715.3h1.0v1.0h-1.0zM171.4,706.6h1.0v1.0h-1.0zM187.9,702.5h1.0v1.0h-1.0zM158.9,696.6h1.0v1.0h-1.0zM176.4,699.3h1.0v1.0h-1.0zM196.4,701.5h1.0v1.0h-1.0zM198.9,690.2h1.0v1.0h-1.0zM172.5,697.7h1.0v1.0h-1.0zM171.7,691.5h1.0v1.0h-1.0zM161.6,711.8h1.0v1.0h-1.0zM157.1,707.3h1.0v1.0h-1.0zM151.6,702.7h1.0v1.0h-1.0zM187.6,715.4h1.0v1.0h-1.0zM180.2,700.3h1.0v1.0h-1.0zM151.6,690.8h1.0v1.0h-1.0zM156.1,696.7h1.0v1.0h-1.0zM161.1,702.6h1.0v1.0h-1.0zM181.5,698.3h1.0v1.0h-1.0zM172.3,715.0h1.0v1.0h-1.0zM175.0,694.5h1.0v1.0h-1.0zM165.2,701.4h1.0v1.0h-1.0zM180.1,698.6h1.0v1.0h-1.0zM162.7,710.7h1.0v1.0h-1.0zM150.1,693.4h1.0v1.0h-1.0zM182.5,699.2h1.0v1.0h-1.0zM157.8,703.0h1.0v1.0h-1.0zM167.5,695.6h1.0v1.0h-1.0zM167.2,707.6h1.0v1.0h-1.0zM178.6,692.5h1.0v1.0h-1.0zM165.6,699.9h1.0v1.0h-1.0zM176.4,697.2h1.0v1.0h-1.0zM163.7,698.8h1.0v1.0h-1.0zM178.7,715.0h1.0v1.0h-1.0zM163.9,701.0h1.0v1.0h-1.0zM176.6,715.5h1.0v1.0h-1.0zM174.0,703.8h1.0v1.0h-1.0zM173.6,690.5h1.0v1.0h-1.0zM192.5,699.7h1.0v1.0h-1.0zM186.9,698.1h1.0v1.0h-1.0zM182.9,709.6h1.0v1.0h-1.0zM177.5,696.5h1.0v1.0h-1.0zM170.1,696.9h1.0v1.0h-1.0zM170.3,701.7h1.0v1.0h-1.0zM165.8,703.2h1.0v1.0h-1.0zM147.6,701.1h1.0v1.0h-1.0zM173.9,703.8h1.0v1.0h-1.0zM186.7,709.2h1.0v1.0h-1.0zM168.6,703.2h1.0v1.0h-1.0zM158.8,704.5h1.0v1.0h-1.0zM168.0,694.3h1.0v1.0h-1.0zM156.8,705.3h1.0v1.0h-1.0zM158.4,700.8h1.0v1.0h-1.0zM161.0,701.9h1.0v1.0h-1.0zM165.5,710.3h1.0v1.0h-1.0zM174.1,687.6h1.0v1.0h-1.0zM168.1,700.9h1.0v1.0h-1.0zM186.3,691.6h1.0v1.0h-1.0zM168.2,705.2h1.0v1.0h-1.0zM188.3,698.7h1.0v1.0h-1.0zM186.2,691.5h1.0v1.0h-1.0zM170.5,712.6h1.0v1.0h-1.0zM153.9,704.5h1.0v1.0h-1.0zM173.8,700.5h1.0v1.0h-1.0zM186.9,700.9h1.0v1.0h-1.0zM160.6,698.6h1.0v1.0h-1.0zM167.0,706.2h1.0v1.0h-1.0zM179.2,697.4h1.0v1.0h-1.0zM181.8,702.5h1.0v1.0h-1.0zM187.1,703.1h1.0v1.0h-1.0zM182.2,706.1h1.0v1.0h-1.0zM195.2,707.8h1.0v1.0h-1.0zM166.6,708.4h1.0v1.0h-1.0zM192.9,705.6h1.0v1.0h-1.0zM167.4,700.7h1.0v1.0h-1.0zM164.6,704.6h1.0v1.0h-1.0zM183.0,693.0h1.0v1.0h-1.0zM165.5,695.0h1.0v1.0h-1.0zM179.9,704.4h1.0v1.0h-1.0zM152.7,698.5h1.0v1.0h-1.0zM160.4,698.7h1.0v1.0h-1.0zM192.6,690.6h1.0v1.0h-1.0zM192.2,694.1h1.0v1.0h-1.0zM148.9,702.2h1.0v1.0h-1.0zM161.4,714.1h1.0v1.0h-1.0zM184.9,703.1h1.0v1.0h-1.0zM166.2,705.5h1.0v1.0h-1.0zM166.4,706.0h1.0v1.0h-1.0zM179.0,702.0h1.0v1.0h-1.0zM179.6,704.3h1.0v1.0h-1.0zM185.4,699.7h1.0v1.0h-1.0zM148.8,700.0h1.0v1.0h-1.0zM164.7,701.0h1.0v1.0h-1.0zM170.8,708.6h1.0v1.0h-1.0zM183.8,696.1h1.0v1.0h-1.0zM176.8,710.0h1.0v1.0h-1.0zM165.3,707.2h1.0v1.0h-1.0zM158.9,697.1h1.0v1.0h-1.0zM166.8,706.0h1.0v1.0h-1.0zM177.3,697.3h1.0v1.0h-1.0zM177.6,701.8h1.0v1.0h-1.0zM182.9,694.9h1.0v1.0h-1.0zM177.7,700.1h1.0v1.0h-1.0zM176.8,704.9h1.0v1.0h-1.0zM183.1,699.4h1.0v1.0h-1.0zM178.3,690.7h1.0v1.0h-1.0zM163.5,690.7h1.0v1.0h-1.0zM186.4,705.8h1.0v1.0h-1.0zM177.4,689.2h1.0v1.0h-1.0zM187.3,710.3h1.0v1.0h-1.0zM181.8,698.0h1.0v1.0h-1.0zM162.7,708.3h1.0v1.0h-1.0zM173.4,705.3h1.0v1.0h-1.0zM167.1,694.0h1.0v1.0h-1.0zM175.1,704.9h1.0v1.0h-1.0zM181.4,703.5h1.0v1.0h-1.0zM155.1,697.1h1.0v1.0h-1.0zM164.4,708.6h1.0v1.0h-1.0zM189.5,708.0h1.0v1.0h-1.0zM179.7,705.9h1.0v1.0h-1.0zM154.9,705.0h1.0v1.0h-1.0zM166.3,700.9h1.0v1.0h-1.0zM173.9,709.3h1.0v1.0h-1.0zM187.9,702.0h1.0v1.0h-1.0zM171.5,711.8h1.0v1.0h-1.0zM183.7,715.2h1.0v1.0h-1.0zM177.1,702.7h1.0v1.0h-1.0zM188.5,691.6h1.0v1.0h-1.0zM169.2,691.6h1.0v1.0h-1.0zM166.7,708.4h1.0v1.0h-1.0zM190.7,695.8h1.0v1.0h-1.0zM161.1,700.2h1.0v1.0h-1.0zM167.7,708.4h1.0v1.0h-1.0zM151.7,707.7h1.0v1.0h-1.0zM168.9,693.6h1.0v1.0h-1.0zM174.2,696.5h1.0v1.0h-1.0zM181.1,692.2h1.0v1.0h-1.0zM161.2,708.4h1.0v1.0h-1.0zM158.7,708.3h1.0v1.0h-1.0zM169.3,695.9h1.0v1.0h-1.0zM183.8,692.7h1.0v1.0h-1.0zM177.9,694.3h1.0v1.0h-1.0zM172.2,702.4h1.0v1.0h-1.0zM166.1,709.4h1.0v1.0h-1.0zM161.7,700.9h1.0v1.0h-1.0zM161.9,706.0h1.0v1.0h-1.0zM182.2,703.1h1.0v1.0h-1.0zM177.5,710.1h1.0v1.0h-1.0zM177.1,698.8h1.0v1.0h-1.0zM165.1,696.2h1.0v1.0h-1.0zM168.7,706.5h1.0v1.0h-1.0zM173.5,706.2h1.0v1.0h-1.0zM150.0,703.3h1.0v1.0h-1.0zM176.9,701.7h1.0v1.0h-1.0zM175.5,696.2h1.0v1.0h-1.0zM168.4,702.8h1.0v1.0h-1.0zM160.7,701.3h1.0v1.0h-1.0zM150.6,704.0h1.0v1.0h-1.0zM177.4,695.8h1.0v1.0h-1.0zM188.1,705.8h1.0v1.0h-1.0zM189.0,703.4h1.0v1.0h-1.0zM167.4,699.9h1.0v1.0h-1.0zM163.9,708.7h1.0v1.0h-1.0zM173.3,695.2h1.0v1.0h-1.0zM143.0,712.9h1.0v1.0h-1.0zM183.6,697.7h1.0v1.0h-1.0zM190.8,698.1h1.0v1.0h-1.0zM177.2,690.5h1.0v1.0h-1.0zM174.1,703.7h1.0v1.0h-1.0zM166.5,698.9h1.0v1.0h-1.0zM149.0,713.3h1.0v1.0h-1.0zM180.0,703.7h1.0v1.0h-1.0zM164.9,694.3h1.0v1.0h-1.0zM191.7,700.0h1.0v1.0h-1.0zM176.6,693.6h1.0v1.0h-1.0zM167.8,697.4h1.0v1.0h-1.0zM174.0,694.9h1.0v1.0h-1.0zM178.6,704.0h1.0v1.0h-1.0zM180.5,692.9h1.0v1.0h-1.0zM169.1,699.6h1.0v1.0h-1.0zM172.2,701.7h1.0v1.0h-1.0zM161.0,704.9h1.0v1.0h-1.0zM176.4,709.1h1.0v1.0h-1.0zM181.7,692.1h1.0v1.0h-1.0zM167.2,700.2h1.0v1.0h-1.0zM174.2,703.0h1.0v1.0h-1.0zM160.2,702.8h1.0v1.0h-1.0zM156.2,701.5h1.0v1.0h-1.0zM186.2,704.1h1.0v1.0h-1.0zM178.2,700.5h1.0v1.0h-1.0zM144.9,692.4h1.0v1.0h-1.0zM167.6,704.5h1.0v1.0h-1.0zM162.5,708.9h1.0v1.0h-1.0zM177.7,706.6h1.0v1.0h-1.0zM189.8,705.2h1.0v1.0h-1.0zM161.8,697.7h1.0v1.0h-1.0zM154.8,705.1h1.0v1.0h-1.0zM174.6,699.3h1.0v1.0h-1.0zM170.1,707.0h1.0v1.0h-1.0zM164.5,700.6h1.0v1.0h-1.0zM152.1,699.5h1.0v1.0h-1.0zM165.8,696.9h1.0v1.0h-1.0zM192.9,708.7h1.0v1.0h-1.0zM184.5,698.9h1.0v1.0h-1.0zM156.7,693.3h1.0v1.0h-1.0zM167.6,700.0h1.0v1.0h-1.0zM171.9,708.3h1.0v1.0h-1.0zM169.9,698.1h1.0v1.0h-1.0zM161.6,696.4h1.0v1.0h-1.0zM163.2,696.2h1.0v1.0h-1.0zM149.6,707.4h1.0v1.0h-1.0zM181.6,703.2h1.0v1.0h-1.0zM185.8,702.8h1.0v1.0h-1.0zM165.0,697.8h1.0v1.0h-1.0zM191.3,701.2h1.0v1.0h-1.0zM179.4,702.1h1.0v1.0h-1.0zM158.2,706.0h1.0v1.0h-1.0zM163.6,703.1h1.0v1.0h-1.0zM156.8,698.8h1.0v1.0h-1.0zM166.3,693.4h1.0v1.0h-1.0zM169.9,697.3h1.0v1.0h-1.0zM184.1,704.6h1.0v1.0h-1.0zM168.2,693.4h1.0v1.0h-1.0zM172.9,708.4h1.0v1.0h-1.0zM165.9,715.9h1.0v1.0h-1.0zM168.4,693.4h1.0v1.0h-1.0zM153.4,697.1h1.0v1.0h-1.0zM181.1,698.9h1.0v1.0h-1.0zM173.6,696.9h1.0v1.0h-1.0zM173.1,708.6h1.0v1.0h-1.0zM146.0,702.8h1.0v1.0h-1.0zM174.0,703.3h1.0v1.0h-1.0zM184.2,707.3h1.0v1.0h-1.0zM161.9,702.4h1.0v1.0h-1.0zM156.5,707.1h1.0v1.0h-1.0zM161.4,713.6h1.0v1.0h-1.0zM153.7,705.1h1.0v1.0h-1.0zM161.4,694.8h1.0v1.0h-1.0zM182.6,705.5h1.0v1.0h-1.0zM182.7,693.8h1.0v1.0h-1.0zM172.7,711.6h1.0v1.0h-1.0zM189.9,714.5h1.0v1.0h-1.0zM156.4,705.6h1.0v1.0h-1.0zM180.9,691.0h1.0v1.0h-1.0zM190.2,706.5h1.0v1.0h-1.0zM167.8,699.6h1.0v1.0h-1.0zM172.3,689.7h1.0v1.0h-1.0zM172.9,702.7h1.0v1.0h-1.0zM169.0,712.0h1.0v1.0h-1.0zM155.6,702.5h1.0v1.0h-1.0zM177.7,707.2h1.0v1.0h-1.0zM153.3,705.3h1.0v1.0h-1.0zM147.0,700.6h1.0v1.0h-1.0zM161.5,703.3h1.0v1.0h-1.0zM165.7,693.7h1.0v1.0h-1.0zM166.3,703.0h1.0v1.0h-1.0zM168.9,694.7h1.0v1.0h-1.0zM145.6,691.4h1.0v1.0h-1.0zM153.4,701.1h1.0v1.0h-1.0zM167.8,702.7h1.0v1.0h-1.0zM179.5,710.7h1.0v1.0h-1.0zM177.2,691.1h1.0v1.0h-1.0zM149.0,714.1h1.0v1.0h-1.0zM172.6,700.7h1.0v1.0h-1.0zM169.6,703.0h1.0v1.0h-1.0zM183.6,694.1h1.0v1.0h-1.0zM166.0,700.1h1.0v1.0h-1.0zM172.7,706.1h1.0v1.0h-1.0zM166.3,707.2h1.0v1.0h-1.0zM157.6,704.9h1.0v1.0h-1.0zM182.1,702.2h1.0v1.0h-1.0zM164.5,705.0h1.0v1.0h-1.0zM179.8,691.5h1.0v1.0h-1.0zM171.0,704.5h1.0v1.0h-1.0zM156.4,704.5h1.0v1.0h-1.0zM165.0,709.3h1.0v1.0h-1.0zM180.8,699.8h1.0v1.0h-1.0zM175.2,710.3h1.0v1.0h-1.0zM167.1,696.4h1.0v1.0h-1.0zM165.6,707.2h1.0v1.0h-1.0zM165.8,714.4h1.0v1.0h-1.0zM177.3,704.6h1.0v1.0h-1.0zM172.9,699.9h1.0v1.0h-1.0zM181.6,696.1h1.0v1.0h-1.0zM168.0,696.6h1.0v1.0h-1.0zM163.6,694.0h1.0v1.0h-1.0zM180.7,697.0h1.0v1.0h-1.0zM182.6,699.8h1.0v1.0h-1.0zM176.9,712.8h1.0v1.0h-1.0zM149.0,705.4h1.0v1.0h-1.0zM174.5,711.4h1.0v1.0h-1.0zM170.8,704.4h1.0v1.0h-1.0zM180.3,692.1h1.0v1.0h-1.0zM179.7,700.5h1.0v1.0h-1.0zM187.1,695.5h1.0v1.0h-1.0zM182.0,697.0h1.0v1.0h-1.0zM184.0,707.9h1.0v1.0h-1.0zM172.6,706.9h1.0v1.0h-1.0zM144.4,688.1h1.0v1.0h-1.0zM173.5,691.2h1.0v1.0h-1.0zM145.3,698.6h1.0v1.0h-1.0zM156.3,700.6h1.0v1.0h-1.0zM161.5,709.2h1.0v1.0h-1.0zM144.9,710.7h1.0v1.0h-1.0zM163.7,706.7h1.0v1.0h-1.0zM193.6,705.4h1.0v1.0h-1.0zM175.1,707.6h1.0v1.0h-1.0zM154.2,698.4h1.0v1.0h-1.0zM153.5,707.7h1.0v1.0h-1.0zM168.5,698.7h1.0v1.0h-1.0zM162.0,690.6h1.0v1.0h-1.0zM188.9,697.0h1.0v1.0h-1.0zM174.8,702.5h1.0v1.0h-1.0zM185.7,698.6h1.0v1.0h-1.0zM160.7,697.2h1.0v1.0h-1.0zM149.5,704.0h1.0v1.0h-1.0zM140.5,704.8h1.0v1.0h-1.0zM161.8,704.7h1.0v1.0h-1.0zM162.9,710.9h1.0v1.0h-1.0zM155.8,694.4h1.0v1.0h-1.0zM167.5,712.6h1.0v1.0h-1.0zM191.1,703.0h1.0v1.0h-1.0zM169.0,689.6h1.0v1.0h-1.0zM175.5,703.7h1.0v1.0h-1.0zM178.7,708.0h1.0v1.0h-1.0zM185.3,696.4h1.0v1.0h-1.0zM179.0,707.0h1.0v1.0h-1.0zM162.6,711.0h1.0v1.0h-1.0zM177.4,704.9h1.0v1.0h-1.0zM189.8,696.4h1.0v1.0h-1.0zM179.3,710.4h1.0v1.0h-1.0zM180.0,703.0h1.0v1.0h-1.0zM179.0,701.4h1.0v1.0h-1.0zM168.4,709.1h1.0v1.0h-1.0zM160.4,702.6h1.0v1.0h-1.0zM173.8,699.1h1.0v1.0h-1.0zM166.0,712.5h1.0v1.0h-1.0zM175.1,705.7h1.0v1.0h-1.0zM176.6,693.5h1.0v1.0h-1.0zM163.0,713.2h1.0v1.0h-1.0zM163.5,698.1h1.0v1.0h-1.0zM165.8,707.3h1.0v1.0h-1.0zM146.0,692.5h1.0v1.0h-1.0zM173.0,698.1h1.0v1.0h-1.0zM160.0,706.1h1.0v1.0h-1.0zM192.0,695.3h1.0v1.0h-1.0zM148.2,693.2h1.0v1.0h-1.0zM157.1,694.3h1.0v1.0h-1.0zM182.9,700.5h1.0v1.0h-1.0zM170.7,706.2h1.0v1.0h-1.0zM167.3,693.7h1.0v1.0h-1.0zM176.9,716.0h1.0v1.0h-1.0zM160.3,698.8h1.0v1.0h-1.0zM169.2,691.2h1.0v1.0h-1.0zM179.1,702.0h1.0v1.0h-1.0zM177.4,698.3h1.0v1.0h-1.0zM174.5,694.4h1.0v1.0h-1.0zM169.8,691.7h1.0v1.0h-1.0zM162.0,698.0h1.0v1.0h-1.0zM170.2,693.3h1.0v1.0h-1.0zM171.1,691.4h1.0v1.0h-1.0zM169.8,690.5h1.0v1.0h-1.0zM184.7,699.4h1.0v1.0h-1.0zM175.5,712.5h1.0v1.0h-1.0zM150.8,708.3h1.0v1.0h-1.0zM173.2,696.2h1.0v1.0h-1.0zM181.2,696.6h1.0v1.0h-1.0zM169.2,699.0h1.0v1.0h-1.0zM159.7,696.4h1.0v1.0h-1.0zM153.9,695.1h1.0v1.0h-1.0zM163.4,705.1h1.0v1.0h-1.0zM171.3,703.5h1.0v1.0h-1.0zM173.2,690.8h1.0v1.0h-1.0zM178.5,704.1h1.0v1.0h-1.0zM171.4,700.7h1.0v1.0h-1.0zM166.2,711.5h1.0v1.0h-1.0zM144.3,710.5h1.0v1.0h-1.0zM149.3,693.2h1.0v1.0h-1.0zM157.4,705.2h1.0v1.0h-1.0zM176.2,704.5h1.0v1.0h-1.0zM177.5,696.4h1.0v1.0h-1.0zM153.1,695.9h1.0v1.0h-1.0zM173.1,693.7h1.0v1.0h-1.0zM179.1,705.3h1.0v1.0h-1.0zM173.6,709.0h1.0v1.0h-1.0zM180.5,696.6h1.0v1.0h-1.0zM174.7,705.8h1.0v1.0h-1.0zM170.3,700.1h1.0v1.0h-1.0zM171.8,701.6h1.0v1.0h-1.0zM181.5,706.2h1.0v1.0h-1.0zM187.7,705.1h1.0v1.0h-1.0zM179.7,691.8h1.0v1.0h-1.0zM185.6,703.1h1.0v1.0h-1.0zM160.9,708.1h1.0v1.0h-1.0zM179.6,704.7h1.0v1.0h-1.0zM164.6,709.5h1.0v1.0h-1.0zM188.1,712.0h1.0v1.0h-1.0zM156.2,704.4h1.0v1.0h-1.0zM183.5,706.9h1.0v1.0h-1.0zM178.5,704.4h1.0v1.0h-1.0zM164.3,687.3h1.0v1.0h-1.0zM172.2,700.1h1.0v1.0h-1.0zM170.8,701.4h1.0v1.0h-1.0zM181.9,710.5h1.0v1.0h-1.0zM169.1,711.4h1.0v1.0h-1.0zM162.1,703.9h1.0v1.0h-1.0zM181.2,691.6h1.0v1.0h-1.0zM168.2,697.4h1.0v1.0h-1.0zM171.6,690.7h1.0v1.0h-1.0zM161.0,697.2h1.0v1.0h-1.0zM173.0,699.4h1.0v1.0h-1.0zM193.8,696.0h1.0v1.0h-1.0zM168.2,704.9h1.0v1.0h-1.0zM168.3,696.8h1.0v1.0h-1.0zM177.7,696.7h1.0v1.0h-1.0zM164.9,700.9h1.0v1.0h-1.0zM176.6,706.4h1.0v1.0h-1.0zM151.0,693.6h1.0v1.0h-1.0zM155.1,698.7h1.0v1.0h-1.0zM149.7,699.5h1.0v1.0h-1.0zM182.1,691.9h1.0v1.0h-1.0zM166.1,701.3h1.0v1.0h-1.0zM168.5,701.8h1.0v1.0h-1.0zM154.8,698.8h1.0v1.0h-1.0zM179.1,689.4h1.0v1.0h-1.0zM181.2,703.0h1.0v1.0h-1.0zM134.7,701.5h1.0v1.0h-1.0zM149.1,700.1h1.0v1.0h-1.0zM165.2,691.8h1.0v1.0h-1.0zM168.0,690.7h1.0v1.0h-1.0zM173.4,696.5h1.0v1.0h-1.0zM155.9,707.6h1.0v1.0h-1.0zM189.5,709.1h1.0v1.0h-1.0zM183.6,702.8h1.0v1.0h-1.0zM167.7,694.2h1.0v1.0h-1.0zM159.7,700.6h1.0v1.0h-1.0zM167.8,691.0h1.0v1.0h-1.0zM178.3,697.8h1.0v1.0h-1.0zM177.9,702.7h1.0v1.0h-1.0zM166.9,706.0h1.0v1.0h-1.0zM184.5,709.0h1.0v1.0h-1.0zM176.7,698.2h1.0v1.0h-1.0zM151.0,702.2h1.0v1.0h-1.0zM153.5,688.9h1.0v1.0h-1.0zM162.2,700.9h1.0v1.0h-1.0zM172.9,712.4h1.0v1.0h-1.0zM164.3,700.9h1.0v1.0h-1.0zM158.1,697.8h1.0v1.0h-1.0zM181.5,714.8h1.0v1.0h-1.0zM173.6,705.8h1.0v1.0h-1.0zM178.9,698.1h1.0v1.0h-1.0zM161.2,705.6h1.0v1.0h-1.0zM186.1,700.8h1.0v1.0h-1.0zM160.9,705.6h1.0v1.0h-1.0zM179.0,692.4h1.0v1.0h-1.0zM187.6,710.2h1.0v1.0h-1.0zM173.1,709.2h1.0v1.0h-1.0zM167.9,704.3h1.0v1.0h-1.0zM194.4,705.7h1.0v1.0h-1.0zM166.9,713.3h1.0v1.0h-1.0zM161.3,706.3h1.0v1.0h-1.0zM196.0,701.4h1.0v1.0h-1.0zM155.4,694.3h1.0v1.0h-1.0zM174.5,704.8h1.0v1.0h-1.0zM158.6,697.5h1.0v1.0h-1.0zM202.2,700.9h1.0v1.0h-1.0zM181.3,703.6h1.0v1.0h-1.0zM180.6,705.5h1.0v1.0h-1.0zM147.7,697.4h1.0v1.0h-1.0zM176.0,704.1h1.0v1.0h-1.0zM175.9,707.9h1.0v1.0h-1.0zM73.0,698.2h1.0v1.0h-1.0zM175.4,715.1h1.0v1.0h-1.0zM125.9,690.5h1.0v1.0h-1.0zM80.7,689.9h1.0v1.0h-1.0zM149.2,708.2h1.0v1.0h-1.0zM115.1,705.1h1.0v1.0h-1.0zM191.3,695.8h1.0v1.0h-1.0zM131.2,703.1h1.0v1.0h-1.0zM91.9,693.4h1.0v1.0h-1.0zM163.9,702.0h1.0v1.0h-1.0zM183.4,697.3h1.0v1.0h-1.0zM110.0,707.6h1.0v1.0h-1.0zM164.2,704.4h1.0v1.0h-1.0zM189.7,707.0h1.0v1.0h-1.0zM122.2,697.6h1.0v1.0h-1.0zM184.9,702.6h1.0v1.0h-1.0zM151.4,688.4h1.0v1.0h-1.0zM131.1,701.7h1.0v1.0h-1.0zM175.2,695.1h1.0v1.0h-1.0zM140.1,706.4h1.0v1.0h-1.0zM162.4,707.1h1.0v1.0h-1.0zM126.1,693.7h1.0v1.0h-1.0zM89.6,704.2h1.0v1.0h-1.0zM62.1,705.4h1.0v1.0h-1.0zM168.0,694.1h1.0v1.0h-1.0zM146.3,693.6h1.0v1.0h-1.0zM187.0,706.7h1.0v1.0h-1.0zM183.5,695.7h1.0v1.0h-1.0zM66.5,706.7h1.0v1.0h-1.0zM176.4,711.3h1.0v1.0h-1.0zM183.3,692.7h1.0v1.0h-1.0zM112.8,715.2h1.0v1.0h-1.0zM138.8,714.2h1.0v1.0h-1.0zM111.6,692.8h1.0v1.0h-1.0zM151.9,708.5h1.0v1.0h-1.0zM162.9,709.2h1.0v1.0h-1.0zM190.5,713.5h1.0v1.0h-1.0zM152.4,697.2h1.0v1.0h-1.0zM124.4,690.5h1.0v1.0h-1.0zM115.3,697.9h1.0v1.0h-1.0zM107.5,710.3h1.0v1.0h-1.0zM70.8,699.5h1.0v1.0h-1.0zM107.8,697.3h1.0v1.0h-1.0zM150.8,704.0h1.0v1.0h-1.0zM176.7,709.0h1.0v1.0h-1.0zM161.8,712.6h1.0v1.0h-1.0zM183.7,704.3h1.0v1.0h-1.0zM93.2,694.5h1.0v1.0h-1.0zM143.6,705.5h1.0v1.0h-1.0zM87.8,715.3h1.0v1.0h-1.0zM136.9,688.6h1.0v1.0h-1.0zM97.0,705.5h1.0v1.0h-1.0zM97.9,704.7h1.0v1.0h-1.0zM134.4,714.2h1.0v1.0h-1.0zM63.9,688.9h1.0v1.0h-1.0zM98.3,710.5h1.0v1.0h-1.0zM110.2,699.4h1.0v1.0h-1.0zM172.1,714.6h1.0v1.0h-1.0zM168.0,711.9h1.0v1.0h-1.0zM132.3,700.1h1.0v1.0h-1.0zM113.0,690.8h1.0v1.0h-1.0zM116.8,688.6h1.0v1.0h-1.0zM123.2,699.3h1.0v1.0h-1.0zM63.7,703.4h1.0v1.0h-1.0zM110.4,704.4h1.0v1.0h-1.0zM176.2,712.7h1.0v1.0h-1.0zM110.1,703.8h1.0v1.0h-1.0zM187.2,714.9h1.0v1.0h-1.0zM97.2,695.7h1.0v1.0h-1.0zM82.9,714.2h1.0v1.0h-1.0zM129.6,694.5h1.0v1.0h-1.0zM174.8,712.2h1.0v1.0h-1.0zM98.8,703.9h1.0v1.0h-1.0zM110.1,710.8h1.0v1.0h-1.0zM184.0,712.8h1.0v1.0h-1.0zM95.2,689.5h1.0v1.0h-1.0zM88.3,703.1h1.0v1.0h-1.0zM160.1,702.1h1.0v1.0h-1.0zM175.3,698.1h1.0v1.0h-1.0zM128.7,701.1h1.0v1.0h-1.0zM169.7,703.8h1.0v1.0h-1.0zM121.8,698.3h1.0v1.0h-1.0zM186.5,700.4h1.0v1.0h-1.0zM65.6,712.5h1.0v1.0h-1.0zM189.9,708.1h1.0v1.0h-1.0zM108.1,706.0h1.0v1.0h-1.0zM77.2,692.4h1.0v1.0h-1.0zM105.7,694.8h1.0v1.0h-1.0zM127.3,707.5h1.0v1.0h-1.0zM138.1,699.8h1.0v1.0h-1.0zM171.6,697.8h1.0v1.0h-1.0zM83.1,711.4h1.0v1.0h-1.0zM126.0,690.5h1.0v1.0h-1.0zM150.3,690.0h1.0v1.0h-1.0zM166.9,699.8h1.0v1.0h-1.0zM136.2,708.9h1.0v1.0h-1.0zM146.1,714.1h1.0v1.0h-1.0zM107.1,694.0h1.0v1.0h-1.0zM161.1,714.0h1.0v1.0h-1.0zM142.6,692.4h1.0v1.0h-1.0zM134.1,694.4h1.0v1.0h-1.0zM120.8,712.5h1.0v1.0h-1.0zM92.9,714.6h1.0v1.0h-1.0zM146.4,704.7h1.0v1.0h-1.0zM84.1,699.5h1.0v1.0h-1.0zM177.8,706.0h1.0v1.0h-1.0zM180.4,709.2h1.0v1.0h-1.0zM180.8,696.6h1.0v1.0h-1.0zM97.5,691.8h1.0v1.0h-1.0zM77.9,707.3h1.0v1.0h-1.0zM112.8,693.5h1.0v1.0h-1.0zM100.2,695.3h1.0v1.0h-1.0zM111.1,703.3h1.0v1.0h-1.0zM187.7,702.5h1.0v1.0h-1.0zM188.5,709.1h1.0v1.0h-1.0zM134.9,702.5h1.0v1.0h-1.0zM80.8,703.0h1.0v1.0h-1.0zM102.1,688.3h1.0v1.0h-1.0zM111.4,690.0h1.0v1.0h-1.0zM125.2,701.2h1.0v1.0h-1.0zM78.9,713.0h1.0v1.0h-1.0zM120.4,697.2h1.0v1.0h-1.0zM143.3,691.1h1.0v1.0h-1.0zM118.7,703.2h1.0v1.0h-1.0zM81.0,691.8h1.0v1.0h-1.0zM81.6,711.5h1.0v1.0h-1.0zM144.1,711.7h1.0v1.0h-1.0zM139.9,703.8h1.0v1.0h-1.0zM120.1,697.1h1.0v1.0h-1.0zM127.2,692.8h1.0v1.0h-1.0zM185.4,700.9h1.0v1.0h-1.0zM91.0,711.4h1.0v1.0h-1.0zM179.9,693.3h1.0v1.0h-1.0zM176.5,712.6h1.0v1.0h-1.0zM131.7,697.3h1.0v1.0h-1.0zM63.7,706.0h1.0v1.0h-1.0zM132.0,712.6h1.0v1.0h-1.0zM147.5,711.9h1.0v1.0h-1.0zM151.6,707.1h1.0v1.0h-1.0zM185.0,699.1h1.0v1.0h-1.0zM190.9,704.1h1.0v1.0h-1.0zM94.4,710.9h1.0v1.0h-1.0zM160.7,695.0h1.0v1.0h-1.0zM123.8,692.9h1.0v1.0h-1.0zM161.2,708.2h1.0v1.0h-1.0zM151.4,694.9h1.0v1.0h-1.0zM79.0,703.1h1.0v1.0h-1.0zM120.4,695.1h1.0v1.0h-1.0zM180.5,705.5h1.0v1.0h-1.0zM115.8,707.3h1.0v1.0h-1.0zM87.7,709.0h1.0v1.0h-1.0zM78.5,704.0h1.0v1.0h-1.0zM145.8,698.7h1.0v1.0h-1.0zM187.3,714.9h1.0v1.0h-1.0zM143.9,693.7h1.0v1.0h-1.0zM91.9,710.1h1.0v1.0h-1.0zM109.4,698.6h1.0v1.0h-1.0zM129.0,697.4h1.0v1.0h-1.0zM77.1,696.9h1.0v1.0h-1.0zM110.9,697.3h1.0v1.0h-1.0zM67.0,709.8h1.0v1.0h-1.0zM177.9,692.4h1.0v1.0h-1.0zM157.5,707.3h1.0v1.0h-1.0zM161.4,710.4h1.0v1.0h-1.0zM111.0,697.5h1.0v1.0h-1.0zM169.0,708.1h1.0v1.0h-1.0zM120.0,700.5h1.0v1.0h-1.0zM140.7,692.0h1.0v1.0h-1.0zM79.0,704.1h1.0v1.0h-1.0zM139.1,708.4h1.0v1.0h-1.0zM71.5,709.5h1.0v1.0h-1.0zM69.3,696.1h1.0v1.0h-1.0zM64.0,693.0h1.0v1.0h-1.0zM146.9,708.5h1.0v1.0h-1.0zM176.0,711.8h1.0v1.0h-1.0zM177.8,694.1h1.0v1.0h-1.0zM131.1,693.1h1.0v1.0h-1.0zM148.3,695.0h1.0v1.0h-1.0zM180.9,709.9h1.0v1.0h-1.0zM163.3,713.5h1.0v1.0h-1.0zM98.1,712.8h1.0v1.0h-1.0zM137.0,711.1h1.0v1.0h-1.0zM153.5,703.4h1.0v1.0h-1.0zM67.3,712.7h1.0v1.0h-1.0zM144.4,693.8h1.0v1.0h-1.0zM126.7,698.8h1.0v1.0h-1.0zM184.6,696.7h1.0v1.0h-1.0zM65.2,715.2h1.0v1.0h-1.0zM173.6,692.8h1.0v1.0h-1.0zM147.7,691.3h1.0v1.0h-1.0zM172.1,699.4h1.0v1.0h-1.0zM91.5,704.8h1.0v1.0h-1.0zM170.8,705.2h1.0v1.0h-1.0zM73.4,705.8h1.0v1.0h-1.0zM109.7,712.5h1.0v1.0h-1.0zM179.7,710.3h1.0v1.0h-1.0zM142.0,710.1h1.0v1.0h-1.0zM106.3,705.5h1.0v1.0h-1.0zM188.1,691.8h1.0v1.0h-1.0zM162.6,704.2h1.0v1.0h-1.0zM68.7,709.5h1.0v1.0h-1.0zM156.1,694.1h1.0v1.0h-1.0zM190.7,707.4h1.0v1.0h-1.0zM163.0,701.8h1.0v1.0h-1.0zM81.9,695.8h1.0v1.0h-1.0zM165.5,712.1h1.0v1.0h-1.0zM102.5,710.6h1.0v1.0h-1.0zM78.0,697.1h1.0v1.0h-1.0zM163.0,707.3h1.0v1.0h-1.0zM83.8,714.5h1.0v1.0h-1.0zM148.0,710.1h1.0v1.0h-1.0zM189.7,710.9h1.0v1.0h-1.0zM139.2,696.8h1.0v1.0h-1.0zM112.2,711.4h1.0v1.0h-1.0zM190.1,714.3h1.0v1.0h-1.0zM142.5,696.9h1.0v1.0h-1.0zM125.5,707.6h1.0v1.0h-1.0zM82.7,705.3h1.0v1.0h-1.0zM68.2,696.9h1.0v1.0h-1.0zM129.4,713.1h1.0v1.0h-1.0zM171.2,702.7h1.0v1.0h-1.0zM88.6,701.3h1.0v1.0h-1.0zM96.0,715.0h1.0v1.0h-1.0zM63.3,700.1h1.0v1.0h-1.0zM97.4,703.1h1.0v1.0h-1.0zM139.3,700.6h1.0v1.0h-1.0zM63.3,714.3h1.0v1.0h-1.0zM102.5,700.1h1.0v1.0h-1.0zM120.4,695.8h1.0v1.0h-1.0zM97.4,691.5h1.0v1.0h-1.0zM182.0,708.5h1.0v1.0h-1.0zM113.3,712.3h1.0v1.0h-1.0zM67.7,706.6h1.0v1.0h-1.0zM162.7,712.2h1.0v1.0h-1.0zM151.9,691.7h1.0v1.0h-1.0zM149.3,700.1h1.0v1.0h-1.0zM115.2,708.3h1.0v1.0h-1.0zM148.7,700.9h1.0v1.0h-1.0zM86.4,712.5h1.0v1.0h-1.0zM130.0,695.9h1.0v1.0h-1.0zM118.3,706.3h1.0v1.0h-1.0zM98.3,700.6h1.0v1.0h-1.0zM155.8,705.9h1.0v1.0h-1.0zM130.4,706.2h1.0v1.0h-1.0zM105.2,714.5h1.0v1.0h-1.0zM190.3,710.8h1.0v1.0h-1.0zM150.8,690.0h1.0v1.0h-1.0zM107.5,695.8h1.0v1.0h-1.0zM182.6,705.5h1.0v1.0h-1.0zM148.2,704.7h1.0v1.0h-1.0zM191.7,702.3h1.0v1.0h-1.0zM92.0,714.8h1.0v1.0h-1.0zM96.3,705.7h1.0v1.0h-1.0zM133.9,714.1h1.0v1.0h-1.0zM161.4,715.0h1.0v1.0h-1.0zM163.9,705.3h1.0v1.0h-1.0zM79.6,692.7h1.0v1.0h-1.0zM108.6,697.8h1.0v1.0h-1.0zM85.2,705.7h1.0v1.0h-1.0zM178.2,703.1h1.0v1.0h-1.0zM160.6,698.4h1.0v1.0h-1.0zM111.3,705.6h1.0v1.0h-1.0zM81.6,707.7h1.0v1.0h-1.0zM151.8,697.5h1.0v1.0h-1.0zM182.9,710.1h1.0v1.0h-1.0zM155.0,700.6h1.0v1.0h-1.0zM135.4,705.3h1.0v1.0h-1.0zM191.1,705.6h1.0v1.0h-1.0zM95.5,711.2h1.0v1.0h-1.0zM139.4,700.4h1.0v1.0h-1.0zM141.0,701.2h1.0v1.0h-1.0zM112.6,702.7h1.0v1.0h-1.0zM172.9,712.4h1.0v1.0h-1.0zM183.4,706.4h1.0v1.0h-1.0zM63.2,711.3h1.0v1.0h-1.0zM64.4,712.0h1.0v1.0h-1.0zM113.9,701.0h1.0v1.0h-1.0zM110.9,709.1h1.0v1.0h-1.0zM169.1,713.2h1.0v1.0h-1.0zM100.4,715.3h1.0v1.0h-1.0zM110.5,703.1h1.0v1.0h-1.0zM138.0,692.6h1.0v1.0h-1.0zM131.8,696.3h1.0v1.0h-1.0zM87.6,689.2h1.0v1.0h-1.0zM139.6,690.1h1.0v1.0h-1.0zM154.6,705.8h1.0v1.0h-1.0zM155.8,697.0h1.0v1.0h-1.0zM171.3,712.4h1.0v1.0h-1.0zM149.7,695.1h1.0v1.0h-1.0zM177.3,701.8h1.0v1.0h-1.0zM100.0,696.8h1.0v1.0h-1.0zM107.6,701.1h1.0v1.0h-1.0zM171.8,694.4h1.0v1.0h-1.0zM126.2,691.5h1.0v1.0h-1.0zM81.4,700.6h1.0v1.0h-1.0zM113.0,696.2h1.0v1.0h-1.0zM170.6,688.8h1.0v1.0h-1.0zM68.3,690.3h1.0v1.0h-1.0zM63.5,697.4h1.0v1.0h-1.0zM95.1,708.5h1.0v1.0h-1.0zM105.8,691.3h1.0v1.0h-1.0zM126.6,713.8h1.0v1.0h-1.0zM129.3,692.7h1.0v1.0h-1.0zM166.5,690.7h1.0v1.0h-1.0zM95.4,708.4h1.0v1.0h-1.0zM155.1,702.1h1.0v1.0h-1.0zM114.9,690.3h1.0v1.0h-1.0zM127.4,700.1h1.0v1.0h-1.0zM81.9,707.9h1.0v1.0h-1.0zM93.1,695.2h1.0v1.0h-1.0zM102.9,703.3h1.0v1.0h-1.0zM129.5,708.4h1.0v1.0h-1.0zM115.0,699.8h1.0v1.0h-1.0zM116.1,688.5h1.0v1.0h-1.0zM179.2,696.4h1.0v1.0h-1.0zM161.3,708.9h1.0v1.0h-1.0zM171.1,707.4h1.0v1.0h-1.0zM175.3,696.0h1.0v1.0h-1.0zM151.1,692.7h1.0v1.0h-1.0zM191.7,714.0h1.0v1.0h-1.0zM116.6,704.2h1.0v1.0h-1.0zM93.6,704.9h1.0v1.0h-1.0zM144.6,690.0h1.0v1.0h-1.0zM71.0,712.5h1.0v1.0h-1.0zM65.6,700.2h1.0v1.0h-1.0zM155.1,694.9h1.0v1.0h-1.0zM100.2,709.2h1.0v1.0h-1.0zM113.8,691.3h1.0v1.0h-1.0zM132.3,696.5h1.0v1.0h-1.0zM96.2,711.9h1.0v1.0h-1.0zM86.5,709.8h1.0v1.0h-1.0zM96.3,714.0h1.0v1.0h-1.0zM144.5,693.0h1.0v1.0h-1.0zM176.9,694.6h1.0v1.0h-1.0zM90.3,711.4h1.0v1.0h-1.0zM184.4,689.5h1.0v1.0h-1.0zM181.2,701.2h1.0v1.0h-1.0zM129.9,688.6h1.0v1.0h-1.0zM179.4,691.2h1.0v1.0h-1.0zM164.8,699.4h1.0v1.0h-1.0zM93.1,713.5h1.0v1.0h-1.0zM170.9,709.5h1.0v1.0h-1.0zM79.8,703.2h1.0v1.0h-1.0zM79.8,703.0h1.0v1.0h-1.0zM180.4,704.0h1.0v1.0h-1.0zM172.2,697.1h1.0v1.0h-1.0zM129.5,698.8h1.0v1.0h-1.0zM144.2,706.5h1.0v1.0h-1.0zM101.5,701.3h1.0v1.0h-1.0zM160.4,695.4h1.0v1.0h-1.0zM99.7,707.3h1.0v1.0h-1.0zM179.1,693.4h1.0v1.0h-1.0zM149.3,694.0h1.0v1.0h-1.0zM63.4,690.6h1.0v1.0h-1.0zM82.2,715.2h1.0v1.0h-1.0zM187.3,692.9h1.0v1.0h-1.0zM119.1,709.9h1.0v1.0h-1.0zM165.2,712.6h1.0v1.0h-1.0zM77.6,698.4h1.0v1.0h-1.0zM142.0,699.2h1.0v1.0h-1.0zM96.4,698.6h1.0v1.0h-1.0zM107.8,712.9h1.0v1.0h-1.0zM154.5,697.9h1.0v1.0h-1.0zM132.3,698.0h1.0v1.0h-1.0zM143.9,710.4h1.0v1.0h-1.0zM110.4,696.7h1.0v1.0h-1.0zM148.3,689.2h1.0v1.0h-1.0zM103.3,694.2h1.0v1.0h-1.0zM126.0,699.3h1.0v1.0h-1.0zM90.8,693.6h1.0v1.0h-1.0zM147.4,703.5h1.0v1.0h-1.0zM70.9,712.9h1.0v1.0h-1.0zM68.7,696.7h1.0v1.0h-1.0zM86.1,703.8h1.0v1.0h-1.0zM78.6,690.6h1.0v1.0h-1.0zM68.3,702.3h1.0v1.0h-1.0zM69.8,704.1h1.0v1.0h-1.0zM142.1,706.1h1.0v1.0h-1.0zM133.8,692.4h1.0v1.0h-1.0zM187.9,702.8h1.0v1.0h-1.0z" fill="#c4c4c4"/>
<path d="M100.2,698.5h1.0v1.0h-1.0zM92.5,702.8h1.0v1.0h-1.0zM88.1,705.5h1.0v1.0h-1.0zM92.1,704.9h1.0v1.0h-1.0zM73.6,701.8h1.0v1.0h-1.0zM75.7,704.5h1.0v1.0h-1.0zM83.3,702.8h1.0v1.0h-1.0zM95.2,712.8h1.0v1.0h-1.0zM79.9,699.1h1.0v1.0h-1.0zM86.1,702.7h1.0v1.0h-1.0zM88.4,701.0h1.0v1.0h-1.0zM82.3,698.4h1.0v1.0h-1.0zM81.7,689.7h1.0v1.0h-1.0zM94.6,707.9h1.0v1.0h-1.0zM66.8,708.7h1.0v1.0h-1.0zM94.3,694.1h1.0v1.0h-1.0zM100.7,702.0h1.0v1.0h-1.0zM77.4,697.3h1.0v1.0h-1.0zM97.1,697.5h1.0v1.0h-1.0zM95.1,696.7h1.0v1.0h-1.0zM93.2,699.9h1.0v1.0h-1.0zM87.0,703.4h1.0v1.0h-1.0zM78.5,705.0h1.0v1.0h-1.0zM91.5,706.7h1.0v1.0h-1.0zM79.1,702.1h1.0v1.0h-1.0zM77.4,703.5h1.0v1.0h-1.0zM78.9,702.1h1.0v1.0h-1.0zM95.2,702.5h1.0v1.0h-1.0zM94.0,707.1h1.0v1.0h-1.0zM91.4,699.5h1.0v1.0h-1.0zM96.0,706.3h1.0v1.0h-1.0zM70.7,711.6h1.0v1.0h-1.0zM109.7,708.9h1.0v1.0h-1.0zM89.7,703.0h1.0v1.0h-1.0zM104.7,705.5h1.0v1.0h-1.0zM93.9,705.6h1.0v1.0h-1.0zM85.2,712.7h1.0v1.0h-1.0zM102.1,703.6h1.0v1.0h-1.0zM90.5,716.1h1.0v1.0h-1.0zM83.9,697.0h1.0v1.0h-1.0zM92.2,707.5h1.0v1.0h-1.0zM74.1,698.8h1.0v1.0h-1.0zM104.6,704.6h1.0v1.0h-1.0zM75.6,703.6h1.0v1.0h-1.0zM74.4,698.1h1.0v1.0h-1.0zM82.3,697.4h1.0v1.0h-1.0zM99.8,703.6h1.0v1.0h-1.0zM90.7,706.1h1.0v1.0h-1.0zM107.1,701.0h1.0v1.0h-1.0zM92.2,693.0h1.0v1.0h-1.0zM80.6,694.3h1.0v1.0h-1.0zM81.6,709.5h1.0v1.0h-1.0zM91.5,699.9h1.0v1.0h-1.0zM88.8,697.8h1.0v1.0h-1.0zM99.8,706.7h1.0v1.0h-1.0zM78.2,700.2h1.0v1.0h-1.0zM85.7,695.7h1.0v1.0h-1.0zM99.6,703.5h1.0v1.0h-1.0zM107.9,693.7h1.0v1.0h-1.0zM91.8,708.0h1.0v1.0h-1.0zM94.0,706.1h1.0v1.0h-1.0zM73.7,699.2h1.0v1.0h-1.0zM96.0,692.6h1.0v1.0h-1.0zM81.3,702.6h1.0v1.0h-1.0zM77.3,712.3h1.0v1.0h-1.0zM107.3,703.0h1.0v1.0h-1.0zM98.9,698.4h1.0v1.0h-1.0zM96.9,704.9h1.0v1.0h-1.0zM93.8,704.5h1.0v1.0h-1.0zM98.8,702.6h1.0v1.0h-1.0zM75.0,709.9h1.0v1.0h-1.0zM91.5,699.9h1.0v1.0h-1.0zM88.6,694.4h1.0v1.0h-1.0zM87.4,711.5h1.0v1.0h-1.0zM85.8,712.1h1.0v1.0h-1.0zM95.1,701.1h1.0v1.0h-1.0zM90.6,687.0h1.0v1.0h-1.0zM101.2,698.4h1.0v1.0h-1.0zM115.1,695.3h1.0v1.0h-1.0zM77.6,704.9h1.0v1.0h-1.0zM87.6,698.4h1.0v1.0h-1.0zM88.4,696.6h1.0v1.0h-1.0zM88.6,689.1h1.0v1.0h-1.0zM81.7,713.3h1.0v1.0h-1.0zM102.6,700.6h1.0v1.0h-1.0zM100.3,704.1h1.0v1.0h-1.0zM98.4,701.4h1.0v1.0h-1.0zM81.1,703.8h1.0v1.0h-1.0zM89.5,686.9h1.0v1.0h-1.0zM81.9,696.8h1.0v1.0h-1.0zM86.5,710.6h1.0v1.0h-1.0zM100.4,700.6h1.0v1.0h-1.0zM96.0,707.4h1.0v1.0h-1.0zM90.3,700.9h1.0v1.0h-1.0zM105.9,699.0h1.0v1.0h-1.0zM87.8,693.7h1.0v1.0h-1.0zM91.6,702.5h1.0v1.0h-1.0zM90.6,705.9h1.0v1.0h-1.0zM79.2,691.3h1.0v1.0h-1.0zM63.7,707.4h1.0v1.0h-1.0zM69.7,705.3h1.0v1.0h-1.0zM106.0,695.7h1.0v1.0h-1.0zM79.7,705.0h1.0v1.0h-1.0zM89.2,702.8h1.0v1.0h-1.0zM99.5,701.6h1.0v1.0h-1.0zM115.7,702.4h1.0v1.0h-1.0zM89.1,700.6h1.0v1.0h-1.0zM93.5,691.6h1.0v1.0h-1.0zM106.7,705.5h1.0v1.0h-1.0zM91.5,701.1h1.0v1.0h-1.0zM75.4,698.0h1.0v1.0h-1.0zM87.1,700.7h1.0v1.0h-1.0zM92.0,704.3h1.0v1.0h-1.0zM91.3,703.2h1.0v1.0h-1.0zM85.6,686.6h1.0v1.0h-1.0zM99.4,702.4h1.0v1.0h-1.0zM103.2,699.3h1.0v1.0h-1.0zM86.1,705.0h1.0v1.0h-1.0zM84.3,703.4h1.0v1.0h-1.0zM81.8,696.2h1.0v1.0h-1.0zM80.9,695.8h1.0v1.0h-1.0zM71.0,705.8h1.0v1.0h-1.0zM78.1,691.1h1.0v1.0h-1.0zM97.7,697.4h1.0v1.0h-1.0zM75.3,704.0h1.0v1.0h-1.0zM92.5,700.3h1.0v1.0h-1.0zM77.7,700.9h1.0v1.0h-1.0zM75.8,692.0h1.0v1.0h-1.0zM96.0,715.0h1.0v1.0h-1.0zM81.2,714.6h1.0v1.0h-1.0zM94.2,692.8h1.0v1.0h-1.0zM83.3,700.9h1.0v1.0h-1.0zM91.9,701.0h1.0v1.0h-1.0zM89.1,703.2h1.0v1.0h-1.0zM92.9,699.0h1.0v1.0h-1.0zM97.6,711.6h1.0v1.0h-1.0zM93.5,706.3h1.0v1.0h-1.0zM93.5,697.3h1.0v1.0h-1.0zM93.2,696.2h1.0v1.0h-1.0zM94.8,703.6h1.0v1.0h-1.0zM92.9,699.3h1.0v1.0h-1.0zM82.3,702.4h1.0v1.0h-1.0zM92.1,702.6h1.0v1.0h-1.0zM95.8,698.9h1.0v1.0h-1.0zM91.1,710.0h1.0v1.0h-1.0zM108.0,693.3h1.0v1.0h-1.0zM97.3,703.8h1.0v1.0h-1.0zM98.0,704.6h1.0v1.0h-1.0zM90.9,705.7h1.0v1.0h-1.0zM104.5,693.6h1.0v1.0h-1.0zM84.4,695.1h1.0v1.0h-1.0zM69.0,706.8h1.0v1.0h-1.0zM102.0,696.8h1.0v1.0h-1.0zM79.9,703.0h1.0v1.0h-1.0zM96.9,690.2h1.0v1.0h-1.0zM89.6,700.3h1.0v1.0h-1.0zM92.0,708.7h1.0v1.0h-1.0zM85.8,702.0h1.0v1.0h-1.0zM106.2,701.7h1.0v1.0h-1.0zM72.4,715.5h1.0v1.0h-1.0zM91.3,712.9h1.0v1.0h-1.0zM64.6,702.2h1.0v1.0h-1.0zM85.9,700.8h1.0v1.0h-1.0zM117.4,700.6h1.0v1.0h-1.0zM121.2,699.3h1.0v1.0h-1.0zM137.9,706.6h1.0v1.0h-1.0zM126.6,695.2h1.0v1.0h-1.0zM117.4,705.0h1.0v1.0h-1.0zM128.8,704.6h1.0v1.0h-1.0zM131.2,702.8h1.0v1.0h-1.0zM136.4,693.5h1.0v1.0h-1.0zM110.2,707.8h1.0v1.0h-1.0zM113.9,695.0h1.0v1.0h-1.0zM114.2,708.2h1.0v1.0h-1.0zM114.6,700.6h1.0v1.0h-1.0zM132.2,703.7h1.0v1.0h-1.0zM143.7,688.5h1.0v1.0h-1.0zM133.5,700.6h1.0v1.0h-1.0zM123.4,704.5h1.0v1.0h-1.0zM132.6,691.9h1.0v1.0h-1.0zM137.5,709.9h1.0v1.0h-1.0zM125.8,706.5h1.0v1.0h-1.0zM126.0,708.4h1.0v1.0h-1.0zM115.4,694.2h1.0v1.0h-1.0zM149.2,709.4h1.0v1.0h-1.0zM128.7,711.3h1.0v1.0h-1.0zM129.8,708.8h1.0v1.0h-1.0zM110.2,699.7h1.0v1.0h-1.0zM137.1,695.0h1.0v1.0h-1.0zM149.5,695.8h1.0v1.0h-1.0zM127.6,709.2h1.0v1.0h-1.0zM117.0,700.0h1.0v1.0h-1.0zM111.5,704.8h1.0v1.0h-1.0zM129.9,696.0h1.0v1.0h-1.0zM113.2,700.9h1.0v1.0h-1.0zM110.2,693.3h1.0v1.0h-1.0zM115.8,695.9h1.0v1.0h-1.0zM116.5,708.5h1.0v1.0h-1.0zM136.2,698.9h1.0v1.0h-1.0zM132.3,707.3h1.0v1.0h-1.0zM127.0,693.4h1.0v1.0h-1.0zM120.0,694.4h1.0v1.0h-1.0zM119.3,693.8h1.0v1.0h-1.0zM130.6,692.2h1.0v1.0h-1.0zM118.5,690.8h1.0v1.0h-1.0zM124.8,695.1h1.0v1.0h-1.0zM131.1,706.6h1.0v1.0h-1.0zM117.4,704.4h1.0v1.0h-1.0zM127.0,701.5h1.0v1.0h-1.0zM115.8,708.5h1.0v1.0h-1.0zM124.1,692.2h1.0v1.0h-1.0zM119.0,705.7h1.0v1.0h-1.0zM122.8,713.9h1.0v1.0h-1.0zM112.5,712.1h1.0v1.0h-1.0zM114.7,695.4h1.0v1.0h-1.0zM121.4,702.6h1.0v1.0h-1.0zM129.2,708.0h1.0v1.0h-1.0zM129.9,705.7h1.0v1.0h-1.0zM141.6,706.9h1.0v1.0h-1.0zM106.9,707.3h1.0v1.0h-1.0zM118.2,700.8h1.0v1.0h-1.0zM123.0,707.7h1.0v1.0h-1.0zM129.2,698.6h1.0v1.0h-1.0zM132.7,694.1h1.0v1.0h-1.0zM113.0,697.2h1.0v1.0h-1.0zM111.6,700.0h1.0v1.0h-1.0zM116.7,706.2h1.0v1.0h-1.0zM132.1,706.4h1.0v1.0h-1.0zM123.5,698.2h1.0v1.0h-1.0zM118.9,703.1h1.0v1.0h-1.0zM128.8,702.7h1.0v1.0h-1.0zM116.5,701.3h1.0v1.0h-1.0zM122.9,696.0h1.0v1.0h-1.0zM115.9,697.3h1.0v1.0h-1.0zM96.6,694.9h1.0v1.0h-1.0zM133.8,703.3h1.0v1.0h-1.0zM131.4,701.5h1.0v1.0h-1.0zM102.6,715.0h1.0v1.0h-1.0zM174.4,691.6h1.0v1.0h-1.0zM167.4,702.4h1.0v1.0h-1.0zM165.8,686.3h1.0v1.0h-1.0zM162.5,705.2h1.0v1.0h-1.0zM157.9,701.8h1.0v1.0h-1.0zM165.9,709.7h1.0v1.0h-1.0zM153.1,699.7h1.0v1.0h-1.0zM157.8,701.1h1.0v1.0h-1.0zM142.3,707.9h1.0v1.0h-1.0zM160.8,694.9h1.0v1.0h-1.0zM167.1,697.2h1.0v1.0h-1.0zM169.0,698.9h1.0v1.0h-1.0zM145.9,709.0h1.0v1.0h-1.0zM162.0,703.3h1.0v1.0h-1.0zM160.1,688.8h1.0v1.0h-1.0zM160.6,712.3h1.0v1.0h-1.0zM153.9,709.3h1.0v1.0h-1.0zM177.3,710.6h1.0v1.0h-1.0zM176.9,704.4h1.0v1.0h-1.0zM177.8,702.4h1.0v1.0h-1.0zM140.9,708.8h1.0v1.0h-1.0zM179.1,695.1h1.0v1.0h-1.0zM154.1,705.2h1.0v1.0h-1.0zM162.5,699.3h1.0v1.0h-1.0zM180.5,698.3h1.0v1.0h-1.0zM186.6,698.7h1.0v1.0h-1.0zM166.9,690.1h1.0v1.0h-1.0zM174.2,700.8h1.0v1.0h-1.0zM165.8,693.7h1.0v1.0h-1.0zM176.9,702.3h1.0v1.0h-1.0zM166.3,699.6h1.0v1.0h-1.0zM150.0,698.4h1.0v1.0h-1.0zM163.0,697.5h1.0v1.0h-1.0zM175.7,695.8h1.0v1.0h-1.0zM195.4,699.7h1.0v1.0h-1.0zM159.4,700.0h1.0v1.0h-1.0zM161.7,698.1h1.0v1.0h-1.0zM166.5,690.7h1.0v1.0h-1.0zM170.2,704.5h1.0v1.0h-1.0zM174.4,690.3h1.0v1.0h-1.0zM171.2,708.7h1.0v1.0h-1.0zM165.7,698.8h1.0v1.0h-1.0zM151.7,701.2h1.0v1.0h-1.0zM160.2,693.8h1.0v1.0h-1.0zM167.0,699.7h1.0v1.0h-1.0zM182.4,705.1h1.0v1.0h-1.0zM189.4,704.4h1.0v1.0h-1.0zM179.9,698.8h1.0v1.0h-1.0zM170.0,707.2h1.0v1.0h-1.0zM180.3,689.6h1.0v1.0h-1.0zM159.6,700.5h1.0v1.0h-1.0zM173.5,696.1h1.0v1.0h-1.0zM166.7,699.3h1.0v1.0h-1.0zM165.4,703.5h1.0v1.0h-1.0zM166.3,703.8h1.0v1.0h-1.0zM175.4,701.3h1.0v1.0h-1.0zM171.1,707.2h1.0v1.0h-1.0zM177.8,695.4h1.0v1.0h-1.0zM190.5,695.0h1.0v1.0h-1.0zM175.6,692.0h1.0v1.0h-1.0zM156.4,695.9h1.0v1.0h-1.0zM164.8,702.6h1.0v1.0h-1.0zM151.7,695.5h1.0v1.0h-1.0zM170.1,704.3h1.0v1.0h-1.0zM173.4,690.6h1.0v1.0h-1.0zM169.7,698.6h1.0v1.0h-1.0zM184.7,712.8h1.0v1.0h-1.0zM152.0,707.6h1.0v1.0h-1.0zM173.8,702.7h1.0v1.0h-1.0zM176.3,688.7h1.0v1.0h-1.0zM168.8,704.1h1.0v1.0h-1.0zM176.7,700.5h1.0v1.0h-1.0zM158.4,705.1h1.0v1.0h-1.0zM178.4,714.9h1.0v1.0h-1.0zM172.7,693.6h1.0v1.0h-1.0zM184.6,698.7h1.0v1.0h-1.0zM161.6,702.9h1.0v1.0h-1.0zM162.0,703.3h1.0v1.0h-1.0zM165.0,696.2h1.0v1.0h-1.0zM166.4,708.9h1.0v1.0h-1.0zM188.4,701.1h1.0v1.0h-1.0zM171.2,696.4h1.0v1.0h-1.0zM167.1,693.0h1.0v1.0h-1.0zM186.5,705.3h1.0v1.0h-1.0zM168.1,703.9h1.0v1.0h-1.0zM164.9,708.6h1.0v1.0h-1.0zM173.9,704.1h1.0v1.0h-1.0zM162.1,694.1h1.0v1.0h-1.0zM161.1,701.8h1.0v1.0h-1.0zM184.1,696.2h1.0v1.0h-1.0zM157.1,700.7h1.0v1.0h-1.0zM172.5,699.0h1.0v1.0h-1.0zM148.0,688.5h1.0v1.0h-1.0zM151.7,706.2h1.0v1.0h-1.0zM159.5,695.0h1.0v1.0h-1.0zM176.7,701.9h1.0v1.0h-1.0zM169.8,713.5h1.0v1.0h-1.0zM184.4,698.3h1.0v1.0h-1.0zM178.2,707.7h1.0v1.0h-1.0zM147.6,714.2h1.0v1.0h-1.0zM158.1,702.8h1.0v1.0h-1.0zM162.0,710.0h1.0v1.0h-1.0zM173.4,706.5h1.0v1.0h-1.0zM178.0,706.8h1.0v1.0h-1.0zM180.5,702.0h1.0v1.0h-1.0zM156.8,706.2h1.0v1.0h-1.0zM177.3,708.6h1.0v1.0h-1.0zM169.2,700.7h1.0v1.0h-1.0zM164.2,693.5h1.0v1.0h-1.0zM190.1,711.1h1.0v1.0h-1.0zM157.5,707.1h1.0v1.0h-1.0zM170.1,700.2h1.0v1.0h-1.0zM166.5,710.5h1.0v1.0h-1.0zM182.9,699.2h1.0v1.0h-1.0zM166.6,694.8h1.0v1.0h-1.0zM170.4,701.0h1.0v1.0h-1.0zM166.8,707.3h1.0v1.0h-1.0zM160.4,708.7h1.0v1.0h-1.0zM154.6,695.2h1.0v1.0h-1.0zM169.7,701.2h1.0v1.0h-1.0zM179.6,707.7h1.0v1.0h-1.0zM176.8,695.1h1.0v1.0h-1.0zM178.5,713.5h1.0v1.0h-1.0zM173.0,694.1h1.0v1.0h-1.0zM178.3,697.6h1.0v1.0h-1.0zM150.3,702.6h1.0v1.0h-1.0zM172.3,704.8h1.0v1.0h-1.0zM188.6,693.4h1.0v1.0h-1.0zM177.2,697.7h1.0v1.0h-1.0zM163.9,702.8h1.0v1.0h-1.0zM172.1,711.4h1.0v1.0h-1.0zM167.1,694.3h1.0v1.0h-1.0zM169.4,704.5h1.0v1.0h-1.0zM158.1,697.3h1.0v1.0h-1.0zM193.2,701.5h1.0v1.0h-1.0zM166.4,703.0h1.0v1.0h-1.0zM150.6,708.4h1.0v1.0h-1.0zM175.0,695.1h1.0v1.0h-1.0zM160.7,706.2h1.0v1.0h-1.0zM149.5,699.7h1.0v1.0h-1.0zM161.0,707.1h1.0v1.0h-1.0zM185.7,701.6h1.0v1.0h-1.0zM174.5,696.8h1.0v1.0h-1.0zM149.3,689.8h1.0v1.0h-1.0zM164.6,696.6h1.0v1.0h-1.0zM176.4,698.8h1.0v1.0h-1.0zM179.3,699.7h1.0v1.0h-1.0zM161.9,710.3h1.0v1.0h-1.0zM163.0,697.5h1.0v1.0h-1.0zM173.0,710.7h1.0v1.0h-1.0zM161.5,693.9h1.0v1.0h-1.0zM171.3,696.9h1.0v1.0h-1.0zM162.5,701.9h1.0v1.0h-1.0zM163.9,698.0h1.0v1.0h-1.0zM181.1,701.0h1.0v1.0h-1.0zM171.2,688.0h1.0v1.0h-1.0zM195.7,706.1h1.0v1.0h-1.0zM164.4,697.1h1.0v1.0h-1.0zM155.6,699.1h1.0v1.0h-1.0zM180.4,705.0h1.0v1.0h-1.0zM180.8,697.5h1.0v1.0h-1.0zM169.4,691.7h1.0v1.0h-1.0zM162.7,694.8h1.0v1.0h-1.0zM168.7,692.4h1.0v1.0h-1.0zM175.2,702.8h1.0v1.0h-1.0zM174.5,704.4h1.0v1.0h-1.0zM183.7,706.1h1.0v1.0h-1.0zM181.9,687.4h1.0v1.0h-1.0zM167.6,693.7h1.0v1.0h-1.0zM179.1,706.9h1.0v1.0h-1.0zM172.0,713.0h1.0v1.0h-1.0zM182.4,694.5h1.0v1.0h-1.0zM193.3,702.1h1.0v1.0h-1.0zM168.5,716.1h1.0v1.0h-1.0zM175.4,691.0h1.0v1.0h-1.0zM160.7,712.9h1.0v1.0h-1.0zM185.1,702.6h1.0v1.0h-1.0zM197.1,694.5h1.0v1.0h-1.0zM185.6,701.5h1.0v1.0h-1.0zM64.8,693.0h1.0v1.0h-1.0zM187.8,686.8h1.0v1.0h-1.0zM119.3,702.5h1.0v1.0h-1.0zM189.6,692.5h1.0v1.0h-1.0zM180.0,689.3h1.0v1.0h-1.0zM169.7,714.5h1.0v1.0h-1.0zM117.9,689.6h1.0v1.0h-1.0zM212.9,685.2h1.0v1.0h-1.0zM64.1,685.8h1.0v1.0h-1.0zM134.9,685.3h1.0v1.0h-1.0zM111.8,709.1h1.0v1.0h-1.0zM123.8,703.1h1.0v1.0h-1.0zM127.0,704.1h1.0v1.0h-1.0zM97.9,689.8h1.0v1.0h-1.0zM125.9,688.4h1.0v1.0h-1.0zM152.4,690.7h1.0v1.0h-1.0zM150.6,694.3h1.0v1.0h-1.0zM110.2,714.7h1.0v1.0h-1.0zM193.3,698.5h1.0v1.0h-1.0zM160.1,702.9h1.0v1.0h-1.0zM182.2,716.0h1.0v1.0h-1.0zM169.8,713.3h1.0v1.0h-1.0zM172.8,691.1h1.0v1.0h-1.0zM73.1,713.3h1.0v1.0h-1.0zM168.3,716.1h1.0v1.0h-1.0zM154.7,704.3h1.0v1.0h-1.0zM190.8,692.9h1.0v1.0h-1.0zM74.8,692.4h1.0v1.0h-1.0zM148.5,699.5h1.0v1.0h-1.0zM85.4,693.1h1.0v1.0h-1.0zM114.6,698.4h1.0v1.0h-1.0zM109.5,701.9h1.0v1.0h-1.0zM186.4,666.1h1.0v1.0h-1.0zM143.3,689.1h1.0v1.0h-1.0zM170.6,706.3h1.0v1.0h-1.0zM115.6,668.4h1.0v1.0h-1.0zM98.3,685.9h1.0v1.0h-1.0zM75.7,706.4h1.0v1.0h-1.0zM120.8,697.2h1.0v1.0h-1.0zM146.0,642.5h1.0v1.0h-1.0zM95.2,712.8h1.0v1.0h-1.0zM127.6,705.8h1.0v1.0h-1.0zM72.3,690.8h1.0v1.0h-1.0zM121.8,701.5h1.0v1.0h-1.0zM94.4,713.3h1.0v1.0h-1.0zM69.8,691.4h1.0v1.0h-1.0zM135.3,705.2h1.0v1.0h-1.0zM73.3,700.4h1.0v1.0h-1.0zM177.6,707.1h1.0v1.0h-1.0zM190.3,693.1h1.0v1.0h-1.0zM117.8,715.5h1.0v1.0h-1.0zM81.7,708.6h1.0v1.0h-1.0zM177.4,710.7h1.0v1.0h-1.0zM184.8,695.9h1.0v1.0h-1.0zM212.7,695.2h1.0v1.0h-1.0zM184.5,642.9h1.0v1.0h-1.0zM170.2,687.2h1.0v1.0h-1.0zM155.8,713.9h1.0v1.0h-1.0zM92.5,708.0h1.0v1.0h-1.0zM161.6,660.6h1.0v1.0h-1.0zM151.5,714.9h1.0v1.0h-1.0zM157.9,702.8h1.0v1.0h-1.0z" fill="#9d9d9d"/>
<path d="M84.9,709.3h1.0v1.0h-1.0zM77.9,711.0h1.0v1.0h-1.0zM88.7,704.1h1.0v1.0h-1.0zM67.8,701.1h1.0v1.0h-1.0zM101.1,707.5h1.0v1.0h-1.0zM101.1,704.0h1.0v1.0h-1.0zM96.4,704.1h1.0v1.0h-1.0zM99.7,696.5h1.0v1.0h-1.0zM138.6,703.9h1.0v1.0h-1.0zM108.5,693.2h1.0v1.0h-1.0zM128.6,696.0h1.0v1.0h-1.0zM120.9,704.6h1.0v1.0h-1.0zM160.6,706.4h1.0v1.0h-1.0zM168.8,709.5h1.0v1.0h-1.0zM173.1,703.2h1.0v1.0h-1.0zM192.0,698.3h1.0v1.0h-1.0zM163.7,697.8h1.0v1.0h-1.0zM173.3,701.0h1.0v1.0h-1.0zM172.4,698.8h1.0v1.0h-1.0zM163.4,701.6h1.0v1.0h-1.0zM147.6,714.2h1.0v1.0h-1.0zM151.0,714.9h1.0v1.0h-1.0zM176.4,698.5h1.0v1.0h-1.0zM173.0,691.8h1.0v1.0h-1.0zM177.9,704.3h1.0v1.0h-1.0zM184.5,711.8h1.0v1.0h-1.0zM165.2,698.0h1.0v1.0h-1.0zM171.4,702.1h1.0v1.0h-1.0zM172.8,701.2h1.0v1.0h-1.0zM172.4,712.0h1.0v1.0h-1.0zM169.6,700.9h1.0v1.0h-1.0zM156.6,706.3h1.0v1.0h-1.0zM166.1,701.7h1.0v1.0h-1.0zM171.5,703.2h1.0v1.0h-1.0zM170.9,697.7h1.0v1.0h-1.0zM194.2,691.2h1.0v1.0h-1.0zM169.9,701.2h1.0v1.0h-1.0zM172.9,693.6h1.0v1.0h-1.0zM177.0,708.5h1.0v1.0h-1.0zM167.9,697.7h1.0v1.0h-1.0zM163.3,700.4h1.0v1.0h-1.0zM174.0,708.4h1.0v1.0h-1.0zM181.4,707.1h1.0v1.0h-1.0zM145.8,687.1h1.0v1.0h-1.0zM164.9,698.6h1.0v1.0h-1.0zM183.5,698.0h1.0v1.0h-1.0zM165.5,693.8h1.0v1.0h-1.0zM170.5,696.9h1.0v1.0h-1.0zM172.1,689.7h1.0v1.0h-1.0zM170.9,702.1h1.0v1.0h-1.0zM163.7,698.4h1.0v1.0h-1.0zM161.2,697.1h1.0v1.0h-1.0zM166.7,701.1h1.0v1.0h-1.0zM189.4,706.6h1.0v1.0h-1.0zM150.9,700.7h1.0v1.0h-1.0zM161.2,706.2h1.0v1.0h-1.0zM181.1,711.0h1.0v1.0h-1.0zM171.8,690.2h1.0v1.0h-1.0zM179.8,698.2h1.0v1.0h-1.0zM168.6,703.5h1.0v1.0h-1.0zM168.4,704.9h1.0v1.0h-1.0zM166.1,713.1h1.0v1.0h-1.0zM165.1,701.5h1.0v1.0h-1.0zM190.5,707.6h1.0v1.0h-1.0zM165.8,696.5h1.0v1.0h-1.0zM154.3,700.6h1.0v1.0h-1.0zM168.1,699.5h1.0v1.0h-1.0zM168.6,701.6h1.0v1.0h-1.0zM155.4,690.7h1.0v1.0h-1.0zM176.1,707.3h1.0v1.0h-1.0zM181.5,699.7h1.0v1.0h-1.0zM168.2,699.2h1.0v1.0h-1.0zM161.4,700.9h1.0v1.0h-1.0zM182.0,704.9h1.0v1.0h-1.0zM161.1,710.1h1.0v1.0h-1.0zM171.1,701.8h1.0v1.0h-1.0zM174.0,703.3h1.0v1.0h-1.0zM163.0,708.7h1.0v1.0h-1.0zM168.4,691.0h1.0v1.0h-1.0zM178.3,698.7h1.0v1.0h-1.0zM181.1,695.3h1.0v1.0h-1.0zM168.7,698.7h1.0v1.0h-1.0zM169.7,703.8h1.0v1.0h-1.0z" fill="#5b9be6"/>
<path d="M93.5,709.4h1.0v1.0h-1.0zM89.2,707.4h1.0v1.0h-1.0zM80.9,706.4h1.0v1.0h-1.0zM94.9,704.5h1.0v1.0h-1.0zM93.2,703.9h1.0v1.0h-1.0zM83.7,702.8h1.0v1.0h-1.0zM83.0,698.1h1.0v1.0h-1.0zM83.9,700.7h1.0v1.0h-1.0zM102.5,699.0h1.0v1.0h-1.0zM103.4,709.9h1.0v1.0h-1.0zM102.9,698.6h1.0v1.0h-1.0zM85.5,692.4h1.0v1.0h-1.0zM87.1,701.7h1.0v1.0h-1.0zM95.3,700.3h1.0v1.0h-1.0zM79.9,693.5h1.0v1.0h-1.0zM97.0,709.9h1.0v1.0h-1.0zM90.7,703.4h1.0v1.0h-1.0zM101.0,708.0h1.0v1.0h-1.0zM97.1,705.2h1.0v1.0h-1.0zM79.5,700.4h1.0v1.0h-1.0zM86.9,703.2h1.0v1.0h-1.0zM98.4,701.3h1.0v1.0h-1.0zM97.2,710.2h1.0v1.0h-1.0zM96.2,702.1h1.0v1.0h-1.0zM80.1,695.5h1.0v1.0h-1.0zM99.0,709.6h1.0v1.0h-1.0zM88.4,709.3h1.0v1.0h-1.0zM84.1,706.3h1.0v1.0h-1.0zM86.0,702.4h1.0v1.0h-1.0zM81.0,707.2h1.0v1.0h-1.0zM95.9,699.5h1.0v1.0h-1.0zM103.3,700.4h1.0v1.0h-1.0zM92.7,698.5h1.0v1.0h-1.0zM90.8,692.6h1.0v1.0h-1.0zM93.5,706.2h1.0v1.0h-1.0zM84.1,701.0h1.0v1.0h-1.0zM80.0,704.7h1.0v1.0h-1.0zM90.2,706.6h1.0v1.0h-1.0zM88.6,706.0h1.0v1.0h-1.0zM85.1,697.2h1.0v1.0h-1.0zM84.5,711.4h1.0v1.0h-1.0zM71.6,699.2h1.0v1.0h-1.0zM109.7,697.6h1.0v1.0h-1.0zM122.5,701.8h1.0v1.0h-1.0zM120.1,705.2h1.0v1.0h-1.0zM114.4,705.8h1.0v1.0h-1.0zM123.4,703.6h1.0v1.0h-1.0zM120.8,699.8h1.0v1.0h-1.0zM115.5,705.3h1.0v1.0h-1.0zM109.8,708.4h1.0v1.0h-1.0zM124.6,710.1h1.0v1.0h-1.0zM130.9,699.9h1.0v1.0h-1.0zM156.9,702.9h1.0v1.0h-1.0zM167.2,702.3h1.0v1.0h-1.0zM178.4,703.1h1.0v1.0h-1.0zM168.2,702.0h1.0v1.0h-1.0zM169.0,698.5h1.0v1.0h-1.0zM174.9,699.8h1.0v1.0h-1.0zM164.6,692.6h1.0v1.0h-1.0zM167.7,707.2h1.0v1.0h-1.0zM162.5,694.7h1.0v1.0h-1.0zM180.7,704.4h1.0v1.0h-1.0zM156.4,693.1h1.0v1.0h-1.0zM172.7,702.9h1.0v1.0h-1.0zM157.6,697.0h1.0v1.0h-1.0zM148.4,703.4h1.0v1.0h-1.0zM171.7,703.6h1.0v1.0h-1.0zM176.2,698.9h1.0v1.0h-1.0zM166.9,703.2h1.0v1.0h-1.0zM161.7,705.6h1.0v1.0h-1.0zM178.8,701.4h1.0v1.0h-1.0zM170.0,699.7h1.0v1.0h-1.0zM177.0,696.8h1.0v1.0h-1.0zM180.7,709.1h1.0v1.0h-1.0zM166.6,706.2h1.0v1.0h-1.0zM177.4,699.5h1.0v1.0h-1.0zM171.9,706.8h1.0v1.0h-1.0zM161.2,701.6h1.0v1.0h-1.0zM166.2,697.4h1.0v1.0h-1.0zM169.1,705.5h1.0v1.0h-1.0zM170.2,699.7h1.0v1.0h-1.0zM169.0,707.3h1.0v1.0h-1.0zM175.9,696.5h1.0v1.0h-1.0zM157.1,706.8h1.0v1.0h-1.0zM168.8,699.7h1.0v1.0h-1.0zM168.8,700.1h1.0v1.0h-1.0zM176.0,696.1h1.0v1.0h-1.0zM185.2,703.7h1.0v1.0h-1.0zM163.7,707.2h1.0v1.0h-1.0zM154.3,704.1h1.0v1.0h-1.0zM183.5,697.9h1.0v1.0h-1.0zM173.7,697.7h1.0v1.0h-1.0zM167.8,709.2h1.0v1.0h-1.0zM180.2,700.9h1.0v1.0h-1.0zM175.8,701.9h1.0v1.0h-1.0zM163.6,706.1h1.0v1.0h-1.0zM159.2,700.4h1.0v1.0h-1.0zM170.1,695.4h1.0v1.0h-1.0zM166.9,704.4h1.0v1.0h-1.0zM179.8,706.6h1.0v1.0h-1.0zM163.6,702.9h1.0v1.0h-1.0zM184.5,698.9h1.0v1.0h-1.0zM176.1,700.9h1.0v1.0h-1.0zM172.1,702.4h1.0v1.0h-1.0zM161.7,703.1h1.0v1.0h-1.0zM172.7,703.9h1.0v1.0h-1.0zM168.7,704.2h1.0v1.0h-1.0zM179.3,698.8h1.0v1.0h-1.0zM175.7,699.4h1.0v1.0h-1.0zM168.3,695.7h1.0v1.0h-1.0zM172.6,709.3h1.0v1.0h-1.0zM169.6,698.0h1.0v1.0h-1.0zM165.5,706.9h1.0v1.0h-1.0zM164.9,700.2h1.0v1.0h-1.0zM157.0,697.3h1.0v1.0h-1.0zM168.7,704.4h1.0v1.0h-1.0zM170.0,702.1h1.0v1.0h-1.0zM165.2,695.3h1.0v1.0h-1.0zM179.4,703.5h1.0v1.0h-1.0zM168.0,700.7h1.0v1.0h-1.0zM169.8,704.6h1.0v1.0h-1.0zM177.3,703.6h1.0v1.0h-1.0zM179.0,710.4h1.0v1.0h-1.0zM169.4,694.6h1.0v1.0h-1.0zM177.3,703.4h1.0v1.0h-1.0zM181.4,705.9h1.0v1.0h-1.0zM155.1,697.9h1.0v1.0h-1.0zM163.5,705.1h1.0v1.0h-1.0zM174.4,707.3h1.0v1.0h-1.0zM175.5,708.8h1.0v1.0h-1.0zM176.3,711.3h1.0v1.0h-1.0zM178.4,706.6h1.0v1.0h-1.0zM164.0,705.1h1.0v1.0h-1.0zM178.6,694.6h1.0v1.0h-1.0zM166.5,703.2h1.0v1.0h-1.0zM163.9,702.5h1.0v1.0h-1.0zM163.3,701.8h1.0v1.0h-1.0zM186.7,703.5h1.0v1.0h-1.0zM172.0,702.5h1.0v1.0h-1.0zM177.4,697.9h1.0v1.0h-1.0zM180.5,696.8h1.0v1.0h-1.0zM173.2,695.0h1.0v1.0h-1.0zM160.5,697.1h1.0v1.0h-1.0zM161.8,702.3h1.0v1.0h-1.0zM162.6,696.7h1.0v1.0h-1.0zM169.1,701.4h1.0v1.0h-1.0zM157.1,702.2h1.0v1.0h-1.0zM162.2,691.6h1.0v1.0h-1.0zM175.0,701.3h1.0v1.0h-1.0zM163.5,700.3h1.0v1.0h-1.0zM166.3,707.0h1.0v1.0h-1.0zM177.6,697.9h1.0v1.0h-1.0zM178.3,706.3h1.0v1.0h-1.0zM170.4,697.7h1.0v1.0h-1.0zM164.7,700.4h1.0v1.0h-1.0zM164.3,691.1h1.0v1.0h-1.0zM164.0,698.0h1.0v1.0h-1.0zM165.9,703.5h1.0v1.0h-1.0zM164.9,702.6h1.0v1.0h-1.0zM188.2,692.8h1.0v1.0h-1.0zM178.8,703.8h1.0v1.0h-1.0zM167.7,700.0h1.0v1.0h-1.0zM165.0,699.5h1.0v1.0h-1.0zM179.2,699.2h1.0v1.0h-1.0zM145.4,701.8h1.0v1.0h-1.0zM164.6,699.3h1.0v1.0h-1.0zM168.9,702.9h1.0v1.0h-1.0zM165.3,702.6h1.0v1.0h-1.0zM176.1,687.5h1.0v1.0h-1.0zM175.6,700.8h1.0v1.0h-1.0zM174.5,700.8h1.0v1.0h-1.0zM165.0,700.7h1.0v1.0h-1.0zM173.4,706.1h1.0v1.0h-1.0zM161.9,691.4h1.0v1.0h-1.0zM174.6,701.0h1.0v1.0h-1.0zM177.3,707.6h1.0v1.0h-1.0zM166.3,697.3h1.0v1.0h-1.0zM178.2,698.4h1.0v1.0h-1.0zM183.7,698.4h1.0v1.0h-1.0zM158.4,689.9h1.0v1.0h-1.0zM171.4,705.8h1.0v1.0h-1.0zM157.0,697.3h1.0v1.0h-1.0zM158.4,705.4h1.0v1.0h-1.0zM170.3,701.6h1.0v1.0h-1.0zM161.0,701.6h1.0v1.0h-1.0zM166.0,711.1h1.0v1.0h-1.0zM164.6,697.8h1.0v1.0h-1.0zM162.6,694.6h1.0v1.0h-1.0zM166.0,710.0h1.0v1.0h-1.0zM156.2,712.8h1.0v1.0h-1.0zM176.1,705.8h1.0v1.0h-1.0zM168.2,700.8h1.0v1.0h-1.0zM178.7,705.6h1.0v1.0h-1.0zM182.2,694.1h1.0v1.0h-1.0zM162.5,701.2h1.0v1.0h-1.0zM172.7,700.3h1.0v1.0h-1.0zM179.2,700.1h1.0v1.0h-1.0zM174.3,695.3h1.0v1.0h-1.0zM165.3,700.7h1.0v1.0h-1.0zM173.7,700.5h1.0v1.0h-1.0zM170.3,705.8h1.0v1.0h-1.0zM163.9,697.8h1.0v1.0h-1.0zM171.3,703.5h1.0v1.0h-1.0zM168.9,701.8h1.0v1.0h-1.0zM161.9,693.6h1.0v1.0h-1.0zM185.5,698.6h1.0v1.0h-1.0zM167.6,698.7h1.0v1.0h-1.0zM167.0,703.3h1.0v1.0h-1.0zM175.3,701.8h1.0v1.0h-1.0zM169.3,701.6h1.0v1.0h-1.0zM173.6,699.5h1.0v1.0h-1.0zM158.9,698.1h1.0v1.0h-1.0zM173.3,711.3h1.0v1.0h-1.0zM176.7,693.8h1.0v1.0h-1.0zM173.7,704.4h1.0v1.0h-1.0zM155.2,691.3h1.0v1.0h-1.0zM177.3,707.8h1.0v1.0h-1.0zM178.5,709.1h1.0v1.0h-1.0zM170.8,694.2h1.0v1.0h-1.0zM175.8,703.5h1.0v1.0h-1.0zM163.7,693.1h1.0v1.0h-1.0zM190.7,702.9h1.0v1.0h-1.0zM174.4,698.7h1.0v1.0h-1.0zM161.5,699.2h1.0v1.0h-1.0zM155.2,700.6h1.0v1.0h-1.0zM177.3,706.5h1.0v1.0h-1.0zM172.1,702.2h1.0v1.0h-1.0zM172.2,701.8h1.0v1.0h-1.0zM180.2,706.3h1.0v1.0h-1.0zM167.2,698.9h1.0v1.0h-1.0zM169.2,703.6h1.0v1.0h-1.0zM175.7,704.2h1.0v1.0h-1.0zM168.6,702.5h1.0v1.0h-1.0zM167.1,703.4h1.0v1.0h-1.0zM177.9,696.4h1.0v1.0h-1.0zM173.3,697.1h1.0v1.0h-1.0zM171.5,707.9h1.0v1.0h-1.0zM175.3,705.3h1.0v1.0h-1.0zM167.1,700.2h1.0v1.0h-1.0zM181.2,702.9h1.0v1.0h-1.0zM172.2,706.8h1.0v1.0h-1.0zM169.7,701.7h1.0v1.0h-1.0zM158.5,705.5h1.0v1.0h-1.0zM171.0,701.6h1.0v1.0h-1.0zM158.9,705.9h1.0v1.0h-1.0zM187.6,705.7h1.0v1.0h-1.0zM153.3,706.2h1.0v1.0h-1.0zM171.6,695.3h1.0v1.0h-1.0zM172.2,699.4h1.0v1.0h-1.0zM167.8,700.2h1.0v1.0h-1.0zM163.7,706.7h1.0v1.0h-1.0zM167.3,704.9h1.0v1.0h-1.0zM165.3,707.0h1.0v1.0h-1.0zM162.5,706.2h1.0v1.0h-1.0zM161.8,697.0h1.0v1.0h-1.0zM158.5,696.3h1.0v1.0h-1.0zM172.4,702.8h1.0v1.0h-1.0zM171.5,698.0h1.0v1.0h-1.0zM170.0,712.7h1.0v1.0h-1.0zM169.6,699.8h1.0v1.0h-1.0zM174.7,703.7h1.0v1.0h-1.0zM156.7,703.3h1.0v1.0h-1.0zM181.2,705.2h1.0v1.0h-1.0zM164.2,707.6h1.0v1.0h-1.0zM165.7,700.5h1.0v1.0h-1.0zM172.0,702.1h1.0v1.0h-1.0zM170.4,698.0h1.0v1.0h-1.0zM174.5,699.2h1.0v1.0h-1.0zM164.1,707.0h1.0v1.0h-1.0zM173.8,705.4h1.0v1.0h-1.0zM179.0,695.3h1.0v1.0h-1.0zM152.7,699.9h1.0v1.0h-1.0z" fill="#2233b0"/>
<rect x="66.7" y="716.4" width="1.8" height="1.5" fill="#30a030"/>
<rect x="68.5" y="716.4" width="3.2" height="1.5" fill="#9040c0"/>
<rect x="71.7" y="716.4" width="1.5" height="1.5" fill="#20b0b0"/>
<rect x="73.2" y="716.4" width="3.0" height="1.5" fill="#f0c000"/>
<rect x="76.2" y="716.4" width="1.6" height="1.5" fill="#e07020"/>
<rect x="77.8" y="716.4" width="1.3" height="1.5" fill="#e07020"/>
<rect x="79.2" y="716.4" width="2.9" height="1.5" fill="#2040e0"/>
<rect x="82.1" y="716.4" width="2.7" height="1.5" fill="#e07020"/>
<rect x="84.8" y="716.4" width="2.8" height="1.5" fill="#20b0b0"/>
<rect x="87.6" y="716.4" width="2.8" height="1.5" fill="#20b0b0"/>
<rect x="90.4" y="716.4" width="2.7" height="1.5" fill="#f0c000"/>
<rect x="93.1" y="716.4" width="2.6" height="1.5" fill="#20b0b0"/>
<rect x="95.6" y="716.4" width="3.4" height="1.5" fill="#30a030"/>
<rect x="99.0" y="716.4" width="1.4" height="1.5" fill="#e03030"/>
<rect x="100.5" y="716.4" width="1.5" height="1.5" fill="#2040e0"/>
<rect x="102.0" y="716.4" width="2.5" height="1.5" fill="#30a030"/>
<rect x="104.5" y="716.4" width="2.6" height="1.5" fill="#e03030"/>
<rect x="107.1" y="716.4" width="3.2" height="1.5" fill="#30a030"/>
<rect x="110.2" y="716.4" width="2.1" height="1.5" fill="#9040c0"/>
<rect x="112.3" y="716.4" width="2.8" height="1.5" fill="#e07020"/>
<rect x="115.1" y="716.4" width="3.0" height="1.5" fill="#f0c000"/>
<rect x="118.1" y="716.4" width="1.5" height="1.5" fill="#20b0b0"/>
<rect x="119.6" y="716.4" width="3.3" height="1.5" fill="#9040c0"/>
<rect x="122.9" y="716.4" width="1.7" height="1.5" fill="#20b0b0"/>
<rect x="124.6" y="716.4" width="2.0" height="1.5" fill="#f0c000"/>
<rect x="126.6" y="716.4" width="2.4" height="1.5" fill="#f0c000"/>
<rect x="128.9" y="716.4" width="2.9" height="1.5" fill="#9040c0"/>
<rect x="131.9" y="716.4" width="2.4" height="1.5" fill="#e03030"/>
<rect x="134.3" y="716.4" width="3.1" height="1.5" fill="#30a030"/>
<rect x="137.3" y="716.4" width="3.1" height="1.5" fill="#20b0b0"/>
<rect x="140.4" y="716.4" width="1.5" height="1.5" fill="#e03030"/>
<rect x="141.9" y="716.4" width="2.6" height="1.5" fill="#30a030"/>
<rect x="144.5" y="716.4" width="2.6" height="1.5" fill="#e07020"/>
<rect x="147.1" y="716.4" width="2.3" height="1.5" fill="#e82020"/>
<rect x="149.5" y="716.4" width="1.3" height="1.5" fill="#e82020"/>
<rect x="150.8" y="716.4" width="3.3" height="1.5" fill="#e82020"/>
<rect x="154.0" y="716.4" width="1.2" height="1.5" fill="#e82020"/>
<rect x="155.2" y="716.4" width="3.2" height="1.5" fill="#e82020"/>
<rect x="158.5" y="716.4" width="1.9" height="1.5" fill="#e82020"/>
<rect x="160.4" y="716.4" width="2.0" height="1.5" fill="#e07020"/>
<rect x="162.4" y="716.4" width="3.5" height="1.5" fill="#2040e0"/>
<rect x="165.9" y="716.4" width="2.3" height="1.5" fill="#e82020"/>
<rect x="168.2" y="716.4" width="2.2" height="1.5" fill="#e82020"/>
<rect x="170.4" y="716.4" width="1.6" height="1.5" fill="#e82020"/>
<rect x="172.0" y="716.4" width="2.2" height="1.5" fill="#e82020"/>
<rect x="174.2" y="716.4" width="1.6" height="1.5" fill="#e82020"/>
<rect x="175.8" y="716.4" width="3.4" height="1.5" fill="#e82020"/>
<rect x="179.2" y="716.4" width="3.0" height="1.5" fill="#e82020"/>
<rect x="182.2" y="716.4" width="1.9" height="1.5" fill="#e82020"/>
<rect x="184.1" y="716.4" width="1.6" height="1.5" fill="#e82020"/>
<rect x="185.7" y="716.4" width="3.4" height="1.5" fill="#e82020"/>
<line x1="58.7" y1="630.9" x2="58.7" y2="718.9" stroke="#2a2a2a" stroke-width="1.3" />
<line x1="58.1" y1="718.3" x2="368.5" y2="718.3" stroke="#444" stroke-width="1.0" />
<line x1="56.400000000000006" y1="714.6" x2="58.7" y2="714.6" stroke="#333" stroke-width="0.75" />
<line x1="56.400000000000006" y1="710.8" x2="58.7" y2="710.8" stroke="#333" stroke-width="0.75" />
<line x1="56.400000000000006" y1="707.1" x2="58.7" y2="707.1" stroke="#333" stroke-width="0.75" />
<line x1="56.400000000000006" y1="703.4" x2="58.7" y2="703.4" stroke="#333" stroke-width="0.75" />
<line x1="56.400000000000006" y1="699.6" x2="58.7" y2="699.6" stroke="#333" stroke-width="0.75" />
<line x1="55.1" y1="695.9" x2="58.7" y2="695.9" stroke="#333" stroke-width="0.75" />
<line x1="56.400000000000006" y1="692.2" x2="58.7" y2="692.2" stroke="#333" stroke-width="0.75" />
<line x1="56.400000000000006" y1="688.4" x2="58.7" y2="688.4" stroke="#333" stroke-width="0.75" />
<line x1="56.400000000000006" y1="684.7" x2="58.7" y2="684.7" stroke="#333" stroke-width="0.75" />
<line x1="56.400000000000006" y1="680.9" x2="58.7" y2="680.9" stroke="#333" stroke-width="0.75" />
<line x1="56.400000000000006" y1="677.2" x2="58.7" y2="677.2" stroke="#333" stroke-width="0.75" />
<line x1="55.1" y1="673.5" x2="58.7" y2="673.5" stroke="#333" stroke-width="0.75" />
<line x1="56.400000000000006" y1="669.7" x2="58.7" y2="669.7" stroke="#333" stroke-width="0.75" />
<line x1="56.400000000000006" y1="666.0" x2="58.7" y2="666.0" stroke="#333" stroke-width="0.75" />
<line x1="56.400000000000006" y1="662.3" x2="58.7" y2="662.3" stroke="#333" stroke-width="0.75" />
<line x1="56.400000000000006" y1="658.5" x2="58.7" y2="658.5" stroke="#333" stroke-width="0.75" />
<line x1="56.400000000000006" y1="654.8" x2="58.7" y2="654.8" stroke="#333" stroke-width="0.75" />
<line x1="55.1" y1="651.1" x2="58.7" y2="651.1" stroke="#333" stroke-width="0.75" />
<line x1="56.400000000000006" y1="647.3" x2="58.7" y2="647.3" stroke="#333" stroke-width="0.75" />
<line x1="56.400000000000006" y1="643.6" x2="58.7" y2="643.6" stroke="#333" stroke-width="0.75" />
<line x1="56.400000000000006" y1="639.9" x2="58.7" y2="639.9" stroke="#333" stroke-width="0.75" />
<line x1="56.400000000000006" y1="636.1" x2="58.7" y2="636.1" stroke="#333" stroke-width="0.75" />
<line x1="56.400000000000006" y1="632.4" x2="58.7" y2="632.4" stroke="#333" stroke-width="0.75" />
<line x1="58.7" y1="718.3" x2="58.7" y2="721.9" stroke="#333" stroke-width="0.75" />
<line x1="78.8839393939394" y1="718.3" x2="78.8839393939394" y2="720.3" stroke="#333" stroke-width="0.75" />
<line x1="90.68584415584417" y1="718.3" x2="90.68584415584417" y2="720.3" stroke="#333" stroke-width="0.75" />
<line x1="99.0678787878788" y1="718.3" x2="99.0678787878788" y2="720.3" stroke="#333" stroke-width="0.75" />
<line x1="105.57233766233767" y1="718.3" x2="105.57233766233767" y2="720.3" stroke="#333" stroke-width="0.75" />
<line x1="110.86978354978356" y1="718.3" x2="110.86978354978356" y2="720.3" stroke="#333" stroke-width="0.75" />
<line x1="115.36255411255411" y1="718.3" x2="115.36255411255411" y2="720.3" stroke="#333" stroke-width="0.75" />
<line x1="119.25181818181818" y1="718.3" x2="119.25181818181818" y2="720.3" stroke="#333" stroke-width="0.75" />
<line x1="122.67168831168831" y1="718.3" x2="122.67168831168831" y2="720.3" stroke="#333" stroke-width="0.75" />
<line x1="125.75627705627706" y1="718.3" x2="125.75627705627706" y2="721.9" stroke="#333" stroke-width="0.75" />
<line x1="145.94021645021644" y1="718.3" x2="145.94021645021644" y2="720.3" stroke="#333" stroke-width="0.75" />
<line x1="157.74212121212122" y1="718.3" x2="157.74212121212122" y2="720.3" stroke="#333" stroke-width="0.75" />
<line x1="166.12415584415584" y1="718.3" x2="166.12415584415584" y2="720.3" stroke="#333" stroke-width="0.75" />
<line x1="172.6286147186147" y1="718.3" x2="172.6286147186147" y2="720.3" stroke="#333" stroke-width="0.75" />
<line x1="177.92606060606062" y1="718.3" x2="177.92606060606062" y2="720.3" stroke="#333" stroke-width="0.75" />
<line x1="182.41883116883116" y1="718.3" x2="182.41883116883116" y2="720.3" stroke="#333" stroke-width="0.75" />
<line x1="186.30809523809523" y1="718.3" x2="186.30809523809523" y2="720.3" stroke="#333" stroke-width="0.75" />
<line x1="189.72796536796534" y1="718.3" x2="189.72796536796534" y2="720.3" stroke="#333" stroke-width="0.75" />
<line x1="192.8125541125541" y1="718.3" x2="192.8125541125541" y2="721.9" stroke="#333" stroke-width="0.75" />
<line x1="212.99649350649355" y1="718.3" x2="212.99649350649355" y2="720.3" stroke="#333" stroke-width="0.75" />
<line x1="224.79839826839827" y1="718.3" x2="224.79839826839827" y2="720.3" stroke="#333" stroke-width="0.75" />
<line x1="233.1804329004329" y1="718.3" x2="233.1804329004329" y2="720.3" stroke="#333" stroke-width="0.75" />
<line x1="239.68489177489175" y1="718.3" x2="239.68489177489175" y2="720.3" stroke="#333" stroke-width="0.75" />
<line x1="244.98233766233767" y1="718.3" x2="244.98233766233767" y2="720.3" stroke="#333" stroke-width="0.75" />
<line x1="249.47510822510822" y1="718.3" x2="249.47510822510822" y2="720.3" stroke="#333" stroke-width="0.75" />
<line x1="253.3643722943723" y1="718.3" x2="253.3643722943723" y2="720.3" stroke="#333" stroke-width="0.75" />
<line x1="256.7842424242424" y1="718.3" x2="256.7842424242424" y2="720.3" stroke="#333" stroke-width="0.75" />
<line x1="259.86883116883115" y1="718.3" x2="259.86883116883115" y2="721.9" stroke="#333" stroke-width="0.75" />
<line x1="280.0527705627706" y1="718.3" x2="280.0527705627706" y2="720.3" stroke="#333" stroke-width="0.75" />
<line x1="291.8546753246753" y1="718.3" x2="291.8546753246753" y2="720.3" stroke="#333" stroke-width="0.75" />
<line x1="300.23670995670994" y1="718.3" x2="300.23670995670994" y2="720.3" stroke="#333" stroke-width="0.75" />
<line x1="306.7411688311688" y1="718.3" x2="306.7411688311688" y2="720.3" stroke="#333" stroke-width="0.75" />
<line x1="312.0386147186147" y1="718.3" x2="312.0386147186147" y2="720.3" stroke="#333" stroke-width="0.75" />
<line x1="316.53138528138527" y1="718.3" x2="316.53138528138527" y2="720.3" stroke="#333" stroke-width="0.75" />
<line x1="320.42064935064934" y1="718.3" x2="320.42064935064934" y2="720.3" stroke="#333" stroke-width="0.75" />
<line x1="323.84051948051945" y1="718.3" x2="323.84051948051945" y2="720.3" stroke="#333" stroke-width="0.75" />
<line x1="146.8" y1="630.4" x2="146.8" y2="718.3" stroke="#ff4646" stroke-width="1.1" />
<path d="M58.7,652.8 H150.5 V684.6" fill="none" stroke="#ff4646" stroke-width="1.1"/>
<line x1="58.7" y1="684.6" x2="368.5" y2="684.6" stroke="#ff4646" stroke-width="1.1" />
<path d="M148.8,684.6 V717.6999999999999 H259.1 V684.6" fill="none" stroke="#ff4646" stroke-width="1.1"/>
<circle cx="58.7" cy="652.8" r="1.3" fill="#fff" stroke="#ff4646" stroke-width="0.7"/>
<circle cx="150.5" cy="652.8" r="1.3" fill="#fff" stroke="#ff4646" stroke-width="0.7"/>
<circle cx="58.7" cy="684.6" r="1.3" fill="#fff" stroke="#ff4646" stroke-width="0.7"/>
<circle cx="150.5" cy="684.6" r="1.3" fill="#fff" stroke="#ff4646" stroke-width="0.7"/>
<circle cx="259.1" cy="684.6" r="1.3" fill="#fff" stroke="#ff4646" stroke-width="0.7"/>
<circle cx="259.1" cy="717.6999999999999" r="1.3" fill="#fff" stroke="#ff4646" stroke-width="0.7"/>
<circle cx="148.8" cy="717.6999999999999" r="1.3" fill="#fff" stroke="#ff4646" stroke-width="0.7"/>
<circle cx="148.8" cy="684.6" r="1.3" fill="#fff" stroke="#ff4646" stroke-width="0.7"/>
<text x="100.60000000000001" y="649.5" font-family="'Liberation Sans', Arial, sans-serif" font-size="7.8" fill="#ff3030" font-weight="bold" >3</text>
<text x="201.89999999999998" y="682.0" font-family="'Liberation Sans', Arial, sans-serif" font-size="7.4" fill="#ff3030" font-weight="bold" >4</text>
<text x="60.900000000000006" y="632.9" font-family="'Liberation Sans', Arial, sans-serif" font-size="6.8" fill="#ff3030" >A 0.2% 0.7/µl</text>
<text x="328.2" y="632.8" font-family="'Liberation Sans', Arial, sans-serif" font-size="6.8" fill="#ff3030" >B 0.0% 0.1/µl</text>
<text x="60.900000000000006" y="714.8" font-family="'Liberation Sans', Arial, sans-serif" font-size="6.8" fill="#ff3030" >C 29.3% 136.4/µl</text>
<text x="328.2" y="714.3" font-family="'Liberation Sans', Arial, sans-serif" font-size="6.8" fill="#ff3030" >D 70.5% 327.9/µl</text>
<text x="368.5" y="720.3" font-family="'Liberation Sans', Arial, sans-serif" font-size="6.8" fill="#3a3a3a" >10^6.62</text>
<text x="47.7" y="722.8" font-family="'Liberation Sans', Arial, sans-serif" font-size="6.8" fill="#3a3a3a" >100</text>
<text transform="translate(52.400000000000006,714.5) rotate(-90)" font-family="'Liberation Sans', Arial, sans-serif" font-size="6.8" fill="#3a3a3a" >100</text>
<text transform="translate(52.400000000000006,642.6999999999999) rotate(-90)" font-family="'Liberation Sans', Arial, sans-serif" font-size="6.8" fill="#3a3a3a" >10^6.62</text>
<text transform="translate(52.400000000000006,676.0) rotate(-90)" font-family="'Liberation Sans', Arial, sans-serif" font-size="6.8" fill="#ff3030" >638Red</text>
<text transform="translate(378.0,707.0) rotate(-90)" font-family="'Liberation Sans', Arial, sans-serif" font-size="6.8" fill="#ff3030" >488Grn</text>
<text x="47.9" y="728.6" font-family="'Liberation Sans', Arial, sans-serif" font-size="6.8" fill="#ff3030" textLength="205" lengthAdjust="spacingAndGlyphs" >A=0.2%,0.7/ul B=0.0%,0.1/ul C=29.3%,136.4/ul D=70.5%,327.9/ul</text>
<text x="186.6" y="650.0" font-family="'Liberation Serif', 'Times New Roman', serif" font-size="11.9" fill="#000" font-weight="bold" textLength="147" lengthAdjust="spacingAndGlyphs" >rNC8-LP3065-gD challenge</text>
<line x1="437.6" y1="562.6" x2="437.6" y2="695.4" stroke="#000" stroke-width="1.8" />
<line x1="436.7" y1="694.6" x2="538.5" y2="694.6" stroke="#000" stroke-width="1.8" />
<line x1="432" y1="694.6" x2="437.6" y2="694.6" stroke="#000" stroke-width="1.6" />
<text x="430.0" y="698.0" font-family="'Liberation Sans', Arial, sans-serif" font-size="9.6" fill="#000" font-weight="bold" text-anchor="end" textLength="6.3" lengthAdjust="spacingAndGlyphs" >0</text>
<line x1="432" y1="668.33" x2="437.6" y2="668.33" stroke="#000" stroke-width="1.6" />
<text x="430.0" y="671.73" font-family="'Liberation Sans', Arial, sans-serif" font-size="9.6" fill="#000" font-weight="bold" text-anchor="end" textLength="12.6" lengthAdjust="spacingAndGlyphs" >10</text>
<line x1="432" y1="642.0600000000001" x2="437.6" y2="642.0600000000001" stroke="#000" stroke-width="1.6" />
<text x="430.0" y="645.46" font-family="'Liberation Sans', Arial, sans-serif" font-size="9.6" fill="#000" font-weight="bold" text-anchor="end" textLength="12.6" lengthAdjust="spacingAndGlyphs" >20</text>
<line x1="432" y1="615.7900000000001" x2="437.6" y2="615.7900000000001" stroke="#000" stroke-width="1.6" />
<text x="430.0" y="619.19" font-family="'Liberation Sans', Arial, sans-serif" font-size="9.6" fill="#000" font-weight="bold" text-anchor="end" textLength="12.6" lengthAdjust="spacingAndGlyphs" >30</text>
<line x1="432" y1="589.52" x2="437.6" y2="589.52" stroke="#000" stroke-width="1.6" />
<text x="430.0" y="592.92" font-family="'Liberation Sans', Arial, sans-serif" font-size="9.6" fill="#000" font-weight="bold" text-anchor="end" textLength="12.6" lengthAdjust="spacingAndGlyphs" >40</text>
<line x1="432" y1="563.25" x2="437.6" y2="563.25" stroke="#000" stroke-width="1.6" />
<text x="430.0" y="566.65" font-family="'Liberation Sans', Arial, sans-serif" font-size="9.6" fill="#000" font-weight="bold" text-anchor="end" textLength="12.6" lengthAdjust="spacingAndGlyphs" >50</text>
<line x1="457.4" y1="694.6" x2="457.4" y2="699.6" stroke="#000" stroke-width="1.6" />
<line x1="487.6" y1="694.6" x2="487.6" y2="699.6" stroke="#000" stroke-width="1.6" />
<line x1="517.6" y1="694.6" x2="517.6" y2="699.6" stroke="#000" stroke-width="1.6" />
<path d="M448.2,694.6 V654.7 H467 V694.6" fill="#fff" stroke="#000" stroke-width="2"/>
<path d="M477.8,694.6 V650.4 H497 V694.6" fill="#fff" stroke="#000" stroke-width="2"/>
<path d="M507.8,694.6 V618.4 H526.8 V694.6" fill="#fff" stroke="#000" stroke-width="2"/>
<line x1="457.4" y1="646.3" x2="457.4" y2="660.4" stroke="#1ef01e" stroke-width="1" />
<line x1="453.8" y1="646.3" x2="461" y2="646.3" stroke="#1ef01e" stroke-width="1" />
<path d="M453.4,644.10 L456.00,648.60 L450.80,648.60 Z" fill="#1ef01e"/>
<path d="M461.4,643.90 L464.00,648.40 L458.80,648.40 Z" fill="#1ef01e"/>
<path d="M452.8,657.90 L455.40,662.40 L450.20,662.40 Z" fill="#1ef01e"/>
<path d="M457.4,657.90 L460.00,662.40 L454.80,662.40 Z" fill="#1ef01e"/>
<path d="M462,657.90 L464.60,662.40 L459.40,662.40 Z" fill="#1ef01e"/>
<rect x="478.6" y="646.6999999999999" width="4.4" height="4.4" fill="#f01c82"/>
<rect x="482.40000000000003" y="646.3" width="4.4" height="4.4" fill="#f01c82"/>
<rect x="486.0" y="646.3" width="4.4" height="4.4" fill="#f01c82"/>
<rect x="489.6" y="646.4" width="4.4" height="4.4" fill="#f01c82"/>
<rect x="492.40000000000003" y="646.8" width="4.4" height="4.4" fill="#f01c82"/>
<line x1="517.5" y1="593" x2="517.5" y2="642.5" stroke="#1010ff" stroke-width="1" />
<line x1="513.6" y1="593" x2="522.4" y2="593" stroke="#1010ff" stroke-width="1" />
<line x1="513.6" y1="642.5" x2="522.4" y2="642.5" stroke="#1010ff" stroke-width="1" />
<circle cx="517.5" cy="593" r="2.4" fill="#1010ff"/>
<circle cx="517.5" cy="600.9" r="2.4" fill="#1010ff"/>
<circle cx="517.5" cy="609.6" r="2.4" fill="#1010ff"/>
<circle cx="517.5" cy="632.9" r="2.4" fill="#1010ff"/>
<circle cx="517.5" cy="651.8" r="2.4" fill="#1010ff"/>
<path d="M454.6,628.5 H486.6 M470.9,628.5 V578.5 H517.4 V586.3" fill="none" stroke="#000" stroke-width="1.6"/>
<text x="494.45" y="576.8" font-family="'Liberation Serif', 'Times New Roman', serif" font-size="16" fill="#000" font-weight="bold" text-anchor="middle" textLength="15.8" lengthAdjust="spacingAndGlyphs" stroke="#000" stroke-width="0.4">* *</text>
<text transform="translate(410.2,665.4) rotate(-90)" font-family="'Liberation Serif', 'Times New Roman', serif" font-size="11.5" fill="#000" font-weight="bold" >CD3<tspan font-size="7.2" dy="-4.3">+</tspan><tspan dy="4.3">CD4</tspan><tspan font-size="7.2" dy="-4.3">+</tspan><tspan dy="4.3"> (%)</tspan></text>
<text transform="translate(460.4,711.2) rotate(-41)" font-family="'Liberation Sans', Arial, sans-serif" font-size="10.4" fill="#000" font-weight="bold" text-anchor="end" >rNC8-pMG36e-challenge</text>
<text transform="translate(490.4,711.2) rotate(-41)" font-family="'Liberation Sans', Arial, sans-serif" font-size="10.4" fill="#000" font-weight="bold" text-anchor="end" >PBS-challenge</text>
<text transform="translate(520.4,711.2) rotate(-41)" font-family="'Liberation Sans', Arial, sans-serif" font-size="10.4" fill="#000" font-weight="bold" text-anchor="end" >rNC8-LP3065-gD challenge</text>
</svg></body></html>
